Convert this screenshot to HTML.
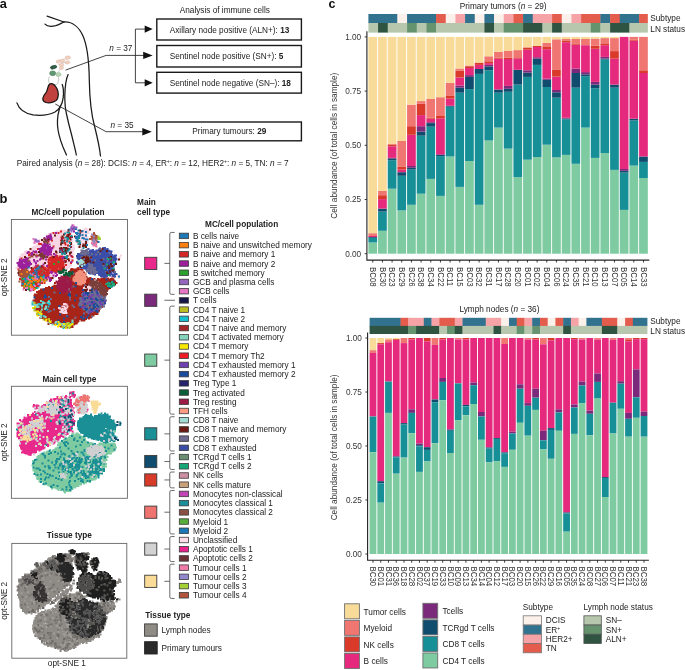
<!DOCTYPE html>
<html><head><meta charset="utf-8"><title>Figure</title>
<style>
html,body{margin:0;padding:0;background:#fff;width:685px;height:670px;overflow:hidden}
svg{display:block}
text{font-family:"Liberation Sans",Arial,Helvetica,sans-serif}
</style></head><body>
<svg width="685" height="670" viewBox="0 0 685 670" fill="#222" style="font-family:'Liberation Sans',Arial,sans-serif">
<text transform="translate(-0.30 7.70) scale(0.9524 1)" font-size="13.44" font-weight="bold" fill="#111">a</text>
<text transform="translate(-0.60 203.00) scale(0.9524 1)" font-size="13.65" font-weight="bold" fill="#111">b</text>
<text transform="translate(328.60 7.60) scale(0.9524 1)" font-size="13.12" font-weight="bold" fill="#111">c</text>
<path d="M47.1,16.1 L64,22" fill="none" stroke="#1a1a1a" stroke-width="1.25" stroke-linecap="round"/>
<path d="M45,24.1 C47,26.5 51,26.7 55.7,25.7 C59,24.8 61.5,23 64,22" fill="none" stroke="#1a1a1a" stroke-width="1.25" stroke-linecap="round"/>
<path d="M64,22 C72,21.5 79,27 83,36 C87,45 89,60 89.3,80 C89.6,98 91.5,115 94.5,126 C97,136 99.5,146 100.5,156" fill="none" stroke="#1a1a1a" stroke-width="1.25" stroke-linecap="round"/>
<path d="M16.9,102.9 C19,109 25,113.5 33,114.9 C41,116 49,115 55,112 C60,109 62.5,103 63.2,97.6 C63.8,92 63.4,87.5 62.2,84.5" fill="none" stroke="#1a1a1a" stroke-width="1.25" stroke-linecap="round"/>
<path d="M60.5,106 C58,112 57.2,118 57.5,125 C58,134 61,142 63,147 C64.5,150.5 65.5,152.5 66.5,155" fill="none" stroke="#1a1a1a" stroke-width="1.25" stroke-linecap="round"/>
<path d="M68.1,74.6 C66,79 65,88 64.8,96 C64.8,104 65.5,110 66.5,114 C68,121 69.5,127 70.6,131 C72.5,138 74,145 75.5,151 L76.3,155" fill="none" stroke="#1a1a1a" stroke-width="1.25" stroke-linecap="round"/>
<path d="M52,70 L55,66 M58.5,72 L61,68 M61,66 L64,60 M62,63 L67,62 M58,64 L61.4,64.9" stroke="#bbb" stroke-width="0.6" fill="none"/>
<path d="M49.5,76.5 C48.3,78.5 48.2,81.5 49.5,83.5 C51,85 54.5,85.2 56.7,84.4 C58.5,83 59,80 58.5,77.5 C58,76 57.5,75.5 57,75.2" fill="#fff" stroke="#999" stroke-width="0.55"/>
<ellipse cx="67.7" cy="57.7" rx="2.8" ry="1.7" transform="rotate(-10 67.7 57.7)" fill="#f3d3c2" stroke="#d8b3a3" stroke-width="0.5"/>
<ellipse cx="58.6" cy="61.4" rx="2.6" ry="1.5" transform="rotate(-15 58.6 61.4)" fill="#f3d3c2" stroke="#d8b3a3" stroke-width="0.5"/>
<ellipse cx="62.4" cy="60.6" rx="2.5" ry="1.5" transform="rotate(-15 62.4 60.6)" fill="#f3d3c2" stroke="#d8b3a3" stroke-width="0.5"/>
<ellipse cx="67.4" cy="62.5" rx="2.5" ry="1.5" transform="rotate(-10 67.4 62.5)" fill="#f3d3c2" stroke="#d8b3a3" stroke-width="0.5"/>
<ellipse cx="61.4" cy="64.9" rx="2.3" ry="1.6" transform="rotate(-10 61.4 64.9)" fill="#f3d3c2" stroke="#d8b3a3" stroke-width="0.5"/>
<ellipse cx="61.4" cy="67.8" rx="2.1" ry="1.6" transform="rotate(-10 61.4 67.8)" fill="#f3d3c2" stroke="#d8b3a3" stroke-width="0.5"/>
<ellipse cx="53.6" cy="67.2" rx="3.3" ry="1.7" transform="rotate(-15 53.6 67.2)" fill="#2d5e45" stroke="#1d3d2d" stroke-width="0.5"/>
<ellipse cx="52.7" cy="73.3" rx="3.0" ry="2.4" fill="#5f9a72" stroke="#3d6e50" stroke-width="0.5"/>
<ellipse cx="58.4" cy="74.4" rx="2.6" ry="2.0" fill="#b8d6b6" stroke="#8fb08f" stroke-width="0.5"/>
<path d="M51.7,83.7 C53.5,84 55.5,86 57,88.7 C58.3,91.5 58.4,96 57.5,98.8 C56.7,100.6 55.5,101.3 53.5,101.9 C51.5,102.6 48.5,103.2 45.9,102.5 C43.5,101.8 42.6,100.3 42.9,98.2 C43.2,96.3 44.5,94.2 46.2,92.3 C47.2,91 47.5,88.5 48.2,86.5 C48.8,84.8 50.2,83.5 51.7,83.7 Z" fill="#c0413d" stroke="#151515" stroke-width="1.25"/>
<path d="M65.6,70.1 L106.1,55.4 L144,55.4" stroke="#222" stroke-width="0.85" fill="none"/>
<path d="M55.3,104 L106.1,131.7 L143,131.7" stroke="#222" stroke-width="0.85" fill="none"/>
<path d="M145.5,29.1 L135.4,29.1 L135.4,82.8 L145.5,82.8" stroke="#222" stroke-width="0.85" fill="none"/>
<path d="M152.7,29.1 L144.7,25.5 L144.7,32.7 Z" fill="#111"/>
<path d="M152.7,55.4 L143.2,51.8 L143.2,59.0 Z" fill="#111"/>
<path d="M152.7,82.8 L144.7,79.2 L144.7,86.39999999999999 Z" fill="#111"/>
<path d="M151.8,131.7 L142.3,127.89999999999999 L142.3,135.5 Z" fill="#111"/>
<text transform="translate(109.30 50.60) scale(0.9524 1)" font-size="8.66"><tspan font-style="italic">n</tspan> = 37</text>
<text transform="translate(110.50 127.70) scale(0.9524 1)" font-size="8.66"><tspan font-style="italic">n</tspan> = 35</text>
<text transform="translate(224.80 13.40) scale(0.9524 1)" font-size="8.66" text-anchor="middle">Analysis of immune cells</text>
<rect x="156.8" y="19.0" width="144.6" height="21.0" fill="#fff" stroke="#1a1a1a" stroke-width="1.4"/>
<text transform="translate(169.70 32.50) scale(0.9524 1)" font-size="8.66">Axillary node positive (ALN+): <tspan font-weight="bold">13</tspan></text>
<rect x="156.8" y="45.5" width="144.6" height="21.5" fill="#fff" stroke="#1a1a1a" stroke-width="1.4"/>
<text transform="translate(169.70 59.25) scale(0.9524 1)" font-size="8.66">Sentinel node positive (SN+): <tspan font-weight="bold">5</tspan></text>
<rect x="156.8" y="72.3" width="144.6" height="20.8" fill="#fff" stroke="#1a1a1a" stroke-width="1.4"/>
<text transform="translate(169.70 85.70) scale(0.9524 1)" font-size="8.66">Sentinel node negative (SN–): <tspan font-weight="bold">18</tspan></text>
<rect x="156.8" y="122.0" width="144.6" height="18.8" fill="#fff" stroke="#1a1a1a" stroke-width="1.4"/>
<text transform="translate(229.30 134.40) scale(0.9524 1)" font-size="8.66" text-anchor="middle">Primary tumours: <tspan font-weight="bold">29</tspan></text>
<text transform="translate(16.80 165.70) scale(0.9524 1)" font-size="8.66">Paired analysis (<tspan font-style="italic">n</tspan> = 28): DCIS: <tspan font-style="italic">n</tspan> = 4, ER<tspan font-size="5.25" dy="-3">+</tspan><tspan dy="3">: </tspan><tspan font-style="italic">n</tspan> = 12, HER2<tspan font-size="5.25" dy="-3">+</tspan><tspan dy="3">: </tspan><tspan font-style="italic">n</tspan> = 5, TN: <tspan font-style="italic">n</tspan> = 7</text>
<text transform="translate(137.10 205.10) scale(0.9524 1)" font-size="8.66" font-weight="bold">Main</text>
<text transform="translate(137.10 215.30) scale(0.9524 1)" font-size="8.66" font-weight="bold">cell type</text>
<text transform="translate(241.60 226.80) scale(0.9524 1)" font-size="8.66" font-weight="bold" text-anchor="middle">MC/cell population</text>
<rect x="179.3" y="233.15" width="9.2" height="5.50" fill="#1f77b4" stroke="#3a3a3a" stroke-width="0.8"/>
<text transform="translate(192.90 238.85) scale(0.9524 1)" font-size="8.66">B cells naive</text>
<rect x="179.3" y="242.37" width="9.2" height="5.50" fill="#ff7f0e" stroke="#3a3a3a" stroke-width="0.8"/>
<text transform="translate(192.90 248.06) scale(0.9524 1)" font-size="8.66">B naive and unswitched memory</text>
<rect x="179.3" y="251.58" width="9.2" height="5.50" fill="#d62728" stroke="#3a3a3a" stroke-width="0.8"/>
<text transform="translate(192.90 257.28) scale(0.9524 1)" font-size="8.66">B naive and memory 1</text>
<rect x="179.3" y="260.79" width="9.2" height="5.50" fill="#9c1f9c" stroke="#3a3a3a" stroke-width="0.8"/>
<text transform="translate(192.90 266.50) scale(0.9524 1)" font-size="8.66">B naive and memory 2</text>
<rect x="179.3" y="270.01" width="9.2" height="5.50" fill="#2ca02c" stroke="#3a3a3a" stroke-width="0.8"/>
<text transform="translate(192.90 275.71) scale(0.9524 1)" font-size="8.66">B switched memory</text>
<rect x="179.3" y="279.22" width="9.2" height="5.50" fill="#9467bd" stroke="#3a3a3a" stroke-width="0.8"/>
<text transform="translate(192.90 284.93) scale(0.9524 1)" font-size="8.66">GCB and plasma cells</text>
<rect x="179.3" y="288.44" width="9.2" height="5.50" fill="#e377c2" stroke="#3a3a3a" stroke-width="0.8"/>
<text transform="translate(192.90 294.14) scale(0.9524 1)" font-size="8.66">GCB cells</text>
<rect x="179.3" y="297.65" width="9.2" height="5.50" fill="#161646" stroke="#3a3a3a" stroke-width="0.8"/>
<text transform="translate(192.90 303.36) scale(0.9524 1)" font-size="8.66">T cells</text>
<rect x="179.3" y="306.87" width="9.2" height="5.50" fill="#bcbd22" stroke="#3a3a3a" stroke-width="0.8"/>
<text transform="translate(192.90 312.57) scale(0.9524 1)" font-size="8.66">CD4 T naive 1</text>
<rect x="179.3" y="316.08" width="9.2" height="5.50" fill="#17becf" stroke="#3a3a3a" stroke-width="0.8"/>
<text transform="translate(192.90 321.79) scale(0.9524 1)" font-size="8.66">CD4 T naive 2</text>
<rect x="179.3" y="325.30" width="9.2" height="5.50" fill="#a3262a" stroke="#3a3a3a" stroke-width="0.8"/>
<text transform="translate(192.90 331.00) scale(0.9524 1)" font-size="8.66">CD4 T naive and memory</text>
<rect x="179.3" y="334.51" width="9.2" height="5.50" fill="#86d3bd" stroke="#3a3a3a" stroke-width="0.8"/>
<text transform="translate(192.90 340.22) scale(0.9524 1)" font-size="8.66">CD4 T activated memory</text>
<rect x="179.3" y="343.73" width="9.2" height="5.50" fill="#f8e800" stroke="#3a3a3a" stroke-width="0.8"/>
<text transform="translate(192.90 349.43) scale(0.9524 1)" font-size="8.66">CD4 T memory</text>
<rect x="179.3" y="352.94" width="9.2" height="5.50" fill="#ee1d23" stroke="#3a3a3a" stroke-width="0.8"/>
<text transform="translate(192.90 358.65) scale(0.9524 1)" font-size="8.66">CD4 T memory Th2</text>
<rect x="179.3" y="362.16" width="9.2" height="5.50" fill="#6d3fb0" stroke="#3a3a3a" stroke-width="0.8"/>
<text transform="translate(192.90 367.86) scale(0.9524 1)" font-size="8.66">CD4 T exhausted memory 1</text>
<rect x="179.3" y="371.38" width="9.2" height="5.50" fill="#1b4c9c" stroke="#3a3a3a" stroke-width="0.8"/>
<text transform="translate(192.90 377.08) scale(0.9524 1)" font-size="8.66">CD4 T exhausted memory 2</text>
<rect x="179.3" y="380.59" width="9.2" height="5.50" fill="#25236b" stroke="#3a3a3a" stroke-width="0.8"/>
<text transform="translate(192.90 386.29) scale(0.9524 1)" font-size="8.66">Treg Type 1</text>
<rect x="179.3" y="389.80" width="9.2" height="5.50" fill="#0b5e3a" stroke="#3a3a3a" stroke-width="0.8"/>
<text transform="translate(192.90 395.50) scale(0.9524 1)" font-size="8.66">Treg activated</text>
<rect x="179.3" y="399.02" width="9.2" height="5.50" fill="#9c1a48" stroke="#3a3a3a" stroke-width="0.8"/>
<text transform="translate(192.90 404.72) scale(0.9524 1)" font-size="8.66">Treg resting</text>
<rect x="179.3" y="408.24" width="9.2" height="5.50" fill="#fb9a82" stroke="#3a3a3a" stroke-width="0.8"/>
<text transform="translate(192.90 413.94) scale(0.9524 1)" font-size="8.66">TFH cells</text>
<rect x="179.3" y="417.45" width="9.2" height="5.50" fill="#a2dcd2" stroke="#3a3a3a" stroke-width="0.8"/>
<text transform="translate(192.90 423.15) scale(0.9524 1)" font-size="8.66">CD8 T naive</text>
<rect x="179.3" y="426.66" width="9.2" height="5.50" fill="#6b1a12" stroke="#3a3a3a" stroke-width="0.8"/>
<text transform="translate(192.90 432.37) scale(0.9524 1)" font-size="8.66">CD8 T naive and memory</text>
<rect x="179.3" y="435.88" width="9.2" height="5.50" fill="#6d6b8f" stroke="#3a3a3a" stroke-width="0.8"/>
<text transform="translate(192.90 441.58) scale(0.9524 1)" font-size="8.66">CD8 T memory</text>
<rect x="179.3" y="445.09" width="9.2" height="5.50" fill="#3a4ea8" stroke="#3a3a3a" stroke-width="0.8"/>
<text transform="translate(192.90 450.80) scale(0.9524 1)" font-size="8.66">CD8 T exhausted</text>
<rect x="179.3" y="454.31" width="9.2" height="5.50" fill="#6b8e70" stroke="#3a3a3a" stroke-width="0.8"/>
<text transform="translate(192.90 460.01) scale(0.9524 1)" font-size="8.66">TCRgd T cells 1</text>
<rect x="179.3" y="463.52" width="9.2" height="5.50" fill="#16a779" stroke="#3a3a3a" stroke-width="0.8"/>
<text transform="translate(192.90 469.23) scale(0.9524 1)" font-size="8.66">TCRgd T cells 2</text>
<rect x="179.3" y="472.74" width="9.2" height="5.50" fill="#cc8ea2" stroke="#3a3a3a" stroke-width="0.8"/>
<text transform="translate(192.90 478.44) scale(0.9524 1)" font-size="8.66">NK cells</text>
<rect x="179.3" y="481.95" width="9.2" height="5.50" fill="#c9a07a" stroke="#3a3a3a" stroke-width="0.8"/>
<text transform="translate(192.90 487.66) scale(0.9524 1)" font-size="8.66">NK cells mature</text>
<rect x="179.3" y="491.17" width="9.2" height="5.50" fill="#c145b4" stroke="#3a3a3a" stroke-width="0.8"/>
<text transform="translate(192.90 496.87) scale(0.9524 1)" font-size="8.66">Monocytes non-classical</text>
<rect x="179.3" y="500.38" width="9.2" height="5.50" fill="#1a8f9a" stroke="#3a3a3a" stroke-width="0.8"/>
<text transform="translate(192.90 506.09) scale(0.9524 1)" font-size="8.66">Monocytes classical 1</text>
<rect x="179.3" y="509.60" width="9.2" height="5.50" fill="#8b5045" stroke="#3a3a3a" stroke-width="0.8"/>
<text transform="translate(192.90 515.30) scale(0.9524 1)" font-size="8.66">Monocytes classical 2</text>
<rect x="179.3" y="518.81" width="9.2" height="5.50" fill="#58ac3c" stroke="#3a3a3a" stroke-width="0.8"/>
<text transform="translate(192.90 524.51) scale(0.9524 1)" font-size="8.66">Myeloid 1</text>
<rect x="179.3" y="528.03" width="9.2" height="5.50" fill="#1a78b6" stroke="#3a3a3a" stroke-width="0.8"/>
<text transform="translate(192.90 533.73) scale(0.9524 1)" font-size="8.66">Myeloid 2</text>
<rect x="179.3" y="537.25" width="9.2" height="5.50" fill="#fcdde8" stroke="#3a3a3a" stroke-width="0.8"/>
<text transform="translate(192.90 542.95) scale(0.9524 1)" font-size="8.66">Unclassified</text>
<rect x="179.3" y="546.46" width="9.2" height="5.50" fill="#e8228a" stroke="#3a3a3a" stroke-width="0.8"/>
<text transform="translate(192.90 552.16) scale(0.9524 1)" font-size="8.66">Apoptotic cells 1</text>
<rect x="179.3" y="555.67" width="9.2" height="5.50" fill="#6b3233" stroke="#3a3a3a" stroke-width="0.8"/>
<text transform="translate(192.90 561.38) scale(0.9524 1)" font-size="8.66">Apoptotic cells 2</text>
<rect x="179.3" y="564.89" width="9.2" height="5.50" fill="#f17ba8" stroke="#3a3a3a" stroke-width="0.8"/>
<text transform="translate(192.90 570.59) scale(0.9524 1)" font-size="8.66">Tumour cells 1</text>
<rect x="179.3" y="574.10" width="9.2" height="5.50" fill="#9189cc" stroke="#3a3a3a" stroke-width="0.8"/>
<text transform="translate(192.90 579.80) scale(0.9524 1)" font-size="8.66">Tumour cells 2</text>
<rect x="179.3" y="583.32" width="9.2" height="5.50" fill="#a3d035" stroke="#3a3a3a" stroke-width="0.8"/>
<text transform="translate(192.90 589.02) scale(0.9524 1)" font-size="8.66">Tumour cells 3</text>
<rect x="179.3" y="592.53" width="9.2" height="5.50" fill="#b0553c" stroke="#3a3a3a" stroke-width="0.8"/>
<text transform="translate(192.90 598.24) scale(0.9524 1)" font-size="8.66">Tumour cells 4</text>
<rect x="144.7" y="257.29" width="12.1" height="12.2" fill="#e8288a" stroke="#3a3a3a" stroke-width="0.9"/>
<path d="M174.6,232.45 H171.3 Q169.8,232.45 169.8,233.95 V292.84 Q169.8,294.34 171.3,294.34 H174.6 M164.4,263.39 H169.8" stroke="#444" stroke-width="0.8" fill="none"/>
<rect x="144.7" y="294.15" width="12.1" height="12.2" fill="#7b2a7b" stroke="#3a3a3a" stroke-width="0.9"/>
<path d="M164.4,300.25 H175" stroke="#444" stroke-width="0.8" fill="none"/>
<rect x="144.7" y="354.05" width="12.1" height="12.2" fill="#7ecba1" stroke="#3a3a3a" stroke-width="0.9"/>
<path d="M174.6,306.17 H171.3 Q169.8,306.17 169.8,307.67 V412.64 Q169.8,414.14 171.3,414.14 H174.6 M164.4,360.15 H169.8" stroke="#444" stroke-width="0.8" fill="none"/>
<rect x="144.7" y="427.77" width="12.1" height="12.2" fill="#1a8f96" stroke="#3a3a3a" stroke-width="0.9"/>
<path d="M174.6,416.75 H171.3 Q169.8,416.75 169.8,418.25 V449.50 Q169.8,451.00 171.3,451.00 H174.6 M164.4,433.87 H169.8" stroke="#444" stroke-width="0.8" fill="none"/>
<rect x="144.7" y="455.42" width="12.1" height="12.2" fill="#0f4c6e" stroke="#3a3a3a" stroke-width="0.9"/>
<path d="M174.6,453.61 H171.3 Q169.8,453.61 169.8,455.11 V467.93 Q169.8,469.43 171.3,469.43 H174.6 M164.4,461.52 H169.8" stroke="#444" stroke-width="0.8" fill="none"/>
<rect x="144.7" y="473.85" width="12.1" height="12.2" fill="#d93b2a" stroke="#3a3a3a" stroke-width="0.9"/>
<path d="M174.6,472.04 H171.3 Q169.8,472.04 169.8,473.54 V486.36 Q169.8,487.86 171.3,487.86 H174.6 M164.4,479.95 H169.8" stroke="#444" stroke-width="0.8" fill="none"/>
<rect x="144.7" y="506.10" width="12.1" height="12.2" fill="#ef7470" stroke="#3a3a3a" stroke-width="0.9"/>
<path d="M174.6,490.47 H171.3 Q169.8,490.47 169.8,491.97 V532.43 Q169.8,533.93 171.3,533.93 H174.6 M164.4,512.20 H169.8" stroke="#444" stroke-width="0.8" fill="none"/>
<rect x="144.7" y="542.96" width="12.1" height="12.2" fill="#d2d2d2" stroke="#3a3a3a" stroke-width="0.9"/>
<path d="M174.6,536.55 H171.3 Q169.8,536.55 169.8,538.05 V560.07 Q169.8,561.57 171.3,561.57 H174.6 M164.4,549.06 H169.8" stroke="#444" stroke-width="0.8" fill="none"/>
<rect x="144.7" y="575.21" width="12.1" height="12.2" fill="#fadc98" stroke="#3a3a3a" stroke-width="0.9"/>
<path d="M174.6,564.19 H171.3 Q169.8,564.19 169.8,565.69 V596.93 Q169.8,598.43 171.3,598.43 H174.6 M164.4,581.31 H169.8" stroke="#444" stroke-width="0.8" fill="none"/>
<text transform="translate(145.20 617.80) scale(0.9524 1)" font-size="8.66" font-weight="bold">Tissue type</text>
<rect x="144.6" y="623.9" width="12.6" height="12.3" fill="#8f8b85" stroke="#3a3a3a" stroke-width="0.9"/>
<rect x="144.6" y="641.7" width="12.6" height="12.3" fill="#2a2a2a" stroke="#222" stroke-width="0.9"/>
<text transform="translate(161.60 632.80) scale(0.9524 1)" font-size="8.66">Lymph nodes</text>
<text transform="translate(161.60 650.80) scale(0.9524 1)" font-size="8.66">Primary tumours</text>
<g transform="scale(0.5)"><path fill="#a82418" d="M153 535h4v4h-4zM155 534h4v4h-4zM140 537h4v4h-4zM142 536h4v4h-4zM144 537h4v4h-4zM148 537h4v4h-4zM150 537h4v4h-4zM153 536h4v4h-4zM156 537h4v4h-4zM157 537h4v4h-4zM160 537h4v4h-4zM163 537h4v4h-4zM141 540h4v4h-4zM143 540h4v4h-4zM145 538h4v4h-4zM147 540h4v4h-4zM151 538h4v4h-4zM153 539h4v4h-4zM155 539h4v4h-4zM161 539h4v4h-4zM163 540h4v4h-4zM138 541h4v4h-4zM141 542h4v4h-4zM146 542h4v4h-4zM148 541h4v4h-4zM150 541h4v4h-4zM152 541h4v4h-4zM144 545h4v4h-4zM148 544h4v4h-4zM166 543h4v4h-4zM146 547h4v4h-4zM147 546h4v4h-4zM169 547h4v4h-4zM130 550h4v4h-4zM139 550h4v4h-4zM143 550h4v4h-4zM144 549h4v4h-4zM148 550h4v4h-4zM122 552h4v4h-4zM125 552h4v4h-4zM128 552h4v4h-4zM133 552h4v4h-4zM140 551h4v4h-4zM143 552h4v4h-4zM145 552h4v4h-4zM171 552h4v4h-4zM226 551h4v4h-4zM135 554h4v4h-4zM138 555h4v4h-4zM141 554h4v4h-4zM142 554h4v4h-4zM148 555h4v4h-4zM168 555h4v4h-4zM175 555h4v4h-4zM179 554h4v4h-4zM201 555h4v4h-4zM206 554h4v4h-4zM207 554h4v4h-4zM210 555h4v4h-4zM212 555h4v4h-4zM214 555h4v4h-4zM222 555h4v4h-4zM133 557h4v4h-4zM138 556h4v4h-4zM140 556h4v4h-4zM143 557h4v4h-4zM145 557h4v4h-4zM171 556h4v4h-4zM172 556h4v4h-4zM176 557h4v4h-4zM177 556h4v4h-4zM180 556h4v4h-4zM185 557h4v4h-4zM187 556h4v4h-4zM194 556h4v4h-4zM198 557h4v4h-4zM203 557h4v4h-4zM205 556h4v4h-4zM208 557h4v4h-4zM215 556h4v4h-4zM220 556h4v4h-4zM223 556h4v4h-4zM225 557h4v4h-4zM133 560h4v4h-4zM138 560h4v4h-4zM140 559h4v4h-4zM143 559h4v4h-4zM147 558h4v4h-4zM171 559h4v4h-4zM172 558h4v4h-4zM175 559h4v4h-4zM178 558h4v4h-4zM183 559h4v4h-4zM196 560h4v4h-4zM197 559h4v4h-4zM201 559h4v4h-4zM203 559h4v4h-4zM205 558h4v4h-4zM208 559h4v4h-4zM210 559h4v4h-4zM212 558h4v4h-4zM216 558h4v4h-4zM217 559h4v4h-4zM220 559h4v4h-4zM224 559h4v4h-4zM226 560h4v4h-4zM120 561h4v4h-4zM143 562h4v4h-4zM146 561h4v4h-4zM171 561h4v4h-4zM173 562h4v4h-4zM176 562h4v4h-4zM177 561h4v4h-4zM195 562h4v4h-4zM197 561h4v4h-4zM201 562h4v4h-4zM203 562h4v4h-4zM205 561h4v4h-4zM207 562h4v4h-4zM211 562h4v4h-4zM213 561h4v4h-4zM228 561h4v4h-4zM108 564h4v4h-4zM113 564h4v4h-4zM118 563h4v4h-4zM142 565h4v4h-4zM146 565h4v4h-4zM149 563h4v4h-4zM167 564h4v4h-4zM170 565h4v4h-4zM172 564h4v4h-4zM175 564h4v4h-4zM201 564h4v4h-4zM202 565h4v4h-4zM206 564h4v4h-4zM208 564h4v4h-4zM210 564h4v4h-4zM228 564h4v4h-4zM231 564h4v4h-4zM140 567h4v4h-4zM144 567h4v4h-4zM146 566h4v4h-4zM148 567h4v4h-4zM151 567h4v4h-4zM155 567h4v4h-4zM163 567h4v4h-4zM166 567h4v4h-4zM168 567h4v4h-4zM171 567h4v4h-4zM173 567h4v4h-4zM176 567h4v4h-4zM203 566h4v4h-4zM205 567h4v4h-4zM207 566h4v4h-4zM212 566h4v4h-4zM107 569h4v4h-4zM111 570h4v4h-4zM123 568h4v4h-4zM130 568h4v4h-4zM143 568h4v4h-4zM145 570h4v4h-4zM147 570h4v4h-4zM149 569h4v4h-4zM153 568h4v4h-4zM156 569h4v4h-4zM158 570h4v4h-4zM161 569h4v4h-4zM162 569h4v4h-4zM166 568h4v4h-4zM169 569h4v4h-4zM177 568h4v4h-4zM203 569h4v4h-4zM205 569h4v4h-4zM208 569h4v4h-4zM211 570h4v4h-4zM96 572h4v4h-4zM103 572h4v4h-4zM105 571h4v4h-4zM108 571h4v4h-4zM111 572h4v4h-4zM132 572h4v4h-4zM135 571h4v4h-4zM144 572h4v4h-4zM150 571h4v4h-4zM153 571h4v4h-4zM156 571h4v4h-4zM158 572h4v4h-4zM160 572h4v4h-4zM163 572h4v4h-4zM165 572h4v4h-4zM208 571h4v4h-4zM210 571h4v4h-4zM213 572h4v4h-4zM217 572h4v4h-4zM90 574h4v4h-4zM93 574h4v4h-4zM96 574h4v4h-4zM98 574h4v4h-4zM101 575h4v4h-4zM106 574h4v4h-4zM107 573h4v4h-4zM110 575h4v4h-4zM128 573h4v4h-4zM140 575h4v4h-4zM143 574h4v4h-4zM145 573h4v4h-4zM147 574h4v4h-4zM150 575h4v4h-4zM153 574h4v4h-4zM156 573h4v4h-4zM158 573h4v4h-4zM160 574h4v4h-4zM163 575h4v4h-4zM167 574h4v4h-4zM210 574h4v4h-4zM214 574h4v4h-4zM215 575h4v4h-4zM80 577h4v4h-4zM84 577h4v4h-4zM88 576h4v4h-4zM91 577h4v4h-4zM92 576h4v4h-4zM96 576h4v4h-4zM98 576h4v4h-4zM100 577h4v4h-4zM102 576h4v4h-4zM105 577h4v4h-4zM107 577h4v4h-4zM110 576h4v4h-4zM112 576h4v4h-4zM119 577h4v4h-4zM122 576h4v4h-4zM140 577h4v4h-4zM145 576h4v4h-4zM147 577h4v4h-4zM150 577h4v4h-4zM153 577h4v4h-4zM155 576h4v4h-4zM158 577h4v4h-4zM161 577h4v4h-4zM163 577h4v4h-4zM167 576h4v4h-4zM179 576h4v4h-4zM211 577h4v4h-4zM213 577h4v4h-4zM77 580h4v4h-4zM80 579h4v4h-4zM84 579h4v4h-4zM85 580h4v4h-4zM88 580h4v4h-4zM91 579h4v4h-4zM92 580h4v4h-4zM95 578h4v4h-4zM98 580h4v4h-4zM101 580h4v4h-4zM103 579h4v4h-4zM106 580h4v4h-4zM108 579h4v4h-4zM111 580h4v4h-4zM113 579h4v4h-4zM118 579h4v4h-4zM130 579h4v4h-4zM132 580h4v4h-4zM138 579h4v4h-4zM141 578h4v4h-4zM143 579h4v4h-4zM146 580h4v4h-4zM148 579h4v4h-4zM151 579h4v4h-4zM152 579h4v4h-4zM155 580h4v4h-4zM158 580h4v4h-4zM161 578h4v4h-4zM166 579h4v4h-4zM72 582h4v4h-4zM76 581h4v4h-4zM78 581h4v4h-4zM80 582h4v4h-4zM84 582h4v4h-4zM86 582h4v4h-4zM88 582h4v4h-4zM90 582h4v4h-4zM93 581h4v4h-4zM96 582h4v4h-4zM98 582h4v4h-4zM99 582h4v4h-4zM103 581h4v4h-4zM105 582h4v4h-4zM108 581h4v4h-4zM111 581h4v4h-4zM113 582h4v4h-4zM115 581h4v4h-4zM118 582h4v4h-4zM121 581h4v4h-4zM141 581h4v4h-4zM142 581h4v4h-4zM145 582h4v4h-4zM149 581h4v4h-4zM150 582h4v4h-4zM153 581h4v4h-4zM156 581h4v4h-4zM157 581h4v4h-4zM161 581h4v4h-4zM163 581h4v4h-4zM166 581h4v4h-4zM176 582h4v4h-4zM75 584h4v4h-4zM78 584h4v4h-4zM80 583h4v4h-4zM83 584h4v4h-4zM85 584h4v4h-4zM87 585h4v4h-4zM89 585h4v4h-4zM93 584h4v4h-4zM95 584h4v4h-4zM98 584h4v4h-4zM101 584h4v4h-4zM103 583h4v4h-4zM105 583h4v4h-4zM110 584h4v4h-4zM113 584h4v4h-4zM115 583h4v4h-4zM120 584h4v4h-4zM123 584h4v4h-4zM128 584h4v4h-4zM131 584h4v4h-4zM133 585h4v4h-4zM136 585h4v4h-4zM141 585h4v4h-4zM143 584h4v4h-4zM146 585h4v4h-4zM148 585h4v4h-4zM150 585h4v4h-4zM153 584h4v4h-4zM155 584h4v4h-4zM158 585h4v4h-4zM161 583h4v4h-4zM163 583h4v4h-4zM68 587h4v4h-4zM71 587h4v4h-4zM73 587h4v4h-4zM75 587h4v4h-4zM78 586h4v4h-4zM81 586h4v4h-4zM84 586h4v4h-4zM86 586h4v4h-4zM87 586h4v4h-4zM90 587h4v4h-4zM93 587h4v4h-4zM95 586h4v4h-4zM98 587h4v4h-4zM101 586h4v4h-4zM103 587h4v4h-4zM105 587h4v4h-4zM108 586h4v4h-4zM110 586h4v4h-4zM113 586h4v4h-4zM116 587h4v4h-4zM119 586h4v4h-4zM121 586h4v4h-4zM123 586h4v4h-4zM126 586h4v4h-4zM127 586h4v4h-4zM131 586h4v4h-4zM133 586h4v4h-4zM135 586h4v4h-4zM138 586h4v4h-4zM141 586h4v4h-4zM142 586h4v4h-4zM145 587h4v4h-4zM148 586h4v4h-4zM151 586h4v4h-4zM153 587h4v4h-4zM155 587h4v4h-4zM158 587h4v4h-4zM160 586h4v4h-4zM176 587h4v4h-4zM67 589h4v4h-4zM71 589h4v4h-4zM73 588h4v4h-4zM74 590h4v4h-4zM78 588h4v4h-4zM81 590h4v4h-4zM83 589h4v4h-4zM85 589h4v4h-4zM91 589h4v4h-4zM93 590h4v4h-4zM95 588h4v4h-4zM98 588h4v4h-4zM100 589h4v4h-4zM102 589h4v4h-4zM105 589h4v4h-4zM108 589h4v4h-4zM110 589h4v4h-4zM112 588h4v4h-4zM115 588h4v4h-4zM118 589h4v4h-4zM120 588h4v4h-4zM123 588h4v4h-4zM126 590h4v4h-4zM127 588h4v4h-4zM130 588h4v4h-4zM133 590h4v4h-4zM139 590h4v4h-4zM143 590h4v4h-4zM145 589h4v4h-4zM147 588h4v4h-4zM152 588h4v4h-4zM155 588h4v4h-4zM157 589h4v4h-4zM160 588h4v4h-4zM167 589h4v4h-4zM177 589h4v4h-4zM187 590h4v4h-4zM209 589h4v4h-4zM68 592h4v4h-4zM71 592h4v4h-4zM72 592h4v4h-4zM75 592h4v4h-4zM78 592h4v4h-4zM80 592h4v4h-4zM82 591h4v4h-4zM85 592h4v4h-4zM88 591h4v4h-4zM93 592h4v4h-4zM98 591h4v4h-4zM99 591h4v4h-4zM102 591h4v4h-4zM105 591h4v4h-4zM108 591h4v4h-4zM110 592h4v4h-4zM114 591h4v4h-4zM115 591h4v4h-4zM118 592h4v4h-4zM120 592h4v4h-4zM123 592h4v4h-4zM126 591h4v4h-4zM128 592h4v4h-4zM130 591h4v4h-4zM133 592h4v4h-4zM135 591h4v4h-4zM141 591h4v4h-4zM143 592h4v4h-4zM145 591h4v4h-4zM148 591h4v4h-4zM150 591h4v4h-4zM153 591h4v4h-4zM155 592h4v4h-4zM157 592h4v4h-4zM159 591h4v4h-4zM162 592h4v4h-4zM175 592h4v4h-4zM183 592h4v4h-4zM188 592h4v4h-4zM70 593h4v4h-4zM73 594h4v4h-4zM76 594h4v4h-4zM77 595h4v4h-4zM80 594h4v4h-4zM83 593h4v4h-4zM85 594h4v4h-4zM91 595h4v4h-4zM93 595h4v4h-4zM95 594h4v4h-4zM97 593h4v4h-4zM100 594h4v4h-4zM102 593h4v4h-4zM106 594h4v4h-4zM108 594h4v4h-4zM111 594h4v4h-4zM114 593h4v4h-4zM115 594h4v4h-4zM117 595h4v4h-4zM119 593h4v4h-4zM123 594h4v4h-4zM126 594h4v4h-4zM128 594h4v4h-4zM130 594h4v4h-4zM133 594h4v4h-4zM136 594h4v4h-4zM138 594h4v4h-4zM140 594h4v4h-4zM142 593h4v4h-4zM145 595h4v4h-4zM147 593h4v4h-4zM150 594h4v4h-4zM152 595h4v4h-4zM155 594h4v4h-4zM178 594h4v4h-4zM205 593h4v4h-4zM69 596h4v4h-4zM70 597h4v4h-4zM73 596h4v4h-4zM76 596h4v4h-4zM78 597h4v4h-4zM80 596h4v4h-4zM83 596h4v4h-4zM85 597h4v4h-4zM87 597h4v4h-4zM90 596h4v4h-4zM92 597h4v4h-4zM96 596h4v4h-4zM98 596h4v4h-4zM102 597h4v4h-4zM105 596h4v4h-4zM107 596h4v4h-4zM110 596h4v4h-4zM112 597h4v4h-4zM116 596h4v4h-4zM118 597h4v4h-4zM120 596h4v4h-4zM123 597h4v4h-4zM126 597h4v4h-4zM129 596h4v4h-4zM130 596h4v4h-4zM133 597h4v4h-4zM135 597h4v4h-4zM140 597h4v4h-4zM143 596h4v4h-4zM146 596h4v4h-4zM149 596h4v4h-4zM150 596h4v4h-4zM154 596h4v4h-4zM155 597h4v4h-4zM157 597h4v4h-4zM166 596h4v4h-4zM205 596h4v4h-4zM65 599h4v4h-4zM68 600h4v4h-4zM71 599h4v4h-4zM72 599h4v4h-4zM76 599h4v4h-4zM78 599h4v4h-4zM83 599h4v4h-4zM86 599h4v4h-4zM87 598h4v4h-4zM89 600h4v4h-4zM93 600h4v4h-4zM97 598h4v4h-4zM100 600h4v4h-4zM102 600h4v4h-4zM106 599h4v4h-4zM107 598h4v4h-4zM109 599h4v4h-4zM112 599h4v4h-4zM114 598h4v4h-4zM118 599h4v4h-4zM120 599h4v4h-4zM122 598h4v4h-4zM126 599h4v4h-4zM127 599h4v4h-4zM130 599h4v4h-4zM133 598h4v4h-4zM136 600h4v4h-4zM137 600h4v4h-4zM141 599h4v4h-4zM142 598h4v4h-4zM146 599h4v4h-4zM151 598h4v4h-4zM153 599h4v4h-4zM155 598h4v4h-4zM185 599h4v4h-4zM190 599h4v4h-4zM202 599h4v4h-4zM65 601h4v4h-4zM67 601h4v4h-4zM70 601h4v4h-4zM73 601h4v4h-4zM76 601h4v4h-4zM78 601h4v4h-4zM80 602h4v4h-4zM86 602h4v4h-4zM88 602h4v4h-4zM90 601h4v4h-4zM92 601h4v4h-4zM98 601h4v4h-4zM101 601h4v4h-4zM104 601h4v4h-4zM106 601h4v4h-4zM108 601h4v4h-4zM111 602h4v4h-4zM112 601h4v4h-4zM115 601h4v4h-4zM118 602h4v4h-4zM120 602h4v4h-4zM122 601h4v4h-4zM125 601h4v4h-4zM128 602h4v4h-4zM130 601h4v4h-4zM133 601h4v4h-4zM136 602h4v4h-4zM139 601h4v4h-4zM141 601h4v4h-4zM143 602h4v4h-4zM145 602h4v4h-4zM147 601h4v4h-4zM149 602h4v4h-4zM154 601h4v4h-4zM154 601h4v4h-4zM157 602h4v4h-4zM167 601h4v4h-4zM175 601h4v4h-4zM181 601h4v4h-4zM188 602h4v4h-4zM196 601h4v4h-4zM200 601h4v4h-4zM71 603h4v4h-4zM73 603h4v4h-4zM75 604h4v4h-4zM77 604h4v4h-4zM80 604h4v4h-4zM91 603h4v4h-4zM101 603h4v4h-4zM103 604h4v4h-4zM105 603h4v4h-4zM108 604h4v4h-4zM110 605h4v4h-4zM112 604h4v4h-4zM115 605h4v4h-4zM118 604h4v4h-4zM120 605h4v4h-4zM123 605h4v4h-4zM125 604h4v4h-4zM128 604h4v4h-4zM131 605h4v4h-4zM133 605h4v4h-4zM136 604h4v4h-4zM137 603h4v4h-4zM141 603h4v4h-4zM142 604h4v4h-4zM145 605h4v4h-4zM147 603h4v4h-4zM150 603h4v4h-4zM153 604h4v4h-4zM156 605h4v4h-4zM164 604h4v4h-4zM183 605h4v4h-4zM186 604h4v4h-4zM206 604h4v4h-4zM67 606h4v4h-4zM71 607h4v4h-4zM86 606h4v4h-4zM88 606h4v4h-4zM91 606h4v4h-4zM93 607h4v4h-4zM96 607h4v4h-4zM101 606h4v4h-4zM102 607h4v4h-4zM105 607h4v4h-4zM107 606h4v4h-4zM109 607h4v4h-4zM113 606h4v4h-4zM116 606h4v4h-4zM119 607h4v4h-4zM121 606h4v4h-4zM122 606h4v4h-4zM133 607h4v4h-4zM135 607h4v4h-4zM138 606h4v4h-4zM141 607h4v4h-4zM142 606h4v4h-4zM146 607h4v4h-4zM147 607h4v4h-4zM150 606h4v4h-4zM153 606h4v4h-4zM165 606h4v4h-4zM182 607h4v4h-4zM75 609h4v4h-4zM77 609h4v4h-4zM80 609h4v4h-4zM85 608h4v4h-4zM87 609h4v4h-4zM91 608h4v4h-4zM92 609h4v4h-4zM96 609h4v4h-4zM98 609h4v4h-4zM100 609h4v4h-4zM103 609h4v4h-4zM106 610h4v4h-4zM108 610h4v4h-4zM110 610h4v4h-4zM114 610h4v4h-4zM116 610h4v4h-4zM121 609h4v4h-4zM123 608h4v4h-4zM125 610h4v4h-4zM127 608h4v4h-4zM130 609h4v4h-4zM133 609h4v4h-4zM136 608h4v4h-4zM137 610h4v4h-4zM141 609h4v4h-4zM146 609h4v4h-4zM147 609h4v4h-4zM150 608h4v4h-4zM153 609h4v4h-4zM156 609h4v4h-4zM162 608h4v4h-4zM165 610h4v4h-4zM170 609h4v4h-4zM173 610h4v4h-4zM190 609h4v4h-4zM72 612h4v4h-4zM78 611h4v4h-4zM81 612h4v4h-4zM85 612h4v4h-4zM88 612h4v4h-4zM93 612h4v4h-4zM98 612h4v4h-4zM100 611h4v4h-4zM103 611h4v4h-4zM105 611h4v4h-4zM108 612h4v4h-4zM111 612h4v4h-4zM114 611h4v4h-4zM114 611h4v4h-4zM117 611h4v4h-4zM120 611h4v4h-4zM126 611h4v4h-4zM130 612h4v4h-4zM136 611h4v4h-4zM138 612h4v4h-4zM141 612h4v4h-4zM143 611h4v4h-4zM148 612h4v4h-4zM151 611h4v4h-4zM153 612h4v4h-4zM155 611h4v4h-4zM161 611h4v4h-4zM178 611h4v4h-4zM180 611h4v4h-4zM202 612h4v4h-4zM70 615h4v4h-4zM74 614h4v4h-4zM75 615h4v4h-4zM78 614h4v4h-4zM80 614h4v4h-4zM83 614h4v4h-4zM85 615h4v4h-4zM93 614h4v4h-4zM95 613h4v4h-4zM97 613h4v4h-4zM100 615h4v4h-4zM104 614h4v4h-4zM105 614h4v4h-4zM107 613h4v4h-4zM110 613h4v4h-4zM112 613h4v4h-4zM121 614h4v4h-4zM122 614h4v4h-4zM126 614h4v4h-4zM133 615h4v4h-4zM134 615h4v4h-4zM138 615h4v4h-4zM140 614h4v4h-4zM143 614h4v4h-4zM146 614h4v4h-4zM147 614h4v4h-4zM151 614h4v4h-4zM152 614h4v4h-4zM156 614h4v4h-4zM158 613h4v4h-4zM160 614h4v4h-4zM174 615h4v4h-4zM178 614h4v4h-4zM183 614h4v4h-4zM188 613h4v4h-4zM191 614h4v4h-4zM71 617h4v4h-4zM72 617h4v4h-4zM76 617h4v4h-4zM78 617h4v4h-4zM80 617h4v4h-4zM85 617h4v4h-4zM90 617h4v4h-4zM94 616h4v4h-4zM97 616h4v4h-4zM100 616h4v4h-4zM103 617h4v4h-4zM108 617h4v4h-4zM110 616h4v4h-4zM112 616h4v4h-4zM116 617h4v4h-4zM118 616h4v4h-4zM130 617h4v4h-4zM133 617h4v4h-4zM135 617h4v4h-4zM137 616h4v4h-4zM140 617h4v4h-4zM142 616h4v4h-4zM145 616h4v4h-4zM147 617h4v4h-4zM151 616h4v4h-4zM153 616h4v4h-4zM155 617h4v4h-4zM158 617h4v4h-4zM161 616h4v4h-4zM163 616h4v4h-4zM171 616h4v4h-4zM181 617h4v4h-4zM186 617h4v4h-4zM191 616h4v4h-4zM197 616h4v4h-4zM70 618h4v4h-4zM73 619h4v4h-4zM75 618h4v4h-4zM78 619h4v4h-4zM82 620h4v4h-4zM86 619h4v4h-4zM87 619h4v4h-4zM94 619h4v4h-4zM96 618h4v4h-4zM100 619h4v4h-4zM103 618h4v4h-4zM105 619h4v4h-4zM107 618h4v4h-4zM110 620h4v4h-4zM112 620h4v4h-4zM115 618h4v4h-4zM118 618h4v4h-4zM123 619h4v4h-4zM127 618h4v4h-4zM133 619h4v4h-4zM134 619h4v4h-4zM137 618h4v4h-4zM141 619h4v4h-4zM143 619h4v4h-4zM145 620h4v4h-4zM147 619h4v4h-4zM150 619h4v4h-4zM153 619h4v4h-4zM156 620h4v4h-4zM157 620h4v4h-4zM160 619h4v4h-4zM163 619h4v4h-4zM166 619h4v4h-4zM169 619h4v4h-4zM196 619h4v4h-4zM76 621h4v4h-4zM83 622h4v4h-4zM85 622h4v4h-4zM88 622h4v4h-4zM91 621h4v4h-4zM92 622h4v4h-4zM98 621h4v4h-4zM100 622h4v4h-4zM103 621h4v4h-4zM105 621h4v4h-4zM109 621h4v4h-4zM110 621h4v4h-4zM113 622h4v4h-4zM115 622h4v4h-4zM120 622h4v4h-4zM122 622h4v4h-4zM126 622h4v4h-4zM133 621h4v4h-4zM135 622h4v4h-4zM138 621h4v4h-4zM140 621h4v4h-4zM143 622h4v4h-4zM145 622h4v4h-4zM148 622h4v4h-4zM151 622h4v4h-4zM153 621h4v4h-4zM155 621h4v4h-4zM159 621h4v4h-4zM160 621h4v4h-4zM164 621h4v4h-4zM165 622h4v4h-4zM168 622h4v4h-4zM172 621h4v4h-4zM175 621h4v4h-4zM177 622h4v4h-4zM186 622h4v4h-4zM188 621h4v4h-4zM191 621h4v4h-4zM195 621h4v4h-4zM73 625h4v4h-4zM74 625h4v4h-4zM81 624h4v4h-4zM83 625h4v4h-4zM85 624h4v4h-4zM87 624h4v4h-4zM90 624h4v4h-4zM92 624h4v4h-4zM96 624h4v4h-4zM97 623h4v4h-4zM101 624h4v4h-4zM104 625h4v4h-4zM105 625h4v4h-4zM108 623h4v4h-4zM110 623h4v4h-4zM113 624h4v4h-4zM116 624h4v4h-4zM118 624h4v4h-4zM121 624h4v4h-4zM132 625h4v4h-4zM135 624h4v4h-4zM137 624h4v4h-4zM140 624h4v4h-4zM143 624h4v4h-4zM146 624h4v4h-4zM148 623h4v4h-4zM151 624h4v4h-4zM153 625h4v4h-4zM155 624h4v4h-4zM158 624h4v4h-4zM160 623h4v4h-4zM163 623h4v4h-4zM168 623h4v4h-4zM171 624h4v4h-4zM172 624h4v4h-4zM180 624h4v4h-4zM183 625h4v4h-4zM185 624h4v4h-4zM187 624h4v4h-4zM190 623h4v4h-4zM82 626h4v4h-4zM86 626h4v4h-4zM89 627h4v4h-4zM90 627h4v4h-4zM93 627h4v4h-4zM96 627h4v4h-4zM98 627h4v4h-4zM101 626h4v4h-4zM104 627h4v4h-4zM105 627h4v4h-4zM108 626h4v4h-4zM111 626h4v4h-4zM114 626h4v4h-4zM115 626h4v4h-4zM120 626h4v4h-4zM123 627h4v4h-4zM125 627h4v4h-4zM128 627h4v4h-4zM130 626h4v4h-4zM133 626h4v4h-4zM135 626h4v4h-4zM137 626h4v4h-4zM140 627h4v4h-4zM143 626h4v4h-4zM146 627h4v4h-4zM149 627h4v4h-4zM150 626h4v4h-4zM153 627h4v4h-4zM154 626h4v4h-4zM157 627h4v4h-4zM161 627h4v4h-4zM163 626h4v4h-4zM165 626h4v4h-4zM168 626h4v4h-4zM170 626h4v4h-4zM174 627h4v4h-4zM176 627h4v4h-4zM179 627h4v4h-4zM181 626h4v4h-4zM182 627h4v4h-4zM185 627h4v4h-4zM188 626h4v4h-4zM190 626h4v4h-4zM193 626h4v4h-4zM75 628h4v4h-4zM83 628h4v4h-4zM88 630h4v4h-4zM90 629h4v4h-4zM92 629h4v4h-4zM95 628h4v4h-4zM98 629h4v4h-4zM101 630h4v4h-4zM103 628h4v4h-4zM105 630h4v4h-4zM107 628h4v4h-4zM111 629h4v4h-4zM114 629h4v4h-4zM115 629h4v4h-4zM117 629h4v4h-4zM119 630h4v4h-4zM122 629h4v4h-4zM125 630h4v4h-4zM127 629h4v4h-4zM131 629h4v4h-4zM136 629h4v4h-4zM138 629h4v4h-4zM140 629h4v4h-4zM142 629h4v4h-4zM145 630h4v4h-4zM148 630h4v4h-4zM151 628h4v4h-4zM153 629h4v4h-4zM155 628h4v4h-4zM157 629h4v4h-4zM161 629h4v4h-4zM164 628h4v4h-4zM167 629h4v4h-4zM170 629h4v4h-4zM174 628h4v4h-4zM178 630h4v4h-4zM180 628h4v4h-4zM183 629h4v4h-4zM185 629h4v4h-4zM81 632h4v4h-4zM82 632h4v4h-4zM86 631h4v4h-4zM93 632h4v4h-4zM96 631h4v4h-4zM98 631h4v4h-4zM100 631h4v4h-4zM102 631h4v4h-4zM104 632h4v4h-4zM108 631h4v4h-4zM109 631h4v4h-4zM113 631h4v4h-4zM115 631h4v4h-4zM117 632h4v4h-4zM119 632h4v4h-4zM123 631h4v4h-4zM125 631h4v4h-4zM129 631h4v4h-4zM131 632h4v4h-4zM135 632h4v4h-4zM137 631h4v4h-4zM141 632h4v4h-4zM143 632h4v4h-4zM145 631h4v4h-4zM148 632h4v4h-4zM149 632h4v4h-4zM153 632h4v4h-4zM156 631h4v4h-4zM158 632h4v4h-4zM162 632h4v4h-4zM166 631h4v4h-4zM169 631h4v4h-4zM169 632h4v4h-4zM172 631h4v4h-4zM175 632h4v4h-4zM178 632h4v4h-4zM79 634h4v4h-4zM83 634h4v4h-4zM86 634h4v4h-4zM88 635h4v4h-4zM91 635h4v4h-4zM92 634h4v4h-4zM96 634h4v4h-4zM99 634h4v4h-4zM101 633h4v4h-4zM103 635h4v4h-4zM105 633h4v4h-4zM108 634h4v4h-4zM110 634h4v4h-4zM113 635h4v4h-4zM116 633h4v4h-4zM118 635h4v4h-4zM120 634h4v4h-4zM124 634h4v4h-4zM127 635h4v4h-4zM131 634h4v4h-4zM132 634h4v4h-4zM136 633h4v4h-4zM138 635h4v4h-4zM139 633h4v4h-4zM143 634h4v4h-4zM145 633h4v4h-4zM151 634h4v4h-4zM153 633h4v4h-4zM155 634h4v4h-4zM157 635h4v4h-4zM160 634h4v4h-4zM167 634h4v4h-4zM171 634h4v4h-4zM176 635h4v4h-4zM180 633h4v4h-4zM88 637h4v4h-4zM92 636h4v4h-4zM97 637h4v4h-4zM101 636h4v4h-4zM102 636h4v4h-4zM105 636h4v4h-4zM108 636h4v4h-4zM111 637h4v4h-4zM112 636h4v4h-4zM115 637h4v4h-4zM118 637h4v4h-4zM120 637h4v4h-4zM123 636h4v4h-4zM126 637h4v4h-4zM128 637h4v4h-4zM131 636h4v4h-4zM134 637h4v4h-4zM135 637h4v4h-4zM138 636h4v4h-4zM140 637h4v4h-4zM142 636h4v4h-4zM145 637h4v4h-4zM147 637h4v4h-4zM149 637h4v4h-4zM153 636h4v4h-4zM155 636h4v4h-4zM158 636h4v4h-4zM162 636h4v4h-4zM165 637h4v4h-4zM168 637h4v4h-4zM170 636h4v4h-4zM93 639h4v4h-4zM96 639h4v4h-4zM99 638h4v4h-4zM104 638h4v4h-4zM106 639h4v4h-4zM108 639h4v4h-4zM111 638h4v4h-4zM114 638h4v4h-4zM117 639h4v4h-4zM120 638h4v4h-4zM122 638h4v4h-4zM126 639h4v4h-4zM127 639h4v4h-4zM130 640h4v4h-4zM132 638h4v4h-4zM136 638h4v4h-4zM137 638h4v4h-4zM140 639h4v4h-4zM145 638h4v4h-4zM148 640h4v4h-4zM151 639h4v4h-4zM153 639h4v4h-4zM155 640h4v4h-4zM161 639h4v4h-4zM162 639h4v4h-4zM166 639h4v4h-4zM95 641h4v4h-4zM102 642h4v4h-4zM106 642h4v4h-4zM107 642h4v4h-4zM118 641h4v4h-4zM121 641h4v4h-4zM122 642h4v4h-4zM128 642h4v4h-4zM130 642h4v4h-4zM133 641h4v4h-4zM136 641h4v4h-4zM139 641h4v4h-4zM140 641h4v4h-4zM145 641h4v4h-4zM147 642h4v4h-4zM150 641h4v4h-4zM153 642h4v4h-4zM100 644h4v4h-4zM103 644h4v4h-4zM105 645h4v4h-4zM108 644h4v4h-4zM112 643h4v4h-4zM116 644h4v4h-4zM120 643h4v4h-4zM124 643h4v4h-4zM125 644h4v4h-4zM128 644h4v4h-4zM130 644h4v4h-4zM139 644h4v4h-4zM140 644h4v4h-4zM146 644h4v4h-4zM148 645h4v4h-4zM151 645h4v4h-4zM152 643h4v4h-4zM95 646h4v4h-4zM108 646h4v4h-4zM110 646h4v4h-4zM121 647h4v4h-4zM146 647h4v4h-4zM147 646h4v4h-4zM116 649h4v4h-4zM121 649h4v4h-4zM125 648h4v4h-4zM142 649h4v4h-4zM120 651h4v4h-4zM128 652h4v4h-4zM140 652h4v4h-4zM143 652h4v4h-4zM132 653h4v4h-4z"/><path fill="#f6d6e4" d="M145 451h4v4h-4zM170 455h4v4h-4zM167 456h4v4h-4zM171 456h4v4h-4zM121 459h4v4h-4zM123 459h4v4h-4zM125 460h4v4h-4zM128 459h4v4h-4zM160 459h4v4h-4zM165 460h4v4h-4zM167 458h4v4h-4zM170 459h4v4h-4zM172 459h4v4h-4zM175 459h4v4h-4zM112 461h4v4h-4zM115 461h4v4h-4zM119 461h4v4h-4zM123 461h4v4h-4zM124 462h4v4h-4zM127 461h4v4h-4zM130 461h4v4h-4zM132 461h4v4h-4zM155 461h4v4h-4zM159 461h4v4h-4zM163 461h4v4h-4zM165 461h4v4h-4zM167 461h4v4h-4zM173 462h4v4h-4zM175 462h4v4h-4zM101 464h4v4h-4zM103 464h4v4h-4zM108 463h4v4h-4zM114 463h4v4h-4zM117 464h4v4h-4zM120 464h4v4h-4zM123 465h4v4h-4zM126 464h4v4h-4zM131 463h4v4h-4zM138 464h4v4h-4zM140 465h4v4h-4zM155 465h4v4h-4zM160 463h4v4h-4zM163 463h4v4h-4zM165 463h4v4h-4zM167 465h4v4h-4zM171 464h4v4h-4zM173 463h4v4h-4zM175 464h4v4h-4zM96 466h4v4h-4zM98 466h4v4h-4zM102 466h4v4h-4zM105 466h4v4h-4zM108 467h4v4h-4zM110 467h4v4h-4zM112 467h4v4h-4zM115 467h4v4h-4zM119 467h4v4h-4zM121 466h4v4h-4zM124 467h4v4h-4zM127 467h4v4h-4zM131 467h4v4h-4zM132 466h4v4h-4zM141 467h4v4h-4zM155 467h4v4h-4zM160 466h4v4h-4zM163 466h4v4h-4zM166 467h4v4h-4zM168 467h4v4h-4zM171 467h4v4h-4zM92 469h4v4h-4zM97 469h4v4h-4zM101 470h4v4h-4zM103 470h4v4h-4zM105 468h4v4h-4zM110 469h4v4h-4zM113 469h4v4h-4zM115 469h4v4h-4zM119 469h4v4h-4zM121 469h4v4h-4zM122 468h4v4h-4zM126 469h4v4h-4zM127 469h4v4h-4zM131 469h4v4h-4zM138 469h4v4h-4zM153 469h4v4h-4zM161 469h4v4h-4zM166 469h4v4h-4zM168 469h4v4h-4zM91 472h4v4h-4zM99 472h4v4h-4zM102 472h4v4h-4zM106 471h4v4h-4zM108 472h4v4h-4zM111 471h4v4h-4zM112 471h4v4h-4zM116 472h4v4h-4zM118 471h4v4h-4zM121 471h4v4h-4zM126 472h4v4h-4zM128 472h4v4h-4zM130 472h4v4h-4zM137 471h4v4h-4zM158 471h4v4h-4zM161 471h4v4h-4zM163 472h4v4h-4zM166 472h4v4h-4zM168 471h4v4h-4zM170 471h4v4h-4zM173 472h4v4h-4zM192 472h4v4h-4zM91 475h4v4h-4zM104 475h4v4h-4zM105 473h4v4h-4zM107 473h4v4h-4zM111 473h4v4h-4zM112 474h4v4h-4zM115 475h4v4h-4zM118 473h4v4h-4zM124 474h4v4h-4zM131 474h4v4h-4zM140 474h4v4h-4zM142 474h4v4h-4zM149 474h4v4h-4zM158 474h4v4h-4zM160 474h4v4h-4zM168 473h4v4h-4zM170 475h4v4h-4zM67 477h4v4h-4zM85 476h4v4h-4zM103 477h4v4h-4zM106 476h4v4h-4zM107 477h4v4h-4zM109 477h4v4h-4zM113 476h4v4h-4zM115 476h4v4h-4zM118 476h4v4h-4zM119 476h4v4h-4zM125 477h4v4h-4zM129 477h4v4h-4zM130 477h4v4h-4zM138 476h4v4h-4zM142 476h4v4h-4zM156 476h4v4h-4zM158 477h4v4h-4zM161 476h4v4h-4zM162 477h4v4h-4zM166 476h4v4h-4zM168 477h4v4h-4zM191 477h4v4h-4zM66 480h4v4h-4zM77 478h4v4h-4zM84 479h4v4h-4zM95 479h4v4h-4zM98 479h4v4h-4zM100 480h4v4h-4zM105 479h4v4h-4zM109 479h4v4h-4zM110 479h4v4h-4zM113 479h4v4h-4zM116 479h4v4h-4zM118 478h4v4h-4zM125 478h4v4h-4zM129 478h4v4h-4zM136 480h4v4h-4zM138 479h4v4h-4zM140 479h4v4h-4zM143 480h4v4h-4zM155 478h4v4h-4zM160 478h4v4h-4zM163 479h4v4h-4zM165 478h4v4h-4zM168 479h4v4h-4zM171 478h4v4h-4zM172 480h4v4h-4zM192 479h4v4h-4zM77 482h4v4h-4zM82 481h4v4h-4zM93 482h4v4h-4zM98 482h4v4h-4zM100 481h4v4h-4zM103 482h4v4h-4zM106 481h4v4h-4zM108 482h4v4h-4zM110 482h4v4h-4zM113 481h4v4h-4zM115 482h4v4h-4zM118 482h4v4h-4zM119 482h4v4h-4zM127 481h4v4h-4zM130 481h4v4h-4zM136 481h4v4h-4zM140 482h4v4h-4zM143 481h4v4h-4zM150 481h4v4h-4zM155 482h4v4h-4zM158 481h4v4h-4zM161 482h4v4h-4zM164 482h4v4h-4zM166 481h4v4h-4zM168 482h4v4h-4zM173 482h4v4h-4zM191 481h4v4h-4zM78 484h4v4h-4zM81 484h4v4h-4zM82 484h4v4h-4zM86 485h4v4h-4zM88 483h4v4h-4zM91 484h4v4h-4zM95 485h4v4h-4zM97 483h4v4h-4zM100 484h4v4h-4zM103 484h4v4h-4zM105 485h4v4h-4zM108 484h4v4h-4zM110 484h4v4h-4zM113 483h4v4h-4zM115 484h4v4h-4zM118 484h4v4h-4zM125 484h4v4h-4zM130 484h4v4h-4zM133 484h4v4h-4zM135 484h4v4h-4zM161 484h4v4h-4zM162 484h4v4h-4zM166 484h4v4h-4zM167 484h4v4h-4zM173 484h4v4h-4zM73 487h4v4h-4zM75 486h4v4h-4zM83 487h4v4h-4zM91 486h4v4h-4zM96 486h4v4h-4zM100 486h4v4h-4zM102 487h4v4h-4zM105 487h4v4h-4zM108 486h4v4h-4zM111 486h4v4h-4zM114 487h4v4h-4zM116 487h4v4h-4zM118 487h4v4h-4zM123 487h4v4h-4zM125 486h4v4h-4zM131 486h4v4h-4zM132 486h4v4h-4zM134 486h4v4h-4zM138 486h4v4h-4zM142 486h4v4h-4zM160 487h4v4h-4zM162 486h4v4h-4zM168 487h4v4h-4zM170 487h4v4h-4zM172 486h4v4h-4zM71 489h4v4h-4zM73 489h4v4h-4zM76 489h4v4h-4zM78 490h4v4h-4zM81 488h4v4h-4zM99 489h4v4h-4zM101 489h4v4h-4zM102 488h4v4h-4zM106 490h4v4h-4zM108 489h4v4h-4zM111 489h4v4h-4zM112 490h4v4h-4zM115 488h4v4h-4zM119 490h4v4h-4zM120 489h4v4h-4zM123 489h4v4h-4zM125 488h4v4h-4zM128 489h4v4h-4zM130 489h4v4h-4zM135 489h4v4h-4zM141 488h4v4h-4zM142 490h4v4h-4zM145 489h4v4h-4zM156 488h4v4h-4zM158 488h4v4h-4zM161 489h4v4h-4zM165 488h4v4h-4zM65 492h4v4h-4zM68 491h4v4h-4zM71 492h4v4h-4zM73 491h4v4h-4zM75 491h4v4h-4zM78 491h4v4h-4zM80 492h4v4h-4zM95 491h4v4h-4zM99 491h4v4h-4zM103 491h4v4h-4zM108 492h4v4h-4zM110 491h4v4h-4zM114 491h4v4h-4zM114 491h4v4h-4zM117 492h4v4h-4zM120 491h4v4h-4zM123 491h4v4h-4zM125 492h4v4h-4zM129 492h4v4h-4zM131 491h4v4h-4zM134 492h4v4h-4zM135 492h4v4h-4zM138 492h4v4h-4zM142 492h4v4h-4zM155 492h4v4h-4zM160 492h4v4h-4zM163 491h4v4h-4zM166 491h4v4h-4zM63 494h4v4h-4zM65 493h4v4h-4zM67 495h4v4h-4zM70 493h4v4h-4zM74 494h4v4h-4zM76 493h4v4h-4zM78 494h4v4h-4zM91 494h4v4h-4zM105 495h4v4h-4zM108 495h4v4h-4zM110 494h4v4h-4zM112 495h4v4h-4zM115 494h4v4h-4zM123 494h4v4h-4zM127 494h4v4h-4zM135 494h4v4h-4zM139 494h4v4h-4zM140 495h4v4h-4zM143 493h4v4h-4zM146 494h4v4h-4zM161 494h4v4h-4zM162 494h4v4h-4zM61 497h4v4h-4zM64 497h4v4h-4zM65 497h4v4h-4zM68 497h4v4h-4zM71 497h4v4h-4zM76 497h4v4h-4zM80 496h4v4h-4zM102 496h4v4h-4zM106 497h4v4h-4zM109 496h4v4h-4zM111 496h4v4h-4zM113 497h4v4h-4zM116 496h4v4h-4zM118 496h4v4h-4zM120 497h4v4h-4zM130 497h4v4h-4zM133 496h4v4h-4zM141 496h4v4h-4zM143 496h4v4h-4zM145 497h4v4h-4zM50 500h4v4h-4zM58 499h4v4h-4zM61 498h4v4h-4zM63 500h4v4h-4zM65 500h4v4h-4zM67 499h4v4h-4zM71 500h4v4h-4zM74 499h4v4h-4zM76 500h4v4h-4zM102 499h4v4h-4zM105 500h4v4h-4zM107 499h4v4h-4zM111 499h4v4h-4zM114 500h4v4h-4zM116 499h4v4h-4zM126 498h4v4h-4zM128 499h4v4h-4zM130 499h4v4h-4zM138 499h4v4h-4zM141 500h4v4h-4zM145 499h4v4h-4zM48 502h4v4h-4zM50 502h4v4h-4zM53 501h4v4h-4zM58 502h4v4h-4zM60 501h4v4h-4zM62 501h4v4h-4zM72 502h4v4h-4zM102 501h4v4h-4zM105 501h4v4h-4zM109 501h4v4h-4zM114 501h4v4h-4zM114 502h4v4h-4zM135 501h4v4h-4zM138 502h4v4h-4zM140 502h4v4h-4zM143 501h4v4h-4zM50 505h4v4h-4zM59 505h4v4h-4zM65 504h4v4h-4zM69 505h4v4h-4zM72 504h4v4h-4zM75 505h4v4h-4zM78 503h4v4h-4zM101 505h4v4h-4zM103 504h4v4h-4zM106 505h4v4h-4zM107 504h4v4h-4zM113 504h4v4h-4zM115 504h4v4h-4zM118 504h4v4h-4zM120 505h4v4h-4zM132 504h4v4h-4zM135 503h4v4h-4zM143 504h4v4h-4zM41 507h4v4h-4zM43 507h4v4h-4zM45 506h4v4h-4zM47 507h4v4h-4zM51 507h4v4h-4zM53 507h4v4h-4zM55 507h4v4h-4zM58 506h4v4h-4zM59 506h4v4h-4zM69 507h4v4h-4zM70 507h4v4h-4zM73 507h4v4h-4zM74 507h4v4h-4zM103 507h4v4h-4zM108 506h4v4h-4zM111 506h4v4h-4zM113 506h4v4h-4zM115 507h4v4h-4zM117 506h4v4h-4zM120 506h4v4h-4zM126 506h4v4h-4zM130 507h4v4h-4zM133 506h4v4h-4zM136 506h4v4h-4zM140 506h4v4h-4zM145 507h4v4h-4zM41 509h4v4h-4zM43 509h4v4h-4zM45 509h4v4h-4zM47 509h4v4h-4zM51 509h4v4h-4zM52 509h4v4h-4zM59 509h4v4h-4zM65 509h4v4h-4zM68 510h4v4h-4zM90 510h4v4h-4zM98 510h4v4h-4zM100 509h4v4h-4zM103 508h4v4h-4zM105 509h4v4h-4zM115 509h4v4h-4zM118 508h4v4h-4zM120 509h4v4h-4zM122 509h4v4h-4zM125 509h4v4h-4zM128 509h4v4h-4zM131 509h4v4h-4zM135 509h4v4h-4zM138 508h4v4h-4zM142 509h4v4h-4zM240 509h4v4h-4zM37 512h4v4h-4zM41 511h4v4h-4zM43 512h4v4h-4zM45 512h4v4h-4zM51 512h4v4h-4zM52 511h4v4h-4zM55 512h4v4h-4zM59 511h4v4h-4zM66 511h4v4h-4zM67 512h4v4h-4zM73 512h4v4h-4zM76 511h4v4h-4zM78 512h4v4h-4zM90 512h4v4h-4zM96 511h4v4h-4zM98 511h4v4h-4zM100 511h4v4h-4zM115 511h4v4h-4zM121 511h4v4h-4zM130 511h4v4h-4zM135 512h4v4h-4zM138 511h4v4h-4zM140 511h4v4h-4zM38 514h4v4h-4zM42 514h4v4h-4zM46 515h4v4h-4zM49 514h4v4h-4zM54 513h4v4h-4zM60 513h4v4h-4zM62 514h4v4h-4zM66 514h4v4h-4zM68 513h4v4h-4zM70 515h4v4h-4zM72 514h4v4h-4zM74 513h4v4h-4zM77 515h4v4h-4zM88 514h4v4h-4zM90 514h4v4h-4zM93 514h4v4h-4zM95 513h4v4h-4zM131 514h4v4h-4zM136 514h4v4h-4zM137 514h4v4h-4zM141 514h4v4h-4zM143 514h4v4h-4zM237 513h4v4h-4zM35 517h4v4h-4zM41 517h4v4h-4zM42 517h4v4h-4zM55 517h4v4h-4zM59 517h4v4h-4zM60 516h4v4h-4zM63 516h4v4h-4zM65 516h4v4h-4zM68 516h4v4h-4zM71 517h4v4h-4zM73 516h4v4h-4zM75 516h4v4h-4zM80 517h4v4h-4zM83 517h4v4h-4zM86 517h4v4h-4zM87 517h4v4h-4zM94 517h4v4h-4zM126 516h4v4h-4zM128 517h4v4h-4zM130 516h4v4h-4zM137 517h4v4h-4zM140 517h4v4h-4zM143 517h4v4h-4zM237 516h4v4h-4zM58 519h4v4h-4zM60 519h4v4h-4zM63 519h4v4h-4zM68 519h4v4h-4zM70 520h4v4h-4zM75 519h4v4h-4zM78 518h4v4h-4zM81 519h4v4h-4zM83 520h4v4h-4zM85 519h4v4h-4zM88 519h4v4h-4zM90 520h4v4h-4zM94 519h4v4h-4zM97 519h4v4h-4zM125 519h4v4h-4zM134 518h4v4h-4zM137 518h4v4h-4zM141 518h4v4h-4zM144 519h4v4h-4zM230 520h4v4h-4zM35 521h4v4h-4zM61 521h4v4h-4zM63 522h4v4h-4zM66 522h4v4h-4zM70 522h4v4h-4zM73 522h4v4h-4zM75 522h4v4h-4zM79 522h4v4h-4zM81 522h4v4h-4zM83 521h4v4h-4zM85 522h4v4h-4zM89 522h4v4h-4zM90 521h4v4h-4zM92 522h4v4h-4zM97 521h4v4h-4zM130 522h4v4h-4zM133 522h4v4h-4zM136 521h4v4h-4zM138 522h4v4h-4zM142 521h4v4h-4zM45 525h4v4h-4zM47 524h4v4h-4zM60 524h4v4h-4zM63 523h4v4h-4zM66 524h4v4h-4zM68 524h4v4h-4zM72 524h4v4h-4zM75 524h4v4h-4zM78 525h4v4h-4zM80 524h4v4h-4zM84 524h4v4h-4zM85 524h4v4h-4zM91 524h4v4h-4zM93 524h4v4h-4zM128 524h4v4h-4zM130 525h4v4h-4zM133 524h4v4h-4zM135 523h4v4h-4zM137 524h4v4h-4zM62 527h4v4h-4zM66 526h4v4h-4zM67 526h4v4h-4zM70 527h4v4h-4zM72 527h4v4h-4zM75 527h4v4h-4zM78 527h4v4h-4zM80 527h4v4h-4zM82 527h4v4h-4zM87 527h4v4h-4zM91 527h4v4h-4zM92 526h4v4h-4zM128 526h4v4h-4zM130 527h4v4h-4zM133 526h4v4h-4zM136 527h4v4h-4zM137 526h4v4h-4zM140 527h4v4h-4zM218 526h4v4h-4zM223 527h4v4h-4zM40 529h4v4h-4zM52 530h4v4h-4zM58 530h4v4h-4zM61 529h4v4h-4zM62 529h4v4h-4zM66 529h4v4h-4zM68 528h4v4h-4zM75 528h4v4h-4zM77 529h4v4h-4zM81 528h4v4h-4zM86 528h4v4h-4zM87 529h4v4h-4zM89 529h4v4h-4zM128 529h4v4h-4zM134 530h4v4h-4zM135 529h4v4h-4zM139 529h4v4h-4zM140 528h4v4h-4zM35 531h4v4h-4zM58 532h4v4h-4zM60 532h4v4h-4zM63 531h4v4h-4zM66 531h4v4h-4zM68 531h4v4h-4zM73 531h4v4h-4zM87 531h4v4h-4zM90 531h4v4h-4zM92 532h4v4h-4zM128 531h4v4h-4zM130 531h4v4h-4zM132 532h4v4h-4zM135 531h4v4h-4zM210 531h4v4h-4zM31 534h4v4h-4zM35 534h4v4h-4zM57 534h4v4h-4zM63 534h4v4h-4zM66 534h4v4h-4zM91 535h4v4h-4zM116 534h4v4h-4zM128 534h4v4h-4zM130 533h4v4h-4zM132 534h4v4h-4zM136 533h4v4h-4zM38 537h4v4h-4zM40 536h4v4h-4zM43 536h4v4h-4zM53 536h4v4h-4zM55 536h4v4h-4zM58 537h4v4h-4zM61 537h4v4h-4zM68 537h4v4h-4zM92 537h4v4h-4zM95 536h4v4h-4zM97 537h4v4h-4zM125 537h4v4h-4zM132 536h4v4h-4zM213 537h4v4h-4zM39 539h4v4h-4zM55 538h4v4h-4zM58 539h4v4h-4zM61 539h4v4h-4zM63 539h4v4h-4zM72 539h4v4h-4zM98 539h4v4h-4zM127 539h4v4h-4zM35 542h4v4h-4zM58 542h4v4h-4zM88 542h4v4h-4zM96 541h4v4h-4zM101 542h4v4h-4zM221 542h4v4h-4zM85 544h4v4h-4zM97 543h4v4h-4zM102 544h4v4h-4zM105 544h4v4h-4zM112 544h4v4h-4zM115 544h4v4h-4zM222 543h4v4h-4zM224 544h4v4h-4zM37 547h4v4h-4zM58 546h4v4h-4zM61 547h4v4h-4zM74 546h4v4h-4zM97 547h4v4h-4zM100 546h4v4h-4zM102 547h4v4h-4zM104 546h4v4h-4zM108 547h4v4h-4zM110 546h4v4h-4zM112 547h4v4h-4zM117 546h4v4h-4zM68 550h4v4h-4zM76 549h4v4h-4zM97 549h4v4h-4zM101 549h4v4h-4zM104 549h4v4h-4zM108 550h4v4h-4zM233 549h4v4h-4zM235 550h4v4h-4zM37 552h4v4h-4zM88 552h4v4h-4zM90 552h4v4h-4zM97 551h4v4h-4zM100 552h4v4h-4zM103 551h4v4h-4zM106 552h4v4h-4zM107 552h4v4h-4zM41 553h4v4h-4zM87 554h4v4h-4zM92 555h4v4h-4zM96 555h4v4h-4zM107 553h4v4h-4zM236 554h4v4h-4zM88 556h4v4h-4zM90 557h4v4h-4zM96 556h4v4h-4zM100 557h4v4h-4zM103 557h4v4h-4zM93 560h4v4h-4zM96 559h4v4h-4zM188 559h4v4h-4zM193 562h4v4h-4zM180 564h4v4h-4zM193 564h4v4h-4zM180 566h4v4h-4zM193 566h4v4h-4zM174 569h4v4h-4zM169 571h4v4h-4zM172 572h4v4h-4zM175 571h4v4h-4zM178 571h4v4h-4zM181 571h4v4h-4zM188 571h4v4h-4zM195 571h4v4h-4zM48 574h4v4h-4zM166 574h4v4h-4zM171 574h4v4h-4zM172 574h4v4h-4zM175 573h4v4h-4zM179 574h4v4h-4zM181 573h4v4h-4zM196 574h4v4h-4zM166 577h4v4h-4zM169 577h4v4h-4zM176 577h4v4h-4zM177 577h4v4h-4zM170 579h4v4h-4zM173 579h4v4h-4zM176 579h4v4h-4zM173 582h4v4h-4zM177 581h4v4h-4zM196 581h4v4h-4zM173 584h4v4h-4zM208 585h4v4h-4zM126 606h4v4h-4zM128 606h4v4h-4zM131 607h4v4h-4zM123 611h4v4h-4zM127 611h4v4h-4zM133 611h4v4h-4zM116 614h4v4h-4zM118 615h4v4h-4zM128 614h4v4h-4zM131 615h4v4h-4zM121 617h4v4h-4zM123 616h4v4h-4zM125 617h4v4h-4zM128 616h4v4h-4zM121 619h4v4h-4zM125 619h4v4h-4zM130 620h4v4h-4zM119 622h4v4h-4zM128 622h4v4h-4zM130 622h4v4h-4zM123 623h4v4h-4zM125 624h4v4h-4zM129 624h4v4h-4zM131 624h4v4h-4z"/><path fill="#3a4ea8" d="M198 495h4v4h-4zM204 495h4v4h-4zM205 494h4v4h-4zM208 494h4v4h-4zM175 496h4v4h-4zM196 497h4v4h-4zM206 496h4v4h-4zM207 497h4v4h-4zM211 497h4v4h-4zM213 496h4v4h-4zM170 499h4v4h-4zM178 500h4v4h-4zM180 499h4v4h-4zM184 498h4v4h-4zM191 499h4v4h-4zM193 499h4v4h-4zM200 499h4v4h-4zM202 499h4v4h-4zM205 500h4v4h-4zM208 500h4v4h-4zM210 500h4v4h-4zM215 499h4v4h-4zM217 500h4v4h-4zM175 502h4v4h-4zM178 501h4v4h-4zM181 501h4v4h-4zM183 501h4v4h-4zM186 501h4v4h-4zM187 501h4v4h-4zM191 502h4v4h-4zM195 501h4v4h-4zM197 501h4v4h-4zM201 502h4v4h-4zM202 502h4v4h-4zM204 502h4v4h-4zM207 502h4v4h-4zM210 502h4v4h-4zM213 502h4v4h-4zM216 501h4v4h-4zM218 501h4v4h-4zM221 501h4v4h-4zM164 504h4v4h-4zM166 504h4v4h-4zM167 505h4v4h-4zM172 504h4v4h-4zM178 504h4v4h-4zM180 503h4v4h-4zM182 504h4v4h-4zM186 504h4v4h-4zM187 503h4v4h-4zM191 504h4v4h-4zM192 504h4v4h-4zM194 504h4v4h-4zM197 505h4v4h-4zM199 504h4v4h-4zM204 505h4v4h-4zM205 504h4v4h-4zM207 504h4v4h-4zM210 504h4v4h-4zM214 503h4v4h-4zM216 504h4v4h-4zM220 504h4v4h-4zM154 506h4v4h-4zM158 506h4v4h-4zM166 507h4v4h-4zM173 506h4v4h-4zM176 507h4v4h-4zM179 507h4v4h-4zM180 506h4v4h-4zM185 506h4v4h-4zM188 507h4v4h-4zM192 506h4v4h-4zM196 507h4v4h-4zM200 506h4v4h-4zM203 506h4v4h-4zM205 506h4v4h-4zM207 506h4v4h-4zM211 506h4v4h-4zM213 507h4v4h-4zM215 507h4v4h-4zM218 506h4v4h-4zM220 507h4v4h-4zM152 510h4v4h-4zM155 509h4v4h-4zM158 509h4v4h-4zM160 509h4v4h-4zM163 508h4v4h-4zM165 510h4v4h-4zM176 509h4v4h-4zM178 508h4v4h-4zM181 509h4v4h-4zM183 508h4v4h-4zM186 509h4v4h-4zM188 509h4v4h-4zM191 509h4v4h-4zM193 509h4v4h-4zM195 510h4v4h-4zM199 508h4v4h-4zM201 508h4v4h-4zM202 509h4v4h-4zM204 509h4v4h-4zM208 510h4v4h-4zM210 509h4v4h-4zM213 509h4v4h-4zM215 509h4v4h-4zM218 510h4v4h-4zM220 509h4v4h-4zM222 508h4v4h-4zM227 509h4v4h-4zM230 509h4v4h-4zM156 512h4v4h-4zM158 512h4v4h-4zM163 511h4v4h-4zM167 511h4v4h-4zM181 511h4v4h-4zM183 512h4v4h-4zM185 512h4v4h-4zM187 511h4v4h-4zM190 512h4v4h-4zM193 511h4v4h-4zM196 512h4v4h-4zM198 511h4v4h-4zM200 512h4v4h-4zM202 512h4v4h-4zM205 512h4v4h-4zM207 512h4v4h-4zM209 511h4v4h-4zM213 511h4v4h-4zM216 512h4v4h-4zM217 512h4v4h-4zM223 511h4v4h-4zM225 512h4v4h-4zM228 512h4v4h-4zM153 514h4v4h-4zM156 514h4v4h-4zM159 514h4v4h-4zM160 514h4v4h-4zM165 515h4v4h-4zM177 515h4v4h-4zM184 513h4v4h-4zM186 514h4v4h-4zM187 513h4v4h-4zM190 515h4v4h-4zM192 513h4v4h-4zM195 514h4v4h-4zM198 514h4v4h-4zM200 514h4v4h-4zM203 513h4v4h-4zM206 514h4v4h-4zM207 514h4v4h-4zM211 514h4v4h-4zM219 513h4v4h-4zM222 514h4v4h-4zM226 513h4v4h-4zM227 515h4v4h-4zM230 515h4v4h-4zM155 517h4v4h-4zM158 517h4v4h-4zM160 517h4v4h-4zM179 517h4v4h-4zM181 517h4v4h-4zM182 517h4v4h-4zM186 517h4v4h-4zM187 517h4v4h-4zM190 516h4v4h-4zM192 516h4v4h-4zM196 517h4v4h-4zM198 516h4v4h-4zM200 517h4v4h-4zM204 517h4v4h-4zM207 517h4v4h-4zM209 516h4v4h-4zM212 517h4v4h-4zM218 517h4v4h-4zM226 517h4v4h-4zM228 516h4v4h-4zM231 517h4v4h-4zM168 518h4v4h-4zM177 518h4v4h-4zM181 518h4v4h-4zM182 520h4v4h-4zM186 519h4v4h-4zM190 518h4v4h-4zM194 519h4v4h-4zM196 519h4v4h-4zM197 519h4v4h-4zM203 519h4v4h-4zM206 519h4v4h-4zM207 519h4v4h-4zM210 520h4v4h-4zM215 519h4v4h-4zM217 519h4v4h-4zM220 518h4v4h-4zM223 520h4v4h-4zM225 520h4v4h-4zM227 519h4v4h-4zM152 522h4v4h-4zM155 521h4v4h-4zM157 521h4v4h-4zM180 522h4v4h-4zM183 521h4v4h-4zM185 521h4v4h-4zM188 522h4v4h-4zM190 522h4v4h-4zM193 522h4v4h-4zM196 521h4v4h-4zM198 522h4v4h-4zM199 521h4v4h-4zM203 522h4v4h-4zM206 521h4v4h-4zM208 522h4v4h-4zM210 521h4v4h-4zM213 521h4v4h-4zM215 521h4v4h-4zM218 521h4v4h-4zM221 521h4v4h-4zM223 521h4v4h-4zM228 521h4v4h-4zM153 524h4v4h-4zM173 524h4v4h-4zM176 524h4v4h-4zM177 524h4v4h-4zM181 524h4v4h-4zM183 525h4v4h-4zM189 523h4v4h-4zM190 525h4v4h-4zM193 524h4v4h-4zM195 523h4v4h-4zM198 525h4v4h-4zM201 524h4v4h-4zM203 524h4v4h-4zM205 524h4v4h-4zM208 523h4v4h-4zM211 525h4v4h-4zM213 525h4v4h-4zM216 523h4v4h-4zM219 524h4v4h-4zM220 524h4v4h-4zM223 524h4v4h-4zM229 524h4v4h-4zM163 526h4v4h-4zM170 527h4v4h-4zM173 526h4v4h-4zM178 527h4v4h-4zM180 526h4v4h-4zM183 526h4v4h-4zM186 526h4v4h-4zM188 527h4v4h-4zM190 527h4v4h-4zM192 526h4v4h-4zM195 526h4v4h-4zM198 527h4v4h-4zM201 526h4v4h-4zM203 526h4v4h-4zM208 527h4v4h-4zM210 526h4v4h-4zM215 527h4v4h-4zM225 527h4v4h-4zM158 530h4v4h-4zM160 529h4v4h-4zM166 530h4v4h-4zM169 529h4v4h-4zM171 529h4v4h-4zM173 529h4v4h-4zM175 529h4v4h-4zM181 528h4v4h-4zM186 529h4v4h-4zM189 530h4v4h-4zM191 529h4v4h-4zM192 528h4v4h-4zM196 529h4v4h-4zM197 528h4v4h-4zM201 528h4v4h-4zM202 530h4v4h-4zM208 528h4v4h-4zM210 529h4v4h-4zM215 530h4v4h-4zM217 528h4v4h-4zM220 528h4v4h-4zM226 528h4v4h-4zM158 531h4v4h-4zM163 532h4v4h-4zM165 532h4v4h-4zM169 532h4v4h-4zM171 531h4v4h-4zM172 532h4v4h-4zM185 531h4v4h-4zM188 531h4v4h-4zM190 531h4v4h-4zM193 531h4v4h-4zM195 531h4v4h-4zM197 532h4v4h-4zM200 531h4v4h-4zM203 532h4v4h-4zM205 531h4v4h-4zM208 532h4v4h-4zM213 531h4v4h-4zM215 531h4v4h-4zM220 532h4v4h-4zM222 532h4v4h-4zM225 531h4v4h-4zM161 534h4v4h-4zM166 534h4v4h-4zM168 535h4v4h-4zM170 534h4v4h-4zM172 535h4v4h-4zM177 534h4v4h-4zM181 535h4v4h-4zM190 534h4v4h-4zM193 535h4v4h-4zM196 534h4v4h-4zM198 535h4v4h-4zM200 535h4v4h-4zM203 534h4v4h-4zM206 535h4v4h-4zM211 534h4v4h-4zM212 534h4v4h-4zM219 534h4v4h-4zM220 534h4v4h-4zM223 534h4v4h-4zM171 536h4v4h-4zM190 537h4v4h-4zM193 536h4v4h-4zM195 536h4v4h-4zM197 536h4v4h-4zM200 536h4v4h-4zM203 537h4v4h-4zM206 536h4v4h-4zM207 537h4v4h-4zM210 537h4v4h-4zM215 537h4v4h-4zM217 536h4v4h-4zM221 536h4v4h-4zM223 537h4v4h-4zM226 537h4v4h-4zM171 538h4v4h-4zM178 539h4v4h-4zM186 539h4v4h-4zM191 539h4v4h-4zM192 538h4v4h-4zM196 539h4v4h-4zM199 540h4v4h-4zM200 540h4v4h-4zM202 539h4v4h-4zM205 540h4v4h-4zM208 539h4v4h-4zM210 539h4v4h-4zM213 540h4v4h-4zM216 539h4v4h-4zM217 540h4v4h-4zM220 538h4v4h-4zM175 541h4v4h-4zM183 541h4v4h-4zM189 542h4v4h-4zM195 542h4v4h-4zM198 541h4v4h-4zM200 542h4v4h-4zM203 542h4v4h-4zM205 542h4v4h-4zM207 541h4v4h-4zM213 541h4v4h-4zM214 542h4v4h-4zM223 541h4v4h-4zM226 542h4v4h-4zM176 544h4v4h-4zM178 545h4v4h-4zM182 545h4v4h-4zM191 544h4v4h-4zM192 544h4v4h-4zM196 543h4v4h-4zM199 545h4v4h-4zM201 545h4v4h-4zM204 544h4v4h-4zM205 543h4v4h-4zM208 544h4v4h-4zM210 545h4v4h-4zM215 544h4v4h-4zM219 543h4v4h-4zM220 544h4v4h-4zM228 544h4v4h-4zM188 547h4v4h-4zM196 547h4v4h-4zM197 547h4v4h-4zM200 546h4v4h-4zM203 546h4v4h-4zM205 547h4v4h-4zM207 547h4v4h-4zM210 547h4v4h-4zM212 546h4v4h-4zM217 547h4v4h-4zM220 546h4v4h-4zM223 547h4v4h-4zM224 547h4v4h-4zM228 546h4v4h-4zM231 546h4v4h-4zM197 548h4v4h-4zM200 550h4v4h-4zM203 548h4v4h-4zM205 548h4v4h-4zM208 549h4v4h-4zM211 549h4v4h-4zM212 550h4v4h-4zM218 549h4v4h-4zM223 550h4v4h-4zM226 549h4v4h-4zM227 549h4v4h-4zM203 551h4v4h-4zM206 552h4v4h-4zM210 551h4v4h-4zM228 551h4v4h-4zM216 562h4v4h-4zM225 561h4v4h-4zM216 564h4v4h-4zM221 565h4v4h-4zM216 567h4v4h-4zM220 569h4v4h-4zM222 571h4v4h-4zM165 584h4v4h-4zM169 587h4v4h-4zM179 586h4v4h-4zM171 592h4v4h-4zM196 591h4v4h-4zM170 596h4v4h-4zM197 597h4v4h-4zM203 597h4v4h-4zM158 599h4v4h-4zM193 601h4v4h-4zM202 602h4v4h-4zM178 605h4v4h-4zM191 604h4v4h-4zM196 604h4v4h-4zM206 607h4v4h-4zM169 612h4v4h-4zM186 612h4v4h-4zM175 619h4v4h-4zM186 619h4v4h-4zM193 619h4v4h-4zM180 621h4v4h-4z"/><path fill="#d62728" d="M120 461h4v4h-4zM135 462h4v4h-4zM105 464h4v4h-4zM115 464h4v4h-4zM138 466h4v4h-4zM133 468h4v4h-4zM134 469h4v4h-4zM121 473h4v4h-4zM125 474h4v4h-4zM138 474h4v4h-4zM102 479h4v4h-4zM120 479h4v4h-4zM95 481h4v4h-4zM125 481h4v4h-4zM137 482h4v4h-4zM76 485h4v4h-4zM128 484h4v4h-4zM77 486h4v4h-4zM80 486h4v4h-4zM129 487h4v4h-4zM134 489h4v4h-4zM105 491h4v4h-4zM74 496h4v4h-4zM68 502h4v4h-4zM123 502h4v4h-4zM55 503h4v4h-4zM59 505h4v4h-4zM97 506h4v4h-4zM138 507h4v4h-4zM56 508h4v4h-4zM72 509h4v4h-4zM110 509h4v4h-4zM112 510h4v4h-4zM103 511h4v4h-4zM107 512h4v4h-4zM111 511h4v4h-4zM113 511h4v4h-4zM118 511h4v4h-4zM122 511h4v4h-4zM143 512h4v4h-4zM41 515h4v4h-4zM83 515h4v4h-4zM97 514h4v4h-4zM100 513h4v4h-4zM103 514h4v4h-4zM105 514h4v4h-4zM108 515h4v4h-4zM110 514h4v4h-4zM113 513h4v4h-4zM115 514h4v4h-4zM118 514h4v4h-4zM120 514h4v4h-4zM95 517h4v4h-4zM98 517h4v4h-4zM100 517h4v4h-4zM103 517h4v4h-4zM105 516h4v4h-4zM107 517h4v4h-4zM110 516h4v4h-4zM113 517h4v4h-4zM115 516h4v4h-4zM118 516h4v4h-4zM120 516h4v4h-4zM123 517h4v4h-4zM135 516h4v4h-4zM96 519h4v4h-4zM100 519h4v4h-4zM103 518h4v4h-4zM105 518h4v4h-4zM108 520h4v4h-4zM110 518h4v4h-4zM112 520h4v4h-4zM115 519h4v4h-4zM119 518h4v4h-4zM120 520h4v4h-4zM122 518h4v4h-4zM130 520h4v4h-4zM143 519h4v4h-4zM95 522h4v4h-4zM101 522h4v4h-4zM103 522h4v4h-4zM105 522h4v4h-4zM109 521h4v4h-4zM111 521h4v4h-4zM112 522h4v4h-4zM117 522h4v4h-4zM121 521h4v4h-4zM123 522h4v4h-4zM125 522h4v4h-4zM96 525h4v4h-4zM98 524h4v4h-4zM100 524h4v4h-4zM102 523h4v4h-4zM106 523h4v4h-4zM107 524h4v4h-4zM111 525h4v4h-4zM113 524h4v4h-4zM115 524h4v4h-4zM118 523h4v4h-4zM120 524h4v4h-4zM123 523h4v4h-4zM125 525h4v4h-4zM140 524h4v4h-4zM96 526h4v4h-4zM97 526h4v4h-4zM100 527h4v4h-4zM103 526h4v4h-4zM107 527h4v4h-4zM110 527h4v4h-4zM113 527h4v4h-4zM116 527h4v4h-4zM118 526h4v4h-4zM121 527h4v4h-4zM123 527h4v4h-4zM124 527h4v4h-4zM74 529h4v4h-4zM82 530h4v4h-4zM95 528h4v4h-4zM98 528h4v4h-4zM100 528h4v4h-4zM103 530h4v4h-4zM105 528h4v4h-4zM107 529h4v4h-4zM109 528h4v4h-4zM114 528h4v4h-4zM115 529h4v4h-4zM118 529h4v4h-4zM120 529h4v4h-4zM122 529h4v4h-4zM125 529h4v4h-4zM130 528h4v4h-4zM71 531h4v4h-4zM83 531h4v4h-4zM85 532h4v4h-4zM96 531h4v4h-4zM97 532h4v4h-4zM101 531h4v4h-4zM103 532h4v4h-4zM105 531h4v4h-4zM108 531h4v4h-4zM111 531h4v4h-4zM112 532h4v4h-4zM115 532h4v4h-4zM117 531h4v4h-4zM120 532h4v4h-4zM123 532h4v4h-4zM126 532h4v4h-4zM67 533h4v4h-4zM70 534h4v4h-4zM77 533h4v4h-4zM80 534h4v4h-4zM82 535h4v4h-4zM85 534h4v4h-4zM89 534h4v4h-4zM94 533h4v4h-4zM95 535h4v4h-4zM97 534h4v4h-4zM100 535h4v4h-4zM102 534h4v4h-4zM105 534h4v4h-4zM107 533h4v4h-4zM111 535h4v4h-4zM112 535h4v4h-4zM118 534h4v4h-4zM121 535h4v4h-4zM123 534h4v4h-4zM35 537h4v4h-4zM62 537h4v4h-4zM65 536h4v4h-4zM73 537h4v4h-4zM75 536h4v4h-4zM80 536h4v4h-4zM85 536h4v4h-4zM88 536h4v4h-4zM90 537h4v4h-4zM101 536h4v4h-4zM103 536h4v4h-4zM106 537h4v4h-4zM108 537h4v4h-4zM110 537h4v4h-4zM113 537h4v4h-4zM115 537h4v4h-4zM118 536h4v4h-4zM120 536h4v4h-4zM123 536h4v4h-4zM42 538h4v4h-4zM64 539h4v4h-4zM71 539h4v4h-4zM78 540h4v4h-4zM81 539h4v4h-4zM83 539h4v4h-4zM88 539h4v4h-4zM91 538h4v4h-4zM93 539h4v4h-4zM96 539h4v4h-4zM100 540h4v4h-4zM103 540h4v4h-4zM106 539h4v4h-4zM107 539h4v4h-4zM110 539h4v4h-4zM112 540h4v4h-4zM116 540h4v4h-4zM118 539h4v4h-4zM120 539h4v4h-4zM40 541h4v4h-4zM60 541h4v4h-4zM63 541h4v4h-4zM66 542h4v4h-4zM67 542h4v4h-4zM73 541h4v4h-4zM74 542h4v4h-4zM78 541h4v4h-4zM79 541h4v4h-4zM83 541h4v4h-4zM86 542h4v4h-4zM91 542h4v4h-4zM94 542h4v4h-4zM105 541h4v4h-4zM108 541h4v4h-4zM110 541h4v4h-4zM113 541h4v4h-4zM61 545h4v4h-4zM63 544h4v4h-4zM68 544h4v4h-4zM72 544h4v4h-4zM76 545h4v4h-4zM78 544h4v4h-4zM80 544h4v4h-4zM87 544h4v4h-4zM90 545h4v4h-4zM92 544h4v4h-4zM96 544h4v4h-4zM110 543h4v4h-4zM65 547h4v4h-4zM67 546h4v4h-4zM71 546h4v4h-4zM73 546h4v4h-4zM77 546h4v4h-4zM81 547h4v4h-4zM83 546h4v4h-4zM85 547h4v4h-4zM87 546h4v4h-4zM90 547h4v4h-4zM93 546h4v4h-4zM95 547h4v4h-4zM42 548h4v4h-4zM50 549h4v4h-4zM65 548h4v4h-4zM73 548h4v4h-4zM80 548h4v4h-4zM83 549h4v4h-4zM89 550h4v4h-4zM91 549h4v4h-4zM94 550h4v4h-4zM95 548h4v4h-4zM78 552h4v4h-4zM93 551h4v4h-4zM50 554h4v4h-4zM61 554h4v4h-4zM70 554h4v4h-4zM78 554h4v4h-4zM100 554h4v4h-4zM38 556h4v4h-4zM41 557h4v4h-4zM48 557h4v4h-4zM50 556h4v4h-4zM70 556h4v4h-4zM75 557h4v4h-4zM78 556h4v4h-4zM85 557h4v4h-4zM92 557h4v4h-4zM46 560h4v4h-4zM47 559h4v4h-4zM55 559h4v4h-4zM61 560h4v4h-4zM63 560h4v4h-4zM72 559h4v4h-4zM81 559h4v4h-4zM45 562h4v4h-4zM58 562h4v4h-4zM69 561h4v4h-4zM73 561h4v4h-4zM77 561h4v4h-4zM87 562h4v4h-4zM43 564h4v4h-4zM45 565h4v4h-4zM53 563h4v4h-4zM60 564h4v4h-4zM67 564h4v4h-4zM70 564h4v4h-4zM72 564h4v4h-4zM75 564h4v4h-4zM80 563h4v4h-4zM82 564h4v4h-4zM87 564h4v4h-4zM58 567h4v4h-4zM62 567h4v4h-4zM68 567h4v4h-4zM71 566h4v4h-4zM72 566h4v4h-4zM77 567h4v4h-4zM42 569h4v4h-4zM71 569h4v4h-4zM74 569h4v4h-4zM75 570h4v4h-4zM47 571h4v4h-4zM61 572h4v4h-4zM65 571h4v4h-4zM69 572h4v4h-4zM70 572h4v4h-4zM73 571h4v4h-4zM75 571h4v4h-4zM66 574h4v4h-4zM68 575h4v4h-4zM65 578h4v4h-4z"/><path fill="#6d6b8f" d="M173 497h4v4h-4zM199 497h4v4h-4zM161 499h4v4h-4zM163 499h4v4h-4zM167 500h4v4h-4zM172 498h4v4h-4zM162 502h4v4h-4zM166 501h4v4h-4zM167 502h4v4h-4zM171 502h4v4h-4zM174 502h4v4h-4zM194 502h4v4h-4zM160 504h4v4h-4zM170 505h4v4h-4zM175 504h4v4h-4zM217 504h4v4h-4zM161 506h4v4h-4zM164 506h4v4h-4zM167 506h4v4h-4zM170 506h4v4h-4zM182 506h4v4h-4zM190 507h4v4h-4zM198 506h4v4h-4zM168 508h4v4h-4zM171 510h4v4h-4zM173 509h4v4h-4zM161 512h4v4h-4zM172 511h4v4h-4zM176 511h4v4h-4zM179 511h4v4h-4zM167 514h4v4h-4zM213 515h4v4h-4zM164 517h4v4h-4zM167 516h4v4h-4zM205 516h4v4h-4zM222 517h4v4h-4zM188 519h4v4h-4zM213 520h4v4h-4zM171 521h4v4h-4zM176 526h4v4h-4zM179 528h4v4h-4zM182 528h4v4h-4zM205 529h4v4h-4zM176 531h4v4h-4zM177 531h4v4h-4zM180 532h4v4h-4zM182 531h4v4h-4zM175 534h4v4h-4zM183 534h4v4h-4zM186 534h4v4h-4zM188 534h4v4h-4zM173 537h4v4h-4zM175 536h4v4h-4zM178 536h4v4h-4zM181 537h4v4h-4zM182 537h4v4h-4zM186 537h4v4h-4zM187 536h4v4h-4zM175 540h4v4h-4zM180 539h4v4h-4zM182 538h4v4h-4zM187 540h4v4h-4zM172 541h4v4h-4zM178 541h4v4h-4zM180 542h4v4h-4zM185 541h4v4h-4zM189 541h4v4h-4zM192 542h4v4h-4zM211 542h4v4h-4zM228 542h4v4h-4zM145 545h4v4h-4zM180 544h4v4h-4zM185 544h4v4h-4zM188 544h4v4h-4zM185 546h4v4h-4zM137 552h4v4h-4zM121 555h4v4h-4zM133 561h4v4h-4zM138 570h4v4h-4zM168 569h4v4h-4zM145 571h4v4h-4zM135 577h4v4h-4zM185 577h4v4h-4zM135 579h4v4h-4zM183 580h4v4h-4zM185 578h4v4h-4zM187 578h4v4h-4zM137 582h4v4h-4zM168 581h4v4h-4zM181 582h4v4h-4zM186 582h4v4h-4zM188 581h4v4h-4zM189 581h4v4h-4zM107 583h4v4h-4zM178 585h4v4h-4zM180 584h4v4h-4zM183 584h4v4h-4zM186 584h4v4h-4zM188 584h4v4h-4zM191 584h4v4h-4zM195 584h4v4h-4zM198 583h4v4h-4zM162 587h4v4h-4zM171 586h4v4h-4zM173 586h4v4h-4zM180 586h4v4h-4zM182 587h4v4h-4zM186 586h4v4h-4zM187 586h4v4h-4zM191 586h4v4h-4zM192 587h4v4h-4zM196 586h4v4h-4zM197 587h4v4h-4zM164 588h4v4h-4zM175 588h4v4h-4zM181 590h4v4h-4zM186 588h4v4h-4zM189 589h4v4h-4zM196 589h4v4h-4zM197 589h4v4h-4zM201 588h4v4h-4zM203 589h4v4h-4zM208 590h4v4h-4zM96 592h4v4h-4zM138 592h4v4h-4zM165 591h4v4h-4zM167 592h4v4h-4zM172 592h4v4h-4zM181 591h4v4h-4zM186 591h4v4h-4zM190 592h4v4h-4zM193 591h4v4h-4zM201 592h4v4h-4zM203 591h4v4h-4zM206 591h4v4h-4zM207 592h4v4h-4zM158 595h4v4h-4zM160 594h4v4h-4zM166 594h4v4h-4zM171 593h4v4h-4zM182 593h4v4h-4zM186 593h4v4h-4zM188 595h4v4h-4zM193 593h4v4h-4zM195 594h4v4h-4zM197 594h4v4h-4zM201 594h4v4h-4zM203 593h4v4h-4zM208 594h4v4h-4zM100 596h4v4h-4zM138 597h4v4h-4zM160 597h4v4h-4zM163 596h4v4h-4zM172 597h4v4h-4zM175 596h4v4h-4zM178 597h4v4h-4zM184 597h4v4h-4zM188 597h4v4h-4zM195 597h4v4h-4zM207 597h4v4h-4zM161 599h4v4h-4zM162 599h4v4h-4zM167 599h4v4h-4zM170 599h4v4h-4zM172 598h4v4h-4zM176 600h4v4h-4zM177 600h4v4h-4zM180 599h4v4h-4zM183 599h4v4h-4zM187 599h4v4h-4zM195 600h4v4h-4zM197 599h4v4h-4zM201 598h4v4h-4zM210 599h4v4h-4zM160 602h4v4h-4zM163 602h4v4h-4zM166 601h4v4h-4zM170 602h4v4h-4zM173 602h4v4h-4zM190 602h4v4h-4zM206 601h4v4h-4zM157 604h4v4h-4zM161 604h4v4h-4zM168 604h4v4h-4zM170 605h4v4h-4zM176 605h4v4h-4zM193 605h4v4h-4zM197 604h4v4h-4zM200 604h4v4h-4zM203 604h4v4h-4zM156 607h4v4h-4zM158 606h4v4h-4zM161 607h4v4h-4zM163 606h4v4h-4zM170 607h4v4h-4zM173 606h4v4h-4zM175 606h4v4h-4zM179 607h4v4h-4zM187 606h4v4h-4zM190 606h4v4h-4zM193 607h4v4h-4zM195 607h4v4h-4zM200 607h4v4h-4zM207 606h4v4h-4zM143 609h4v4h-4zM157 609h4v4h-4zM160 609h4v4h-4zM168 609h4v4h-4zM175 608h4v4h-4zM181 610h4v4h-4zM183 608h4v4h-4zM188 609h4v4h-4zM196 609h4v4h-4zM198 609h4v4h-4zM201 608h4v4h-4zM202 608h4v4h-4zM146 612h4v4h-4zM162 612h4v4h-4zM173 612h4v4h-4zM175 611h4v4h-4zM182 611h4v4h-4zM191 612h4v4h-4zM194 611h4v4h-4zM198 611h4v4h-4zM201 611h4v4h-4zM206 611h4v4h-4zM165 613h4v4h-4zM173 614h4v4h-4zM180 614h4v4h-4zM194 614h4v4h-4zM196 613h4v4h-4zM197 613h4v4h-4zM200 613h4v4h-4zM106 617h4v4h-4zM165 617h4v4h-4zM167 616h4v4h-4zM175 617h4v4h-4zM187 617h4v4h-4zM196 616h4v4h-4zM80 620h4v4h-4zM99 620h4v4h-4zM172 619h4v4h-4zM183 618h4v4h-4zM187 618h4v4h-4zM95 622h4v4h-4zM171 622h4v4h-4zM166 625h4v4h-4zM175 623h4v4h-4zM132 630h4v4h-4zM182 631h4v4h-4zM149 633h4v4h-4zM113 641h4v4h-4z"/><path fill="#9c1f9c" d="M143 449h4v4h-4zM141 455h4v4h-4zM143 455h4v4h-4zM147 455h4v4h-4zM142 457h4v4h-4zM146 461h4v4h-4zM110 464h4v4h-4zM99 467h4v4h-4zM96 470h4v4h-4zM92 471h4v4h-4zM95 472h4v4h-4zM100 471h4v4h-4zM87 474h4v4h-4zM93 474h4v4h-4zM95 473h4v4h-4zM97 473h4v4h-4zM101 474h4v4h-4zM90 477h4v4h-4zM93 476h4v4h-4zM98 477h4v4h-4zM100 476h4v4h-4zM89 479h4v4h-4zM93 479h4v4h-4zM85 487h4v4h-4zM88 486h4v4h-4zM92 487h4v4h-4zM97 487h4v4h-4zM83 489h4v4h-4zM85 489h4v4h-4zM87 489h4v4h-4zM89 490h4v4h-4zM92 488h4v4h-4zM94 489h4v4h-4zM84 491h4v4h-4zM85 492h4v4h-4zM87 491h4v4h-4zM90 491h4v4h-4zM93 491h4v4h-4zM98 492h4v4h-4zM80 495h4v4h-4zM82 494h4v4h-4zM85 493h4v4h-4zM88 494h4v4h-4zM93 495h4v4h-4zM95 493h4v4h-4zM98 494h4v4h-4zM100 494h4v4h-4zM103 494h4v4h-4zM77 496h4v4h-4zM82 496h4v4h-4zM86 496h4v4h-4zM87 497h4v4h-4zM90 497h4v4h-4zM93 497h4v4h-4zM96 496h4v4h-4zM97 497h4v4h-4zM101 497h4v4h-4zM78 499h4v4h-4zM81 499h4v4h-4zM83 500h4v4h-4zM84 499h4v4h-4zM88 499h4v4h-4zM90 498h4v4h-4zM93 499h4v4h-4zM96 498h4v4h-4zM97 499h4v4h-4zM100 499h4v4h-4zM118 499h4v4h-4zM121 498h4v4h-4zM55 502h4v4h-4zM65 501h4v4h-4zM70 501h4v4h-4zM78 502h4v4h-4zM80 501h4v4h-4zM83 501h4v4h-4zM86 501h4v4h-4zM87 502h4v4h-4zM90 502h4v4h-4zM93 501h4v4h-4zM94 502h4v4h-4zM97 502h4v4h-4zM100 502h4v4h-4zM53 504h4v4h-4zM62 504h4v4h-4zM71 503h4v4h-4zM80 504h4v4h-4zM86 504h4v4h-4zM88 505h4v4h-4zM90 504h4v4h-4zM92 504h4v4h-4zM96 505h4v4h-4zM97 504h4v4h-4zM62 507h4v4h-4zM83 506h4v4h-4zM85 507h4v4h-4zM87 507h4v4h-4zM90 507h4v4h-4zM93 506h4v4h-4zM95 507h4v4h-4zM100 507h4v4h-4zM106 506h4v4h-4zM60 509h4v4h-4zM63 508h4v4h-4zM93 509h4v4h-4zM95 509h4v4h-4zM109 509h4v4h-4zM71 511h4v4h-4zM89 512h4v4h-4zM126 512h4v4h-4zM50 514h4v4h-4zM54 515h4v4h-4zM80 515h4v4h-4zM123 514h4v4h-4zM125 514h4v4h-4zM38 517h4v4h-4zM46 517h4v4h-4zM48 517h4v4h-4zM51 517h4v4h-4zM52 516h4v4h-4zM78 517h4v4h-4zM90 517h4v4h-4zM38 519h4v4h-4zM40 519h4v4h-4zM42 519h4v4h-4zM45 518h4v4h-4zM48 518h4v4h-4zM51 519h4v4h-4zM52 519h4v4h-4zM66 518h4v4h-4zM73 520h4v4h-4zM37 522h4v4h-4zM40 522h4v4h-4zM42 522h4v4h-4zM46 521h4v4h-4zM48 522h4v4h-4zM50 521h4v4h-4zM52 522h4v4h-4zM55 521h4v4h-4zM57 521h4v4h-4zM67 521h4v4h-4zM141 522h4v4h-4zM33 524h4v4h-4zM35 524h4v4h-4zM38 523h4v4h-4zM41 524h4v4h-4zM42 525h4v4h-4zM50 524h4v4h-4zM53 524h4v4h-4zM55 524h4v4h-4zM58 524h4v4h-4zM70 524h4v4h-4zM35 526h4v4h-4zM37 526h4v4h-4zM40 527h4v4h-4zM43 526h4v4h-4zM45 527h4v4h-4zM48 527h4v4h-4zM50 527h4v4h-4zM53 527h4v4h-4zM55 526h4v4h-4zM58 527h4v4h-4zM60 526h4v4h-4zM85 527h4v4h-4zM35 529h4v4h-4zM38 529h4v4h-4zM43 530h4v4h-4zM46 529h4v4h-4zM47 529h4v4h-4zM50 530h4v4h-4zM54 528h4v4h-4zM70 529h4v4h-4zM92 530h4v4h-4zM37 531h4v4h-4zM41 531h4v4h-4zM42 531h4v4h-4zM45 532h4v4h-4zM48 532h4v4h-4zM51 532h4v4h-4zM53 531h4v4h-4zM56 531h4v4h-4zM38 533h4v4h-4zM41 534h4v4h-4zM44 534h4v4h-4zM46 534h4v4h-4zM49 534h4v4h-4zM50 534h4v4h-4zM52 534h4v4h-4zM46 537h4v4h-4zM47 536h4v4h-4zM99 542h4v4h-4zM102 542h4v4h-4zM101 544h4v4h-4zM109 544h4v4h-4zM105 549h4v4h-4zM110 550h4v4h-4zM112 548h4v4h-4zM95 552h4v4h-4zM90 554h4v4h-4zM97 555h4v4h-4zM98 557h4v4h-4zM98 560h4v4h-4zM100 558h4v4h-4zM58 579h4v4h-4z"/><path fill="#6b1a12" d="M178 457h4v4h-4zM135 458h4v4h-4zM158 459h4v4h-4zM161 461h4v4h-4zM158 465h4v4h-4zM126 467h4v4h-4zM136 467h4v4h-4zM108 469h4v4h-4zM191 470h4v4h-4zM123 471h4v4h-4zM132 471h4v4h-4zM135 471h4v4h-4zM140 472h4v4h-4zM148 471h4v4h-4zM155 472h4v4h-4zM135 473h4v4h-4zM95 477h4v4h-4zM139 477h4v4h-4zM82 478h4v4h-4zM122 480h4v4h-4zM127 479h4v4h-4zM153 481h4v4h-4zM170 482h4v4h-4zM193 482h4v4h-4zM121 484h4v4h-4zM123 484h4v4h-4zM140 484h4v4h-4zM170 485h4v4h-4zM120 487h4v4h-4zM140 486h4v4h-4zM158 487h4v4h-4zM165 487h4v4h-4zM164 490h4v4h-4zM167 489h4v4h-4zM170 489h4v4h-4zM157 492h4v4h-4zM169 491h4v4h-4zM170 492h4v4h-4zM118 495h4v4h-4zM121 494h4v4h-4zM126 494h4v4h-4zM130 494h4v4h-4zM133 495h4v4h-4zM59 496h4v4h-4zM128 497h4v4h-4zM135 496h4v4h-4zM203 496h4v4h-4zM132 499h4v4h-4zM199 500h4v4h-4zM212 500h4v4h-4zM76 502h4v4h-4zM110 501h4v4h-4zM118 502h4v4h-4zM125 502h4v4h-4zM127 501h4v4h-4zM130 501h4v4h-4zM111 503h4v4h-4zM130 504h4v4h-4zM138 504h4v4h-4zM140 503h4v4h-4zM66 507h4v4h-4zM78 507h4v4h-4zM133 510h4v4h-4zM48 512h4v4h-4zM105 512h4v4h-4zM166 512h4v4h-4zM171 511h4v4h-4zM220 512h4v4h-4zM128 514h4v4h-4zM163 514h4v4h-4zM170 514h4v4h-4zM174 513h4v4h-4zM175 515h4v4h-4zM180 513h4v4h-4zM216 514h4v4h-4zM133 516h4v4h-4zM163 517h4v4h-4zM171 517h4v4h-4zM172 517h4v4h-4zM175 516h4v4h-4zM220 517h4v4h-4zM236 517h4v4h-4zM136 519h4v4h-4zM165 520h4v4h-4zM170 519h4v4h-4zM174 519h4v4h-4zM175 519h4v4h-4zM201 518h4v4h-4zM129 522h4v4h-4zM169 521h4v4h-4zM172 522h4v4h-4zM176 521h4v4h-4zM178 521h4v4h-4zM88 524h4v4h-4zM165 524h4v4h-4zM168 524h4v4h-4zM170 524h4v4h-4zM185 523h4v4h-4zM155 526h4v4h-4zM160 527h4v4h-4zM166 526h4v4h-4zM205 526h4v4h-4zM220 526h4v4h-4zM230 526h4v4h-4zM213 529h4v4h-4zM222 530h4v4h-4zM81 531h4v4h-4zM160 532h4v4h-4zM217 531h4v4h-4zM61 534h4v4h-4zM125 535h4v4h-4zM216 534h4v4h-4zM223 539h4v4h-4zM225 538h4v4h-4zM136 542h4v4h-4zM218 541h4v4h-4zM35 544h4v4h-4zM141 544h4v4h-4zM212 543h4v4h-4zM215 546h4v4h-4zM128 550h4v4h-4zM133 549h4v4h-4zM161 548h4v4h-4zM103 554h4v4h-4zM218 562h4v4h-4zM219 562h4v4h-4zM225 563h4v4h-4zM220 567h4v4h-4zM228 567h4v4h-4zM173 568h4v4h-4zM214 568h4v4h-4zM170 572h4v4h-4zM218 574h4v4h-4zM172 577h4v4h-4zM50 578h4v4h-4zM168 578h4v4h-4zM178 579h4v4h-4zM181 579h4v4h-4zM170 581h4v4h-4z"/><path fill="#9c1a48" d="M142 472h4v4h-4zM122 476h4v4h-4zM133 478h4v4h-4zM140 492h4v4h-4zM124 496h4v4h-4zM122 499h4v4h-4zM125 504h4v4h-4zM141 510h4v4h-4zM127 519h4v4h-4zM121 551h4v4h-4zM130 552h4v4h-4zM135 552h4v4h-4zM116 554h4v4h-4zM118 554h4v4h-4zM123 555h4v4h-4zM126 554h4v4h-4zM127 555h4v4h-4zM130 554h4v4h-4zM133 554h4v4h-4zM118 557h4v4h-4zM120 557h4v4h-4zM123 557h4v4h-4zM125 556h4v4h-4zM128 557h4v4h-4zM131 557h4v4h-4zM135 556h4v4h-4zM116 559h4v4h-4zM118 559h4v4h-4zM120 560h4v4h-4zM123 559h4v4h-4zM126 558h4v4h-4zM128 558h4v4h-4zM130 558h4v4h-4zM136 559h4v4h-4zM111 561h4v4h-4zM113 562h4v4h-4zM116 562h4v4h-4zM118 562h4v4h-4zM123 562h4v4h-4zM125 561h4v4h-4zM129 562h4v4h-4zM131 561h4v4h-4zM136 561h4v4h-4zM138 562h4v4h-4zM141 561h4v4h-4zM115 564h4v4h-4zM121 564h4v4h-4zM122 564h4v4h-4zM125 564h4v4h-4zM128 565h4v4h-4zM130 563h4v4h-4zM132 564h4v4h-4zM136 563h4v4h-4zM138 563h4v4h-4zM140 565h4v4h-4zM113 567h4v4h-4zM116 566h4v4h-4zM117 566h4v4h-4zM120 566h4v4h-4zM122 566h4v4h-4zM125 566h4v4h-4zM128 566h4v4h-4zM130 567h4v4h-4zM133 566h4v4h-4zM135 567h4v4h-4zM138 567h4v4h-4zM112 570h4v4h-4zM115 569h4v4h-4zM118 568h4v4h-4zM120 569h4v4h-4zM125 568h4v4h-4zM128 568h4v4h-4zM132 569h4v4h-4zM136 570h4v4h-4zM140 570h4v4h-4zM112 572h4v4h-4zM116 571h4v4h-4zM119 571h4v4h-4zM120 571h4v4h-4zM122 572h4v4h-4zM125 571h4v4h-4zM128 572h4v4h-4zM131 572h4v4h-4zM138 571h4v4h-4zM140 571h4v4h-4zM113 574h4v4h-4zM115 573h4v4h-4zM118 573h4v4h-4zM121 573h4v4h-4zM123 574h4v4h-4zM126 574h4v4h-4zM130 574h4v4h-4zM133 574h4v4h-4zM136 573h4v4h-4zM139 575h4v4h-4zM116 577h4v4h-4zM120 576h4v4h-4zM124 577h4v4h-4zM128 577h4v4h-4zM131 577h4v4h-4zM133 577h4v4h-4zM139 577h4v4h-4zM142 577h4v4h-4zM114 579h4v4h-4zM120 579h4v4h-4zM122 579h4v4h-4zM126 578h4v4h-4zM127 579h4v4h-4zM123 581h4v4h-4zM125 581h4v4h-4zM128 581h4v4h-4zM130 581h4v4h-4zM132 581h4v4h-4zM136 582h4v4h-4zM125 584h4v4h-4z"/><path fill="#7a3f3a" d="M181 559h4v4h-4zM185 560h4v4h-4zM191 559h4v4h-4zM192 560h4v4h-4zM180 561h4v4h-4zM183 562h4v4h-4zM185 562h4v4h-4zM188 562h4v4h-4zM191 561h4v4h-4zM179 563h4v4h-4zM183 564h4v4h-4zM185 563h4v4h-4zM188 564h4v4h-4zM191 564h4v4h-4zM195 564h4v4h-4zM199 564h4v4h-4zM178 567h4v4h-4zM182 566h4v4h-4zM185 566h4v4h-4zM188 567h4v4h-4zM191 567h4v4h-4zM196 566h4v4h-4zM198 567h4v4h-4zM200 566h4v4h-4zM180 569h4v4h-4zM183 570h4v4h-4zM185 569h4v4h-4zM189 570h4v4h-4zM190 569h4v4h-4zM194 570h4v4h-4zM195 569h4v4h-4zM197 569h4v4h-4zM200 570h4v4h-4zM183 571h4v4h-4zM184 571h4v4h-4zM190 572h4v4h-4zM192 571h4v4h-4zM197 571h4v4h-4zM200 571h4v4h-4zM202 571h4v4h-4zM205 571h4v4h-4zM183 574h4v4h-4zM185 574h4v4h-4zM187 575h4v4h-4zM191 574h4v4h-4zM193 575h4v4h-4zM197 575h4v4h-4zM200 573h4v4h-4zM204 573h4v4h-4zM205 574h4v4h-4zM207 574h4v4h-4zM188 577h4v4h-4zM191 576h4v4h-4zM192 576h4v4h-4zM196 576h4v4h-4zM198 577h4v4h-4zM200 577h4v4h-4zM203 577h4v4h-4zM205 577h4v4h-4zM208 577h4v4h-4zM192 580h4v4h-4zM196 579h4v4h-4zM198 580h4v4h-4zM201 579h4v4h-4zM203 580h4v4h-4zM205 579h4v4h-4zM207 578h4v4h-4zM210 578h4v4h-4zM212 580h4v4h-4zM199 581h4v4h-4zM200 581h4v4h-4zM202 582h4v4h-4zM205 581h4v4h-4zM208 581h4v4h-4zM210 581h4v4h-4zM200 584h4v4h-4zM202 584h4v4h-4zM206 584h4v4h-4zM210 585h4v4h-4zM201 587h4v4h-4zM203 587h4v4h-4zM206 587h4v4h-4zM209 586h4v4h-4zM210 587h4v4h-4zM212 586h4v4h-4zM206 589h4v4h-4z"/><path fill="#f4917c" d="M158 540h4v4h-4zM155 541h4v4h-4zM158 542h4v4h-4zM161 541h4v4h-4zM163 541h4v4h-4zM151 545h4v4h-4zM153 544h4v4h-4zM155 544h4v4h-4zM158 543h4v4h-4zM161 545h4v4h-4zM162 543h4v4h-4zM169 545h4v4h-4zM150 547h4v4h-4zM154 547h4v4h-4zM155 547h4v4h-4zM158 546h4v4h-4zM160 547h4v4h-4zM162 546h4v4h-4zM166 547h4v4h-4zM151 549h4v4h-4zM153 549h4v4h-4zM156 550h4v4h-4zM158 548h4v4h-4zM163 549h4v4h-4zM166 548h4v4h-4zM167 549h4v4h-4zM147 552h4v4h-4zM149 551h4v4h-4zM153 552h4v4h-4zM156 551h4v4h-4zM158 552h4v4h-4zM161 552h4v4h-4zM162 552h4v4h-4zM165 552h4v4h-4zM168 551h4v4h-4zM145 555h4v4h-4zM150 554h4v4h-4zM153 554h4v4h-4zM156 554h4v4h-4zM158 555h4v4h-4zM160 554h4v4h-4zM163 554h4v4h-4zM165 554h4v4h-4zM170 555h4v4h-4zM147 557h4v4h-4zM151 556h4v4h-4zM154 556h4v4h-4zM156 556h4v4h-4zM157 556h4v4h-4zM161 556h4v4h-4zM163 556h4v4h-4zM166 556h4v4h-4zM167 556h4v4h-4zM145 559h4v4h-4zM151 559h4v4h-4zM153 558h4v4h-4zM156 559h4v4h-4zM158 559h4v4h-4zM160 559h4v4h-4zM162 560h4v4h-4zM166 558h4v4h-4zM168 558h4v4h-4zM148 561h4v4h-4zM150 561h4v4h-4zM152 561h4v4h-4zM156 561h4v4h-4zM157 562h4v4h-4zM160 562h4v4h-4zM162 561h4v4h-4zM165 562h4v4h-4zM168 562h4v4h-4zM153 564h4v4h-4zM155 564h4v4h-4zM158 563h4v4h-4zM160 563h4v4h-4zM162 565h4v4h-4zM166 564h4v4h-4zM154 566h4v4h-4zM157 567h4v4h-4zM160 567h4v4h-4z"/><path fill="#a0523a" d="M70 509h4v4h-4zM61 511h4v4h-4zM63 511h4v4h-4zM57 513h4v4h-4zM55 519h4v4h-4zM74 532h4v4h-4zM50 536h4v4h-4zM77 537h4v4h-4zM82 536h4v4h-4zM36 540h4v4h-4zM39 540h4v4h-4zM46 539h4v4h-4zM47 538h4v4h-4zM51 539h4v4h-4zM53 539h4v4h-4zM75 538h4v4h-4zM85 540h4v4h-4zM38 541h4v4h-4zM44 541h4v4h-4zM46 542h4v4h-4zM47 542h4v4h-4zM50 542h4v4h-4zM55 542h4v4h-4zM38 544h4v4h-4zM40 545h4v4h-4zM42 544h4v4h-4zM44 544h4v4h-4zM48 543h4v4h-4zM50 545h4v4h-4zM53 543h4v4h-4zM55 544h4v4h-4zM57 543h4v4h-4zM82 544h4v4h-4zM43 546h4v4h-4zM46 546h4v4h-4zM47 547h4v4h-4zM50 547h4v4h-4zM53 546h4v4h-4zM55 546h4v4h-4zM36 548h4v4h-4zM38 549h4v4h-4zM40 549h4v4h-4zM45 549h4v4h-4zM48 549h4v4h-4zM53 549h4v4h-4zM56 548h4v4h-4zM63 550h4v4h-4zM78 549h4v4h-4zM40 551h4v4h-4zM43 552h4v4h-4zM46 551h4v4h-4zM48 552h4v4h-4zM51 551h4v4h-4zM53 552h4v4h-4zM63 551h4v4h-4zM43 554h4v4h-4zM46 554h4v4h-4zM69 554h4v4h-4zM75 555h4v4h-4zM85 554h4v4h-4zM53 557h4v4h-4zM42 559h4v4h-4zM37 561h4v4h-4zM43 562h4v4h-4zM80 562h4v4h-4zM82 561h4v4h-4zM48 564h4v4h-4zM78 564h4v4h-4zM54 567h4v4h-4zM61 566h4v4h-4zM62 569h4v4h-4zM51 571h4v4h-4zM46 574h4v4h-4zM58 574h4v4h-4z"/><path fill="#1b4c9c" d="M182 556h4v4h-4zM211 557h4v4h-4zM150 564h4v4h-4zM149 571h4v4h-4zM216 572h4v4h-4zM102 574h4v4h-4zM85 577h4v4h-4zM182 577h4v4h-4zM164 578h4v4h-4zM182 582h4v4h-4zM192 581h4v4h-4zM118 584h4v4h-4zM137 585h4v4h-4zM169 584h4v4h-4zM171 584h4v4h-4zM175 584h4v4h-4zM193 585h4v4h-4zM88 589h4v4h-4zM135 588h4v4h-4zM138 589h4v4h-4zM151 589h4v4h-4zM165 589h4v4h-4zM173 588h4v4h-4zM90 592h4v4h-4zM67 593h4v4h-4zM87 593h4v4h-4zM168 595h4v4h-4zM173 594h4v4h-4zM190 595h4v4h-4zM167 597h4v4h-4zM181 596h4v4h-4zM190 596h4v4h-4zM192 597h4v4h-4zM200 597h4v4h-4zM148 599h4v4h-4zM193 598h4v4h-4zM205 599h4v4h-4zM183 602h4v4h-4zM181 603h4v4h-4zM189 605h4v4h-4zM208 604h4v4h-4zM168 606h4v4h-4zM186 607h4v4h-4zM117 610h4v4h-4zM178 609h4v4h-4zM185 609h4v4h-4zM192 609h4v4h-4zM159 612h4v4h-4zM188 612h4v4h-4zM195 611h4v4h-4zM168 614h4v4h-4zM171 615h4v4h-4zM186 615h4v4h-4zM172 616h4v4h-4zM179 617h4v4h-4zM182 617h4v4h-4zM90 618h4v4h-4zM170 618h4v4h-4zM180 619h4v4h-4zM190 619h4v4h-4zM193 622h4v4h-4zM118 627h4v4h-4zM165 629h4v4h-4zM175 629h4v4h-4zM133 631h4v4h-4zM160 632h4v4h-4zM126 635h4v4h-4zM163 635h4v4h-4zM166 635h4v4h-4zM172 633h4v4h-4zM115 639h4v4h-4zM126 642h4v4h-4z"/><path fill="#1f77b4" d="M145 453h4v4h-4zM137 457h4v4h-4zM150 456h4v4h-4zM155 459h4v4h-4zM163 460h4v4h-4zM170 462h4v4h-4zM150 464h4v4h-4zM153 464h4v4h-4zM152 466h4v4h-4zM157 466h4v4h-4zM156 470h4v4h-4zM158 469h4v4h-4zM163 468h4v4h-4zM170 469h4v4h-4zM150 472h4v4h-4zM153 471h4v4h-4zM150 474h4v4h-4zM153 475h4v4h-4zM163 474h4v4h-4zM166 475h4v4h-4zM153 477h4v4h-4zM170 477h4v4h-4zM173 477h4v4h-4zM151 479h4v4h-4zM195 482h4v4h-4zM172 488h4v4h-4zM77 531h4v4h-4zM55 533h4v4h-4zM73 535h4v4h-4zM75 535h4v4h-4zM71 536h4v4h-4zM68 539h4v4h-4zM71 541h4v4h-4zM65 544h4v4h-4zM71 545h4v4h-4zM57 549h4v4h-4zM61 549h4v4h-4zM71 549h4v4h-4zM86 549h4v4h-4zM60 551h4v4h-4zM72 551h4v4h-4zM75 552h4v4h-4zM83 552h4v4h-4zM85 552h4v4h-4zM236 551h4v4h-4zM48 555h4v4h-4zM55 554h4v4h-4zM65 554h4v4h-4zM73 554h4v4h-4zM61 556h4v4h-4zM50 558h4v4h-4zM68 559h4v4h-4zM65 561h4v4h-4zM43 566h4v4h-4zM46 566h4v4h-4zM50 566h4v4h-4zM66 567h4v4h-4zM77 568h4v4h-4zM53 571h4v4h-4zM53 576h4v4h-4z"/><path fill="#17becf" d="M56 552h4v4h-4zM84 553h4v4h-4zM45 556h4v4h-4zM57 556h4v4h-4zM64 556h4v4h-4zM52 560h4v4h-4zM90 559h4v4h-4zM49 561h4v4h-4zM50 561h4v4h-4zM58 563h4v4h-4zM55 566h4v4h-4zM59 568h4v4h-4zM66 568h4v4h-4zM55 574h4v4h-4zM73 574h4v4h-4zM96 600h4v4h-4zM84 602h4v4h-4zM63 603h4v4h-4zM86 604h4v4h-4zM93 604h4v4h-4zM96 605h4v4h-4zM97 605h4v4h-4zM63 607h4v4h-4zM76 606h4v4h-4zM78 607h4v4h-4zM80 607h4v4h-4zM83 606h4v4h-4zM97 606h4v4h-4zM73 610h4v4h-4zM82 611h4v4h-4zM95 611h4v4h-4zM93 617h4v4h-4zM76 626h4v4h-4zM85 630h4v4h-4zM97 643h4v4h-4zM143 643h4v4h-4zM114 646h4v4h-4zM128 646h4v4h-4zM138 646h4v4h-4zM124 652h4v4h-4zM137 651h4v4h-4zM125 654h4v4h-4z"/><path fill="#86d3bd" d="M80 600h4v4h-4zM95 602h4v4h-4zM65 603h4v4h-4zM84 604h4v4h-4zM87 604h4v4h-4zM66 607h4v4h-4zM73 607h4v4h-4zM68 608h4v4h-4zM70 608h4v4h-4zM82 609h4v4h-4zM71 612h4v4h-4zM75 612h4v4h-4zM90 611h4v4h-4zM89 614h4v4h-4zM90 613h4v4h-4zM67 616h4v4h-4zM82 617h4v4h-4zM88 616h4v4h-4zM79 622h4v4h-4zM78 627h4v4h-4zM80 630h4v4h-4zM87 631h4v4h-4zM89 632h4v4h-4zM80 633h4v4h-4zM143 639h4v4h-4zM110 642h4v4h-4zM143 641h4v4h-4zM109 644h4v4h-4zM118 645h4v4h-4zM133 644h4v4h-4zM103 647h4v4h-4zM122 646h4v4h-4zM123 648h4v4h-4zM127 650h4v4h-4zM137 648h4v4h-4zM136 652h4v4h-4z"/><path fill="#1a8f9a" d="M128 465h4v4h-4zM133 463h4v4h-4zM136 463h4v4h-4zM141 470h4v4h-4zM129 473h4v4h-4zM133 474h4v4h-4zM156 474h4v4h-4zM133 476h4v4h-4zM134 476h4v4h-4zM153 479h4v4h-4zM157 480h4v4h-4zM123 481h4v4h-4zM132 481h4v4h-4zM138 484h4v4h-4zM156 485h4v4h-4zM158 484h4v4h-4zM155 486h4v4h-4zM138 490h4v4h-4zM165 494h4v4h-4zM126 497h4v4h-4zM137 496h4v4h-4zM135 499h4v4h-4zM119 501h4v4h-4zM133 501h4v4h-4zM122 505h4v4h-4zM127 503h4v4h-4zM123 506h4v4h-4zM128 506h4v4h-4zM129 512h4v4h-4zM132 511h4v4h-4zM132 514h4v4h-4z"/><path fill="#e377c2" d="M145 449h4v4h-4zM142 452h4v4h-4zM65 476h4v4h-4zM69 479h4v4h-4zM72 479h4v4h-4zM68 481h4v4h-4zM71 481h4v4h-4zM76 482h4v4h-4zM67 484h4v4h-4zM63 547h4v4h-4zM68 552h4v4h-4zM69 551h4v4h-4zM53 555h4v4h-4zM56 557h4v4h-4zM65 556h4v4h-4zM68 556h4v4h-4zM72 556h4v4h-4zM82 560h4v4h-4zM75 566h4v4h-4zM47 569h4v4h-4zM68 570h4v4h-4zM51 574h4v4h-4zM53 574h4v4h-4zM60 574h4v4h-4zM63 574h4v4h-4zM45 577h4v4h-4zM63 577h4v4h-4zM61 579h4v4h-4z"/><path fill="#6d3fb0" d="M190 579h4v4h-4zM166 587h4v4h-4zM169 588h4v4h-4zM183 588h4v4h-4zM193 588h4v4h-4zM179 591h4v4h-4zM197 591h4v4h-4zM163 594h4v4h-4zM176 593h4v4h-4zM180 593h4v4h-4zM185 596h4v4h-4zM165 598h4v4h-4zM177 602h4v4h-4zM186 602h4v4h-4zM198 602h4v4h-4zM208 601h4v4h-4zM165 604h4v4h-4zM173 605h4v4h-4zM181 606h4v4h-4zM199 606h4v4h-4zM202 607h4v4h-4zM166 611h4v4h-4zM167 612h4v4h-4zM162 613h4v4h-4zM193 616h4v4h-4zM178 620h4v4h-4zM183 621h4v4h-4zM177 624h4v4h-4z"/><path fill="#0b5e3a" d="M124 539h4v4h-4zM126 538h4v4h-4zM130 539h4v4h-4zM115 541h4v4h-4zM118 542h4v4h-4zM120 541h4v4h-4zM123 541h4v4h-4zM125 542h4v4h-4zM143 542h4v4h-4zM117 544h4v4h-4zM121 544h4v4h-4zM130 544h4v4h-4zM133 545h4v4h-4zM136 544h4v4h-4zM138 543h4v4h-4zM126 547h4v4h-4zM127 547h4v4h-4zM131 547h4v4h-4zM132 547h4v4h-4zM136 546h4v4h-4zM139 547h4v4h-4zM141 546h4v4h-4zM142 546h4v4h-4zM126 548h4v4h-4zM135 549h4v4h-4zM137 549h4v4h-4z"/><path fill="#f8e800" d="M68 612h4v4h-4zM64 614h4v4h-4zM71 621h4v4h-4zM74 621h4v4h-4zM77 624h4v4h-4zM81 626h4v4h-4zM73 629h4v4h-4zM91 637h4v4h-4zM90 639h4v4h-4zM97 640h4v4h-4zM97 641h4v4h-4zM99 642h4v4h-4zM115 642h4v4h-4zM116 647h4v4h-4zM117 647h4v4h-4zM126 646h4v4h-4zM131 646h4v4h-4zM141 647h4v4h-4zM143 646h4v4h-4zM109 648h4v4h-4zM118 648h4v4h-4zM132 649h4v4h-4zM136 649h4v4h-4zM139 649h4v4h-4zM114 651h4v4h-4zM130 654h4v4h-4z"/><path fill="#b0553c" d="M186 464h4v4h-4zM186 467h4v4h-4zM187 467h4v4h-4zM185 469h4v4h-4zM188 469h4v4h-4zM181 471h4v4h-4zM184 472h4v4h-4zM188 471h4v4h-4zM190 471h4v4h-4zM182 474h4v4h-4zM185 474h4v4h-4zM188 474h4v4h-4zM191 475h4v4h-4zM192 474h4v4h-4zM178 476h4v4h-4zM179 476h4v4h-4zM183 476h4v4h-4zM188 477h4v4h-4zM183 479h4v4h-4zM190 479h4v4h-4zM185 485h4v4h-4zM188 485h4v4h-4z"/><path fill="#2ca02c" d="M115 522h4v4h-4zM106 526h4v4h-4zM58 552h4v4h-4zM65 552h4v4h-4zM81 552h4v4h-4zM58 554h4v4h-4zM43 556h4v4h-4zM81 557h4v4h-4zM78 559h4v4h-4zM86 559h4v4h-4zM53 561h4v4h-4zM55 562h4v4h-4zM70 561h4v4h-4zM50 563h4v4h-4zM64 564h4v4h-4zM65 564h4v4h-4zM45 569h4v4h-4zM50 570h4v4h-4zM56 569h4v4h-4zM56 571h4v4h-4zM70 574h4v4h-4zM56 577h4v4h-4z"/><path fill="#ff7f0e" d="M52 542h4v4h-4zM41 546h4v4h-4zM63 554h4v4h-4zM80 554h4v4h-4zM82 557h4v4h-4zM58 560h4v4h-4zM66 558h4v4h-4zM70 559h4v4h-4zM76 559h4v4h-4zM89 559h4v4h-4zM60 561h4v4h-4zM62 561h4v4h-4zM74 561h4v4h-4zM86 561h4v4h-4zM55 564h4v4h-4zM48 566h4v4h-4zM52 569h4v4h-4zM60 568h4v4h-4zM46 571h4v4h-4zM57 571h4v4h-4zM62 572h4v4h-4zM67 576h4v4h-4z"/><path fill="#16a779" d="M219 515h4v4h-4zM214 516h4v4h-4zM226 522h4v4h-4zM225 523h4v4h-4zM212 527h4v4h-4zM207 535h4v4h-4zM225 535h4v4h-4zM215 548h4v4h-4zM222 562h4v4h-4zM213 565h4v4h-4zM217 564h4v4h-4zM223 564h4v4h-4zM211 566h4v4h-4zM217 567h4v4h-4zM224 567h4v4h-4zM226 566h4v4h-4zM214 570h4v4h-4zM218 570h4v4h-4zM222 569h4v4h-4zM226 569h4v4h-4zM220 572h4v4h-4z"/><path fill="#7a3b30" d="M87 476h4v4h-4zM90 479h4v4h-4zM86 481h4v4h-4zM87 482h4v4h-4zM91 481h4v4h-4zM93 484h4v4h-4zM82 505h4v4h-4zM80 507h4v4h-4zM76 509h4v4h-4zM79 509h4v4h-4zM80 509h4v4h-4zM82 509h4v4h-4zM85 509h4v4h-4zM87 509h4v4h-4zM80 511h4v4h-4zM83 512h4v4h-4zM86 512h4v4h-4zM92 512h4v4h-4zM85 515h4v4h-4z"/><path fill="#bcbd22" d="M67 604h4v4h-4zM67 614h4v4h-4zM67 619h4v4h-4zM80 621h4v4h-4zM72 626h4v4h-4zM85 637h4v4h-4zM96 636h4v4h-4zM135 644h4v4h-4zM132 647h4v4h-4zM135 646h4v4h-4zM131 649h4v4h-4zM123 652h4v4h-4zM131 652h4v4h-4zM137 654h4v4h-4z"/><path fill="#a2dcd2" d="M155 520h4v4h-4zM157 520h4v4h-4zM160 518h4v4h-4zM163 519h4v4h-4zM160 522h4v4h-4zM162 522h4v4h-4zM165 522h4v4h-4zM158 524h4v4h-4zM161 525h4v4h-4zM162 524h4v4h-4zM157 527h4v4h-4zM167 527h4v4h-4zM162 530h4v4h-4z"/><path fill="#9189cc" d="M182 467h4v4h-4zM186 471h4v4h-4zM185 477h4v4h-4zM193 477h4v4h-4zM185 480h4v4h-4zM187 479h4v4h-4zM186 482h4v4h-4zM187 482h4v4h-4zM183 486h4v4h-4zM185 487h4v4h-4zM190 487h4v4h-4zM190 490h4v4h-4z"/><path fill="#9467bd" d="M141 452h4v4h-4zM147 452h4v4h-4zM151 453h4v4h-4zM140 457h4v4h-4zM146 457h4v4h-4zM145 458h4v4h-4zM141 461h4v4h-4zM69 477h4v4h-4zM70 479h4v4h-4zM75 480h4v4h-4zM72 481h4v4h-4z"/><path fill="#f17ba8" d="M182 484h4v4h-4zM191 484h4v4h-4zM187 487h4v4h-4zM185 489h4v4h-4zM188 489h4v4h-4zM191 491h4v4h-4z"/><path fill="#a3d035" d="M195 471h4v4h-4zM196 474h4v4h-4zM198 475h4v4h-4zM195 476h4v4h-4zM198 476h4v4h-4z"/></g>
<rect x="11.4" y="219.5" width="116.1" height="115.7" fill="none" stroke="#666" stroke-width="0.9"/>
<text transform="translate(68.05 215.40) scale(0.9524 1)" font-size="8.66" font-weight="bold" text-anchor="middle">MC/cell population</text>
<text transform="translate(7.0 277.35) rotate(-90) scale(0.9524 1)" font-size="8.66" text-anchor="middle">opt-SNE 2</text>
<g transform="scale(0.5)"><path fill="#7ecba1" d="M216 857h4v4h-4zM215 860h4v4h-4zM223 860h4v4h-4zM228 861h4v4h-4zM145 865h4v4h-4zM151 865h4v4h-4zM153 865h4v4h-4zM200 865h4v4h-4zM211 865h4v4h-4zM142 867h4v4h-4zM145 868h4v4h-4zM150 868h4v4h-4zM153 867h4v4h-4zM155 867h4v4h-4zM157 868h4v4h-4zM199 867h4v4h-4zM218 867h4v4h-4zM138 870h4v4h-4zM146 870h4v4h-4zM148 870h4v4h-4zM150 870h4v4h-4zM153 870h4v4h-4zM155 870h4v4h-4zM158 871h4v4h-4zM160 871h4v4h-4zM225 870h4v4h-4zM136 873h4v4h-4zM138 873h4v4h-4zM140 873h4v4h-4zM143 873h4v4h-4zM146 873h4v4h-4zM147 872h4v4h-4zM150 872h4v4h-4zM153 872h4v4h-4zM155 873h4v4h-4zM160 873h4v4h-4zM162 872h4v4h-4zM164 873h4v4h-4zM210 872h4v4h-4zM215 873h4v4h-4zM131 875h4v4h-4zM133 875h4v4h-4zM136 874h4v4h-4zM137 875h4v4h-4zM140 875h4v4h-4zM143 875h4v4h-4zM145 875h4v4h-4zM150 875h4v4h-4zM152 874h4v4h-4zM155 876h4v4h-4zM158 875h4v4h-4zM160 875h4v4h-4zM162 875h4v4h-4zM166 875h4v4h-4zM168 875h4v4h-4zM203 875h4v4h-4zM215 876h4v4h-4zM126 878h4v4h-4zM128 877h4v4h-4zM129 878h4v4h-4zM132 878h4v4h-4zM135 878h4v4h-4zM138 877h4v4h-4zM140 878h4v4h-4zM142 878h4v4h-4zM148 878h4v4h-4zM151 878h4v4h-4zM153 877h4v4h-4zM155 877h4v4h-4zM157 878h4v4h-4zM161 878h4v4h-4zM163 877h4v4h-4zM168 878h4v4h-4zM214 878h4v4h-4zM125 879h4v4h-4zM127 880h4v4h-4zM130 881h4v4h-4zM133 881h4v4h-4zM135 880h4v4h-4zM139 880h4v4h-4zM141 879h4v4h-4zM143 879h4v4h-4zM145 880h4v4h-4zM148 880h4v4h-4zM150 881h4v4h-4zM155 880h4v4h-4zM157 880h4v4h-4zM160 880h4v4h-4zM162 879h4v4h-4zM166 880h4v4h-4zM168 880h4v4h-4zM170 881h4v4h-4zM115 883h4v4h-4zM121 882h4v4h-4zM123 883h4v4h-4zM125 883h4v4h-4zM133 883h4v4h-4zM135 883h4v4h-4zM138 882h4v4h-4zM141 883h4v4h-4zM143 883h4v4h-4zM146 883h4v4h-4zM147 882h4v4h-4zM150 882h4v4h-4zM153 883h4v4h-4zM156 883h4v4h-4zM159 882h4v4h-4zM160 883h4v4h-4zM165 882h4v4h-4zM169 882h4v4h-4zM171 883h4v4h-4zM117 885h4v4h-4zM120 884h4v4h-4zM124 885h4v4h-4zM128 886h4v4h-4zM131 886h4v4h-4zM136 885h4v4h-4zM138 885h4v4h-4zM141 885h4v4h-4zM143 885h4v4h-4zM145 885h4v4h-4zM148 885h4v4h-4zM150 884h4v4h-4zM153 885h4v4h-4zM155 886h4v4h-4zM157 885h4v4h-4zM161 885h4v4h-4zM163 886h4v4h-4zM165 885h4v4h-4zM167 885h4v4h-4zM170 885h4v4h-4zM173 885h4v4h-4zM176 885h4v4h-4zM179 885h4v4h-4zM179 884h4v4h-4zM183 885h4v4h-4zM197 885h4v4h-4zM200 885h4v4h-4zM203 885h4v4h-4zM205 886h4v4h-4zM208 884h4v4h-4zM210 885h4v4h-4zM213 885h4v4h-4zM215 885h4v4h-4zM218 886h4v4h-4zM221 885h4v4h-4zM222 885h4v4h-4zM226 885h4v4h-4zM114 888h4v4h-4zM117 887h4v4h-4zM120 888h4v4h-4zM123 887h4v4h-4zM125 888h4v4h-4zM130 888h4v4h-4zM134 888h4v4h-4zM135 887h4v4h-4zM138 888h4v4h-4zM141 887h4v4h-4zM143 888h4v4h-4zM145 887h4v4h-4zM147 887h4v4h-4zM150 887h4v4h-4zM152 888h4v4h-4zM155 887h4v4h-4zM161 887h4v4h-4zM162 887h4v4h-4zM166 887h4v4h-4zM168 887h4v4h-4zM171 887h4v4h-4zM173 888h4v4h-4zM175 887h4v4h-4zM178 887h4v4h-4zM181 888h4v4h-4zM183 887h4v4h-4zM193 888h4v4h-4zM194 888h4v4h-4zM197 888h4v4h-4zM200 887h4v4h-4zM203 887h4v4h-4zM205 887h4v4h-4zM208 888h4v4h-4zM211 888h4v4h-4zM214 887h4v4h-4zM216 888h4v4h-4zM219 887h4v4h-4zM221 888h4v4h-4zM223 888h4v4h-4zM225 887h4v4h-4zM228 887h4v4h-4zM118 890h4v4h-4zM120 890h4v4h-4zM123 890h4v4h-4zM125 891h4v4h-4zM128 889h4v4h-4zM134 889h4v4h-4zM135 891h4v4h-4zM138 890h4v4h-4zM140 890h4v4h-4zM143 891h4v4h-4zM146 890h4v4h-4zM147 890h4v4h-4zM153 890h4v4h-4zM154 891h4v4h-4zM158 889h4v4h-4zM161 891h4v4h-4zM163 890h4v4h-4zM165 891h4v4h-4zM167 889h4v4h-4zM171 891h4v4h-4zM173 890h4v4h-4zM176 891h4v4h-4zM183 890h4v4h-4zM195 891h4v4h-4zM203 889h4v4h-4zM205 890h4v4h-4zM207 890h4v4h-4zM210 890h4v4h-4zM213 890h4v4h-4zM215 890h4v4h-4zM218 889h4v4h-4zM223 891h4v4h-4zM226 891h4v4h-4zM228 891h4v4h-4zM113 893h4v4h-4zM115 893h4v4h-4zM121 893h4v4h-4zM123 893h4v4h-4zM126 892h4v4h-4zM128 892h4v4h-4zM131 892h4v4h-4zM133 893h4v4h-4zM136 892h4v4h-4zM137 893h4v4h-4zM140 893h4v4h-4zM143 893h4v4h-4zM145 893h4v4h-4zM148 893h4v4h-4zM151 893h4v4h-4zM152 892h4v4h-4zM156 893h4v4h-4zM157 893h4v4h-4zM161 893h4v4h-4zM164 892h4v4h-4zM165 892h4v4h-4zM168 893h4v4h-4zM170 892h4v4h-4zM173 892h4v4h-4zM175 892h4v4h-4zM206 893h4v4h-4zM211 892h4v4h-4zM213 892h4v4h-4zM215 892h4v4h-4zM217 892h4v4h-4zM221 893h4v4h-4zM222 893h4v4h-4zM225 892h4v4h-4zM230 893h4v4h-4zM109 895h4v4h-4zM111 895h4v4h-4zM112 896h4v4h-4zM116 894h4v4h-4zM117 896h4v4h-4zM120 896h4v4h-4zM122 894h4v4h-4zM125 895h4v4h-4zM127 895h4v4h-4zM130 894h4v4h-4zM134 895h4v4h-4zM137 896h4v4h-4zM140 894h4v4h-4zM143 896h4v4h-4zM145 895h4v4h-4zM148 896h4v4h-4zM150 894h4v4h-4zM152 896h4v4h-4zM156 895h4v4h-4zM158 895h4v4h-4zM161 895h4v4h-4zM163 896h4v4h-4zM166 896h4v4h-4zM168 896h4v4h-4zM170 896h4v4h-4zM174 894h4v4h-4zM183 896h4v4h-4zM200 896h4v4h-4zM207 895h4v4h-4zM210 896h4v4h-4zM212 895h4v4h-4zM218 895h4v4h-4zM220 895h4v4h-4zM223 896h4v4h-4zM225 896h4v4h-4zM227 895h4v4h-4zM98 898h4v4h-4zM106 898h4v4h-4zM110 898h4v4h-4zM112 898h4v4h-4zM115 898h4v4h-4zM118 898h4v4h-4zM120 898h4v4h-4zM122 898h4v4h-4zM125 898h4v4h-4zM128 898h4v4h-4zM130 897h4v4h-4zM133 897h4v4h-4zM135 897h4v4h-4zM139 898h4v4h-4zM140 898h4v4h-4zM142 897h4v4h-4zM145 898h4v4h-4zM147 898h4v4h-4zM151 898h4v4h-4zM153 898h4v4h-4zM155 898h4v4h-4zM158 897h4v4h-4zM160 898h4v4h-4zM164 898h4v4h-4zM164 897h4v4h-4zM170 897h4v4h-4zM172 897h4v4h-4zM188 897h4v4h-4zM205 898h4v4h-4zM207 897h4v4h-4zM210 898h4v4h-4zM213 898h4v4h-4zM215 898h4v4h-4zM219 898h4v4h-4zM220 898h4v4h-4zM223 897h4v4h-4zM93 901h4v4h-4zM103 899h4v4h-4zM105 900h4v4h-4zM108 900h4v4h-4zM111 901h4v4h-4zM113 900h4v4h-4zM115 901h4v4h-4zM118 901h4v4h-4zM123 900h4v4h-4zM125 901h4v4h-4zM127 900h4v4h-4zM129 900h4v4h-4zM132 900h4v4h-4zM135 901h4v4h-4zM138 899h4v4h-4zM142 900h4v4h-4zM146 900h4v4h-4zM147 900h4v4h-4zM150 900h4v4h-4zM153 900h4v4h-4zM154 901h4v4h-4zM158 900h4v4h-4zM161 900h4v4h-4zM162 900h4v4h-4zM166 900h4v4h-4zM173 901h4v4h-4zM208 899h4v4h-4zM213 900h4v4h-4zM216 901h4v4h-4zM219 900h4v4h-4zM220 900h4v4h-4zM223 901h4v4h-4zM227 899h4v4h-4zM87 903h4v4h-4zM92 903h4v4h-4zM95 903h4v4h-4zM98 903h4v4h-4zM101 902h4v4h-4zM103 903h4v4h-4zM106 903h4v4h-4zM110 902h4v4h-4zM113 902h4v4h-4zM115 903h4v4h-4zM117 903h4v4h-4zM121 903h4v4h-4zM123 903h4v4h-4zM125 902h4v4h-4zM127 902h4v4h-4zM131 903h4v4h-4zM133 903h4v4h-4zM134 902h4v4h-4zM138 903h4v4h-4zM140 903h4v4h-4zM144 903h4v4h-4zM146 902h4v4h-4zM148 902h4v4h-4zM150 902h4v4h-4zM156 902h4v4h-4zM159 903h4v4h-4zM165 902h4v4h-4zM168 903h4v4h-4zM171 903h4v4h-4zM200 903h4v4h-4zM208 903h4v4h-4zM210 903h4v4h-4zM212 902h4v4h-4zM215 902h4v4h-4zM217 903h4v4h-4zM81 906h4v4h-4zM91 905h4v4h-4zM93 905h4v4h-4zM98 905h4v4h-4zM103 905h4v4h-4zM106 906h4v4h-4zM108 905h4v4h-4zM111 904h4v4h-4zM115 905h4v4h-4zM118 905h4v4h-4zM121 905h4v4h-4zM123 906h4v4h-4zM128 906h4v4h-4zM131 905h4v4h-4zM132 905h4v4h-4zM135 905h4v4h-4zM138 905h4v4h-4zM140 905h4v4h-4zM148 905h4v4h-4zM154 905h4v4h-4zM158 905h4v4h-4zM160 906h4v4h-4zM163 906h4v4h-4zM166 905h4v4h-4zM168 904h4v4h-4zM171 905h4v4h-4zM191 905h4v4h-4zM194 905h4v4h-4zM206 906h4v4h-4zM211 905h4v4h-4zM212 906h4v4h-4zM216 905h4v4h-4zM220 905h4v4h-4zM79 907h4v4h-4zM83 908h4v4h-4zM88 908h4v4h-4zM91 907h4v4h-4zM93 907h4v4h-4zM96 908h4v4h-4zM99 908h4v4h-4zM100 907h4v4h-4zM103 907h4v4h-4zM105 908h4v4h-4zM108 907h4v4h-4zM110 908h4v4h-4zM114 907h4v4h-4zM116 907h4v4h-4zM118 908h4v4h-4zM122 908h4v4h-4zM125 908h4v4h-4zM130 907h4v4h-4zM132 907h4v4h-4zM135 908h4v4h-4zM138 908h4v4h-4zM140 907h4v4h-4zM143 908h4v4h-4zM153 908h4v4h-4zM155 908h4v4h-4zM157 907h4v4h-4zM161 908h4v4h-4zM163 907h4v4h-4zM168 908h4v4h-4zM170 908h4v4h-4zM173 907h4v4h-4zM175 907h4v4h-4zM180 907h4v4h-4zM203 908h4v4h-4zM208 907h4v4h-4zM210 908h4v4h-4zM75 910h4v4h-4zM78 910h4v4h-4zM80 911h4v4h-4zM83 911h4v4h-4zM86 910h4v4h-4zM91 909h4v4h-4zM92 909h4v4h-4zM96 911h4v4h-4zM98 910h4v4h-4zM99 910h4v4h-4zM103 911h4v4h-4zM106 910h4v4h-4zM108 910h4v4h-4zM110 910h4v4h-4zM113 910h4v4h-4zM115 910h4v4h-4zM117 910h4v4h-4zM119 910h4v4h-4zM123 911h4v4h-4zM126 909h4v4h-4zM128 910h4v4h-4zM130 910h4v4h-4zM133 910h4v4h-4zM135 910h4v4h-4zM141 911h4v4h-4zM145 909h4v4h-4zM148 911h4v4h-4zM150 909h4v4h-4zM155 909h4v4h-4zM158 911h4v4h-4zM161 909h4v4h-4zM163 911h4v4h-4zM166 910h4v4h-4zM171 911h4v4h-4zM173 910h4v4h-4zM176 910h4v4h-4zM178 910h4v4h-4zM181 910h4v4h-4zM191 910h4v4h-4zM198 910h4v4h-4zM203 911h4v4h-4zM206 910h4v4h-4zM211 911h4v4h-4zM73 912h4v4h-4zM75 912h4v4h-4zM77 912h4v4h-4zM81 913h4v4h-4zM83 913h4v4h-4zM86 912h4v4h-4zM90 913h4v4h-4zM93 913h4v4h-4zM95 912h4v4h-4zM98 912h4v4h-4zM100 913h4v4h-4zM104 912h4v4h-4zM105 913h4v4h-4zM107 913h4v4h-4zM111 912h4v4h-4zM113 913h4v4h-4zM115 912h4v4h-4zM118 912h4v4h-4zM122 912h4v4h-4zM125 913h4v4h-4zM127 912h4v4h-4zM131 912h4v4h-4zM133 913h4v4h-4zM140 913h4v4h-4zM142 913h4v4h-4zM151 913h4v4h-4zM153 913h4v4h-4zM156 913h4v4h-4zM158 912h4v4h-4zM161 913h4v4h-4zM164 912h4v4h-4zM168 913h4v4h-4zM171 913h4v4h-4zM184 912h4v4h-4zM184 913h4v4h-4zM188 913h4v4h-4zM200 913h4v4h-4zM203 913h4v4h-4zM205 912h4v4h-4zM210 913h4v4h-4zM213 912h4v4h-4zM75 914h4v4h-4zM78 915h4v4h-4zM81 916h4v4h-4zM82 915h4v4h-4zM86 916h4v4h-4zM88 915h4v4h-4zM91 915h4v4h-4zM94 915h4v4h-4zM96 915h4v4h-4zM98 916h4v4h-4zM101 915h4v4h-4zM102 916h4v4h-4zM105 916h4v4h-4zM107 915h4v4h-4zM111 915h4v4h-4zM118 916h4v4h-4zM120 915h4v4h-4zM123 916h4v4h-4zM128 915h4v4h-4zM130 915h4v4h-4zM140 915h4v4h-4zM145 915h4v4h-4zM147 914h4v4h-4zM150 916h4v4h-4zM155 915h4v4h-4zM160 914h4v4h-4zM165 915h4v4h-4zM170 915h4v4h-4zM173 916h4v4h-4zM181 915h4v4h-4zM182 916h4v4h-4zM185 915h4v4h-4zM187 914h4v4h-4zM192 915h4v4h-4zM194 914h4v4h-4zM198 916h4v4h-4zM203 915h4v4h-4zM205 915h4v4h-4zM209 915h4v4h-4zM209 916h4v4h-4zM73 917h4v4h-4zM75 918h4v4h-4zM77 917h4v4h-4zM81 917h4v4h-4zM82 918h4v4h-4zM86 917h4v4h-4zM87 917h4v4h-4zM89 918h4v4h-4zM92 917h4v4h-4zM95 918h4v4h-4zM97 918h4v4h-4zM101 918h4v4h-4zM103 917h4v4h-4zM106 917h4v4h-4zM108 918h4v4h-4zM111 917h4v4h-4zM112 917h4v4h-4zM116 918h4v4h-4zM119 917h4v4h-4zM120 918h4v4h-4zM123 918h4v4h-4zM127 917h4v4h-4zM131 918h4v4h-4zM132 918h4v4h-4zM136 918h4v4h-4zM141 918h4v4h-4zM146 918h4v4h-4zM148 918h4v4h-4zM153 917h4v4h-4zM161 918h4v4h-4zM163 918h4v4h-4zM165 917h4v4h-4zM168 918h4v4h-4zM174 917h4v4h-4zM180 917h4v4h-4zM183 917h4v4h-4zM188 918h4v4h-4zM193 917h4v4h-4zM196 917h4v4h-4zM200 917h4v4h-4zM203 917h4v4h-4zM206 917h4v4h-4zM208 918h4v4h-4zM211 918h4v4h-4zM64 920h4v4h-4zM68 920h4v4h-4zM69 921h4v4h-4zM73 920h4v4h-4zM76 920h4v4h-4zM77 920h4v4h-4zM80 920h4v4h-4zM83 921h4v4h-4zM86 921h4v4h-4zM88 919h4v4h-4zM91 920h4v4h-4zM92 920h4v4h-4zM97 921h4v4h-4zM101 921h4v4h-4zM102 920h4v4h-4zM105 919h4v4h-4zM108 919h4v4h-4zM115 920h4v4h-4zM119 920h4v4h-4zM120 920h4v4h-4zM122 921h4v4h-4zM125 921h4v4h-4zM130 920h4v4h-4zM134 921h4v4h-4zM141 920h4v4h-4zM145 921h4v4h-4zM152 920h4v4h-4zM155 921h4v4h-4zM157 920h4v4h-4zM163 920h4v4h-4zM165 920h4v4h-4zM167 920h4v4h-4zM173 921h4v4h-4zM179 920h4v4h-4zM180 921h4v4h-4zM183 920h4v4h-4zM186 921h4v4h-4zM200 920h4v4h-4zM206 920h4v4h-4zM207 920h4v4h-4zM67 922h4v4h-4zM70 922h4v4h-4zM73 922h4v4h-4zM75 922h4v4h-4zM77 922h4v4h-4zM80 923h4v4h-4zM83 923h4v4h-4zM85 922h4v4h-4zM88 923h4v4h-4zM90 923h4v4h-4zM92 922h4v4h-4zM96 922h4v4h-4zM99 922h4v4h-4zM101 922h4v4h-4zM105 922h4v4h-4zM108 922h4v4h-4zM111 922h4v4h-4zM112 922h4v4h-4zM115 922h4v4h-4zM118 922h4v4h-4zM119 922h4v4h-4zM126 922h4v4h-4zM130 923h4v4h-4zM139 922h4v4h-4zM145 923h4v4h-4zM148 923h4v4h-4zM150 923h4v4h-4zM157 923h4v4h-4zM163 922h4v4h-4zM165 922h4v4h-4zM172 923h4v4h-4zM181 923h4v4h-4zM183 923h4v4h-4zM190 922h4v4h-4zM192 922h4v4h-4zM195 923h4v4h-4zM200 922h4v4h-4zM202 922h4v4h-4zM207 923h4v4h-4zM68 924h4v4h-4zM70 925h4v4h-4zM73 925h4v4h-4zM76 926h4v4h-4zM77 926h4v4h-4zM80 925h4v4h-4zM85 924h4v4h-4zM88 925h4v4h-4zM91 926h4v4h-4zM93 925h4v4h-4zM95 925h4v4h-4zM97 924h4v4h-4zM99 926h4v4h-4zM102 925h4v4h-4zM105 925h4v4h-4zM108 926h4v4h-4zM113 926h4v4h-4zM116 926h4v4h-4zM118 925h4v4h-4zM123 924h4v4h-4zM132 925h4v4h-4zM136 926h4v4h-4zM138 925h4v4h-4zM145 925h4v4h-4zM148 925h4v4h-4zM151 925h4v4h-4zM156 925h4v4h-4zM161 924h4v4h-4zM162 925h4v4h-4zM165 925h4v4h-4zM174 924h4v4h-4zM175 924h4v4h-4zM178 925h4v4h-4zM181 926h4v4h-4zM184 926h4v4h-4zM202 926h4v4h-4zM208 925h4v4h-4zM210 926h4v4h-4zM65 927h4v4h-4zM68 928h4v4h-4zM71 927h4v4h-4zM73 928h4v4h-4zM76 927h4v4h-4zM78 927h4v4h-4zM81 927h4v4h-4zM83 927h4v4h-4zM86 928h4v4h-4zM89 928h4v4h-4zM91 927h4v4h-4zM94 928h4v4h-4zM95 928h4v4h-4zM97 928h4v4h-4zM101 928h4v4h-4zM102 927h4v4h-4zM105 928h4v4h-4zM110 927h4v4h-4zM112 928h4v4h-4zM115 928h4v4h-4zM121 928h4v4h-4zM122 927h4v4h-4zM127 927h4v4h-4zM133 927h4v4h-4zM148 928h4v4h-4zM156 928h4v4h-4zM161 928h4v4h-4zM163 928h4v4h-4zM165 928h4v4h-4zM168 927h4v4h-4zM170 927h4v4h-4zM177 927h4v4h-4zM180 927h4v4h-4zM185 928h4v4h-4zM188 928h4v4h-4zM192 927h4v4h-4zM196 927h4v4h-4zM200 927h4v4h-4zM203 928h4v4h-4zM206 928h4v4h-4zM207 928h4v4h-4zM63 929h4v4h-4zM66 930h4v4h-4zM68 930h4v4h-4zM70 929h4v4h-4zM73 930h4v4h-4zM76 930h4v4h-4zM77 931h4v4h-4zM81 931h4v4h-4zM82 930h4v4h-4zM86 929h4v4h-4zM90 930h4v4h-4zM93 930h4v4h-4zM99 930h4v4h-4zM101 930h4v4h-4zM103 929h4v4h-4zM105 931h4v4h-4zM107 929h4v4h-4zM110 930h4v4h-4zM113 930h4v4h-4zM114 930h4v4h-4zM121 931h4v4h-4zM131 930h4v4h-4zM134 931h4v4h-4zM135 930h4v4h-4zM137 930h4v4h-4zM139 931h4v4h-4zM145 930h4v4h-4zM147 930h4v4h-4zM158 931h4v4h-4zM159 930h4v4h-4zM164 930h4v4h-4zM166 929h4v4h-4zM167 929h4v4h-4zM181 930h4v4h-4zM185 931h4v4h-4zM189 929h4v4h-4zM196 930h4v4h-4zM200 931h4v4h-4zM204 930h4v4h-4zM206 930h4v4h-4zM210 931h4v4h-4zM68 933h4v4h-4zM70 932h4v4h-4zM73 933h4v4h-4zM75 933h4v4h-4zM78 933h4v4h-4zM80 933h4v4h-4zM82 933h4v4h-4zM86 933h4v4h-4zM87 932h4v4h-4zM90 933h4v4h-4zM92 932h4v4h-4zM100 932h4v4h-4zM103 933h4v4h-4zM106 933h4v4h-4zM110 932h4v4h-4zM113 933h4v4h-4zM118 932h4v4h-4zM121 932h4v4h-4zM126 933h4v4h-4zM127 933h4v4h-4zM130 932h4v4h-4zM133 933h4v4h-4zM143 933h4v4h-4zM146 932h4v4h-4zM161 932h4v4h-4zM166 933h4v4h-4zM168 933h4v4h-4zM170 933h4v4h-4zM188 933h4v4h-4zM190 932h4v4h-4zM192 933h4v4h-4zM198 932h4v4h-4zM203 932h4v4h-4zM206 932h4v4h-4zM65 935h4v4h-4zM67 935h4v4h-4zM73 936h4v4h-4zM78 934h4v4h-4zM80 936h4v4h-4zM83 936h4v4h-4zM86 935h4v4h-4zM88 934h4v4h-4zM90 935h4v4h-4zM93 934h4v4h-4zM95 934h4v4h-4zM100 935h4v4h-4zM102 936h4v4h-4zM106 935h4v4h-4zM107 936h4v4h-4zM110 936h4v4h-4zM114 934h4v4h-4zM117 934h4v4h-4zM120 935h4v4h-4zM124 934h4v4h-4zM127 935h4v4h-4zM136 936h4v4h-4zM137 935h4v4h-4zM141 935h4v4h-4zM145 935h4v4h-4zM150 936h4v4h-4zM152 934h4v4h-4zM159 936h4v4h-4zM163 936h4v4h-4zM166 935h4v4h-4zM168 935h4v4h-4zM170 935h4v4h-4zM174 936h4v4h-4zM175 935h4v4h-4zM195 935h4v4h-4zM200 935h4v4h-4zM203 936h4v4h-4zM65 938h4v4h-4zM68 938h4v4h-4zM71 937h4v4h-4zM72 937h4v4h-4zM75 938h4v4h-4zM80 938h4v4h-4zM83 938h4v4h-4zM85 938h4v4h-4zM88 938h4v4h-4zM91 938h4v4h-4zM92 938h4v4h-4zM95 937h4v4h-4zM98 938h4v4h-4zM100 938h4v4h-4zM103 937h4v4h-4zM105 938h4v4h-4zM108 937h4v4h-4zM111 937h4v4h-4zM112 937h4v4h-4zM116 938h4v4h-4zM118 938h4v4h-4zM121 938h4v4h-4zM125 938h4v4h-4zM130 937h4v4h-4zM135 938h4v4h-4zM138 937h4v4h-4zM140 938h4v4h-4zM148 937h4v4h-4zM150 938h4v4h-4zM158 937h4v4h-4zM161 937h4v4h-4zM163 938h4v4h-4zM165 938h4v4h-4zM168 937h4v4h-4zM170 937h4v4h-4zM178 937h4v4h-4zM182 938h4v4h-4zM185 938h4v4h-4zM189 938h4v4h-4zM192 938h4v4h-4zM195 937h4v4h-4zM197 938h4v4h-4zM65 939h4v4h-4zM68 941h4v4h-4zM70 940h4v4h-4zM72 941h4v4h-4zM75 940h4v4h-4zM78 939h4v4h-4zM80 941h4v4h-4zM83 941h4v4h-4zM87 939h4v4h-4zM91 941h4v4h-4zM92 941h4v4h-4zM96 940h4v4h-4zM97 940h4v4h-4zM100 940h4v4h-4zM103 940h4v4h-4zM108 940h4v4h-4zM110 941h4v4h-4zM112 940h4v4h-4zM116 941h4v4h-4zM117 941h4v4h-4zM120 939h4v4h-4zM123 941h4v4h-4zM125 941h4v4h-4zM127 939h4v4h-4zM130 939h4v4h-4zM135 940h4v4h-4zM137 939h4v4h-4zM140 940h4v4h-4zM143 940h4v4h-4zM146 939h4v4h-4zM152 940h4v4h-4zM155 940h4v4h-4zM162 939h4v4h-4zM167 940h4v4h-4zM170 941h4v4h-4zM173 939h4v4h-4zM178 940h4v4h-4zM185 940h4v4h-4zM192 941h4v4h-4zM201 941h4v4h-4zM202 940h4v4h-4zM68 943h4v4h-4zM70 942h4v4h-4zM72 943h4v4h-4zM75 942h4v4h-4zM78 943h4v4h-4zM80 943h4v4h-4zM83 942h4v4h-4zM85 943h4v4h-4zM91 942h4v4h-4zM92 942h4v4h-4zM95 942h4v4h-4zM97 942h4v4h-4zM100 942h4v4h-4zM102 943h4v4h-4zM106 942h4v4h-4zM108 942h4v4h-4zM111 942h4v4h-4zM112 943h4v4h-4zM117 943h4v4h-4zM121 942h4v4h-4zM123 942h4v4h-4zM127 943h4v4h-4zM130 942h4v4h-4zM132 942h4v4h-4zM139 943h4v4h-4zM143 943h4v4h-4zM153 942h4v4h-4zM156 942h4v4h-4zM159 943h4v4h-4zM163 942h4v4h-4zM168 942h4v4h-4zM170 942h4v4h-4zM173 943h4v4h-4zM175 942h4v4h-4zM191 943h4v4h-4zM70 944h4v4h-4zM72 945h4v4h-4zM74 945h4v4h-4zM79 945h4v4h-4zM80 945h4v4h-4zM82 946h4v4h-4zM85 945h4v4h-4zM88 944h4v4h-4zM91 946h4v4h-4zM96 944h4v4h-4zM97 945h4v4h-4zM100 945h4v4h-4zM102 945h4v4h-4zM105 945h4v4h-4zM108 946h4v4h-4zM110 946h4v4h-4zM112 945h4v4h-4zM116 946h4v4h-4zM118 945h4v4h-4zM123 945h4v4h-4zM127 944h4v4h-4zM130 945h4v4h-4zM135 945h4v4h-4zM138 946h4v4h-4zM142 945h4v4h-4zM145 945h4v4h-4zM148 945h4v4h-4zM150 946h4v4h-4zM153 946h4v4h-4zM159 946h4v4h-4zM160 945h4v4h-4zM167 944h4v4h-4zM175 946h4v4h-4zM178 944h4v4h-4zM180 945h4v4h-4zM184 945h4v4h-4zM185 945h4v4h-4zM195 946h4v4h-4zM70 948h4v4h-4zM76 948h4v4h-4zM79 947h4v4h-4zM83 947h4v4h-4zM86 948h4v4h-4zM88 947h4v4h-4zM91 948h4v4h-4zM92 948h4v4h-4zM95 948h4v4h-4zM100 948h4v4h-4zM103 947h4v4h-4zM106 948h4v4h-4zM108 947h4v4h-4zM110 948h4v4h-4zM113 948h4v4h-4zM115 948h4v4h-4zM117 947h4v4h-4zM120 947h4v4h-4zM128 947h4v4h-4zM133 947h4v4h-4zM136 948h4v4h-4zM137 948h4v4h-4zM146 947h4v4h-4zM149 948h4v4h-4zM150 948h4v4h-4zM155 947h4v4h-4zM157 948h4v4h-4zM161 948h4v4h-4zM163 948h4v4h-4zM167 947h4v4h-4zM175 947h4v4h-4zM183 948h4v4h-4zM188 947h4v4h-4zM190 947h4v4h-4zM194 947h4v4h-4zM197 947h4v4h-4zM70 949h4v4h-4zM73 950h4v4h-4zM76 950h4v4h-4zM79 951h4v4h-4zM80 950h4v4h-4zM82 951h4v4h-4zM85 951h4v4h-4zM88 949h4v4h-4zM90 951h4v4h-4zM93 949h4v4h-4zM96 950h4v4h-4zM100 950h4v4h-4zM105 950h4v4h-4zM108 949h4v4h-4zM110 950h4v4h-4zM113 951h4v4h-4zM115 949h4v4h-4zM130 950h4v4h-4zM134 950h4v4h-4zM136 949h4v4h-4zM138 950h4v4h-4zM143 949h4v4h-4zM144 950h4v4h-4zM148 950h4v4h-4zM152 950h4v4h-4zM155 950h4v4h-4zM157 949h4v4h-4zM161 950h4v4h-4zM166 951h4v4h-4zM173 951h4v4h-4zM178 951h4v4h-4zM180 950h4v4h-4zM183 950h4v4h-4zM191 950h4v4h-4zM193 950h4v4h-4zM73 953h4v4h-4zM75 953h4v4h-4zM77 952h4v4h-4zM81 953h4v4h-4zM83 953h4v4h-4zM86 953h4v4h-4zM88 953h4v4h-4zM94 953h4v4h-4zM98 952h4v4h-4zM101 952h4v4h-4zM103 952h4v4h-4zM105 953h4v4h-4zM108 953h4v4h-4zM111 952h4v4h-4zM113 953h4v4h-4zM115 952h4v4h-4zM118 952h4v4h-4zM130 952h4v4h-4zM132 952h4v4h-4zM136 952h4v4h-4zM140 952h4v4h-4zM143 953h4v4h-4zM145 953h4v4h-4zM147 952h4v4h-4zM150 953h4v4h-4zM154 953h4v4h-4zM155 952h4v4h-4zM158 952h4v4h-4zM160 952h4v4h-4zM164 953h4v4h-4zM168 953h4v4h-4zM178 953h4v4h-4zM181 953h4v4h-4zM185 953h4v4h-4zM188 953h4v4h-4zM190 952h4v4h-4zM72 955h4v4h-4zM74 956h4v4h-4zM77 954h4v4h-4zM83 955h4v4h-4zM86 955h4v4h-4zM87 955h4v4h-4zM90 956h4v4h-4zM93 955h4v4h-4zM96 955h4v4h-4zM98 955h4v4h-4zM101 956h4v4h-4zM103 956h4v4h-4zM106 954h4v4h-4zM108 954h4v4h-4zM113 956h4v4h-4zM118 955h4v4h-4zM120 954h4v4h-4zM126 956h4v4h-4zM130 955h4v4h-4zM133 955h4v4h-4zM135 955h4v4h-4zM137 955h4v4h-4zM140 955h4v4h-4zM143 955h4v4h-4zM146 956h4v4h-4zM148 956h4v4h-4zM151 955h4v4h-4zM153 954h4v4h-4zM157 955h4v4h-4zM162 954h4v4h-4zM165 956h4v4h-4zM168 956h4v4h-4zM172 956h4v4h-4zM176 956h4v4h-4zM177 955h4v4h-4zM181 954h4v4h-4zM183 956h4v4h-4zM186 956h4v4h-4zM190 955h4v4h-4zM78 957h4v4h-4zM81 958h4v4h-4zM84 958h4v4h-4zM86 958h4v4h-4zM90 957h4v4h-4zM93 957h4v4h-4zM96 957h4v4h-4zM98 958h4v4h-4zM101 958h4v4h-4zM104 958h4v4h-4zM106 957h4v4h-4zM107 957h4v4h-4zM110 957h4v4h-4zM112 958h4v4h-4zM115 958h4v4h-4zM118 958h4v4h-4zM124 957h4v4h-4zM126 957h4v4h-4zM127 958h4v4h-4zM130 958h4v4h-4zM132 958h4v4h-4zM135 958h4v4h-4zM138 957h4v4h-4zM140 958h4v4h-4zM142 957h4v4h-4zM146 957h4v4h-4zM148 958h4v4h-4zM151 957h4v4h-4zM152 958h4v4h-4zM155 958h4v4h-4zM158 958h4v4h-4zM160 957h4v4h-4zM165 958h4v4h-4zM167 958h4v4h-4zM170 958h4v4h-4zM174 957h4v4h-4zM175 957h4v4h-4zM177 958h4v4h-4zM181 958h4v4h-4zM183 957h4v4h-4zM187 957h4v4h-4zM77 961h4v4h-4zM81 960h4v4h-4zM83 960h4v4h-4zM86 960h4v4h-4zM88 960h4v4h-4zM90 960h4v4h-4zM93 960h4v4h-4zM95 961h4v4h-4zM98 960h4v4h-4zM101 959h4v4h-4zM104 960h4v4h-4zM106 960h4v4h-4zM107 960h4v4h-4zM111 960h4v4h-4zM112 960h4v4h-4zM115 960h4v4h-4zM119 960h4v4h-4zM120 961h4v4h-4zM123 961h4v4h-4zM126 960h4v4h-4zM129 960h4v4h-4zM130 960h4v4h-4zM133 960h4v4h-4zM136 960h4v4h-4zM140 961h4v4h-4zM143 960h4v4h-4zM146 961h4v4h-4zM151 960h4v4h-4zM153 960h4v4h-4zM155 961h4v4h-4zM158 960h4v4h-4zM163 960h4v4h-4zM165 959h4v4h-4zM168 961h4v4h-4zM170 961h4v4h-4zM175 961h4v4h-4zM86 963h4v4h-4zM88 962h4v4h-4zM90 963h4v4h-4zM93 963h4v4h-4zM96 962h4v4h-4zM97 963h4v4h-4zM100 962h4v4h-4zM103 962h4v4h-4zM105 962h4v4h-4zM109 963h4v4h-4zM110 963h4v4h-4zM113 962h4v4h-4zM116 963h4v4h-4zM118 963h4v4h-4zM121 962h4v4h-4zM123 962h4v4h-4zM125 962h4v4h-4zM128 962h4v4h-4zM130 963h4v4h-4zM133 963h4v4h-4zM138 962h4v4h-4zM141 963h4v4h-4zM143 962h4v4h-4zM145 962h4v4h-4zM149 962h4v4h-4zM150 963h4v4h-4zM153 963h4v4h-4zM155 962h4v4h-4zM158 963h4v4h-4zM160 963h4v4h-4zM164 963h4v4h-4zM169 962h4v4h-4zM170 963h4v4h-4zM178 962h4v4h-4zM88 965h4v4h-4zM93 965h4v4h-4zM96 965h4v4h-4zM98 964h4v4h-4zM101 964h4v4h-4zM103 965h4v4h-4zM105 964h4v4h-4zM109 966h4v4h-4zM111 965h4v4h-4zM112 966h4v4h-4zM115 964h4v4h-4zM119 965h4v4h-4zM121 965h4v4h-4zM122 965h4v4h-4zM126 964h4v4h-4zM129 965h4v4h-4zM130 965h4v4h-4zM132 966h4v4h-4zM136 966h4v4h-4zM137 966h4v4h-4zM140 965h4v4h-4zM143 966h4v4h-4zM145 965h4v4h-4zM148 965h4v4h-4zM151 965h4v4h-4zM153 964h4v4h-4zM155 966h4v4h-4zM158 966h4v4h-4zM160 966h4v4h-4zM166 965h4v4h-4zM87 967h4v4h-4zM93 967h4v4h-4zM95 968h4v4h-4zM97 967h4v4h-4zM100 968h4v4h-4zM102 968h4v4h-4zM108 968h4v4h-4zM110 968h4v4h-4zM114 968h4v4h-4zM115 967h4v4h-4zM119 967h4v4h-4zM120 967h4v4h-4zM123 968h4v4h-4zM126 967h4v4h-4zM127 968h4v4h-4zM130 968h4v4h-4zM133 967h4v4h-4zM136 968h4v4h-4zM141 968h4v4h-4zM142 967h4v4h-4zM146 967h4v4h-4zM147 967h4v4h-4zM150 967h4v4h-4zM153 968h4v4h-4zM155 967h4v4h-4zM160 967h4v4h-4zM95 969h4v4h-4zM99 970h4v4h-4zM102 970h4v4h-4zM106 969h4v4h-4zM108 970h4v4h-4zM110 970h4v4h-4zM116 970h4v4h-4zM118 970h4v4h-4zM119 969h4v4h-4zM122 970h4v4h-4zM126 970h4v4h-4zM127 971h4v4h-4zM131 970h4v4h-4zM133 970h4v4h-4zM134 971h4v4h-4zM138 971h4v4h-4zM141 971h4v4h-4zM142 970h4v4h-4zM145 970h4v4h-4zM149 971h4v4h-4zM151 970h4v4h-4zM153 970h4v4h-4zM155 970h4v4h-4zM103 972h4v4h-4zM105 973h4v4h-4zM108 973h4v4h-4zM110 973h4v4h-4zM114 972h4v4h-4zM116 973h4v4h-4zM118 973h4v4h-4zM120 972h4v4h-4zM123 973h4v4h-4zM125 973h4v4h-4zM128 972h4v4h-4zM133 973h4v4h-4zM135 972h4v4h-4zM142 973h4v4h-4zM146 972h4v4h-4zM148 973h4v4h-4zM102 975h4v4h-4zM111 975h4v4h-4zM115 975h4v4h-4zM118 975h4v4h-4zM121 975h4v4h-4zM123 976h4v4h-4zM125 975h4v4h-4zM128 975h4v4h-4zM130 975h4v4h-4zM133 975h4v4h-4zM136 975h4v4h-4zM138 975h4v4h-4zM143 976h4v4h-4zM115 978h4v4h-4zM120 978h4v4h-4zM125 977h4v4h-4zM129 977h4v4h-4zM132 978h4v4h-4zM136 978h4v4h-4zM140 977h4v4h-4zM126 980h4v4h-4zM127 981h4v4h-4zM131 980h4v4h-4zM134 980h4v4h-4zM135 979h4v4h-4zM139 980h4v4h-4zM128 983h4v4h-4z"/><path fill="#e8288a" d="M139 783h4v4h-4zM143 783h4v4h-4zM145 782h4v4h-4zM138 785h4v4h-4zM140 786h4v4h-4zM145 786h4v4h-4zM143 787h4v4h-4zM145 787h4v4h-4zM148 788h4v4h-4zM130 790h4v4h-4zM139 790h4v4h-4zM140 790h4v4h-4zM143 790h4v4h-4zM145 790h4v4h-4zM148 789h4v4h-4zM113 792h4v4h-4zM120 792h4v4h-4zM128 793h4v4h-4zM133 793h4v4h-4zM138 793h4v4h-4zM146 792h4v4h-4zM160 792h4v4h-4zM167 792h4v4h-4zM107 796h4v4h-4zM110 796h4v4h-4zM112 796h4v4h-4zM116 794h4v4h-4zM117 796h4v4h-4zM120 795h4v4h-4zM122 796h4v4h-4zM127 796h4v4h-4zM131 795h4v4h-4zM165 794h4v4h-4zM100 797h4v4h-4zM105 797h4v4h-4zM111 798h4v4h-4zM113 798h4v4h-4zM115 798h4v4h-4zM117 798h4v4h-4zM123 797h4v4h-4zM126 797h4v4h-4zM131 798h4v4h-4zM140 798h4v4h-4zM165 798h4v4h-4zM98 800h4v4h-4zM101 801h4v4h-4zM105 801h4v4h-4zM108 800h4v4h-4zM116 800h4v4h-4zM121 801h4v4h-4zM123 799h4v4h-4zM127 800h4v4h-4zM130 801h4v4h-4zM133 801h4v4h-4zM139 799h4v4h-4zM175 800h4v4h-4zM92 803h4v4h-4zM101 803h4v4h-4zM103 803h4v4h-4zM113 802h4v4h-4zM115 803h4v4h-4zM118 803h4v4h-4zM120 802h4v4h-4zM129 803h4v4h-4zM139 802h4v4h-4zM140 803h4v4h-4zM153 802h4v4h-4zM92 805h4v4h-4zM105 805h4v4h-4zM113 805h4v4h-4zM116 805h4v4h-4zM117 805h4v4h-4zM131 805h4v4h-4zM136 806h4v4h-4zM137 806h4v4h-4zM140 804h4v4h-4zM149 805h4v4h-4zM160 804h4v4h-4zM66 808h4v4h-4zM86 808h4v4h-4zM88 808h4v4h-4zM91 808h4v4h-4zM97 807h4v4h-4zM113 807h4v4h-4zM117 808h4v4h-4zM120 807h4v4h-4zM127 808h4v4h-4zM134 808h4v4h-4zM135 807h4v4h-4zM138 808h4v4h-4zM140 807h4v4h-4zM151 808h4v4h-4zM65 811h4v4h-4zM68 811h4v4h-4zM71 809h4v4h-4zM73 809h4v4h-4zM75 810h4v4h-4zM83 810h4v4h-4zM88 810h4v4h-4zM89 811h4v4h-4zM96 810h4v4h-4zM105 811h4v4h-4zM116 810h4v4h-4zM125 811h4v4h-4zM128 810h4v4h-4zM129 811h4v4h-4zM132 810h4v4h-4zM138 810h4v4h-4zM141 811h4v4h-4zM142 810h4v4h-4zM150 810h4v4h-4zM70 813h4v4h-4zM72 813h4v4h-4zM81 813h4v4h-4zM82 813h4v4h-4zM86 813h4v4h-4zM125 813h4v4h-4zM128 812h4v4h-4zM135 812h4v4h-4zM138 813h4v4h-4zM141 813h4v4h-4zM142 813h4v4h-4zM69 815h4v4h-4zM73 814h4v4h-4zM111 815h4v4h-4zM117 816h4v4h-4zM120 815h4v4h-4zM123 816h4v4h-4zM128 815h4v4h-4zM134 816h4v4h-4zM140 815h4v4h-4zM145 814h4v4h-4zM88 817h4v4h-4zM95 817h4v4h-4zM100 818h4v4h-4zM112 818h4v4h-4zM118 818h4v4h-4zM121 818h4v4h-4zM123 818h4v4h-4zM125 817h4v4h-4zM131 817h4v4h-4zM135 817h4v4h-4zM143 818h4v4h-4zM173 817h4v4h-4zM87 821h4v4h-4zM91 821h4v4h-4zM97 820h4v4h-4zM113 821h4v4h-4zM118 820h4v4h-4zM120 820h4v4h-4zM123 819h4v4h-4zM128 820h4v4h-4zM143 819h4v4h-4zM171 821h4v4h-4zM68 822h4v4h-4zM73 823h4v4h-4zM76 822h4v4h-4zM83 823h4v4h-4zM86 822h4v4h-4zM88 822h4v4h-4zM91 822h4v4h-4zM121 823h4v4h-4zM122 823h4v4h-4zM125 823h4v4h-4zM129 823h4v4h-4zM135 822h4v4h-4zM140 823h4v4h-4zM146 823h4v4h-4zM155 823h4v4h-4zM64 825h4v4h-4zM71 824h4v4h-4zM72 825h4v4h-4zM75 825h4v4h-4zM78 825h4v4h-4zM80 825h4v4h-4zM83 826h4v4h-4zM86 824h4v4h-4zM89 826h4v4h-4zM91 825h4v4h-4zM94 824h4v4h-4zM95 826h4v4h-4zM98 825h4v4h-4zM115 824h4v4h-4zM120 825h4v4h-4zM123 826h4v4h-4zM129 826h4v4h-4zM131 825h4v4h-4zM136 825h4v4h-4zM141 824h4v4h-4zM143 826h4v4h-4zM54 828h4v4h-4zM62 828h4v4h-4zM66 828h4v4h-4zM67 828h4v4h-4zM76 827h4v4h-4zM78 827h4v4h-4zM81 827h4v4h-4zM84 828h4v4h-4zM86 828h4v4h-4zM89 828h4v4h-4zM91 827h4v4h-4zM92 827h4v4h-4zM95 828h4v4h-4zM98 828h4v4h-4zM107 827h4v4h-4zM111 828h4v4h-4zM113 827h4v4h-4zM116 827h4v4h-4zM118 827h4v4h-4zM125 828h4v4h-4zM128 828h4v4h-4zM131 827h4v4h-4zM132 827h4v4h-4zM135 827h4v4h-4zM138 827h4v4h-4zM140 828h4v4h-4zM55 830h4v4h-4zM61 831h4v4h-4zM62 829h4v4h-4zM65 830h4v4h-4zM68 830h4v4h-4zM70 830h4v4h-4zM73 831h4v4h-4zM75 830h4v4h-4zM77 830h4v4h-4zM81 831h4v4h-4zM85 830h4v4h-4zM87 829h4v4h-4zM90 831h4v4h-4zM92 830h4v4h-4zM95 830h4v4h-4zM98 829h4v4h-4zM101 831h4v4h-4zM103 830h4v4h-4zM106 831h4v4h-4zM108 829h4v4h-4zM111 831h4v4h-4zM113 829h4v4h-4zM115 831h4v4h-4zM117 831h4v4h-4zM123 830h4v4h-4zM126 831h4v4h-4zM128 830h4v4h-4zM131 829h4v4h-4zM133 830h4v4h-4zM144 830h4v4h-4zM47 833h4v4h-4zM53 833h4v4h-4zM56 833h4v4h-4zM58 832h4v4h-4zM60 832h4v4h-4zM63 833h4v4h-4zM65 832h4v4h-4zM68 833h4v4h-4zM70 832h4v4h-4zM72 833h4v4h-4zM76 832h4v4h-4zM81 832h4v4h-4zM83 832h4v4h-4zM86 832h4v4h-4zM89 833h4v4h-4zM91 832h4v4h-4zM96 833h4v4h-4zM100 833h4v4h-4zM103 833h4v4h-4zM109 833h4v4h-4zM111 833h4v4h-4zM113 833h4v4h-4zM116 833h4v4h-4zM121 832h4v4h-4zM124 833h4v4h-4zM137 832h4v4h-4zM47 835h4v4h-4zM49 835h4v4h-4zM52 835h4v4h-4zM56 835h4v4h-4zM58 835h4v4h-4zM60 835h4v4h-4zM65 834h4v4h-4zM68 836h4v4h-4zM70 836h4v4h-4zM73 834h4v4h-4zM75 834h4v4h-4zM78 836h4v4h-4zM85 835h4v4h-4zM87 836h4v4h-4zM93 836h4v4h-4zM94 835h4v4h-4zM98 835h4v4h-4zM103 835h4v4h-4zM105 836h4v4h-4zM108 836h4v4h-4zM110 836h4v4h-4zM113 836h4v4h-4zM116 834h4v4h-4zM118 836h4v4h-4zM124 836h4v4h-4zM130 834h4v4h-4zM38 838h4v4h-4zM45 838h4v4h-4zM49 838h4v4h-4zM49 837h4v4h-4zM52 838h4v4h-4zM56 838h4v4h-4zM57 838h4v4h-4zM60 838h4v4h-4zM62 838h4v4h-4zM65 838h4v4h-4zM69 838h4v4h-4zM85 838h4v4h-4zM89 838h4v4h-4zM89 838h4v4h-4zM93 838h4v4h-4zM96 837h4v4h-4zM97 837h4v4h-4zM100 837h4v4h-4zM103 838h4v4h-4zM105 838h4v4h-4zM107 837h4v4h-4zM110 838h4v4h-4zM113 838h4v4h-4zM118 837h4v4h-4zM122 837h4v4h-4zM128 838h4v4h-4zM130 837h4v4h-4zM133 837h4v4h-4zM141 837h4v4h-4zM144 837h4v4h-4zM40 841h4v4h-4zM42 841h4v4h-4zM45 840h4v4h-4zM47 840h4v4h-4zM50 840h4v4h-4zM52 841h4v4h-4zM56 840h4v4h-4zM58 840h4v4h-4zM61 841h4v4h-4zM77 841h4v4h-4zM85 839h4v4h-4zM89 841h4v4h-4zM90 840h4v4h-4zM92 839h4v4h-4zM96 840h4v4h-4zM98 839h4v4h-4zM103 840h4v4h-4zM105 840h4v4h-4zM109 841h4v4h-4zM110 839h4v4h-4zM112 840h4v4h-4zM116 840h4v4h-4zM120 840h4v4h-4zM124 840h4v4h-4zM126 841h4v4h-4zM133 840h4v4h-4zM135 840h4v4h-4zM137 840h4v4h-4zM139 841h4v4h-4zM142 841h4v4h-4zM147 840h4v4h-4zM40 843h4v4h-4zM42 842h4v4h-4zM46 843h4v4h-4zM48 843h4v4h-4zM51 842h4v4h-4zM53 842h4v4h-4zM56 842h4v4h-4zM79 843h4v4h-4zM86 842h4v4h-4zM89 843h4v4h-4zM90 842h4v4h-4zM93 842h4v4h-4zM96 842h4v4h-4zM98 842h4v4h-4zM100 843h4v4h-4zM103 843h4v4h-4zM106 842h4v4h-4zM108 843h4v4h-4zM115 843h4v4h-4zM121 842h4v4h-4zM125 843h4v4h-4zM132 842h4v4h-4zM140 843h4v4h-4zM146 842h4v4h-4zM33 845h4v4h-4zM35 845h4v4h-4zM37 846h4v4h-4zM45 845h4v4h-4zM48 846h4v4h-4zM50 845h4v4h-4zM52 845h4v4h-4zM56 845h4v4h-4zM58 845h4v4h-4zM62 846h4v4h-4zM77 845h4v4h-4zM82 846h4v4h-4zM90 846h4v4h-4zM92 845h4v4h-4zM96 845h4v4h-4zM97 845h4v4h-4zM100 846h4v4h-4zM104 845h4v4h-4zM106 845h4v4h-4zM107 845h4v4h-4zM110 845h4v4h-4zM115 845h4v4h-4zM119 845h4v4h-4zM123 846h4v4h-4zM126 844h4v4h-4zM129 845h4v4h-4zM135 844h4v4h-4zM142 845h4v4h-4zM43 847h4v4h-4zM45 847h4v4h-4zM48 847h4v4h-4zM50 848h4v4h-4zM52 848h4v4h-4zM61 847h4v4h-4zM67 848h4v4h-4zM85 847h4v4h-4zM90 847h4v4h-4zM92 848h4v4h-4zM95 847h4v4h-4zM97 848h4v4h-4zM100 848h4v4h-4zM103 848h4v4h-4zM106 847h4v4h-4zM107 848h4v4h-4zM110 848h4v4h-4zM113 848h4v4h-4zM114 848h4v4h-4zM117 848h4v4h-4zM121 847h4v4h-4zM123 847h4v4h-4zM126 847h4v4h-4zM133 847h4v4h-4zM136 848h4v4h-4zM141 848h4v4h-4zM146 848h4v4h-4zM39 850h4v4h-4zM40 851h4v4h-4zM46 850h4v4h-4zM48 851h4v4h-4zM56 850h4v4h-4zM63 850h4v4h-4zM68 850h4v4h-4zM82 849h4v4h-4zM85 850h4v4h-4zM88 851h4v4h-4zM91 849h4v4h-4zM92 850h4v4h-4zM96 850h4v4h-4zM97 850h4v4h-4zM100 850h4v4h-4zM102 851h4v4h-4zM105 850h4v4h-4zM107 850h4v4h-4zM111 850h4v4h-4zM113 850h4v4h-4zM114 849h4v4h-4zM118 851h4v4h-4zM120 850h4v4h-4zM122 850h4v4h-4zM125 851h4v4h-4zM127 850h4v4h-4zM130 850h4v4h-4zM133 850h4v4h-4zM138 851h4v4h-4zM140 849h4v4h-4zM142 850h4v4h-4zM35 853h4v4h-4zM38 852h4v4h-4zM40 853h4v4h-4zM67 853h4v4h-4zM70 852h4v4h-4zM75 852h4v4h-4zM79 853h4v4h-4zM83 852h4v4h-4zM91 852h4v4h-4zM92 853h4v4h-4zM95 853h4v4h-4zM97 852h4v4h-4zM100 852h4v4h-4zM102 853h4v4h-4zM105 853h4v4h-4zM107 852h4v4h-4zM110 852h4v4h-4zM113 852h4v4h-4zM116 852h4v4h-4zM118 852h4v4h-4zM121 853h4v4h-4zM128 852h4v4h-4zM134 853h4v4h-4zM138 852h4v4h-4zM141 853h4v4h-4zM36 855h4v4h-4zM39 854h4v4h-4zM41 855h4v4h-4zM48 854h4v4h-4zM50 854h4v4h-4zM58 855h4v4h-4zM62 856h4v4h-4zM67 855h4v4h-4zM70 855h4v4h-4zM74 855h4v4h-4zM80 855h4v4h-4zM85 854h4v4h-4zM88 855h4v4h-4zM91 856h4v4h-4zM93 855h4v4h-4zM95 856h4v4h-4zM98 855h4v4h-4zM101 856h4v4h-4zM102 855h4v4h-4zM105 855h4v4h-4zM108 856h4v4h-4zM112 854h4v4h-4zM116 855h4v4h-4zM117 856h4v4h-4zM120 856h4v4h-4zM123 854h4v4h-4zM125 854h4v4h-4zM131 855h4v4h-4zM135 855h4v4h-4zM137 856h4v4h-4zM140 855h4v4h-4zM34 858h4v4h-4zM53 857h4v4h-4zM57 858h4v4h-4zM63 857h4v4h-4zM76 858h4v4h-4zM78 858h4v4h-4zM82 858h4v4h-4zM86 857h4v4h-4zM89 857h4v4h-4zM90 857h4v4h-4zM93 857h4v4h-4zM96 857h4v4h-4zM97 857h4v4h-4zM101 857h4v4h-4zM104 858h4v4h-4zM106 858h4v4h-4zM107 857h4v4h-4zM110 858h4v4h-4zM112 858h4v4h-4zM116 857h4v4h-4zM117 858h4v4h-4zM120 858h4v4h-4zM127 858h4v4h-4zM131 857h4v4h-4zM132 858h4v4h-4zM138 857h4v4h-4zM140 858h4v4h-4zM35 860h4v4h-4zM40 861h4v4h-4zM46 860h4v4h-4zM49 859h4v4h-4zM52 860h4v4h-4zM60 859h4v4h-4zM64 861h4v4h-4zM65 860h4v4h-4zM70 861h4v4h-4zM76 860h4v4h-4zM78 860h4v4h-4zM85 861h4v4h-4zM87 860h4v4h-4zM91 860h4v4h-4zM93 859h4v4h-4zM97 860h4v4h-4zM99 860h4v4h-4zM102 860h4v4h-4zM105 860h4v4h-4zM108 861h4v4h-4zM111 860h4v4h-4zM113 860h4v4h-4zM114 860h4v4h-4zM118 860h4v4h-4zM120 860h4v4h-4zM125 861h4v4h-4zM128 860h4v4h-4zM137 860h4v4h-4zM143 861h4v4h-4zM33 863h4v4h-4zM36 863h4v4h-4zM38 862h4v4h-4zM51 863h4v4h-4zM58 862h4v4h-4zM60 862h4v4h-4zM63 863h4v4h-4zM66 862h4v4h-4zM68 863h4v4h-4zM71 863h4v4h-4zM73 863h4v4h-4zM74 862h4v4h-4zM78 862h4v4h-4zM81 862h4v4h-4zM82 862h4v4h-4zM85 863h4v4h-4zM87 862h4v4h-4zM91 862h4v4h-4zM93 863h4v4h-4zM95 862h4v4h-4zM98 863h4v4h-4zM101 863h4v4h-4zM102 862h4v4h-4zM105 863h4v4h-4zM108 862h4v4h-4zM110 863h4v4h-4zM113 862h4v4h-4zM115 862h4v4h-4zM119 863h4v4h-4zM121 863h4v4h-4zM123 862h4v4h-4zM125 862h4v4h-4zM127 863h4v4h-4zM130 862h4v4h-4zM132 863h4v4h-4zM33 864h4v4h-4zM35 865h4v4h-4zM40 865h4v4h-4zM45 865h4v4h-4zM51 866h4v4h-4zM55 865h4v4h-4zM60 865h4v4h-4zM63 865h4v4h-4zM65 865h4v4h-4zM71 865h4v4h-4zM72 865h4v4h-4zM76 866h4v4h-4zM79 865h4v4h-4zM81 864h4v4h-4zM84 865h4v4h-4zM86 866h4v4h-4zM87 865h4v4h-4zM90 865h4v4h-4zM94 866h4v4h-4zM95 865h4v4h-4zM98 864h4v4h-4zM100 865h4v4h-4zM103 865h4v4h-4zM105 864h4v4h-4zM108 865h4v4h-4zM110 866h4v4h-4zM113 864h4v4h-4zM121 866h4v4h-4zM125 865h4v4h-4zM132 866h4v4h-4zM134 865h4v4h-4zM33 867h4v4h-4zM38 867h4v4h-4zM40 868h4v4h-4zM42 867h4v4h-4zM45 868h4v4h-4zM58 867h4v4h-4zM61 868h4v4h-4zM65 867h4v4h-4zM68 868h4v4h-4zM72 868h4v4h-4zM75 867h4v4h-4zM77 868h4v4h-4zM80 868h4v4h-4zM83 867h4v4h-4zM85 868h4v4h-4zM87 867h4v4h-4zM90 867h4v4h-4zM93 868h4v4h-4zM96 868h4v4h-4zM97 867h4v4h-4zM101 867h4v4h-4zM102 868h4v4h-4zM105 868h4v4h-4zM108 868h4v4h-4zM110 868h4v4h-4zM113 868h4v4h-4zM117 868h4v4h-4zM120 867h4v4h-4zM123 867h4v4h-4zM127 867h4v4h-4zM130 867h4v4h-4zM33 871h4v4h-4zM38 870h4v4h-4zM41 870h4v4h-4zM43 870h4v4h-4zM51 870h4v4h-4zM55 870h4v4h-4zM61 871h4v4h-4zM63 870h4v4h-4zM66 870h4v4h-4zM70 870h4v4h-4zM76 870h4v4h-4zM79 870h4v4h-4zM82 870h4v4h-4zM85 870h4v4h-4zM88 870h4v4h-4zM90 869h4v4h-4zM93 871h4v4h-4zM95 870h4v4h-4zM98 869h4v4h-4zM101 870h4v4h-4zM103 870h4v4h-4zM106 870h4v4h-4zM109 871h4v4h-4zM110 870h4v4h-4zM114 871h4v4h-4zM116 870h4v4h-4zM117 871h4v4h-4zM121 869h4v4h-4zM122 870h4v4h-4zM36 872h4v4h-4zM37 873h4v4h-4zM42 873h4v4h-4zM53 873h4v4h-4zM60 872h4v4h-4zM63 873h4v4h-4zM64 872h4v4h-4zM69 872h4v4h-4zM72 873h4v4h-4zM75 873h4v4h-4zM78 873h4v4h-4zM81 872h4v4h-4zM82 872h4v4h-4zM88 873h4v4h-4zM91 872h4v4h-4zM95 873h4v4h-4zM97 872h4v4h-4zM100 872h4v4h-4zM104 873h4v4h-4zM105 872h4v4h-4zM111 872h4v4h-4zM113 873h4v4h-4zM116 872h4v4h-4zM118 873h4v4h-4zM125 872h4v4h-4zM36 875h4v4h-4zM38 875h4v4h-4zM40 874h4v4h-4zM63 876h4v4h-4zM68 875h4v4h-4zM72 875h4v4h-4zM75 874h4v4h-4zM80 875h4v4h-4zM83 875h4v4h-4zM85 875h4v4h-4zM88 875h4v4h-4zM90 876h4v4h-4zM95 874h4v4h-4zM97 876h4v4h-4zM100 875h4v4h-4zM103 875h4v4h-4zM108 875h4v4h-4zM110 876h4v4h-4zM113 875h4v4h-4zM115 876h4v4h-4zM56 877h4v4h-4zM62 877h4v4h-4zM66 877h4v4h-4zM68 878h4v4h-4zM73 878h4v4h-4zM76 878h4v4h-4zM78 877h4v4h-4zM80 877h4v4h-4zM83 877h4v4h-4zM86 878h4v4h-4zM87 878h4v4h-4zM90 878h4v4h-4zM95 878h4v4h-4zM98 878h4v4h-4zM100 877h4v4h-4zM103 877h4v4h-4zM106 877h4v4h-4zM111 878h4v4h-4zM113 878h4v4h-4zM115 877h4v4h-4zM40 880h4v4h-4zM42 880h4v4h-4zM45 880h4v4h-4zM48 880h4v4h-4zM50 879h4v4h-4zM56 881h4v4h-4zM59 880h4v4h-4zM60 880h4v4h-4zM62 880h4v4h-4zM66 880h4v4h-4zM69 879h4v4h-4zM71 879h4v4h-4zM76 881h4v4h-4zM78 881h4v4h-4zM80 881h4v4h-4zM82 880h4v4h-4zM85 880h4v4h-4zM88 880h4v4h-4zM90 880h4v4h-4zM94 881h4v4h-4zM97 879h4v4h-4zM100 881h4v4h-4zM103 881h4v4h-4zM108 880h4v4h-4zM112 880h4v4h-4zM41 883h4v4h-4zM43 883h4v4h-4zM46 883h4v4h-4zM48 883h4v4h-4zM50 882h4v4h-4zM53 883h4v4h-4zM56 882h4v4h-4zM58 882h4v4h-4zM60 882h4v4h-4zM63 883h4v4h-4zM66 883h4v4h-4zM68 883h4v4h-4zM70 882h4v4h-4zM74 883h4v4h-4zM75 883h4v4h-4zM78 882h4v4h-4zM80 883h4v4h-4zM83 883h4v4h-4zM85 883h4v4h-4zM88 882h4v4h-4zM91 882h4v4h-4zM102 883h4v4h-4zM105 882h4v4h-4zM107 883h4v4h-4zM40 884h4v4h-4zM43 886h4v4h-4zM46 885h4v4h-4zM48 886h4v4h-4zM53 885h4v4h-4zM56 885h4v4h-4zM57 885h4v4h-4zM60 884h4v4h-4zM63 885h4v4h-4zM65 885h4v4h-4zM69 885h4v4h-4zM69 885h4v4h-4zM72 885h4v4h-4zM80 884h4v4h-4zM82 885h4v4h-4zM86 885h4v4h-4zM88 885h4v4h-4zM91 885h4v4h-4zM93 885h4v4h-4zM95 885h4v4h-4zM105 885h4v4h-4zM40 887h4v4h-4zM42 888h4v4h-4zM46 887h4v4h-4zM48 887h4v4h-4zM50 887h4v4h-4zM53 888h4v4h-4zM55 888h4v4h-4zM58 888h4v4h-4zM60 887h4v4h-4zM64 888h4v4h-4zM65 887h4v4h-4zM67 887h4v4h-4zM70 888h4v4h-4zM72 887h4v4h-4zM75 887h4v4h-4zM79 888h4v4h-4zM83 888h4v4h-4zM85 888h4v4h-4zM88 888h4v4h-4zM93 887h4v4h-4zM98 887h4v4h-4zM38 889h4v4h-4zM40 889h4v4h-4zM42 891h4v4h-4zM46 890h4v4h-4zM47 889h4v4h-4zM50 890h4v4h-4zM52 890h4v4h-4zM55 890h4v4h-4zM58 890h4v4h-4zM61 890h4v4h-4zM62 890h4v4h-4zM65 889h4v4h-4zM68 891h4v4h-4zM73 891h4v4h-4zM75 891h4v4h-4zM78 890h4v4h-4zM80 890h4v4h-4zM82 890h4v4h-4zM86 890h4v4h-4zM94 889h4v4h-4zM94 890h4v4h-4zM40 893h4v4h-4zM43 892h4v4h-4zM45 893h4v4h-4zM48 892h4v4h-4zM50 892h4v4h-4zM52 893h4v4h-4zM55 893h4v4h-4zM58 893h4v4h-4zM60 892h4v4h-4zM64 893h4v4h-4zM66 893h4v4h-4zM68 893h4v4h-4zM70 893h4v4h-4zM73 893h4v4h-4zM75 893h4v4h-4zM77 892h4v4h-4zM81 893h4v4h-4zM82 893h4v4h-4zM85 893h4v4h-4zM87 893h4v4h-4zM41 896h4v4h-4zM44 896h4v4h-4zM45 895h4v4h-4zM47 896h4v4h-4zM51 895h4v4h-4zM52 894h4v4h-4zM56 895h4v4h-4zM58 895h4v4h-4zM61 895h4v4h-4zM62 896h4v4h-4zM65 896h4v4h-4zM67 895h4v4h-4zM70 895h4v4h-4zM73 896h4v4h-4zM76 895h4v4h-4zM77 895h4v4h-4zM81 896h4v4h-4zM82 895h4v4h-4zM85 895h4v4h-4zM43 897h4v4h-4zM46 898h4v4h-4zM47 897h4v4h-4zM50 897h4v4h-4zM53 898h4v4h-4zM55 897h4v4h-4zM58 897h4v4h-4zM61 898h4v4h-4zM62 898h4v4h-4zM65 898h4v4h-4zM68 897h4v4h-4zM70 898h4v4h-4zM72 897h4v4h-4zM75 897h4v4h-4zM78 897h4v4h-4zM80 897h4v4h-4zM45 899h4v4h-4zM47 901h4v4h-4zM51 900h4v4h-4zM52 900h4v4h-4zM55 901h4v4h-4zM58 900h4v4h-4zM61 900h4v4h-4zM64 901h4v4h-4zM65 900h4v4h-4zM67 900h4v4h-4zM70 899h4v4h-4zM77 899h4v4h-4zM42 903h4v4h-4zM44 902h4v4h-4zM48 902h4v4h-4zM50 903h4v4h-4zM53 903h4v4h-4zM55 902h4v4h-4zM57 903h4v4h-4zM60 903h4v4h-4zM62 903h4v4h-4zM66 903h4v4h-4zM68 903h4v4h-4zM70 902h4v4h-4zM47 904h4v4h-4zM50 905h4v4h-4zM52 905h4v4h-4zM58 906h4v4h-4zM60 905h4v4h-4zM55 907h4v4h-4zM59 908h4v4h-4z"/><path fill="#1a8f96" d="M144 785h4v4h-4zM138 787h4v4h-4zM133 796h4v4h-4zM121 798h4v4h-4zM125 799h4v4h-4zM99 803h4v4h-4zM125 802h4v4h-4zM121 805h4v4h-4zM124 805h4v4h-4zM125 805h4v4h-4zM132 805h4v4h-4zM96 808h4v4h-4zM102 808h4v4h-4zM106 808h4v4h-4zM123 807h4v4h-4zM126 808h4v4h-4zM122 811h4v4h-4zM135 810h4v4h-4zM101 812h4v4h-4zM111 813h4v4h-4zM120 813h4v4h-4zM123 812h4v4h-4zM93 815h4v4h-4zM95 815h4v4h-4zM134 815h4v4h-4zM111 817h4v4h-4zM140 818h4v4h-4zM78 822h4v4h-4zM118 822h4v4h-4zM133 822h4v4h-4zM138 822h4v4h-4zM201 825h4v4h-4zM208 825h4v4h-4zM70 827h4v4h-4zM120 827h4v4h-4zM170 828h4v4h-4zM180 827h4v4h-4zM196 827h4v4h-4zM199 828h4v4h-4zM205 828h4v4h-4zM210 828h4v4h-4zM213 827h4v4h-4zM120 830h4v4h-4zM136 830h4v4h-4zM168 830h4v4h-4zM170 830h4v4h-4zM173 829h4v4h-4zM176 830h4v4h-4zM178 831h4v4h-4zM181 831h4v4h-4zM188 830h4v4h-4zM192 830h4v4h-4zM195 830h4v4h-4zM198 831h4v4h-4zM200 830h4v4h-4zM203 830h4v4h-4zM206 829h4v4h-4zM208 831h4v4h-4zM210 829h4v4h-4zM213 830h4v4h-4zM216 831h4v4h-4zM218 831h4v4h-4zM118 833h4v4h-4zM125 832h4v4h-4zM130 833h4v4h-4zM165 832h4v4h-4zM168 833h4v4h-4zM171 833h4v4h-4zM172 832h4v4h-4zM176 832h4v4h-4zM177 833h4v4h-4zM180 833h4v4h-4zM182 832h4v4h-4zM185 833h4v4h-4zM188 832h4v4h-4zM191 833h4v4h-4zM192 833h4v4h-4zM194 833h4v4h-4zM198 833h4v4h-4zM200 833h4v4h-4zM203 833h4v4h-4zM206 833h4v4h-4zM207 833h4v4h-4zM211 832h4v4h-4zM213 833h4v4h-4zM216 833h4v4h-4zM128 834h4v4h-4zM132 835h4v4h-4zM135 836h4v4h-4zM141 835h4v4h-4zM158 835h4v4h-4zM159 836h4v4h-4zM162 835h4v4h-4zM165 836h4v4h-4zM167 835h4v4h-4zM171 836h4v4h-4zM173 836h4v4h-4zM175 836h4v4h-4zM178 834h4v4h-4zM181 835h4v4h-4zM183 835h4v4h-4zM185 834h4v4h-4zM187 835h4v4h-4zM191 835h4v4h-4zM194 835h4v4h-4zM195 835h4v4h-4zM197 835h4v4h-4zM200 836h4v4h-4zM202 835h4v4h-4zM206 836h4v4h-4zM208 835h4v4h-4zM211 835h4v4h-4zM213 834h4v4h-4zM215 835h4v4h-4zM217 835h4v4h-4zM138 837h4v4h-4zM158 837h4v4h-4zM160 837h4v4h-4zM162 838h4v4h-4zM165 838h4v4h-4zM168 838h4v4h-4zM170 838h4v4h-4zM173 838h4v4h-4zM175 838h4v4h-4zM178 837h4v4h-4zM180 837h4v4h-4zM182 837h4v4h-4zM184 838h4v4h-4zM188 838h4v4h-4zM191 838h4v4h-4zM193 837h4v4h-4zM196 838h4v4h-4zM198 838h4v4h-4zM201 838h4v4h-4zM202 838h4v4h-4zM206 838h4v4h-4zM208 838h4v4h-4zM210 838h4v4h-4zM212 838h4v4h-4zM216 837h4v4h-4zM218 838h4v4h-4zM220 838h4v4h-4zM100 840h4v4h-4zM117 840h4v4h-4zM128 840h4v4h-4zM130 840h4v4h-4zM155 840h4v4h-4zM158 839h4v4h-4zM160 841h4v4h-4zM162 840h4v4h-4zM164 840h4v4h-4zM167 840h4v4h-4zM170 841h4v4h-4zM172 840h4v4h-4zM176 840h4v4h-4zM178 840h4v4h-4zM181 841h4v4h-4zM183 839h4v4h-4zM185 841h4v4h-4zM187 840h4v4h-4zM191 840h4v4h-4zM192 839h4v4h-4zM195 841h4v4h-4zM197 841h4v4h-4zM201 841h4v4h-4zM203 839h4v4h-4zM206 839h4v4h-4zM208 839h4v4h-4zM210 840h4v4h-4zM212 840h4v4h-4zM216 840h4v4h-4zM218 839h4v4h-4zM220 841h4v4h-4zM222 840h4v4h-4zM225 839h4v4h-4zM117 843h4v4h-4zM128 843h4v4h-4zM136 843h4v4h-4zM154 843h4v4h-4zM155 842h4v4h-4zM158 842h4v4h-4zM160 843h4v4h-4zM163 842h4v4h-4zM165 842h4v4h-4zM167 843h4v4h-4zM170 843h4v4h-4zM172 842h4v4h-4zM175 842h4v4h-4zM178 842h4v4h-4zM180 842h4v4h-4zM182 843h4v4h-4zM185 843h4v4h-4zM188 842h4v4h-4zM191 843h4v4h-4zM192 843h4v4h-4zM195 843h4v4h-4zM197 842h4v4h-4zM200 843h4v4h-4zM203 842h4v4h-4zM205 843h4v4h-4zM209 842h4v4h-4zM211 843h4v4h-4zM213 843h4v4h-4zM216 843h4v4h-4zM218 843h4v4h-4zM220 842h4v4h-4zM223 843h4v4h-4zM225 842h4v4h-4zM238 843h4v4h-4zM130 845h4v4h-4zM154 846h4v4h-4zM155 844h4v4h-4zM158 845h4v4h-4zM160 845h4v4h-4zM163 844h4v4h-4zM165 846h4v4h-4zM169 845h4v4h-4zM171 844h4v4h-4zM172 845h4v4h-4zM176 846h4v4h-4zM178 845h4v4h-4zM181 845h4v4h-4zM182 845h4v4h-4zM185 845h4v4h-4zM187 845h4v4h-4zM190 845h4v4h-4zM192 845h4v4h-4zM196 846h4v4h-4zM198 845h4v4h-4zM201 844h4v4h-4zM204 846h4v4h-4zM205 844h4v4h-4zM209 845h4v4h-4zM210 845h4v4h-4zM213 846h4v4h-4zM216 844h4v4h-4zM217 845h4v4h-4zM221 845h4v4h-4zM222 846h4v4h-4zM226 846h4v4h-4zM227 845h4v4h-4zM40 847h4v4h-4zM131 847h4v4h-4zM142 848h4v4h-4zM154 847h4v4h-4zM155 848h4v4h-4zM158 847h4v4h-4zM161 848h4v4h-4zM162 848h4v4h-4zM166 847h4v4h-4zM168 847h4v4h-4zM171 848h4v4h-4zM173 847h4v4h-4zM176 848h4v4h-4zM179 848h4v4h-4zM180 848h4v4h-4zM183 848h4v4h-4zM185 847h4v4h-4zM189 848h4v4h-4zM190 848h4v4h-4zM192 848h4v4h-4zM195 847h4v4h-4zM197 848h4v4h-4zM200 847h4v4h-4zM203 848h4v4h-4zM205 848h4v4h-4zM207 847h4v4h-4zM210 848h4v4h-4zM213 847h4v4h-4zM215 847h4v4h-4zM218 848h4v4h-4zM220 847h4v4h-4zM223 847h4v4h-4zM225 848h4v4h-4zM227 847h4v4h-4zM230 848h4v4h-4zM238 848h4v4h-4zM136 851h4v4h-4zM154 850h4v4h-4zM157 850h4v4h-4zM160 850h4v4h-4zM163 851h4v4h-4zM165 849h4v4h-4zM168 851h4v4h-4zM170 850h4v4h-4zM174 850h4v4h-4zM175 850h4v4h-4zM177 851h4v4h-4zM181 850h4v4h-4zM183 850h4v4h-4zM186 849h4v4h-4zM188 850h4v4h-4zM190 849h4v4h-4zM192 850h4v4h-4zM195 850h4v4h-4zM198 851h4v4h-4zM200 850h4v4h-4zM202 850h4v4h-4zM206 850h4v4h-4zM208 851h4v4h-4zM210 849h4v4h-4zM213 849h4v4h-4zM216 849h4v4h-4zM218 850h4v4h-4zM221 850h4v4h-4zM223 850h4v4h-4zM224 850h4v4h-4zM227 851h4v4h-4zM229 851h4v4h-4zM125 853h4v4h-4zM135 852h4v4h-4zM155 852h4v4h-4zM158 853h4v4h-4zM160 852h4v4h-4zM164 853h4v4h-4zM165 853h4v4h-4zM169 853h4v4h-4zM170 852h4v4h-4zM173 853h4v4h-4zM175 852h4v4h-4zM178 853h4v4h-4zM181 853h4v4h-4zM183 852h4v4h-4zM186 853h4v4h-4zM188 852h4v4h-4zM190 853h4v4h-4zM193 852h4v4h-4zM195 852h4v4h-4zM198 852h4v4h-4zM200 853h4v4h-4zM203 852h4v4h-4zM205 852h4v4h-4zM207 853h4v4h-4zM210 852h4v4h-4zM213 852h4v4h-4zM215 852h4v4h-4zM218 853h4v4h-4zM220 852h4v4h-4zM222 853h4v4h-4zM225 852h4v4h-4zM228 853h4v4h-4zM142 855h4v4h-4zM155 856h4v4h-4zM157 855h4v4h-4zM161 854h4v4h-4zM163 855h4v4h-4zM165 856h4v4h-4zM168 854h4v4h-4zM170 854h4v4h-4zM172 855h4v4h-4zM175 855h4v4h-4zM178 854h4v4h-4zM180 855h4v4h-4zM183 855h4v4h-4zM186 855h4v4h-4zM188 855h4v4h-4zM190 856h4v4h-4zM192 855h4v4h-4zM195 854h4v4h-4zM197 856h4v4h-4zM201 855h4v4h-4zM203 854h4v4h-4zM206 856h4v4h-4zM213 855h4v4h-4zM216 855h4v4h-4zM218 856h4v4h-4zM220 854h4v4h-4zM222 854h4v4h-4zM225 855h4v4h-4zM228 855h4v4h-4zM32 857h4v4h-4zM156 857h4v4h-4zM158 857h4v4h-4zM161 858h4v4h-4zM162 857h4v4h-4zM166 857h4v4h-4zM168 857h4v4h-4zM170 858h4v4h-4zM173 858h4v4h-4zM175 857h4v4h-4zM178 858h4v4h-4zM180 858h4v4h-4zM184 858h4v4h-4zM185 858h4v4h-4zM188 858h4v4h-4zM190 858h4v4h-4zM192 858h4v4h-4zM194 858h4v4h-4zM198 858h4v4h-4zM201 857h4v4h-4zM202 857h4v4h-4zM206 858h4v4h-4zM207 858h4v4h-4zM211 858h4v4h-4zM213 857h4v4h-4zM218 857h4v4h-4zM222 858h4v4h-4zM226 857h4v4h-4zM228 857h4v4h-4zM133 861h4v4h-4zM136 860h4v4h-4zM158 860h4v4h-4zM161 860h4v4h-4zM162 861h4v4h-4zM165 860h4v4h-4zM168 860h4v4h-4zM171 861h4v4h-4zM173 860h4v4h-4zM175 859h4v4h-4zM178 860h4v4h-4zM181 861h4v4h-4zM183 860h4v4h-4zM186 860h4v4h-4zM188 861h4v4h-4zM191 860h4v4h-4zM194 861h4v4h-4zM195 859h4v4h-4zM198 860h4v4h-4zM200 860h4v4h-4zM203 860h4v4h-4zM204 860h4v4h-4zM207 860h4v4h-4zM210 860h4v4h-4zM213 860h4v4h-4zM218 860h4v4h-4zM160 863h4v4h-4zM163 862h4v4h-4zM166 862h4v4h-4zM168 863h4v4h-4zM171 863h4v4h-4zM173 862h4v4h-4zM175 862h4v4h-4zM178 863h4v4h-4zM181 863h4v4h-4zM182 863h4v4h-4zM185 863h4v4h-4zM188 863h4v4h-4zM191 863h4v4h-4zM192 863h4v4h-4zM195 862h4v4h-4zM198 863h4v4h-4zM200 863h4v4h-4zM202 862h4v4h-4zM205 863h4v4h-4zM209 863h4v4h-4zM210 862h4v4h-4zM213 862h4v4h-4zM215 863h4v4h-4zM218 863h4v4h-4zM223 863h4v4h-4zM123 866h4v4h-4zM163 864h4v4h-4zM165 864h4v4h-4zM168 864h4v4h-4zM170 866h4v4h-4zM172 865h4v4h-4zM175 865h4v4h-4zM177 865h4v4h-4zM181 866h4v4h-4zM184 865h4v4h-4zM185 865h4v4h-4zM188 866h4v4h-4zM189 865h4v4h-4zM193 865h4v4h-4zM195 865h4v4h-4zM197 866h4v4h-4zM204 865h4v4h-4zM213 865h4v4h-4zM216 864h4v4h-4zM218 866h4v4h-4zM220 866h4v4h-4zM222 865h4v4h-4zM225 865h4v4h-4zM167 867h4v4h-4zM171 868h4v4h-4zM173 867h4v4h-4zM175 868h4v4h-4zM178 868h4v4h-4zM181 868h4v4h-4zM183 867h4v4h-4zM185 868h4v4h-4zM187 867h4v4h-4zM191 867h4v4h-4zM193 867h4v4h-4zM195 867h4v4h-4zM203 867h4v4h-4zM208 868h4v4h-4zM213 867h4v4h-4zM216 867h4v4h-4zM223 868h4v4h-4zM225 868h4v4h-4zM142 870h4v4h-4zM166 871h4v4h-4zM168 870h4v4h-4zM170 870h4v4h-4zM172 870h4v4h-4zM176 869h4v4h-4zM178 870h4v4h-4zM180 871h4v4h-4zM184 869h4v4h-4zM186 870h4v4h-4zM188 870h4v4h-4zM190 870h4v4h-4zM193 870h4v4h-4zM195 870h4v4h-4zM198 870h4v4h-4zM205 871h4v4h-4zM207 870h4v4h-4zM210 870h4v4h-4zM214 871h4v4h-4zM218 871h4v4h-4zM228 871h4v4h-4zM58 872h4v4h-4zM70 873h4v4h-4zM158 873h4v4h-4zM175 873h4v4h-4zM177 872h4v4h-4zM180 873h4v4h-4zM183 872h4v4h-4zM185 873h4v4h-4zM187 873h4v4h-4zM191 872h4v4h-4zM192 872h4v4h-4zM196 873h4v4h-4zM197 873h4v4h-4zM200 872h4v4h-4zM203 873h4v4h-4zM205 873h4v4h-4zM208 873h4v4h-4zM213 872h4v4h-4zM217 872h4v4h-4zM221 873h4v4h-4zM225 873h4v4h-4zM228 873h4v4h-4zM231 873h4v4h-4zM129 875h4v4h-4zM147 875h4v4h-4zM182 875h4v4h-4zM186 876h4v4h-4zM187 875h4v4h-4zM190 875h4v4h-4zM194 875h4v4h-4zM195 875h4v4h-4zM198 876h4v4h-4zM201 875h4v4h-4zM206 875h4v4h-4zM207 876h4v4h-4zM210 875h4v4h-4zM212 874h4v4h-4zM218 875h4v4h-4zM220 876h4v4h-4zM226 875h4v4h-4zM146 878h4v4h-4zM166 878h4v4h-4zM191 877h4v4h-4zM193 877h4v4h-4zM195 878h4v4h-4zM201 878h4v4h-4zM204 878h4v4h-4zM208 878h4v4h-4zM211 878h4v4h-4zM212 878h4v4h-4zM221 878h4v4h-4zM224 877h4v4h-4zM122 880h4v4h-4zM153 880h4v4h-4zM200 879h4v4h-4zM203 880h4v4h-4zM207 880h4v4h-4zM210 880h4v4h-4zM218 880h4v4h-4zM225 880h4v4h-4zM227 880h4v4h-4zM97 882h4v4h-4zM128 883h4v4h-4zM131 882h4v4h-4zM162 882h4v4h-4zM174 883h4v4h-4zM206 882h4v4h-4zM208 882h4v4h-4zM210 883h4v4h-4zM213 882h4v4h-4zM126 884h4v4h-4zM134 885h4v4h-4zM188 886h4v4h-4zM90 888h4v4h-4zM128 888h4v4h-4zM159 888h4v4h-4zM185 887h4v4h-4zM130 890h4v4h-4zM150 891h4v4h-4zM178 891h4v4h-4zM221 889h4v4h-4zM118 893h4v4h-4zM180 893h4v4h-4zM208 893h4v4h-4zM135 895h4v4h-4zM215 895h4v4h-4zM167 898h4v4h-4zM227 897h4v4h-4zM97 900h4v4h-4zM120 901h4v4h-4zM141 900h4v4h-4zM168 900h4v4h-4zM187 901h4v4h-4zM210 900h4v4h-4zM108 902h4v4h-4zM153 902h4v4h-4zM161 903h4v4h-4zM163 903h4v4h-4zM195 903h4v4h-4zM198 903h4v4h-4zM83 905h4v4h-4zM85 906h4v4h-4zM96 906h4v4h-4zM100 904h4v4h-4zM114 905h4v4h-4zM125 905h4v4h-4zM143 905h4v4h-4zM145 905h4v4h-4zM85 907h4v4h-4zM121 907h4v4h-4zM128 907h4v4h-4zM146 908h4v4h-4zM148 907h4v4h-4zM151 908h4v4h-4zM165 907h4v4h-4zM190 908h4v4h-4zM88 910h4v4h-4zM137 910h4v4h-4zM167 911h4v4h-4zM185 911h4v4h-4zM188 911h4v4h-4zM201 910h4v4h-4zM207 911h4v4h-4zM88 913h4v4h-4zM119 912h4v4h-4zM136 912h4v4h-4zM137 912h4v4h-4zM145 913h4v4h-4zM147 913h4v4h-4zM172 912h4v4h-4zM175 913h4v4h-4zM177 912h4v4h-4zM192 912h4v4h-4zM195 913h4v4h-4zM199 913h4v4h-4zM208 913h4v4h-4zM112 916h4v4h-4zM116 916h4v4h-4zM126 915h4v4h-4zM143 915h4v4h-4zM152 914h4v4h-4zM157 914h4v4h-4zM162 916h4v4h-4zM168 914h4v4h-4zM174 915h4v4h-4zM190 916h4v4h-4zM200 915h4v4h-4zM68 918h4v4h-4zM71 917h4v4h-4zM126 917h4v4h-4zM137 918h4v4h-4zM142 917h4v4h-4zM150 917h4v4h-4zM156 918h4v4h-4zM158 918h4v4h-4zM170 917h4v4h-4zM176 917h4v4h-4zM178 917h4v4h-4zM185 918h4v4h-4zM191 918h4v4h-4zM198 917h4v4h-4zM95 919h4v4h-4zM110 920h4v4h-4zM112 921h4v4h-4zM128 920h4v4h-4zM132 920h4v4h-4zM138 919h4v4h-4zM147 920h4v4h-4zM151 920h4v4h-4zM161 920h4v4h-4zM170 920h4v4h-4zM187 919h4v4h-4zM190 919h4v4h-4zM192 921h4v4h-4zM195 921h4v4h-4zM199 920h4v4h-4zM66 923h4v4h-4zM102 923h4v4h-4zM128 923h4v4h-4zM133 923h4v4h-4zM136 922h4v4h-4zM143 923h4v4h-4zM153 922h4v4h-4zM156 922h4v4h-4zM160 922h4v4h-4zM168 923h4v4h-4zM170 922h4v4h-4zM175 922h4v4h-4zM178 922h4v4h-4zM184 922h4v4h-4zM188 923h4v4h-4zM198 922h4v4h-4zM64 925h4v4h-4zM83 925h4v4h-4zM110 925h4v4h-4zM121 925h4v4h-4zM127 925h4v4h-4zM130 926h4v4h-4zM140 924h4v4h-4zM142 926h4v4h-4zM153 925h4v4h-4zM158 924h4v4h-4zM168 924h4v4h-4zM170 925h4v4h-4zM185 924h4v4h-4zM189 925h4v4h-4zM191 926h4v4h-4zM193 925h4v4h-4zM199 925h4v4h-4zM200 925h4v4h-4zM206 925h4v4h-4zM107 928h4v4h-4zM118 927h4v4h-4zM125 927h4v4h-4zM135 927h4v4h-4zM138 928h4v4h-4zM141 928h4v4h-4zM143 928h4v4h-4zM150 928h4v4h-4zM153 928h4v4h-4zM157 928h4v4h-4zM173 928h4v4h-4zM182 927h4v4h-4zM190 928h4v4h-4zM198 928h4v4h-4zM88 931h4v4h-4zM95 930h4v4h-4zM118 929h4v4h-4zM123 929h4v4h-4zM126 931h4v4h-4zM127 931h4v4h-4zM143 930h4v4h-4zM150 930h4v4h-4zM153 930h4v4h-4zM155 931h4v4h-4zM173 930h4v4h-4zM176 930h4v4h-4zM179 930h4v4h-4zM184 931h4v4h-4zM190 929h4v4h-4zM193 930h4v4h-4zM198 931h4v4h-4zM65 933h4v4h-4zM96 933h4v4h-4zM98 933h4v4h-4zM109 933h4v4h-4zM115 933h4v4h-4zM123 932h4v4h-4zM135 933h4v4h-4zM137 932h4v4h-4zM140 932h4v4h-4zM148 933h4v4h-4zM151 933h4v4h-4zM154 933h4v4h-4zM156 932h4v4h-4zM157 932h4v4h-4zM163 932h4v4h-4zM172 933h4v4h-4zM178 933h4v4h-4zM180 932h4v4h-4zM183 933h4v4h-4zM195 932h4v4h-4zM71 935h4v4h-4zM75 935h4v4h-4zM97 935h4v4h-4zM115 935h4v4h-4zM124 935h4v4h-4zM130 936h4v4h-4zM133 936h4v4h-4zM143 935h4v4h-4zM149 935h4v4h-4zM156 934h4v4h-4zM178 934h4v4h-4zM180 935h4v4h-4zM182 936h4v4h-4zM186 934h4v4h-4zM188 934h4v4h-4zM191 935h4v4h-4zM193 936h4v4h-4zM198 935h4v4h-4zM206 936h4v4h-4zM78 938h4v4h-4zM123 937h4v4h-4zM129 938h4v4h-4zM143 937h4v4h-4zM144 937h4v4h-4zM152 938h4v4h-4zM155 938h4v4h-4zM175 938h4v4h-4zM190 938h4v4h-4zM200 938h4v4h-4zM202 937h4v4h-4zM85 940h4v4h-4zM105 939h4v4h-4zM134 940h4v4h-4zM147 940h4v4h-4zM150 941h4v4h-4zM160 940h4v4h-4zM165 940h4v4h-4zM175 941h4v4h-4zM181 939h4v4h-4zM182 940h4v4h-4zM189 941h4v4h-4zM191 941h4v4h-4zM195 941h4v4h-4zM198 940h4v4h-4zM206 940h4v4h-4zM88 943h4v4h-4zM116 943h4v4h-4zM125 942h4v4h-4zM136 942h4v4h-4zM140 942h4v4h-4zM146 943h4v4h-4zM147 943h4v4h-4zM160 943h4v4h-4zM166 943h4v4h-4zM178 943h4v4h-4zM180 942h4v4h-4zM183 943h4v4h-4zM185 942h4v4h-4zM188 943h4v4h-4zM193 942h4v4h-4zM195 943h4v4h-4zM67 946h4v4h-4zM93 946h4v4h-4zM132 946h4v4h-4zM140 945h4v4h-4zM155 945h4v4h-4zM163 946h4v4h-4zM165 945h4v4h-4zM170 946h4v4h-4zM187 945h4v4h-4zM190 944h4v4h-4zM193 946h4v4h-4zM198 944h4v4h-4zM202 945h4v4h-4zM73 948h4v4h-4zM80 947h4v4h-4zM98 948h4v4h-4zM141 947h4v4h-4zM142 947h4v4h-4zM152 948h4v4h-4zM166 947h4v4h-4zM170 947h4v4h-4zM172 947h4v4h-4zM177 947h4v4h-4zM180 947h4v4h-4zM195 947h4v4h-4zM98 949h4v4h-4zM103 950h4v4h-4zM118 950h4v4h-4zM141 950h4v4h-4zM151 951h4v4h-4zM163 950h4v4h-4zM168 950h4v4h-4zM170 950h4v4h-4zM175 951h4v4h-4zM185 951h4v4h-4zM187 950h4v4h-4zM195 949h4v4h-4zM90 953h4v4h-4zM95 953h4v4h-4zM138 953h4v4h-4zM170 952h4v4h-4zM172 953h4v4h-4zM175 953h4v4h-4zM195 953h4v4h-4zM80 956h4v4h-4zM110 954h4v4h-4zM115 956h4v4h-4zM124 954h4v4h-4zM155 956h4v4h-4zM160 955h4v4h-4zM170 954h4v4h-4zM88 957h4v4h-4zM121 958h4v4h-4zM163 958h4v4h-4zM138 960h4v4h-4zM148 960h4v4h-4zM160 960h4v4h-4zM173 960h4v4h-4zM178 960h4v4h-4zM80 962h4v4h-4zM136 963h4v4h-4zM164 962h4v4h-4zM85 966h4v4h-4zM90 965h4v4h-4zM105 968h4v4h-4zM137 968h4v4h-4zM100 971h4v4h-4zM113 970h4v4h-4zM101 972h4v4h-4zM131 972h4v4h-4zM139 972h4v4h-4zM140 972h4v4h-4zM141 975h4v4h-4zM123 977h4v4h-4zM131 977h4v4h-4zM138 978h4v4h-4z"/><path fill="#d0d0d2" d="M139 788h4v4h-4zM168 788h4v4h-4zM123 791h4v4h-4zM143 793h4v4h-4zM155 793h4v4h-4zM157 792h4v4h-4zM126 796h4v4h-4zM134 794h4v4h-4zM152 795h4v4h-4zM155 795h4v4h-4zM159 795h4v4h-4zM128 797h4v4h-4zM133 798h4v4h-4zM155 797h4v4h-4zM158 798h4v4h-4zM104 800h4v4h-4zM112 799h4v4h-4zM119 801h4v4h-4zM135 800h4v4h-4zM159 801h4v4h-4zM162 800h4v4h-4zM173 800h4v4h-4zM94 802h4v4h-4zM106 803h4v4h-4zM108 803h4v4h-4zM122 803h4v4h-4zM127 803h4v4h-4zM132 803h4v4h-4zM150 802h4v4h-4zM158 802h4v4h-4zM161 803h4v4h-4zM163 803h4v4h-4zM165 802h4v4h-4zM169 803h4v4h-4zM170 803h4v4h-4zM95 805h4v4h-4zM98 804h4v4h-4zM100 806h4v4h-4zM103 805h4v4h-4zM107 804h4v4h-4zM111 804h4v4h-4zM127 805h4v4h-4zM153 806h4v4h-4zM156 805h4v4h-4zM158 805h4v4h-4zM163 804h4v4h-4zM166 806h4v4h-4zM167 806h4v4h-4zM170 805h4v4h-4zM92 808h4v4h-4zM100 808h4v4h-4zM108 808h4v4h-4zM115 807h4v4h-4zM130 807h4v4h-4zM158 807h4v4h-4zM160 808h4v4h-4zM163 808h4v4h-4zM168 808h4v4h-4zM170 808h4v4h-4zM172 808h4v4h-4zM85 811h4v4h-4zM93 811h4v4h-4zM98 810h4v4h-4zM100 809h4v4h-4zM103 810h4v4h-4zM108 810h4v4h-4zM111 810h4v4h-4zM113 810h4v4h-4zM119 810h4v4h-4zM121 810h4v4h-4zM155 809h4v4h-4zM157 809h4v4h-4zM160 811h4v4h-4zM163 810h4v4h-4zM165 810h4v4h-4zM168 809h4v4h-4zM170 811h4v4h-4zM68 813h4v4h-4zM75 813h4v4h-4zM78 813h4v4h-4zM89 812h4v4h-4zM90 813h4v4h-4zM94 812h4v4h-4zM97 812h4v4h-4zM102 813h4v4h-4zM105 813h4v4h-4zM109 813h4v4h-4zM113 812h4v4h-4zM116 812h4v4h-4zM130 813h4v4h-4zM133 812h4v4h-4zM150 812h4v4h-4zM153 813h4v4h-4zM155 813h4v4h-4zM158 812h4v4h-4zM160 813h4v4h-4zM162 812h4v4h-4zM165 813h4v4h-4zM167 813h4v4h-4zM170 813h4v4h-4zM172 813h4v4h-4zM78 816h4v4h-4zM80 815h4v4h-4zM84 816h4v4h-4zM85 815h4v4h-4zM88 816h4v4h-4zM89 815h4v4h-4zM98 815h4v4h-4zM101 816h4v4h-4zM102 815h4v4h-4zM105 814h4v4h-4zM108 814h4v4h-4zM113 815h4v4h-4zM115 814h4v4h-4zM126 814h4v4h-4zM138 815h4v4h-4zM143 815h4v4h-4zM153 815h4v4h-4zM155 816h4v4h-4zM160 815h4v4h-4zM163 814h4v4h-4zM165 814h4v4h-4zM168 815h4v4h-4zM170 816h4v4h-4zM186 816h4v4h-4zM75 818h4v4h-4zM77 818h4v4h-4zM81 818h4v4h-4zM84 817h4v4h-4zM85 817h4v4h-4zM90 818h4v4h-4zM93 817h4v4h-4zM99 817h4v4h-4zM103 817h4v4h-4zM106 818h4v4h-4zM108 818h4v4h-4zM115 818h4v4h-4zM128 818h4v4h-4zM133 818h4v4h-4zM137 817h4v4h-4zM158 818h4v4h-4zM160 817h4v4h-4zM163 818h4v4h-4zM165 817h4v4h-4zM169 818h4v4h-4zM170 818h4v4h-4zM76 820h4v4h-4zM78 821h4v4h-4zM81 820h4v4h-4zM82 819h4v4h-4zM85 820h4v4h-4zM93 820h4v4h-4zM96 821h4v4h-4zM100 819h4v4h-4zM102 820h4v4h-4zM105 820h4v4h-4zM108 820h4v4h-4zM111 821h4v4h-4zM115 820h4v4h-4zM131 821h4v4h-4zM133 821h4v4h-4zM135 820h4v4h-4zM137 821h4v4h-4zM152 821h4v4h-4zM155 819h4v4h-4zM157 820h4v4h-4zM161 821h4v4h-4zM163 821h4v4h-4zM165 819h4v4h-4zM168 821h4v4h-4zM71 822h4v4h-4zM80 823h4v4h-4zM92 823h4v4h-4zM95 823h4v4h-4zM99 823h4v4h-4zM100 823h4v4h-4zM102 823h4v4h-4zM105 822h4v4h-4zM107 823h4v4h-4zM110 822h4v4h-4zM113 823h4v4h-4zM128 823h4v4h-4zM142 823h4v4h-4zM160 822h4v4h-4zM164 823h4v4h-4zM165 823h4v4h-4zM168 823h4v4h-4zM170 823h4v4h-4zM101 825h4v4h-4zM102 826h4v4h-4zM106 825h4v4h-4zM107 825h4v4h-4zM111 825h4v4h-4zM112 825h4v4h-4zM119 825h4v4h-4zM125 826h4v4h-4zM132 825h4v4h-4zM138 824h4v4h-4zM144 824h4v4h-4zM161 825h4v4h-4zM166 825h4v4h-4zM168 824h4v4h-4zM73 828h4v4h-4zM100 827h4v4h-4zM102 828h4v4h-4zM122 827h4v4h-4zM146 828h4v4h-4zM82 830h4v4h-4zM140 829h4v4h-4zM77 832h4v4h-4zM92 832h4v4h-4zM97 833h4v4h-4zM105 833h4v4h-4zM133 833h4v4h-4zM142 833h4v4h-4zM62 835h4v4h-4zM80 834h4v4h-4zM90 835h4v4h-4zM120 835h4v4h-4zM123 835h4v4h-4zM139 834h4v4h-4zM70 838h4v4h-4zM73 838h4v4h-4zM76 838h4v4h-4zM80 837h4v4h-4zM83 838h4v4h-4zM115 837h4v4h-4zM121 837h4v4h-4zM126 837h4v4h-4zM135 838h4v4h-4zM62 841h4v4h-4zM68 840h4v4h-4zM71 840h4v4h-4zM76 840h4v4h-4zM80 840h4v4h-4zM83 841h4v4h-4zM39 843h4v4h-4zM58 842h4v4h-4zM61 843h4v4h-4zM63 842h4v4h-4zM65 843h4v4h-4zM67 842h4v4h-4zM70 842h4v4h-4zM73 842h4v4h-4zM76 842h4v4h-4zM80 842h4v4h-4zM82 842h4v4h-4zM111 843h4v4h-4zM112 842h4v4h-4zM123 842h4v4h-4zM131 843h4v4h-4zM43 845h4v4h-4zM60 844h4v4h-4zM66 845h4v4h-4zM67 846h4v4h-4zM71 845h4v4h-4zM74 845h4v4h-4zM75 844h4v4h-4zM81 844h4v4h-4zM86 845h4v4h-4zM88 845h4v4h-4zM113 846h4v4h-4zM138 846h4v4h-4zM140 846h4v4h-4zM236 845h4v4h-4zM37 848h4v4h-4zM56 848h4v4h-4zM64 847h4v4h-4zM66 848h4v4h-4zM70 848h4v4h-4zM73 847h4v4h-4zM75 848h4v4h-4zM78 848h4v4h-4zM83 848h4v4h-4zM88 847h4v4h-4zM127 847h4v4h-4zM139 848h4v4h-4zM33 850h4v4h-4zM36 849h4v4h-4zM44 850h4v4h-4zM51 850h4v4h-4zM54 850h4v4h-4zM57 850h4v4h-4zM61 849h4v4h-4zM66 850h4v4h-4zM70 850h4v4h-4zM73 851h4v4h-4zM76 850h4v4h-4zM77 850h4v4h-4zM81 849h4v4h-4zM44 853h4v4h-4zM45 852h4v4h-4zM50 853h4v4h-4zM52 852h4v4h-4zM55 853h4v4h-4zM58 853h4v4h-4zM61 853h4v4h-4zM62 852h4v4h-4zM66 852h4v4h-4zM73 852h4v4h-4zM79 852h4v4h-4zM88 853h4v4h-4zM124 852h4v4h-4zM131 852h4v4h-4zM44 855h4v4h-4zM53 855h4v4h-4zM55 856h4v4h-4zM60 856h4v4h-4zM78 854h4v4h-4zM83 854h4v4h-4zM110 856h4v4h-4zM128 856h4v4h-4zM133 855h4v4h-4zM40 857h4v4h-4zM43 858h4v4h-4zM46 858h4v4h-4zM48 857h4v4h-4zM50 858h4v4h-4zM55 858h4v4h-4zM60 858h4v4h-4zM65 858h4v4h-4zM71 858h4v4h-4zM73 858h4v4h-4zM80 857h4v4h-4zM123 857h4v4h-4zM126 857h4v4h-4zM44 860h4v4h-4zM50 861h4v4h-4zM55 859h4v4h-4zM57 860h4v4h-4zM73 861h4v4h-4zM81 859h4v4h-4zM83 861h4v4h-4zM94 860h4v4h-4zM123 860h4v4h-4zM130 860h4v4h-4zM220 859h4v4h-4zM40 863h4v4h-4zM45 863h4v4h-4zM52 863h4v4h-4zM55 863h4v4h-4zM136 863h4v4h-4zM38 866h4v4h-4zM43 866h4v4h-4zM48 865h4v4h-4zM54 864h4v4h-4zM57 865h4v4h-4zM116 866h4v4h-4zM118 865h4v4h-4zM129 865h4v4h-4zM207 864h4v4h-4zM47 867h4v4h-4zM51 868h4v4h-4zM53 868h4v4h-4zM56 867h4v4h-4zM70 867h4v4h-4zM125 868h4v4h-4zM200 868h4v4h-4zM219 867h4v4h-4zM57 870h4v4h-4zM78 869h4v4h-4zM128 870h4v4h-4zM200 869h4v4h-4zM203 870h4v4h-4zM85 872h4v4h-4zM108 872h4v4h-4zM223 873h4v4h-4zM58 875h4v4h-4zM60 875h4v4h-4zM71 875h4v4h-4zM78 876h4v4h-4zM93 875h4v4h-4zM106 874h4v4h-4zM224 875h4v4h-4zM38 878h4v4h-4zM40 878h4v4h-4zM61 877h4v4h-4zM70 877h4v4h-4zM93 878h4v4h-4zM107 877h4v4h-4zM217 877h4v4h-4zM226 877h4v4h-4zM73 880h4v4h-4zM92 879h4v4h-4zM105 880h4v4h-4zM111 880h4v4h-4zM206 880h4v4h-4zM216 879h4v4h-4zM93 883h4v4h-4zM99 882h4v4h-4zM38 885h4v4h-4zM50 885h4v4h-4zM76 886h4v4h-4zM100 885h4v4h-4zM103 884h4v4h-4zM80 888h4v4h-4zM70 890h4v4h-4zM88 890h4v4h-4zM180 890h4v4h-4zM185 891h4v4h-4zM188 889h4v4h-4zM191 889h4v4h-4zM193 889h4v4h-4zM199 891h4v4h-4zM200 891h4v4h-4zM178 893h4v4h-4zM184 893h4v4h-4zM186 893h4v4h-4zM188 893h4v4h-4zM190 892h4v4h-4zM192 893h4v4h-4zM195 893h4v4h-4zM198 893h4v4h-4zM201 892h4v4h-4zM202 893h4v4h-4zM173 895h4v4h-4zM177 894h4v4h-4zM180 895h4v4h-4zM186 894h4v4h-4zM188 896h4v4h-4zM190 894h4v4h-4zM194 896h4v4h-4zM196 895h4v4h-4zM199 895h4v4h-4zM203 895h4v4h-4zM205 896h4v4h-4zM176 897h4v4h-4zM177 897h4v4h-4zM181 897h4v4h-4zM182 898h4v4h-4zM186 898h4v4h-4zM191 898h4v4h-4zM193 897h4v4h-4zM196 897h4v4h-4zM198 898h4v4h-4zM200 898h4v4h-4zM203 897h4v4h-4zM171 899h4v4h-4zM176 901h4v4h-4zM178 900h4v4h-4zM181 900h4v4h-4zM182 900h4v4h-4zM185 900h4v4h-4zM191 900h4v4h-4zM192 901h4v4h-4zM195 900h4v4h-4zM198 900h4v4h-4zM200 900h4v4h-4zM202 899h4v4h-4zM205 900h4v4h-4zM173 902h4v4h-4zM175 903h4v4h-4zM179 903h4v4h-4zM181 902h4v4h-4zM182 903h4v4h-4zM186 902h4v4h-4zM188 902h4v4h-4zM189 903h4v4h-4zM194 902h4v4h-4zM202 902h4v4h-4zM205 902h4v4h-4zM150 905h4v4h-4zM152 906h4v4h-4zM174 904h4v4h-4zM176 905h4v4h-4zM178 905h4v4h-4zM181 905h4v4h-4zM183 905h4v4h-4zM186 905h4v4h-4zM188 904h4v4h-4zM192 905h4v4h-4zM199 906h4v4h-4zM201 905h4v4h-4zM203 904h4v4h-4zM208 904h4v4h-4zM66 907h4v4h-4zM179 908h4v4h-4zM182 908h4v4h-4zM186 907h4v4h-4zM187 908h4v4h-4zM194 907h4v4h-4zM195 907h4v4h-4zM198 908h4v4h-4zM200 908h4v4h-4zM205 907h4v4h-4zM143 910h4v4h-4zM153 909h4v4h-4zM183 911h4v4h-4zM193 910h4v4h-4zM196 911h4v4h-4zM165 913h4v4h-4zM181 913h4v4h-4zM191 913h4v4h-4zM132 915h4v4h-4zM135 915h4v4h-4zM138 916h4v4h-4zM178 915h4v4h-4zM143 920h4v4h-4zM175 920h4v4h-4zM202 919h4v4h-4zM124 922h4v4h-4zM140 922h4v4h-4zM206 923h4v4h-4zM125 926h4v4h-4zM195 926h4v4h-4zM130 927h4v4h-4zM146 928h4v4h-4zM175 928h4v4h-4zM171 931h4v4h-4zM176 932h4v4h-4zM186 933h4v4h-4zM200 932h4v4h-4zM160 936h4v4h-4zM132 937h4v4h-4zM174 937h4v4h-4zM180 937h4v4h-4zM157 940h4v4h-4zM150 943h4v4h-4zM199 942h4v4h-4zM200 942h4v4h-4zM119 946h4v4h-4zM125 945h4v4h-4zM173 946h4v4h-4zM123 948h4v4h-4zM125 947h4v4h-4zM131 947h4v4h-4zM186 948h4v4h-4zM120 950h4v4h-4zM123 950h4v4h-4zM124 951h4v4h-4zM127 951h4v4h-4zM121 952h4v4h-4zM122 952h4v4h-4zM125 953h4v4h-4zM128 952h4v4h-4zM162 952h4v4h-4zM183 952h4v4h-4zM129 954h4v4h-4z"/><path fill="#f9dc97" d="M116 793h4v4h-4zM118 793h4v4h-4zM110 800h4v4h-4zM182 801h4v4h-4zM186 801h4v4h-4zM190 801h4v4h-4zM193 801h4v4h-4zM110 802h4v4h-4zM181 802h4v4h-4zM186 802h4v4h-4zM187 803h4v4h-4zM191 803h4v4h-4zM192 803h4v4h-4zM91 804h4v4h-4zM181 804h4v4h-4zM182 805h4v4h-4zM185 806h4v4h-4zM188 806h4v4h-4zM190 806h4v4h-4zM194 806h4v4h-4zM195 806h4v4h-4zM198 805h4v4h-4zM110 808h4v4h-4zM182 807h4v4h-4zM186 807h4v4h-4zM189 807h4v4h-4zM191 807h4v4h-4zM192 808h4v4h-4zM195 808h4v4h-4zM197 807h4v4h-4zM183 810h4v4h-4zM185 811h4v4h-4zM188 811h4v4h-4zM189 810h4v4h-4zM192 810h4v4h-4zM93 812h4v4h-4zM183 812h4v4h-4zM186 812h4v4h-4zM188 813h4v4h-4zM190 813h4v4h-4zM193 813h4v4h-4zM189 815h4v4h-4zM191 814h4v4h-4zM183 817h4v4h-4zM186 817h4v4h-4zM187 818h4v4h-4zM191 818h4v4h-4zM188 821h4v4h-4zM190 820h4v4h-4zM186 823h4v4h-4zM189 823h4v4h-4zM189 824h4v4h-4zM58 828h4v4h-4zM105 828h4v4h-4zM83 835h4v4h-4zM101 835h4v4h-4zM78 837h4v4h-4zM66 840h4v4h-4zM73 840h4v4h-4zM40 845h4v4h-4zM58 848h4v4h-4zM81 847h4v4h-4zM49 853h4v4h-4zM85 853h4v4h-4zM45 856h4v4h-4zM65 856h4v4h-4zM75 854h4v4h-4zM37 857h4v4h-4zM68 858h4v4h-4zM38 860h4v4h-4zM68 860h4v4h-4zM44 863h4v4h-4zM48 862h4v4h-4zM68 865h4v4h-4zM36 868h4v4h-4zM64 867h4v4h-4zM115 868h4v4h-4zM45 871h4v4h-4zM48 870h4v4h-4zM54 870h4v4h-4zM67 871h4v4h-4zM72 870h4v4h-4zM40 873h4v4h-4zM45 873h4v4h-4zM47 873h4v4h-4zM50 872h4v4h-4zM55 873h4v4h-4zM92 872h4v4h-4zM43 876h4v4h-4zM46 876h4v4h-4zM48 876h4v4h-4zM51 876h4v4h-4zM52 876h4v4h-4zM56 875h4v4h-4zM65 875h4v4h-4zM43 877h4v4h-4zM46 877h4v4h-4zM47 877h4v4h-4zM50 877h4v4h-4zM53 878h4v4h-4zM58 878h4v4h-4zM53 881h4v4h-4zM96 883h4v4h-4zM78 885h4v4h-4zM98 886h4v4h-4z"/><path fill="#ef7470" d="M165 789h4v4h-4zM168 790h4v4h-4zM173 790h4v4h-4zM162 793h4v4h-4zM165 793h4v4h-4zM170 793h4v4h-4zM173 793h4v4h-4zM176 793h4v4h-4zM158 794h4v4h-4zM163 795h4v4h-4zM167 794h4v4h-4zM170 796h4v4h-4zM173 794h4v4h-4zM151 797h4v4h-4zM152 797h4v4h-4zM160 798h4v4h-4zM163 798h4v4h-4zM167 797h4v4h-4zM170 798h4v4h-4zM174 798h4v4h-4zM150 801h4v4h-4zM153 801h4v4h-4zM155 800h4v4h-4zM157 801h4v4h-4zM166 801h4v4h-4zM168 801h4v4h-4zM169 800h4v4h-4zM155 803h4v4h-4zM146 806h4v4h-4zM147 805h4v4h-4zM149 807h4v4h-4zM153 808h4v4h-4zM155 808h4v4h-4zM166 807h4v4h-4zM152 809h4v4h-4zM158 815h4v4h-4zM155 818h4v4h-4zM157 823h4v4h-4z"/><path fill="#0f4c6e" d="M135 798h4v4h-4zM135 802h4v4h-4zM118 812h4v4h-4zM130 816h4v4h-4zM125 819h4v4h-4zM140 819h4v4h-4zM116 823h4v4h-4zM142 827h4v4h-4zM138 829h4v4h-4zM128 833h4v4h-4zM135 832h4v4h-4zM140 833h4v4h-4zM139 842h4v4h-4zM142 843h4v4h-4zM233 842h4v4h-4zM118 845h4v4h-4zM132 845h4v4h-4zM146 845h4v4h-4zM239 845h4v4h-4zM233 848h4v4h-4zM136 858h4v4h-4zM228 874h4v4h-4zM230 876h4v4h-4zM234 878h4v4h-4z"/></g>
<rect x="11.4" y="386.3" width="116.0" height="112.0" fill="none" stroke="#666" stroke-width="0.9"/>
<text transform="translate(69.40 381.80) scale(0.9524 1)" font-size="8.66" font-weight="bold" text-anchor="middle">Main cell type</text>
<text transform="translate(7.0 442.30) rotate(-90) scale(0.9524 1)" font-size="8.66" text-anchor="middle">opt-SNE 2</text>
<g transform="scale(0.5)"><path fill="#8e8a86" d="M136 1100h4v4h-4zM137 1105h4v4h-4zM168 1105h4v4h-4zM171 1105h4v4h-4zM174 1104h4v4h-4zM126 1107h4v4h-4zM134 1107h4v4h-4zM140 1107h4v4h-4zM144 1107h4v4h-4zM145 1107h4v4h-4zM161 1106h4v4h-4zM174 1107h4v4h-4zM176 1106h4v4h-4zM104 1110h4v4h-4zM108 1110h4v4h-4zM128 1108h4v4h-4zM131 1109h4v4h-4zM134 1109h4v4h-4zM138 1109h4v4h-4zM107 1111h4v4h-4zM111 1112h4v4h-4zM131 1111h4v4h-4zM133 1111h4v4h-4zM137 1111h4v4h-4zM148 1112h4v4h-4zM174 1112h4v4h-4zM96 1115h4v4h-4zM99 1114h4v4h-4zM104 1114h4v4h-4zM106 1115h4v4h-4zM134 1115h4v4h-4zM141 1115h4v4h-4zM145 1114h4v4h-4zM148 1115h4v4h-4zM174 1115h4v4h-4zM94 1117h4v4h-4zM97 1118h4v4h-4zM98 1117h4v4h-4zM101 1117h4v4h-4zM106 1117h4v4h-4zM111 1117h4v4h-4zM128 1117h4v4h-4zM131 1118h4v4h-4zM133 1116h4v4h-4zM136 1117h4v4h-4zM139 1117h4v4h-4zM142 1117h4v4h-4zM146 1116h4v4h-4zM149 1117h4v4h-4zM150 1116h4v4h-4zM182 1116h4v4h-4zM192 1116h4v4h-4zM91 1120h4v4h-4zM94 1119h4v4h-4zM97 1118h4v4h-4zM99 1119h4v4h-4zM108 1120h4v4h-4zM111 1119h4v4h-4zM114 1119h4v4h-4zM127 1119h4v4h-4zM129 1120h4v4h-4zM132 1120h4v4h-4zM134 1119h4v4h-4zM136 1119h4v4h-4zM138 1120h4v4h-4zM147 1120h4v4h-4zM149 1120h4v4h-4zM161 1119h4v4h-4zM93 1122h4v4h-4zM96 1123h4v4h-4zM102 1121h4v4h-4zM110 1122h4v4h-4zM114 1121h4v4h-4zM129 1122h4v4h-4zM131 1122h4v4h-4zM133 1121h4v4h-4zM137 1121h4v4h-4zM139 1121h4v4h-4zM148 1122h4v4h-4zM163 1123h4v4h-4zM167 1122h4v4h-4zM169 1121h4v4h-4zM79 1125h4v4h-4zM88 1124h4v4h-4zM90 1124h4v4h-4zM97 1125h4v4h-4zM112 1124h4v4h-4zM114 1125h4v4h-4zM139 1123h4v4h-4zM151 1125h4v4h-4zM80 1127h4v4h-4zM84 1126h4v4h-4zM91 1127h4v4h-4zM141 1126h4v4h-4zM149 1126h4v4h-4zM152 1127h4v4h-4zM162 1127h4v4h-4zM174 1126h4v4h-4zM79 1130h4v4h-4zM83 1129h4v4h-4zM88 1129h4v4h-4zM96 1130h4v4h-4zM165 1129h4v4h-4zM76 1132h4v4h-4zM79 1132h4v4h-4zM80 1132h4v4h-4zM83 1131h4v4h-4zM85 1132h4v4h-4zM88 1132h4v4h-4zM104 1132h4v4h-4zM106 1132h4v4h-4zM173 1132h4v4h-4zM182 1133h4v4h-4zM73 1134h4v4h-4zM81 1134h4v4h-4zM83 1135h4v4h-4zM86 1134h4v4h-4zM88 1134h4v4h-4zM92 1135h4v4h-4zM114 1134h4v4h-4zM185 1135h4v4h-4zM69 1137h4v4h-4zM70 1138h4v4h-4zM74 1136h4v4h-4zM78 1137h4v4h-4zM84 1138h4v4h-4zM85 1136h4v4h-4zM92 1138h4v4h-4zM96 1137h4v4h-4zM99 1137h4v4h-4zM61 1140h4v4h-4zM63 1140h4v4h-4zM67 1138h4v4h-4zM69 1139h4v4h-4zM71 1140h4v4h-4zM76 1139h4v4h-4zM81 1140h4v4h-4zM86 1139h4v4h-4zM91 1139h4v4h-4zM94 1139h4v4h-4zM96 1139h4v4h-4zM98 1139h4v4h-4zM101 1139h4v4h-4zM103 1140h4v4h-4zM105 1139h4v4h-4zM108 1139h4v4h-4zM186 1139h4v4h-4zM71 1142h4v4h-4zM73 1142h4v4h-4zM76 1142h4v4h-4zM79 1143h4v4h-4zM84 1142h4v4h-4zM86 1142h4v4h-4zM89 1142h4v4h-4zM92 1141h4v4h-4zM94 1141h4v4h-4zM96 1142h4v4h-4zM98 1142h4v4h-4zM101 1142h4v4h-4zM103 1142h4v4h-4zM106 1141h4v4h-4zM108 1143h4v4h-4zM69 1143h4v4h-4zM73 1145h4v4h-4zM78 1145h4v4h-4zM81 1145h4v4h-4zM84 1145h4v4h-4zM86 1144h4v4h-4zM92 1144h4v4h-4zM94 1144h4v4h-4zM95 1145h4v4h-4zM98 1143h4v4h-4zM103 1143h4v4h-4zM106 1145h4v4h-4zM109 1145h4v4h-4zM111 1145h4v4h-4zM113 1144h4v4h-4zM48 1147h4v4h-4zM52 1147h4v4h-4zM54 1147h4v4h-4zM56 1147h4v4h-4zM58 1147h4v4h-4zM60 1146h4v4h-4zM74 1147h4v4h-4zM76 1147h4v4h-4zM78 1148h4v4h-4zM81 1148h4v4h-4zM83 1147h4v4h-4zM85 1146h4v4h-4zM89 1147h4v4h-4zM90 1147h4v4h-4zM97 1146h4v4h-4zM98 1147h4v4h-4zM101 1147h4v4h-4zM103 1147h4v4h-4zM106 1147h4v4h-4zM114 1147h4v4h-4zM121 1146h4v4h-4zM172 1147h4v4h-4zM52 1148h4v4h-4zM58 1149h4v4h-4zM74 1149h4v4h-4zM76 1150h4v4h-4zM79 1150h4v4h-4zM83 1150h4v4h-4zM86 1149h4v4h-4zM90 1150h4v4h-4zM98 1150h4v4h-4zM102 1149h4v4h-4zM104 1149h4v4h-4zM106 1149h4v4h-4zM108 1150h4v4h-4zM111 1149h4v4h-4zM113 1150h4v4h-4zM117 1150h4v4h-4zM118 1150h4v4h-4zM169 1150h4v4h-4zM43 1152h4v4h-4zM52 1152h4v4h-4zM58 1151h4v4h-4zM61 1151h4v4h-4zM74 1152h4v4h-4zM76 1153h4v4h-4zM83 1151h4v4h-4zM86 1151h4v4h-4zM89 1152h4v4h-4zM91 1152h4v4h-4zM94 1153h4v4h-4zM96 1151h4v4h-4zM98 1151h4v4h-4zM102 1152h4v4h-4zM103 1152h4v4h-4zM106 1151h4v4h-4zM108 1151h4v4h-4zM111 1153h4v4h-4zM113 1153h4v4h-4zM115 1152h4v4h-4zM119 1152h4v4h-4zM121 1151h4v4h-4zM123 1152h4v4h-4zM144 1152h4v4h-4zM43 1155h4v4h-4zM47 1155h4v4h-4zM49 1154h4v4h-4zM51 1154h4v4h-4zM53 1154h4v4h-4zM55 1154h4v4h-4zM59 1155h4v4h-4zM64 1154h4v4h-4zM67 1155h4v4h-4zM73 1155h4v4h-4zM75 1154h4v4h-4zM82 1155h4v4h-4zM86 1155h4v4h-4zM88 1155h4v4h-4zM90 1155h4v4h-4zM94 1154h4v4h-4zM95 1154h4v4h-4zM98 1154h4v4h-4zM102 1155h4v4h-4zM104 1155h4v4h-4zM106 1154h4v4h-4zM109 1155h4v4h-4zM111 1155h4v4h-4zM113 1155h4v4h-4zM116 1154h4v4h-4zM119 1154h4v4h-4zM121 1154h4v4h-4zM124 1154h4v4h-4zM125 1155h4v4h-4zM179 1155h4v4h-4zM36 1157h4v4h-4zM39 1157h4v4h-4zM40 1157h4v4h-4zM46 1157h4v4h-4zM51 1157h4v4h-4zM56 1157h4v4h-4zM62 1157h4v4h-4zM64 1156h4v4h-4zM68 1157h4v4h-4zM71 1157h4v4h-4zM74 1157h4v4h-4zM75 1156h4v4h-4zM78 1157h4v4h-4zM81 1158h4v4h-4zM83 1157h4v4h-4zM87 1157h4v4h-4zM88 1157h4v4h-4zM91 1157h4v4h-4zM94 1156h4v4h-4zM95 1157h4v4h-4zM98 1158h4v4h-4zM102 1157h4v4h-4zM104 1156h4v4h-4zM106 1156h4v4h-4zM108 1157h4v4h-4zM112 1156h4v4h-4zM114 1156h4v4h-4zM116 1157h4v4h-4zM118 1156h4v4h-4zM123 1156h4v4h-4zM139 1158h4v4h-4zM181 1158h4v4h-4zM236 1157h4v4h-4zM41 1159h4v4h-4zM43 1159h4v4h-4zM51 1159h4v4h-4zM54 1159h4v4h-4zM58 1160h4v4h-4zM61 1160h4v4h-4zM66 1159h4v4h-4zM68 1159h4v4h-4zM74 1159h4v4h-4zM79 1160h4v4h-4zM81 1160h4v4h-4zM83 1160h4v4h-4zM86 1159h4v4h-4zM88 1159h4v4h-4zM92 1159h4v4h-4zM93 1159h4v4h-4zM96 1160h4v4h-4zM98 1159h4v4h-4zM100 1158h4v4h-4zM103 1159h4v4h-4zM106 1159h4v4h-4zM108 1160h4v4h-4zM111 1160h4v4h-4zM113 1160h4v4h-4zM121 1160h4v4h-4zM127 1160h4v4h-4zM141 1159h4v4h-4zM159 1160h4v4h-4zM174 1159h4v4h-4zM236 1160h4v4h-4zM238 1158h4v4h-4zM36 1161h4v4h-4zM38 1162h4v4h-4zM42 1163h4v4h-4zM44 1162h4v4h-4zM47 1162h4v4h-4zM49 1162h4v4h-4zM53 1163h4v4h-4zM63 1162h4v4h-4zM67 1161h4v4h-4zM69 1161h4v4h-4zM71 1162h4v4h-4zM74 1162h4v4h-4zM77 1162h4v4h-4zM82 1162h4v4h-4zM85 1162h4v4h-4zM88 1162h4v4h-4zM90 1162h4v4h-4zM94 1163h4v4h-4zM97 1162h4v4h-4zM100 1161h4v4h-4zM103 1162h4v4h-4zM105 1162h4v4h-4zM109 1163h4v4h-4zM111 1162h4v4h-4zM114 1162h4v4h-4zM115 1162h4v4h-4zM118 1162h4v4h-4zM121 1162h4v4h-4zM129 1162h4v4h-4zM132 1162h4v4h-4zM133 1161h4v4h-4zM137 1162h4v4h-4zM234 1162h4v4h-4zM236 1162h4v4h-4zM239 1162h4v4h-4zM39 1164h4v4h-4zM41 1164h4v4h-4zM47 1164h4v4h-4zM51 1164h4v4h-4zM54 1165h4v4h-4zM61 1165h4v4h-4zM66 1164h4v4h-4zM68 1165h4v4h-4zM74 1165h4v4h-4zM81 1164h4v4h-4zM83 1164h4v4h-4zM85 1165h4v4h-4zM89 1163h4v4h-4zM91 1164h4v4h-4zM94 1164h4v4h-4zM96 1165h4v4h-4zM99 1164h4v4h-4zM101 1165h4v4h-4zM104 1164h4v4h-4zM106 1164h4v4h-4zM108 1165h4v4h-4zM111 1165h4v4h-4zM113 1163h4v4h-4zM116 1164h4v4h-4zM119 1165h4v4h-4zM121 1164h4v4h-4zM124 1164h4v4h-4zM126 1165h4v4h-4zM129 1164h4v4h-4zM131 1163h4v4h-4zM133 1164h4v4h-4zM136 1165h4v4h-4zM144 1165h4v4h-4zM146 1165h4v4h-4zM175 1164h4v4h-4zM179 1164h4v4h-4zM234 1164h4v4h-4zM37 1167h4v4h-4zM38 1167h4v4h-4zM44 1166h4v4h-4zM46 1166h4v4h-4zM49 1166h4v4h-4zM52 1167h4v4h-4zM57 1166h4v4h-4zM59 1168h4v4h-4zM62 1166h4v4h-4zM64 1167h4v4h-4zM68 1166h4v4h-4zM84 1167h4v4h-4zM87 1166h4v4h-4zM89 1166h4v4h-4zM92 1166h4v4h-4zM93 1167h4v4h-4zM96 1168h4v4h-4zM99 1167h4v4h-4zM102 1167h4v4h-4zM103 1168h4v4h-4zM108 1167h4v4h-4zM110 1167h4v4h-4zM114 1167h4v4h-4zM117 1167h4v4h-4zM119 1167h4v4h-4zM122 1166h4v4h-4zM123 1166h4v4h-4zM127 1167h4v4h-4zM128 1167h4v4h-4zM130 1167h4v4h-4zM134 1167h4v4h-4zM159 1168h4v4h-4zM166 1166h4v4h-4zM169 1166h4v4h-4zM36 1169h4v4h-4zM39 1169h4v4h-4zM43 1169h4v4h-4zM46 1168h4v4h-4zM48 1170h4v4h-4zM51 1169h4v4h-4zM54 1169h4v4h-4zM56 1169h4v4h-4zM59 1170h4v4h-4zM62 1170h4v4h-4zM63 1170h4v4h-4zM67 1170h4v4h-4zM68 1169h4v4h-4zM85 1170h4v4h-4zM89 1170h4v4h-4zM91 1170h4v4h-4zM94 1169h4v4h-4zM96 1168h4v4h-4zM98 1168h4v4h-4zM102 1170h4v4h-4zM107 1169h4v4h-4zM109 1169h4v4h-4zM111 1169h4v4h-4zM114 1169h4v4h-4zM115 1169h4v4h-4zM119 1169h4v4h-4zM121 1170h4v4h-4zM124 1170h4v4h-4zM128 1168h4v4h-4zM137 1168h4v4h-4zM139 1169h4v4h-4zM141 1170h4v4h-4zM172 1169h4v4h-4zM33 1171h4v4h-4zM39 1171h4v4h-4zM41 1171h4v4h-4zM43 1172h4v4h-4zM47 1172h4v4h-4zM48 1172h4v4h-4zM54 1171h4v4h-4zM57 1171h4v4h-4zM58 1171h4v4h-4zM62 1172h4v4h-4zM64 1171h4v4h-4zM66 1171h4v4h-4zM71 1172h4v4h-4zM81 1171h4v4h-4zM83 1171h4v4h-4zM88 1171h4v4h-4zM93 1173h4v4h-4zM97 1173h4v4h-4zM98 1172h4v4h-4zM100 1171h4v4h-4zM104 1171h4v4h-4zM107 1172h4v4h-4zM109 1171h4v4h-4zM110 1172h4v4h-4zM113 1172h4v4h-4zM116 1172h4v4h-4zM119 1172h4v4h-4zM122 1172h4v4h-4zM124 1171h4v4h-4zM128 1172h4v4h-4zM139 1172h4v4h-4zM181 1172h4v4h-4zM36 1175h4v4h-4zM39 1174h4v4h-4zM40 1174h4v4h-4zM44 1175h4v4h-4zM47 1175h4v4h-4zM51 1174h4v4h-4zM54 1174h4v4h-4zM56 1174h4v4h-4zM59 1174h4v4h-4zM61 1174h4v4h-4zM63 1175h4v4h-4zM67 1175h4v4h-4zM73 1174h4v4h-4zM79 1174h4v4h-4zM91 1174h4v4h-4zM93 1174h4v4h-4zM95 1175h4v4h-4zM99 1174h4v4h-4zM103 1173h4v4h-4zM107 1174h4v4h-4zM109 1175h4v4h-4zM110 1174h4v4h-4zM114 1174h4v4h-4zM115 1173h4v4h-4zM119 1174h4v4h-4zM121 1175h4v4h-4zM123 1175h4v4h-4zM127 1174h4v4h-4zM138 1174h4v4h-4zM142 1175h4v4h-4zM34 1177h4v4h-4zM38 1178h4v4h-4zM42 1177h4v4h-4zM43 1177h4v4h-4zM46 1176h4v4h-4zM48 1176h4v4h-4zM52 1176h4v4h-4zM54 1177h4v4h-4zM56 1177h4v4h-4zM58 1177h4v4h-4zM61 1176h4v4h-4zM64 1176h4v4h-4zM65 1177h4v4h-4zM69 1176h4v4h-4zM78 1176h4v4h-4zM89 1176h4v4h-4zM91 1177h4v4h-4zM93 1177h4v4h-4zM99 1176h4v4h-4zM101 1176h4v4h-4zM106 1177h4v4h-4zM111 1177h4v4h-4zM117 1177h4v4h-4zM118 1177h4v4h-4zM122 1177h4v4h-4zM131 1177h4v4h-4zM133 1177h4v4h-4zM137 1177h4v4h-4zM138 1177h4v4h-4zM171 1177h4v4h-4zM33 1179h4v4h-4zM36 1180h4v4h-4zM39 1179h4v4h-4zM42 1179h4v4h-4zM43 1180h4v4h-4zM46 1180h4v4h-4zM51 1179h4v4h-4zM53 1180h4v4h-4zM56 1180h4v4h-4zM58 1179h4v4h-4zM61 1179h4v4h-4zM64 1179h4v4h-4zM67 1180h4v4h-4zM69 1179h4v4h-4zM74 1180h4v4h-4zM76 1179h4v4h-4zM89 1179h4v4h-4zM91 1179h4v4h-4zM94 1179h4v4h-4zM97 1180h4v4h-4zM99 1179h4v4h-4zM101 1179h4v4h-4zM104 1180h4v4h-4zM107 1180h4v4h-4zM109 1179h4v4h-4zM112 1179h4v4h-4zM113 1180h4v4h-4zM116 1179h4v4h-4zM118 1179h4v4h-4zM122 1179h4v4h-4zM124 1180h4v4h-4zM129 1180h4v4h-4zM130 1179h4v4h-4zM134 1180h4v4h-4zM140 1179h4v4h-4zM161 1180h4v4h-4zM165 1179h4v4h-4zM172 1179h4v4h-4zM177 1178h4v4h-4zM36 1181h4v4h-4zM39 1181h4v4h-4zM42 1182h4v4h-4zM44 1181h4v4h-4zM47 1182h4v4h-4zM49 1181h4v4h-4zM51 1183h4v4h-4zM57 1181h4v4h-4zM58 1182h4v4h-4zM61 1183h4v4h-4zM64 1181h4v4h-4zM72 1181h4v4h-4zM76 1181h4v4h-4zM84 1182h4v4h-4zM89 1182h4v4h-4zM91 1181h4v4h-4zM93 1182h4v4h-4zM95 1182h4v4h-4zM98 1181h4v4h-4zM100 1182h4v4h-4zM103 1181h4v4h-4zM109 1182h4v4h-4zM111 1182h4v4h-4zM114 1183h4v4h-4zM123 1183h4v4h-4zM127 1182h4v4h-4zM128 1182h4v4h-4zM131 1182h4v4h-4zM133 1181h4v4h-4zM152 1183h4v4h-4zM156 1183h4v4h-4zM158 1182h4v4h-4zM36 1184h4v4h-4zM39 1185h4v4h-4zM44 1184h4v4h-4zM46 1184h4v4h-4zM49 1184h4v4h-4zM52 1184h4v4h-4zM54 1184h4v4h-4zM56 1184h4v4h-4zM58 1184h4v4h-4zM62 1184h4v4h-4zM63 1184h4v4h-4zM74 1185h4v4h-4zM76 1185h4v4h-4zM91 1184h4v4h-4zM94 1185h4v4h-4zM98 1184h4v4h-4zM101 1184h4v4h-4zM103 1185h4v4h-4zM106 1184h4v4h-4zM109 1185h4v4h-4zM112 1183h4v4h-4zM113 1185h4v4h-4zM123 1185h4v4h-4zM127 1185h4v4h-4zM132 1184h4v4h-4zM133 1184h4v4h-4zM151 1184h4v4h-4zM153 1184h4v4h-4zM158 1185h4v4h-4zM34 1188h4v4h-4zM36 1187h4v4h-4zM39 1186h4v4h-4zM41 1186h4v4h-4zM44 1186h4v4h-4zM47 1186h4v4h-4zM49 1186h4v4h-4zM51 1186h4v4h-4zM53 1187h4v4h-4zM56 1188h4v4h-4zM59 1188h4v4h-4zM63 1187h4v4h-4zM73 1187h4v4h-4zM75 1187h4v4h-4zM96 1187h4v4h-4zM99 1187h4v4h-4zM101 1187h4v4h-4zM104 1187h4v4h-4zM107 1186h4v4h-4zM108 1188h4v4h-4zM112 1186h4v4h-4zM114 1188h4v4h-4zM119 1186h4v4h-4zM121 1186h4v4h-4zM124 1187h4v4h-4zM127 1187h4v4h-4zM131 1187h4v4h-4zM138 1186h4v4h-4zM142 1187h4v4h-4zM143 1187h4v4h-4zM146 1187h4v4h-4zM153 1187h4v4h-4zM158 1188h4v4h-4zM160 1187h4v4h-4zM36 1189h4v4h-4zM38 1189h4v4h-4zM41 1189h4v4h-4zM43 1189h4v4h-4zM46 1190h4v4h-4zM48 1189h4v4h-4zM50 1189h4v4h-4zM54 1190h4v4h-4zM59 1189h4v4h-4zM60 1189h4v4h-4zM64 1189h4v4h-4zM79 1189h4v4h-4zM85 1190h4v4h-4zM93 1189h4v4h-4zM97 1190h4v4h-4zM98 1189h4v4h-4zM102 1189h4v4h-4zM103 1190h4v4h-4zM106 1190h4v4h-4zM120 1190h4v4h-4zM123 1189h4v4h-4zM129 1190h4v4h-4zM133 1190h4v4h-4zM138 1190h4v4h-4zM140 1189h4v4h-4zM143 1190h4v4h-4zM145 1190h4v4h-4zM148 1190h4v4h-4zM151 1190h4v4h-4zM158 1189h4v4h-4zM163 1190h4v4h-4zM36 1193h4v4h-4zM38 1193h4v4h-4zM42 1192h4v4h-4zM45 1192h4v4h-4zM49 1192h4v4h-4zM54 1192h4v4h-4zM56 1191h4v4h-4zM59 1191h4v4h-4zM61 1191h4v4h-4zM64 1191h4v4h-4zM71 1191h4v4h-4zM78 1192h4v4h-4zM82 1192h4v4h-4zM95 1191h4v4h-4zM99 1193h4v4h-4zM100 1192h4v4h-4zM104 1192h4v4h-4zM109 1192h4v4h-4zM114 1192h4v4h-4zM116 1191h4v4h-4zM119 1192h4v4h-4zM120 1192h4v4h-4zM127 1193h4v4h-4zM131 1192h4v4h-4zM133 1191h4v4h-4zM139 1192h4v4h-4zM143 1192h4v4h-4zM146 1192h4v4h-4zM149 1192h4v4h-4zM151 1193h4v4h-4zM154 1192h4v4h-4zM161 1191h4v4h-4zM165 1192h4v4h-4zM168 1191h4v4h-4zM39 1194h4v4h-4zM41 1195h4v4h-4zM44 1195h4v4h-4zM46 1194h4v4h-4zM49 1194h4v4h-4zM52 1194h4v4h-4zM54 1194h4v4h-4zM56 1194h4v4h-4zM59 1195h4v4h-4zM62 1195h4v4h-4zM64 1194h4v4h-4zM67 1195h4v4h-4zM68 1193h4v4h-4zM71 1194h4v4h-4zM84 1195h4v4h-4zM89 1195h4v4h-4zM94 1195h4v4h-4zM97 1195h4v4h-4zM99 1194h4v4h-4zM100 1195h4v4h-4zM112 1194h4v4h-4zM114 1195h4v4h-4zM118 1194h4v4h-4zM123 1195h4v4h-4zM137 1195h4v4h-4zM138 1194h4v4h-4zM141 1194h4v4h-4zM144 1195h4v4h-4zM146 1195h4v4h-4zM152 1194h4v4h-4zM154 1194h4v4h-4zM156 1194h4v4h-4zM161 1195h4v4h-4zM163 1195h4v4h-4zM166 1194h4v4h-4zM38 1197h4v4h-4zM40 1197h4v4h-4zM43 1196h4v4h-4zM47 1197h4v4h-4zM48 1198h4v4h-4zM51 1196h4v4h-4zM53 1197h4v4h-4zM56 1197h4v4h-4zM59 1196h4v4h-4zM60 1197h4v4h-4zM63 1197h4v4h-4zM67 1197h4v4h-4zM68 1197h4v4h-4zM90 1197h4v4h-4zM94 1197h4v4h-4zM99 1196h4v4h-4zM113 1197h4v4h-4zM119 1197h4v4h-4zM144 1198h4v4h-4zM146 1196h4v4h-4zM148 1196h4v4h-4zM151 1198h4v4h-4zM153 1198h4v4h-4zM156 1197h4v4h-4zM158 1196h4v4h-4zM161 1197h4v4h-4zM168 1197h4v4h-4zM221 1197h4v4h-4zM234 1196h4v4h-4zM237 1197h4v4h-4zM39 1199h4v4h-4zM41 1200h4v4h-4zM44 1200h4v4h-4zM49 1199h4v4h-4zM50 1200h4v4h-4zM53 1200h4v4h-4zM56 1200h4v4h-4zM59 1200h4v4h-4zM63 1199h4v4h-4zM67 1199h4v4h-4zM68 1200h4v4h-4zM72 1200h4v4h-4zM73 1200h4v4h-4zM86 1199h4v4h-4zM97 1200h4v4h-4zM105 1199h4v4h-4zM109 1200h4v4h-4zM142 1200h4v4h-4zM144 1199h4v4h-4zM147 1200h4v4h-4zM155 1199h4v4h-4zM224 1199h4v4h-4zM39 1201h4v4h-4zM42 1201h4v4h-4zM44 1201h4v4h-4zM46 1202h4v4h-4zM48 1201h4v4h-4zM52 1201h4v4h-4zM53 1202h4v4h-4zM57 1202h4v4h-4zM58 1202h4v4h-4zM61 1202h4v4h-4zM63 1201h4v4h-4zM69 1203h4v4h-4zM71 1202h4v4h-4zM74 1201h4v4h-4zM76 1201h4v4h-4zM79 1202h4v4h-4zM82 1202h4v4h-4zM87 1203h4v4h-4zM88 1201h4v4h-4zM92 1201h4v4h-4zM96 1202h4v4h-4zM116 1202h4v4h-4zM118 1201h4v4h-4zM147 1202h4v4h-4zM148 1201h4v4h-4zM153 1201h4v4h-4zM163 1202h4v4h-4zM183 1201h4v4h-4zM193 1203h4v4h-4zM201 1203h4v4h-4zM203 1201h4v4h-4zM206 1201h4v4h-4zM210 1202h4v4h-4zM218 1201h4v4h-4zM223 1202h4v4h-4zM231 1201h4v4h-4zM39 1204h4v4h-4zM42 1205h4v4h-4zM43 1204h4v4h-4zM45 1205h4v4h-4zM49 1204h4v4h-4zM51 1204h4v4h-4zM54 1203h4v4h-4zM56 1205h4v4h-4zM59 1205h4v4h-4zM62 1204h4v4h-4zM74 1205h4v4h-4zM76 1203h4v4h-4zM79 1204h4v4h-4zM81 1204h4v4h-4zM84 1204h4v4h-4zM86 1205h4v4h-4zM89 1205h4v4h-4zM91 1205h4v4h-4zM94 1204h4v4h-4zM106 1204h4v4h-4zM114 1205h4v4h-4zM116 1203h4v4h-4zM152 1204h4v4h-4zM157 1204h4v4h-4zM199 1205h4v4h-4zM201 1204h4v4h-4zM204 1205h4v4h-4zM206 1205h4v4h-4zM212 1204h4v4h-4zM214 1205h4v4h-4zM222 1205h4v4h-4zM224 1204h4v4h-4zM226 1205h4v4h-4zM39 1206h4v4h-4zM43 1207h4v4h-4zM47 1207h4v4h-4zM51 1207h4v4h-4zM53 1208h4v4h-4zM57 1206h4v4h-4zM58 1208h4v4h-4zM61 1207h4v4h-4zM64 1206h4v4h-4zM65 1207h4v4h-4zM68 1207h4v4h-4zM72 1207h4v4h-4zM74 1206h4v4h-4zM76 1207h4v4h-4zM79 1207h4v4h-4zM82 1207h4v4h-4zM83 1207h4v4h-4zM87 1207h4v4h-4zM88 1207h4v4h-4zM99 1206h4v4h-4zM117 1206h4v4h-4zM153 1208h4v4h-4zM156 1206h4v4h-4zM159 1208h4v4h-4zM176 1207h4v4h-4zM184 1207h4v4h-4zM189 1207h4v4h-4zM198 1207h4v4h-4zM201 1206h4v4h-4zM208 1207h4v4h-4zM211 1207h4v4h-4zM214 1206h4v4h-4zM216 1208h4v4h-4zM218 1207h4v4h-4zM221 1206h4v4h-4zM224 1206h4v4h-4zM39 1209h4v4h-4zM40 1209h4v4h-4zM43 1210h4v4h-4zM46 1209h4v4h-4zM49 1209h4v4h-4zM51 1209h4v4h-4zM53 1209h4v4h-4zM55 1209h4v4h-4zM59 1209h4v4h-4zM61 1209h4v4h-4zM64 1209h4v4h-4zM66 1209h4v4h-4zM68 1209h4v4h-4zM71 1209h4v4h-4zM74 1209h4v4h-4zM78 1209h4v4h-4zM81 1210h4v4h-4zM83 1210h4v4h-4zM87 1209h4v4h-4zM109 1210h4v4h-4zM111 1209h4v4h-4zM114 1208h4v4h-4zM115 1209h4v4h-4zM151 1209h4v4h-4zM175 1209h4v4h-4zM203 1210h4v4h-4zM209 1209h4v4h-4zM210 1209h4v4h-4zM217 1210h4v4h-4zM218 1209h4v4h-4zM221 1210h4v4h-4zM223 1209h4v4h-4zM39 1211h4v4h-4zM44 1211h4v4h-4zM45 1211h4v4h-4zM48 1211h4v4h-4zM50 1212h4v4h-4zM56 1211h4v4h-4zM59 1211h4v4h-4zM61 1211h4v4h-4zM64 1211h4v4h-4zM66 1212h4v4h-4zM69 1211h4v4h-4zM71 1213h4v4h-4zM74 1211h4v4h-4zM77 1212h4v4h-4zM79 1211h4v4h-4zM84 1212h4v4h-4zM112 1213h4v4h-4zM114 1212h4v4h-4zM115 1211h4v4h-4zM150 1212h4v4h-4zM155 1212h4v4h-4zM207 1211h4v4h-4zM208 1213h4v4h-4zM211 1211h4v4h-4zM213 1212h4v4h-4zM216 1212h4v4h-4zM219 1211h4v4h-4zM220 1212h4v4h-4zM224 1212h4v4h-4zM228 1211h4v4h-4zM44 1215h4v4h-4zM47 1214h4v4h-4zM48 1215h4v4h-4zM51 1214h4v4h-4zM54 1215h4v4h-4zM56 1215h4v4h-4zM58 1215h4v4h-4zM61 1215h4v4h-4zM63 1214h4v4h-4zM66 1214h4v4h-4zM68 1213h4v4h-4zM72 1214h4v4h-4zM76 1214h4v4h-4zM79 1215h4v4h-4zM85 1214h4v4h-4zM104 1215h4v4h-4zM111 1214h4v4h-4zM114 1214h4v4h-4zM160 1214h4v4h-4zM163 1214h4v4h-4zM180 1215h4v4h-4zM202 1215h4v4h-4zM206 1215h4v4h-4zM211 1214h4v4h-4zM213 1215h4v4h-4zM217 1215h4v4h-4zM221 1214h4v4h-4zM224 1214h4v4h-4zM44 1217h4v4h-4zM46 1217h4v4h-4zM49 1217h4v4h-4zM51 1216h4v4h-4zM54 1218h4v4h-4zM55 1216h4v4h-4zM61 1217h4v4h-4zM66 1216h4v4h-4zM69 1217h4v4h-4zM70 1217h4v4h-4zM74 1216h4v4h-4zM101 1217h4v4h-4zM106 1217h4v4h-4zM108 1216h4v4h-4zM110 1217h4v4h-4zM118 1217h4v4h-4zM159 1217h4v4h-4zM195 1216h4v4h-4zM203 1217h4v4h-4zM206 1216h4v4h-4zM208 1216h4v4h-4zM211 1216h4v4h-4zM214 1216h4v4h-4zM216 1217h4v4h-4zM219 1217h4v4h-4zM220 1217h4v4h-4zM223 1216h4v4h-4zM226 1216h4v4h-4zM44 1220h4v4h-4zM46 1219h4v4h-4zM49 1219h4v4h-4zM51 1219h4v4h-4zM54 1220h4v4h-4zM56 1220h4v4h-4zM58 1218h4v4h-4zM63 1220h4v4h-4zM67 1219h4v4h-4zM68 1220h4v4h-4zM74 1218h4v4h-4zM89 1219h4v4h-4zM94 1219h4v4h-4zM98 1220h4v4h-4zM104 1219h4v4h-4zM107 1219h4v4h-4zM108 1219h4v4h-4zM111 1220h4v4h-4zM116 1220h4v4h-4zM146 1219h4v4h-4zM186 1219h4v4h-4zM188 1219h4v4h-4zM194 1220h4v4h-4zM196 1219h4v4h-4zM204 1220h4v4h-4zM207 1219h4v4h-4zM211 1219h4v4h-4zM213 1219h4v4h-4zM217 1220h4v4h-4zM222 1219h4v4h-4zM48 1222h4v4h-4zM52 1221h4v4h-4zM54 1222h4v4h-4zM56 1222h4v4h-4zM58 1222h4v4h-4zM61 1221h4v4h-4zM64 1222h4v4h-4zM69 1223h4v4h-4zM74 1221h4v4h-4zM82 1222h4v4h-4zM84 1222h4v4h-4zM88 1222h4v4h-4zM94 1221h4v4h-4zM97 1223h4v4h-4zM99 1222h4v4h-4zM101 1222h4v4h-4zM104 1221h4v4h-4zM107 1222h4v4h-4zM108 1221h4v4h-4zM113 1222h4v4h-4zM144 1222h4v4h-4zM147 1222h4v4h-4zM149 1222h4v4h-4zM153 1222h4v4h-4zM198 1222h4v4h-4zM206 1222h4v4h-4zM208 1222h4v4h-4zM212 1221h4v4h-4zM215 1222h4v4h-4zM218 1221h4v4h-4zM49 1223h4v4h-4zM51 1225h4v4h-4zM61 1225h4v4h-4zM79 1224h4v4h-4zM87 1225h4v4h-4zM89 1224h4v4h-4zM91 1225h4v4h-4zM94 1224h4v4h-4zM97 1224h4v4h-4zM99 1224h4v4h-4zM106 1224h4v4h-4zM109 1224h4v4h-4zM112 1224h4v4h-4zM113 1225h4v4h-4zM117 1225h4v4h-4zM119 1224h4v4h-4zM143 1224h4v4h-4zM149 1225h4v4h-4zM188 1225h4v4h-4zM203 1224h4v4h-4zM212 1225h4v4h-4zM75 1226h4v4h-4zM78 1226h4v4h-4zM83 1227h4v4h-4zM89 1227h4v4h-4zM94 1226h4v4h-4zM96 1227h4v4h-4zM98 1226h4v4h-4zM102 1227h4v4h-4zM104 1227h4v4h-4zM107 1226h4v4h-4zM109 1228h4v4h-4zM112 1226h4v4h-4zM114 1227h4v4h-4zM116 1227h4v4h-4zM118 1226h4v4h-4zM121 1228h4v4h-4zM124 1227h4v4h-4zM143 1226h4v4h-4zM145 1226h4v4h-4zM149 1226h4v4h-4zM151 1228h4v4h-4zM169 1227h4v4h-4zM191 1227h4v4h-4zM209 1226h4v4h-4zM71 1230h4v4h-4zM74 1229h4v4h-4zM75 1229h4v4h-4zM78 1229h4v4h-4zM83 1230h4v4h-4zM86 1230h4v4h-4zM89 1230h4v4h-4zM91 1229h4v4h-4zM97 1230h4v4h-4zM99 1230h4v4h-4zM100 1230h4v4h-4zM104 1229h4v4h-4zM106 1230h4v4h-4zM108 1230h4v4h-4zM111 1230h4v4h-4zM113 1230h4v4h-4zM115 1230h4v4h-4zM121 1229h4v4h-4zM124 1230h4v4h-4zM127 1229h4v4h-4zM128 1230h4v4h-4zM134 1230h4v4h-4zM140 1229h4v4h-4zM166 1229h4v4h-4zM174 1229h4v4h-4zM179 1230h4v4h-4zM191 1229h4v4h-4zM193 1229h4v4h-4zM195 1230h4v4h-4zM73 1232h4v4h-4zM76 1232h4v4h-4zM80 1232h4v4h-4zM84 1231h4v4h-4zM85 1232h4v4h-4zM89 1232h4v4h-4zM91 1233h4v4h-4zM93 1231h4v4h-4zM96 1232h4v4h-4zM99 1233h4v4h-4zM100 1231h4v4h-4zM103 1231h4v4h-4zM106 1233h4v4h-4zM109 1233h4v4h-4zM114 1232h4v4h-4zM117 1232h4v4h-4zM121 1232h4v4h-4zM123 1231h4v4h-4zM126 1232h4v4h-4zM129 1233h4v4h-4zM131 1232h4v4h-4zM133 1233h4v4h-4zM135 1232h4v4h-4zM139 1232h4v4h-4zM141 1232h4v4h-4zM144 1231h4v4h-4zM149 1231h4v4h-4zM151 1231h4v4h-4zM168 1232h4v4h-4zM189 1233h4v4h-4zM196 1232h4v4h-4zM206 1232h4v4h-4zM69 1234h4v4h-4zM71 1234h4v4h-4zM73 1234h4v4h-4zM77 1235h4v4h-4zM79 1235h4v4h-4zM81 1234h4v4h-4zM84 1234h4v4h-4zM86 1234h4v4h-4zM91 1234h4v4h-4zM94 1234h4v4h-4zM96 1234h4v4h-4zM99 1234h4v4h-4zM101 1234h4v4h-4zM106 1235h4v4h-4zM109 1234h4v4h-4zM111 1234h4v4h-4zM114 1234h4v4h-4zM117 1235h4v4h-4zM119 1233h4v4h-4zM121 1235h4v4h-4zM123 1234h4v4h-4zM126 1235h4v4h-4zM129 1234h4v4h-4zM143 1233h4v4h-4zM146 1235h4v4h-4zM149 1235h4v4h-4zM151 1234h4v4h-4zM164 1234h4v4h-4zM180 1235h4v4h-4zM196 1235h4v4h-4zM211 1235h4v4h-4zM71 1236h4v4h-4zM73 1236h4v4h-4zM76 1236h4v4h-4zM78 1238h4v4h-4zM82 1237h4v4h-4zM84 1236h4v4h-4zM85 1236h4v4h-4zM91 1237h4v4h-4zM94 1238h4v4h-4zM96 1237h4v4h-4zM102 1236h4v4h-4zM104 1237h4v4h-4zM106 1237h4v4h-4zM108 1237h4v4h-4zM110 1237h4v4h-4zM113 1237h4v4h-4zM116 1236h4v4h-4zM121 1237h4v4h-4zM123 1237h4v4h-4zM127 1237h4v4h-4zM128 1237h4v4h-4zM130 1236h4v4h-4zM168 1236h4v4h-4zM177 1237h4v4h-4zM181 1237h4v4h-4zM189 1236h4v4h-4zM192 1237h4v4h-4zM196 1237h4v4h-4zM67 1239h4v4h-4zM69 1238h4v4h-4zM72 1240h4v4h-4zM73 1239h4v4h-4zM76 1240h4v4h-4zM81 1240h4v4h-4zM84 1240h4v4h-4zM86 1240h4v4h-4zM89 1240h4v4h-4zM91 1239h4v4h-4zM93 1240h4v4h-4zM97 1240h4v4h-4zM99 1239h4v4h-4zM102 1240h4v4h-4zM103 1239h4v4h-4zM105 1239h4v4h-4zM111 1240h4v4h-4zM115 1239h4v4h-4zM123 1240h4v4h-4zM127 1239h4v4h-4zM132 1240h4v4h-4zM134 1239h4v4h-4zM153 1239h4v4h-4zM167 1240h4v4h-4zM173 1240h4v4h-4zM176 1240h4v4h-4zM184 1239h4v4h-4zM197 1238h4v4h-4zM67 1243h4v4h-4zM68 1241h4v4h-4zM71 1242h4v4h-4zM76 1242h4v4h-4zM78 1241h4v4h-4zM81 1241h4v4h-4zM84 1242h4v4h-4zM86 1242h4v4h-4zM89 1242h4v4h-4zM92 1241h4v4h-4zM96 1242h4v4h-4zM99 1242h4v4h-4zM101 1242h4v4h-4zM104 1242h4v4h-4zM106 1241h4v4h-4zM109 1243h4v4h-4zM112 1241h4v4h-4zM113 1242h4v4h-4zM118 1241h4v4h-4zM121 1242h4v4h-4zM123 1241h4v4h-4zM127 1241h4v4h-4zM129 1242h4v4h-4zM131 1242h4v4h-4zM134 1242h4v4h-4zM137 1241h4v4h-4zM176 1241h4v4h-4zM178 1241h4v4h-4zM188 1242h4v4h-4zM206 1242h4v4h-4zM209 1242h4v4h-4zM66 1243h4v4h-4zM68 1245h4v4h-4zM72 1244h4v4h-4zM74 1245h4v4h-4zM75 1244h4v4h-4zM79 1245h4v4h-4zM80 1244h4v4h-4zM83 1245h4v4h-4zM88 1243h4v4h-4zM92 1245h4v4h-4zM96 1245h4v4h-4zM98 1244h4v4h-4zM101 1244h4v4h-4zM103 1244h4v4h-4zM105 1245h4v4h-4zM109 1245h4v4h-4zM114 1244h4v4h-4zM116 1244h4v4h-4zM118 1244h4v4h-4zM120 1244h4v4h-4zM123 1244h4v4h-4zM125 1245h4v4h-4zM129 1244h4v4h-4zM131 1245h4v4h-4zM139 1245h4v4h-4zM151 1244h4v4h-4zM159 1244h4v4h-4zM178 1245h4v4h-4zM182 1244h4v4h-4zM183 1245h4v4h-4zM189 1245h4v4h-4zM198 1245h4v4h-4zM66 1247h4v4h-4zM69 1246h4v4h-4zM70 1246h4v4h-4zM77 1247h4v4h-4zM78 1247h4v4h-4zM81 1246h4v4h-4zM83 1247h4v4h-4zM86 1247h4v4h-4zM88 1248h4v4h-4zM92 1248h4v4h-4zM94 1247h4v4h-4zM99 1248h4v4h-4zM103 1247h4v4h-4zM106 1246h4v4h-4zM109 1247h4v4h-4zM111 1248h4v4h-4zM113 1246h4v4h-4zM115 1247h4v4h-4zM118 1246h4v4h-4zM123 1248h4v4h-4zM126 1246h4v4h-4zM129 1247h4v4h-4zM137 1247h4v4h-4zM139 1247h4v4h-4zM158 1246h4v4h-4zM174 1247h4v4h-4zM176 1247h4v4h-4zM190 1247h4v4h-4zM196 1247h4v4h-4zM208 1246h4v4h-4zM67 1250h4v4h-4zM69 1249h4v4h-4zM74 1249h4v4h-4zM76 1250h4v4h-4zM81 1249h4v4h-4zM83 1249h4v4h-4zM86 1249h4v4h-4zM88 1249h4v4h-4zM92 1249h4v4h-4zM95 1248h4v4h-4zM98 1250h4v4h-4zM101 1249h4v4h-4zM104 1250h4v4h-4zM106 1250h4v4h-4zM109 1250h4v4h-4zM113 1249h4v4h-4zM116 1249h4v4h-4zM121 1249h4v4h-4zM124 1249h4v4h-4zM127 1249h4v4h-4zM129 1249h4v4h-4zM136 1250h4v4h-4zM138 1249h4v4h-4zM149 1250h4v4h-4zM172 1249h4v4h-4zM174 1250h4v4h-4zM177 1249h4v4h-4zM178 1249h4v4h-4zM184 1249h4v4h-4zM193 1250h4v4h-4zM199 1250h4v4h-4zM207 1249h4v4h-4zM65 1251h4v4h-4zM69 1252h4v4h-4zM71 1251h4v4h-4zM74 1253h4v4h-4zM75 1251h4v4h-4zM78 1252h4v4h-4zM85 1251h4v4h-4zM88 1252h4v4h-4zM94 1253h4v4h-4zM96 1252h4v4h-4zM99 1252h4v4h-4zM105 1251h4v4h-4zM109 1252h4v4h-4zM111 1251h4v4h-4zM114 1251h4v4h-4zM116 1253h4v4h-4zM118 1251h4v4h-4zM121 1252h4v4h-4zM124 1251h4v4h-4zM125 1252h4v4h-4zM128 1252h4v4h-4zM131 1252h4v4h-4zM135 1251h4v4h-4zM167 1252h4v4h-4zM170 1252h4v4h-4zM174 1252h4v4h-4zM175 1251h4v4h-4zM185 1251h4v4h-4zM194 1252h4v4h-4zM64 1255h4v4h-4zM72 1254h4v4h-4zM74 1255h4v4h-4zM76 1254h4v4h-4zM79 1254h4v4h-4zM86 1255h4v4h-4zM88 1255h4v4h-4zM91 1254h4v4h-4zM94 1255h4v4h-4zM96 1254h4v4h-4zM98 1255h4v4h-4zM101 1254h4v4h-4zM103 1254h4v4h-4zM107 1254h4v4h-4zM109 1254h4v4h-4zM110 1254h4v4h-4zM114 1255h4v4h-4zM126 1254h4v4h-4zM129 1255h4v4h-4zM131 1253h4v4h-4zM135 1255h4v4h-4zM144 1254h4v4h-4zM163 1255h4v4h-4zM171 1254h4v4h-4zM173 1254h4v4h-4zM193 1254h4v4h-4zM199 1255h4v4h-4zM205 1254h4v4h-4zM67 1256h4v4h-4zM74 1258h4v4h-4zM76 1258h4v4h-4zM79 1257h4v4h-4zM82 1256h4v4h-4zM85 1257h4v4h-4zM89 1257h4v4h-4zM92 1256h4v4h-4zM93 1257h4v4h-4zM96 1257h4v4h-4zM98 1257h4v4h-4zM102 1256h4v4h-4zM104 1257h4v4h-4zM106 1257h4v4h-4zM109 1257h4v4h-4zM111 1258h4v4h-4zM116 1256h4v4h-4zM119 1257h4v4h-4zM121 1257h4v4h-4zM123 1256h4v4h-4zM126 1257h4v4h-4zM132 1257h4v4h-4zM138 1257h4v4h-4zM159 1256h4v4h-4zM176 1256h4v4h-4zM188 1257h4v4h-4zM198 1256h4v4h-4zM204 1257h4v4h-4zM65 1259h4v4h-4zM68 1259h4v4h-4zM70 1260h4v4h-4zM73 1259h4v4h-4zM79 1259h4v4h-4zM84 1260h4v4h-4zM86 1258h4v4h-4zM89 1260h4v4h-4zM92 1260h4v4h-4zM93 1259h4v4h-4zM96 1259h4v4h-4zM98 1259h4v4h-4zM101 1259h4v4h-4zM104 1259h4v4h-4zM106 1259h4v4h-4zM109 1259h4v4h-4zM112 1259h4v4h-4zM113 1260h4v4h-4zM116 1258h4v4h-4zM119 1258h4v4h-4zM121 1259h4v4h-4zM123 1258h4v4h-4zM126 1259h4v4h-4zM128 1260h4v4h-4zM131 1259h4v4h-4zM133 1259h4v4h-4zM136 1260h4v4h-4zM140 1260h4v4h-4zM143 1260h4v4h-4zM159 1260h4v4h-4zM161 1259h4v4h-4zM184 1260h4v4h-4zM197 1260h4v4h-4zM200 1260h4v4h-4zM203 1258h4v4h-4zM66 1263h4v4h-4zM69 1261h4v4h-4zM72 1261h4v4h-4zM78 1262h4v4h-4zM81 1261h4v4h-4zM86 1261h4v4h-4zM89 1261h4v4h-4zM92 1261h4v4h-4zM93 1262h4v4h-4zM96 1262h4v4h-4zM99 1261h4v4h-4zM100 1262h4v4h-4zM104 1262h4v4h-4zM106 1263h4v4h-4zM109 1261h4v4h-4zM110 1263h4v4h-4zM114 1262h4v4h-4zM118 1262h4v4h-4zM120 1262h4v4h-4zM124 1263h4v4h-4zM126 1261h4v4h-4zM129 1262h4v4h-4zM133 1262h4v4h-4zM136 1263h4v4h-4zM139 1261h4v4h-4zM143 1262h4v4h-4zM176 1262h4v4h-4zM188 1261h4v4h-4zM194 1261h4v4h-4zM199 1262h4v4h-4zM73 1264h4v4h-4zM76 1265h4v4h-4zM78 1264h4v4h-4zM81 1265h4v4h-4zM83 1264h4v4h-4zM86 1264h4v4h-4zM89 1265h4v4h-4zM91 1265h4v4h-4zM95 1265h4v4h-4zM100 1265h4v4h-4zM104 1264h4v4h-4zM108 1264h4v4h-4zM111 1264h4v4h-4zM114 1263h4v4h-4zM116 1264h4v4h-4zM119 1264h4v4h-4zM122 1265h4v4h-4zM123 1265h4v4h-4zM126 1265h4v4h-4zM129 1264h4v4h-4zM133 1265h4v4h-4zM136 1264h4v4h-4zM138 1264h4v4h-4zM142 1264h4v4h-4zM148 1264h4v4h-4zM169 1264h4v4h-4zM171 1265h4v4h-4zM178 1265h4v4h-4zM192 1265h4v4h-4zM196 1265h4v4h-4zM69 1268h4v4h-4zM73 1266h4v4h-4zM75 1267h4v4h-4zM78 1267h4v4h-4zM81 1267h4v4h-4zM84 1267h4v4h-4zM86 1267h4v4h-4zM88 1267h4v4h-4zM90 1266h4v4h-4zM94 1266h4v4h-4zM99 1267h4v4h-4zM102 1267h4v4h-4zM103 1267h4v4h-4zM106 1267h4v4h-4zM109 1267h4v4h-4zM117 1267h4v4h-4zM118 1267h4v4h-4zM121 1268h4v4h-4zM124 1267h4v4h-4zM129 1268h4v4h-4zM130 1268h4v4h-4zM134 1268h4v4h-4zM136 1267h4v4h-4zM141 1267h4v4h-4zM146 1267h4v4h-4zM152 1267h4v4h-4zM186 1267h4v4h-4zM191 1267h4v4h-4zM194 1266h4v4h-4zM199 1267h4v4h-4zM74 1269h4v4h-4zM77 1269h4v4h-4zM79 1270h4v4h-4zM83 1269h4v4h-4zM89 1269h4v4h-4zM91 1270h4v4h-4zM93 1270h4v4h-4zM96 1269h4v4h-4zM101 1270h4v4h-4zM104 1269h4v4h-4zM106 1270h4v4h-4zM109 1268h4v4h-4zM111 1270h4v4h-4zM114 1269h4v4h-4zM119 1269h4v4h-4zM122 1269h4v4h-4zM123 1269h4v4h-4zM131 1269h4v4h-4zM134 1270h4v4h-4zM138 1270h4v4h-4zM141 1270h4v4h-4zM144 1269h4v4h-4zM147 1270h4v4h-4zM151 1269h4v4h-4zM154 1269h4v4h-4zM156 1269h4v4h-4zM160 1269h4v4h-4zM183 1269h4v4h-4zM189 1270h4v4h-4zM191 1270h4v4h-4zM196 1270h4v4h-4zM73 1271h4v4h-4zM75 1272h4v4h-4zM78 1272h4v4h-4zM81 1272h4v4h-4zM83 1272h4v4h-4zM85 1273h4v4h-4zM88 1272h4v4h-4zM92 1272h4v4h-4zM94 1271h4v4h-4zM96 1272h4v4h-4zM99 1272h4v4h-4zM101 1272h4v4h-4zM103 1272h4v4h-4zM106 1272h4v4h-4zM109 1272h4v4h-4zM112 1272h4v4h-4zM119 1271h4v4h-4zM121 1271h4v4h-4zM123 1272h4v4h-4zM126 1272h4v4h-4zM129 1272h4v4h-4zM131 1272h4v4h-4zM133 1271h4v4h-4zM135 1273h4v4h-4zM139 1272h4v4h-4zM157 1272h4v4h-4zM158 1272h4v4h-4zM161 1272h4v4h-4zM173 1271h4v4h-4zM179 1272h4v4h-4zM185 1271h4v4h-4zM189 1271h4v4h-4zM191 1272h4v4h-4zM196 1272h4v4h-4zM75 1274h4v4h-4zM81 1273h4v4h-4zM89 1273h4v4h-4zM92 1274h4v4h-4zM94 1274h4v4h-4zM96 1274h4v4h-4zM102 1275h4v4h-4zM104 1274h4v4h-4zM105 1275h4v4h-4zM108 1275h4v4h-4zM113 1275h4v4h-4zM115 1275h4v4h-4zM119 1274h4v4h-4zM121 1274h4v4h-4zM124 1274h4v4h-4zM125 1275h4v4h-4zM131 1275h4v4h-4zM136 1275h4v4h-4zM142 1275h4v4h-4zM143 1274h4v4h-4zM146 1275h4v4h-4zM149 1274h4v4h-4zM151 1275h4v4h-4zM155 1274h4v4h-4zM161 1274h4v4h-4zM164 1273h4v4h-4zM166 1274h4v4h-4zM172 1275h4v4h-4zM173 1275h4v4h-4zM176 1274h4v4h-4zM179 1274h4v4h-4zM182 1275h4v4h-4zM186 1274h4v4h-4zM81 1277h4v4h-4zM83 1278h4v4h-4zM86 1277h4v4h-4zM88 1277h4v4h-4zM90 1276h4v4h-4zM93 1277h4v4h-4zM95 1277h4v4h-4zM99 1277h4v4h-4zM101 1276h4v4h-4zM104 1277h4v4h-4zM106 1276h4v4h-4zM108 1276h4v4h-4zM111 1277h4v4h-4zM113 1277h4v4h-4zM117 1278h4v4h-4zM119 1277h4v4h-4zM121 1277h4v4h-4zM124 1276h4v4h-4zM128 1276h4v4h-4zM131 1277h4v4h-4zM134 1277h4v4h-4zM135 1278h4v4h-4zM138 1277h4v4h-4zM142 1276h4v4h-4zM143 1277h4v4h-4zM149 1276h4v4h-4zM157 1277h4v4h-4zM159 1277h4v4h-4zM162 1276h4v4h-4zM164 1277h4v4h-4zM167 1277h4v4h-4zM168 1277h4v4h-4zM176 1277h4v4h-4zM178 1277h4v4h-4zM181 1277h4v4h-4zM184 1277h4v4h-4zM84 1279h4v4h-4zM86 1280h4v4h-4zM88 1280h4v4h-4zM91 1279h4v4h-4zM93 1280h4v4h-4zM96 1280h4v4h-4zM99 1279h4v4h-4zM101 1279h4v4h-4zM106 1279h4v4h-4zM109 1279h4v4h-4zM112 1280h4v4h-4zM113 1280h4v4h-4zM115 1280h4v4h-4zM118 1279h4v4h-4zM121 1279h4v4h-4zM124 1279h4v4h-4zM127 1280h4v4h-4zM129 1279h4v4h-4zM131 1280h4v4h-4zM134 1280h4v4h-4zM138 1280h4v4h-4zM141 1279h4v4h-4zM147 1280h4v4h-4zM149 1279h4v4h-4zM152 1279h4v4h-4zM155 1280h4v4h-4zM159 1279h4v4h-4zM160 1279h4v4h-4zM164 1279h4v4h-4zM165 1280h4v4h-4zM169 1280h4v4h-4zM171 1280h4v4h-4zM174 1280h4v4h-4zM176 1280h4v4h-4zM179 1280h4v4h-4zM82 1283h4v4h-4zM88 1281h4v4h-4zM91 1281h4v4h-4zM98 1281h4v4h-4zM101 1283h4v4h-4zM103 1282h4v4h-4zM105 1283h4v4h-4zM108 1282h4v4h-4zM112 1281h4v4h-4zM113 1282h4v4h-4zM116 1281h4v4h-4zM119 1283h4v4h-4zM122 1282h4v4h-4zM123 1282h4v4h-4zM131 1283h4v4h-4zM133 1281h4v4h-4zM138 1282h4v4h-4zM141 1282h4v4h-4zM144 1282h4v4h-4zM146 1282h4v4h-4zM148 1282h4v4h-4zM151 1282h4v4h-4zM153 1281h4v4h-4zM156 1282h4v4h-4zM158 1282h4v4h-4zM161 1282h4v4h-4zM166 1282h4v4h-4zM86 1285h4v4h-4zM94 1285h4v4h-4zM99 1285h4v4h-4zM103 1285h4v4h-4zM107 1284h4v4h-4zM111 1284h4v4h-4zM114 1284h4v4h-4zM117 1284h4v4h-4zM118 1284h4v4h-4zM120 1284h4v4h-4zM125 1284h4v4h-4zM129 1283h4v4h-4zM131 1285h4v4h-4zM133 1285h4v4h-4zM144 1285h4v4h-4zM146 1285h4v4h-4zM149 1285h4v4h-4zM152 1284h4v4h-4zM155 1284h4v4h-4zM164 1284h4v4h-4zM171 1284h4v4h-4zM88 1287h4v4h-4zM92 1287h4v4h-4zM93 1287h4v4h-4zM95 1287h4v4h-4zM98 1286h4v4h-4zM100 1288h4v4h-4zM104 1286h4v4h-4zM107 1287h4v4h-4zM112 1286h4v4h-4zM114 1287h4v4h-4zM115 1287h4v4h-4zM119 1287h4v4h-4zM124 1288h4v4h-4zM129 1286h4v4h-4zM137 1286h4v4h-4zM139 1286h4v4h-4zM140 1287h4v4h-4zM149 1287h4v4h-4zM153 1288h4v4h-4zM155 1286h4v4h-4zM94 1290h4v4h-4zM96 1289h4v4h-4zM98 1289h4v4h-4zM103 1289h4v4h-4zM107 1290h4v4h-4zM113 1289h4v4h-4zM115 1290h4v4h-4zM118 1289h4v4h-4zM122 1290h4v4h-4zM124 1289h4v4h-4zM129 1290h4v4h-4zM131 1289h4v4h-4zM136 1289h4v4h-4zM139 1289h4v4h-4zM141 1290h4v4h-4zM145 1289h4v4h-4zM149 1289h4v4h-4zM107 1291h4v4h-4zM109 1293h4v4h-4zM114 1293h4v4h-4zM122 1291h4v4h-4zM124 1292h4v4h-4zM131 1293h4v4h-4zM143 1292h4v4h-4zM146 1292h4v4h-4zM149 1292h4v4h-4zM114 1295h4v4h-4zM115 1295h4v4h-4zM119 1295h4v4h-4zM120 1295h4v4h-4zM124 1295h4v4h-4zM126 1294h4v4h-4zM132 1294h4v4h-4zM137 1294h4v4h-4zM139 1295h4v4h-4zM141 1294h4v4h-4zM146 1294h4v4h-4zM120 1297h4v4h-4zM127 1298h4v4h-4zM129 1298h4v4h-4zM131 1296h4v4h-4zM133 1297h4v4h-4zM138 1296h4v4h-4zM119 1300h4v4h-4zM127 1298h4v4h-4zM134 1298h4v4h-4z"/><path fill="#1e1e1e" d="M139 1100h4v4h-4zM140 1099h4v4h-4zM143 1098h4v4h-4zM146 1100h4v4h-4zM139 1101h4v4h-4zM140 1101h4v4h-4zM144 1101h4v4h-4zM146 1101h4v4h-4zM148 1101h4v4h-4zM140 1104h4v4h-4zM143 1104h4v4h-4zM146 1105h4v4h-4zM162 1105h4v4h-4zM165 1105h4v4h-4zM114 1107h4v4h-4zM118 1106h4v4h-4zM121 1106h4v4h-4zM129 1107h4v4h-4zM151 1106h4v4h-4zM154 1107h4v4h-4zM157 1106h4v4h-4zM158 1106h4v4h-4zM163 1107h4v4h-4zM168 1107h4v4h-4zM171 1107h4v4h-4zM114 1109h4v4h-4zM115 1109h4v4h-4zM119 1110h4v4h-4zM120 1109h4v4h-4zM124 1109h4v4h-4zM127 1110h4v4h-4zM151 1110h4v4h-4zM153 1109h4v4h-4zM156 1109h4v4h-4zM158 1110h4v4h-4zM161 1110h4v4h-4zM164 1109h4v4h-4zM166 1110h4v4h-4zM171 1110h4v4h-4zM114 1113h4v4h-4zM117 1112h4v4h-4zM119 1112h4v4h-4zM121 1112h4v4h-4zM123 1112h4v4h-4zM127 1111h4v4h-4zM129 1112h4v4h-4zM153 1112h4v4h-4zM157 1111h4v4h-4zM162 1111h4v4h-4zM163 1112h4v4h-4zM166 1111h4v4h-4zM169 1113h4v4h-4zM171 1111h4v4h-4zM175 1112h4v4h-4zM109 1115h4v4h-4zM111 1115h4v4h-4zM113 1115h4v4h-4zM116 1115h4v4h-4zM118 1115h4v4h-4zM122 1114h4v4h-4zM123 1114h4v4h-4zM126 1115h4v4h-4zM153 1115h4v4h-4zM157 1115h4v4h-4zM159 1115h4v4h-4zM161 1114h4v4h-4zM164 1115h4v4h-4zM165 1115h4v4h-4zM169 1114h4v4h-4zM171 1113h4v4h-4zM186 1115h4v4h-4zM188 1115h4v4h-4zM191 1114h4v4h-4zM114 1117h4v4h-4zM116 1117h4v4h-4zM119 1117h4v4h-4zM121 1118h4v4h-4zM123 1118h4v4h-4zM126 1117h4v4h-4zM154 1117h4v4h-4zM157 1116h4v4h-4zM159 1117h4v4h-4zM164 1117h4v4h-4zM167 1116h4v4h-4zM169 1118h4v4h-4zM171 1117h4v4h-4zM174 1116h4v4h-4zM193 1117h4v4h-4zM117 1119h4v4h-4zM119 1119h4v4h-4zM121 1120h4v4h-4zM123 1120h4v4h-4zM151 1119h4v4h-4zM156 1120h4v4h-4zM164 1119h4v4h-4zM167 1119h4v4h-4zM181 1120h4v4h-4zM184 1119h4v4h-4zM186 1119h4v4h-4zM189 1120h4v4h-4zM191 1118h4v4h-4zM194 1120h4v4h-4zM92 1122h4v4h-4zM103 1122h4v4h-4zM117 1122h4v4h-4zM118 1122h4v4h-4zM121 1122h4v4h-4zM123 1122h4v4h-4zM125 1121h4v4h-4zM151 1122h4v4h-4zM154 1122h4v4h-4zM156 1121h4v4h-4zM162 1122h4v4h-4zM181 1122h4v4h-4zM184 1122h4v4h-4zM186 1122h4v4h-4zM191 1122h4v4h-4zM194 1122h4v4h-4zM195 1123h4v4h-4zM94 1125h4v4h-4zM106 1124h4v4h-4zM154 1124h4v4h-4zM156 1124h4v4h-4zM158 1125h4v4h-4zM162 1125h4v4h-4zM168 1124h4v4h-4zM172 1125h4v4h-4zM183 1125h4v4h-4zM187 1125h4v4h-4zM189 1124h4v4h-4zM192 1125h4v4h-4zM193 1124h4v4h-4zM87 1127h4v4h-4zM94 1127h4v4h-4zM101 1127h4v4h-4zM153 1127h4v4h-4zM164 1126h4v4h-4zM171 1128h4v4h-4zM180 1127h4v4h-4zM183 1127h4v4h-4zM187 1127h4v4h-4zM189 1126h4v4h-4zM191 1128h4v4h-4zM193 1127h4v4h-4zM99 1129h4v4h-4zM102 1129h4v4h-4zM113 1129h4v4h-4zM151 1129h4v4h-4zM154 1129h4v4h-4zM156 1130h4v4h-4zM158 1129h4v4h-4zM163 1130h4v4h-4zM169 1130h4v4h-4zM171 1129h4v4h-4zM187 1129h4v4h-4zM189 1129h4v4h-4zM191 1129h4v4h-4zM193 1129h4v4h-4zM96 1132h4v4h-4zM102 1132h4v4h-4zM154 1131h4v4h-4zM157 1132h4v4h-4zM159 1132h4v4h-4zM161 1132h4v4h-4zM163 1132h4v4h-4zM166 1131h4v4h-4zM169 1132h4v4h-4zM171 1132h4v4h-4zM183 1132h4v4h-4zM187 1133h4v4h-4zM189 1132h4v4h-4zM191 1132h4v4h-4zM93 1134h4v4h-4zM99 1134h4v4h-4zM100 1135h4v4h-4zM103 1135h4v4h-4zM109 1134h4v4h-4zM153 1134h4v4h-4zM156 1133h4v4h-4zM158 1134h4v4h-4zM161 1135h4v4h-4zM167 1133h4v4h-4zM169 1134h4v4h-4zM188 1134h4v4h-4zM191 1133h4v4h-4zM102 1137h4v4h-4zM105 1137h4v4h-4zM156 1136h4v4h-4zM159 1136h4v4h-4zM162 1137h4v4h-4zM164 1137h4v4h-4zM167 1137h4v4h-4zM169 1136h4v4h-4zM171 1137h4v4h-4zM186 1137h4v4h-4zM188 1136h4v4h-4zM191 1138h4v4h-4zM162 1139h4v4h-4zM163 1138h4v4h-4zM166 1139h4v4h-4zM169 1138h4v4h-4zM171 1139h4v4h-4zM65 1142h4v4h-4zM164 1142h4v4h-4zM166 1142h4v4h-4zM169 1142h4v4h-4zM197 1142h4v4h-4zM199 1142h4v4h-4zM201 1142h4v4h-4zM207 1142h4v4h-4zM61 1144h4v4h-4zM64 1143h4v4h-4zM67 1143h4v4h-4zM71 1144h4v4h-4zM171 1145h4v4h-4zM176 1144h4v4h-4zM194 1145h4v4h-4zM198 1144h4v4h-4zM201 1144h4v4h-4zM203 1145h4v4h-4zM209 1144h4v4h-4zM211 1144h4v4h-4zM64 1146h4v4h-4zM66 1147h4v4h-4zM69 1146h4v4h-4zM71 1146h4v4h-4zM162 1147h4v4h-4zM164 1146h4v4h-4zM174 1146h4v4h-4zM177 1146h4v4h-4zM178 1147h4v4h-4zM181 1146h4v4h-4zM193 1147h4v4h-4zM196 1146h4v4h-4zM198 1147h4v4h-4zM201 1146h4v4h-4zM203 1146h4v4h-4zM207 1147h4v4h-4zM208 1147h4v4h-4zM214 1146h4v4h-4zM62 1150h4v4h-4zM64 1150h4v4h-4zM67 1149h4v4h-4zM69 1150h4v4h-4zM70 1148h4v4h-4zM159 1149h4v4h-4zM161 1149h4v4h-4zM171 1148h4v4h-4zM179 1149h4v4h-4zM180 1150h4v4h-4zM183 1149h4v4h-4zM186 1150h4v4h-4zM188 1150h4v4h-4zM190 1150h4v4h-4zM194 1150h4v4h-4zM197 1149h4v4h-4zM199 1149h4v4h-4zM202 1150h4v4h-4zM204 1149h4v4h-4zM206 1149h4v4h-4zM211 1150h4v4h-4zM213 1150h4v4h-4zM216 1149h4v4h-4zM218 1150h4v4h-4zM67 1152h4v4h-4zM69 1152h4v4h-4zM159 1152h4v4h-4zM162 1152h4v4h-4zM165 1152h4v4h-4zM168 1152h4v4h-4zM177 1152h4v4h-4zM181 1151h4v4h-4zM183 1151h4v4h-4zM186 1151h4v4h-4zM192 1152h4v4h-4zM194 1152h4v4h-4zM198 1152h4v4h-4zM200 1151h4v4h-4zM203 1151h4v4h-4zM207 1152h4v4h-4zM209 1152h4v4h-4zM210 1152h4v4h-4zM214 1152h4v4h-4zM217 1151h4v4h-4zM69 1154h4v4h-4zM72 1155h4v4h-4zM156 1155h4v4h-4zM182 1153h4v4h-4zM184 1155h4v4h-4zM187 1154h4v4h-4zM191 1155h4v4h-4zM193 1153h4v4h-4zM199 1155h4v4h-4zM204 1154h4v4h-4zM207 1154h4v4h-4zM211 1154h4v4h-4zM217 1154h4v4h-4zM219 1154h4v4h-4zM221 1154h4v4h-4zM158 1156h4v4h-4zM166 1157h4v4h-4zM186 1158h4v4h-4zM188 1156h4v4h-4zM191 1157h4v4h-4zM193 1157h4v4h-4zM196 1158h4v4h-4zM198 1157h4v4h-4zM204 1157h4v4h-4zM206 1156h4v4h-4zM209 1157h4v4h-4zM211 1157h4v4h-4zM213 1157h4v4h-4zM216 1156h4v4h-4zM218 1157h4v4h-4zM168 1159h4v4h-4zM185 1159h4v4h-4zM188 1159h4v4h-4zM191 1160h4v4h-4zM193 1160h4v4h-4zM196 1160h4v4h-4zM198 1159h4v4h-4zM201 1158h4v4h-4zM204 1160h4v4h-4zM207 1159h4v4h-4zM209 1160h4v4h-4zM211 1159h4v4h-4zM214 1160h4v4h-4zM216 1159h4v4h-4zM219 1159h4v4h-4zM222 1160h4v4h-4zM223 1159h4v4h-4zM225 1159h4v4h-4zM228 1160h4v4h-4zM159 1162h4v4h-4zM161 1162h4v4h-4zM168 1162h4v4h-4zM184 1162h4v4h-4zM189 1161h4v4h-4zM191 1162h4v4h-4zM193 1162h4v4h-4zM197 1161h4v4h-4zM199 1161h4v4h-4zM202 1161h4v4h-4zM203 1162h4v4h-4zM207 1163h4v4h-4zM209 1161h4v4h-4zM211 1161h4v4h-4zM214 1162h4v4h-4zM216 1162h4v4h-4zM219 1163h4v4h-4zM220 1162h4v4h-4zM223 1163h4v4h-4zM226 1162h4v4h-4zM229 1162h4v4h-4zM153 1164h4v4h-4zM169 1165h4v4h-4zM171 1165h4v4h-4zM186 1164h4v4h-4zM188 1164h4v4h-4zM190 1164h4v4h-4zM194 1164h4v4h-4zM197 1163h4v4h-4zM199 1164h4v4h-4zM202 1164h4v4h-4zM204 1164h4v4h-4zM207 1165h4v4h-4zM209 1164h4v4h-4zM211 1164h4v4h-4zM214 1163h4v4h-4zM221 1165h4v4h-4zM223 1165h4v4h-4zM226 1165h4v4h-4zM229 1164h4v4h-4zM153 1167h4v4h-4zM164 1167h4v4h-4zM184 1167h4v4h-4zM188 1168h4v4h-4zM190 1167h4v4h-4zM194 1167h4v4h-4zM196 1167h4v4h-4zM199 1168h4v4h-4zM202 1166h4v4h-4zM203 1168h4v4h-4zM212 1167h4v4h-4zM213 1167h4v4h-4zM216 1167h4v4h-4zM219 1167h4v4h-4zM221 1167h4v4h-4zM223 1167h4v4h-4zM225 1167h4v4h-4zM228 1167h4v4h-4zM174 1170h4v4h-4zM181 1169h4v4h-4zM189 1169h4v4h-4zM191 1169h4v4h-4zM194 1170h4v4h-4zM196 1169h4v4h-4zM198 1169h4v4h-4zM204 1170h4v4h-4zM205 1170h4v4h-4zM209 1169h4v4h-4zM211 1169h4v4h-4zM216 1169h4v4h-4zM218 1170h4v4h-4zM221 1169h4v4h-4zM223 1170h4v4h-4zM227 1170h4v4h-4zM229 1169h4v4h-4zM154 1172h4v4h-4zM173 1172h4v4h-4zM187 1171h4v4h-4zM189 1171h4v4h-4zM192 1172h4v4h-4zM194 1172h4v4h-4zM198 1171h4v4h-4zM201 1172h4v4h-4zM203 1172h4v4h-4zM206 1172h4v4h-4zM208 1171h4v4h-4zM210 1172h4v4h-4zM214 1171h4v4h-4zM216 1172h4v4h-4zM219 1171h4v4h-4zM221 1172h4v4h-4zM223 1172h4v4h-4zM226 1171h4v4h-4zM153 1174h4v4h-4zM187 1175h4v4h-4zM188 1175h4v4h-4zM190 1174h4v4h-4zM193 1174h4v4h-4zM196 1174h4v4h-4zM199 1174h4v4h-4zM201 1173h4v4h-4zM204 1174h4v4h-4zM207 1175h4v4h-4zM209 1174h4v4h-4zM211 1175h4v4h-4zM213 1174h4v4h-4zM217 1174h4v4h-4zM219 1174h4v4h-4zM220 1175h4v4h-4zM224 1174h4v4h-4zM158 1177h4v4h-4zM163 1177h4v4h-4zM176 1177h4v4h-4zM181 1177h4v4h-4zM183 1178h4v4h-4zM186 1177h4v4h-4zM189 1176h4v4h-4zM194 1177h4v4h-4zM196 1178h4v4h-4zM199 1176h4v4h-4zM202 1176h4v4h-4zM204 1177h4v4h-4zM206 1177h4v4h-4zM208 1177h4v4h-4zM211 1176h4v4h-4zM214 1177h4v4h-4zM216 1176h4v4h-4zM221 1176h4v4h-4zM223 1176h4v4h-4zM159 1179h4v4h-4zM179 1179h4v4h-4zM181 1179h4v4h-4zM184 1180h4v4h-4zM187 1180h4v4h-4zM188 1180h4v4h-4zM192 1179h4v4h-4zM196 1180h4v4h-4zM199 1180h4v4h-4zM200 1179h4v4h-4zM203 1179h4v4h-4zM209 1180h4v4h-4zM212 1180h4v4h-4zM214 1180h4v4h-4zM216 1179h4v4h-4zM219 1179h4v4h-4zM221 1179h4v4h-4zM226 1180h4v4h-4zM178 1182h4v4h-4zM181 1182h4v4h-4zM183 1182h4v4h-4zM186 1181h4v4h-4zM189 1181h4v4h-4zM192 1181h4v4h-4zM194 1182h4v4h-4zM196 1183h4v4h-4zM199 1182h4v4h-4zM201 1181h4v4h-4zM203 1181h4v4h-4zM206 1182h4v4h-4zM208 1182h4v4h-4zM211 1182h4v4h-4zM213 1181h4v4h-4zM216 1181h4v4h-4zM219 1182h4v4h-4zM222 1182h4v4h-4zM223 1181h4v4h-4zM166 1183h4v4h-4zM173 1184h4v4h-4zM182 1185h4v4h-4zM183 1185h4v4h-4zM185 1185h4v4h-4zM189 1185h4v4h-4zM192 1185h4v4h-4zM194 1184h4v4h-4zM196 1185h4v4h-4zM198 1184h4v4h-4zM200 1184h4v4h-4zM204 1185h4v4h-4zM206 1184h4v4h-4zM209 1183h4v4h-4zM212 1184h4v4h-4zM213 1185h4v4h-4zM216 1185h4v4h-4zM219 1184h4v4h-4zM222 1185h4v4h-4zM174 1186h4v4h-4zM176 1187h4v4h-4zM179 1187h4v4h-4zM181 1188h4v4h-4zM183 1186h4v4h-4zM186 1186h4v4h-4zM188 1186h4v4h-4zM190 1186h4v4h-4zM194 1186h4v4h-4zM197 1188h4v4h-4zM198 1187h4v4h-4zM201 1187h4v4h-4zM204 1187h4v4h-4zM205 1187h4v4h-4zM209 1187h4v4h-4zM211 1187h4v4h-4zM216 1186h4v4h-4zM218 1187h4v4h-4zM220 1187h4v4h-4zM226 1186h4v4h-4zM172 1189h4v4h-4zM173 1189h4v4h-4zM177 1190h4v4h-4zM178 1190h4v4h-4zM181 1189h4v4h-4zM184 1189h4v4h-4zM186 1189h4v4h-4zM188 1190h4v4h-4zM192 1189h4v4h-4zM193 1189h4v4h-4zM196 1190h4v4h-4zM199 1189h4v4h-4zM201 1190h4v4h-4zM203 1190h4v4h-4zM211 1189h4v4h-4zM214 1189h4v4h-4zM216 1188h4v4h-4zM219 1189h4v4h-4zM221 1189h4v4h-4zM223 1189h4v4h-4zM225 1189h4v4h-4zM181 1191h4v4h-4zM184 1191h4v4h-4zM187 1193h4v4h-4zM188 1193h4v4h-4zM191 1191h4v4h-4zM194 1192h4v4h-4zM197 1191h4v4h-4zM199 1193h4v4h-4zM201 1191h4v4h-4zM207 1191h4v4h-4zM209 1192h4v4h-4zM211 1193h4v4h-4zM214 1192h4v4h-4zM217 1192h4v4h-4zM219 1192h4v4h-4zM220 1192h4v4h-4zM224 1192h4v4h-4zM127 1195h4v4h-4zM131 1194h4v4h-4zM184 1193h4v4h-4zM194 1195h4v4h-4zM204 1195h4v4h-4zM209 1194h4v4h-4zM211 1194h4v4h-4zM214 1195h4v4h-4zM216 1194h4v4h-4zM221 1193h4v4h-4zM223 1194h4v4h-4zM226 1194h4v4h-4zM123 1197h4v4h-4zM126 1197h4v4h-4zM129 1198h4v4h-4zM131 1197h4v4h-4zM134 1196h4v4h-4zM136 1196h4v4h-4zM138 1196h4v4h-4zM200 1197h4v4h-4zM205 1196h4v4h-4zM210 1197h4v4h-4zM214 1197h4v4h-4zM219 1197h4v4h-4zM223 1196h4v4h-4zM226 1196h4v4h-4zM232 1197h4v4h-4zM121 1199h4v4h-4zM129 1199h4v4h-4zM130 1200h4v4h-4zM133 1199h4v4h-4zM136 1200h4v4h-4zM204 1199h4v4h-4zM206 1200h4v4h-4zM213 1199h4v4h-4zM124 1203h4v4h-4zM128 1202h4v4h-4zM132 1203h4v4h-4zM134 1201h4v4h-4zM135 1202h4v4h-4zM139 1202h4v4h-4zM142 1201h4v4h-4zM143 1203h4v4h-4zM119 1205h4v4h-4zM121 1204h4v4h-4zM124 1205h4v4h-4zM127 1204h4v4h-4zM128 1205h4v4h-4zM131 1204h4v4h-4zM137 1204h4v4h-4zM141 1205h4v4h-4zM118 1206h4v4h-4zM121 1207h4v4h-4zM123 1208h4v4h-4zM126 1208h4v4h-4zM129 1207h4v4h-4zM130 1207h4v4h-4zM133 1207h4v4h-4zM135 1207h4v4h-4zM139 1207h4v4h-4zM140 1206h4v4h-4zM144 1206h4v4h-4zM121 1209h4v4h-4zM123 1210h4v4h-4zM127 1209h4v4h-4zM129 1209h4v4h-4zM131 1209h4v4h-4zM133 1210h4v4h-4zM135 1210h4v4h-4zM118 1212h4v4h-4zM120 1213h4v4h-4zM126 1211h4v4h-4zM128 1211h4v4h-4zM132 1211h4v4h-4zM137 1212h4v4h-4zM139 1213h4v4h-4zM144 1212h4v4h-4zM119 1215h4v4h-4zM122 1215h4v4h-4zM123 1214h4v4h-4zM126 1214h4v4h-4zM129 1214h4v4h-4zM132 1214h4v4h-4zM134 1214h4v4h-4zM136 1215h4v4h-4zM140 1215h4v4h-4zM117 1218h4v4h-4zM123 1216h4v4h-4zM129 1217h4v4h-4zM131 1217h4v4h-4zM133 1218h4v4h-4zM136 1217h4v4h-4zM142 1216h4v4h-4zM144 1216h4v4h-4zM118 1220h4v4h-4zM121 1220h4v4h-4zM124 1219h4v4h-4zM125 1219h4v4h-4zM129 1219h4v4h-4zM130 1220h4v4h-4zM134 1219h4v4h-4zM136 1219h4v4h-4zM138 1219h4v4h-4zM119 1221h4v4h-4zM124 1223h4v4h-4zM127 1221h4v4h-4zM128 1221h4v4h-4zM134 1221h4v4h-4zM137 1221h4v4h-4zM140 1222h4v4h-4zM121 1225h4v4h-4zM123 1224h4v4h-4zM127 1224h4v4h-4zM128 1224h4v4h-4zM133 1224h4v4h-4zM135 1225h4v4h-4zM138 1225h4v4h-4zM125 1226h4v4h-4zM129 1226h4v4h-4zM131 1228h4v4h-4zM133 1228h4v4h-4zM131 1229h4v4h-4z"/><path fill="#2a2a2a" d="M164 1197h4v4h-4zM167 1196h4v4h-4zM171 1198h4v4h-4zM154 1199h4v4h-4zM159 1200h4v4h-4zM162 1199h4v4h-4zM167 1199h4v4h-4zM168 1199h4v4h-4zM172 1200h4v4h-4zM150 1203h4v4h-4zM156 1201h4v4h-4zM158 1201h4v4h-4zM165 1201h4v4h-4zM168 1202h4v4h-4zM172 1202h4v4h-4zM174 1203h4v4h-4zM177 1202h4v4h-4zM178 1201h4v4h-4zM146 1205h4v4h-4zM148 1204h4v4h-4zM159 1205h4v4h-4zM162 1204h4v4h-4zM163 1205h4v4h-4zM165 1204h4v4h-4zM168 1203h4v4h-4zM170 1204h4v4h-4zM174 1204h4v4h-4zM177 1204h4v4h-4zM178 1204h4v4h-4zM182 1204h4v4h-4zM184 1204h4v4h-4zM186 1205h4v4h-4zM188 1205h4v4h-4zM191 1205h4v4h-4zM194 1205h4v4h-4zM146 1207h4v4h-4zM149 1207h4v4h-4zM161 1207h4v4h-4zM166 1207h4v4h-4zM169 1206h4v4h-4zM170 1208h4v4h-4zM174 1207h4v4h-4zM181 1208h4v4h-4zM186 1207h4v4h-4zM191 1207h4v4h-4zM194 1208h4v4h-4zM147 1209h4v4h-4zM149 1210h4v4h-4zM154 1210h4v4h-4zM156 1210h4v4h-4zM159 1210h4v4h-4zM162 1209h4v4h-4zM167 1209h4v4h-4zM169 1208h4v4h-4zM172 1209h4v4h-4zM174 1210h4v4h-4zM179 1209h4v4h-4zM180 1210h4v4h-4zM184 1209h4v4h-4zM185 1209h4v4h-4zM194 1210h4v4h-4zM197 1209h4v4h-4zM199 1210h4v4h-4zM148 1212h4v4h-4zM161 1212h4v4h-4zM163 1212h4v4h-4zM166 1212h4v4h-4zM169 1212h4v4h-4zM171 1212h4v4h-4zM173 1212h4v4h-4zM177 1212h4v4h-4zM179 1212h4v4h-4zM181 1212h4v4h-4zM184 1212h4v4h-4zM191 1212h4v4h-4zM193 1212h4v4h-4zM199 1213h4v4h-4zM201 1211h4v4h-4zM144 1214h4v4h-4zM145 1215h4v4h-4zM149 1214h4v4h-4zM154 1214h4v4h-4zM156 1214h4v4h-4zM158 1214h4v4h-4zM166 1214h4v4h-4zM168 1215h4v4h-4zM172 1214h4v4h-4zM174 1215h4v4h-4zM176 1214h4v4h-4zM179 1215h4v4h-4zM183 1215h4v4h-4zM187 1215h4v4h-4zM189 1214h4v4h-4zM191 1214h4v4h-4zM196 1214h4v4h-4zM146 1217h4v4h-4zM151 1217h4v4h-4zM155 1216h4v4h-4zM162 1216h4v4h-4zM163 1217h4v4h-4zM167 1217h4v4h-4zM169 1217h4v4h-4zM173 1217h4v4h-4zM176 1217h4v4h-4zM178 1217h4v4h-4zM181 1218h4v4h-4zM184 1216h4v4h-4zM186 1216h4v4h-4zM189 1216h4v4h-4zM191 1217h4v4h-4zM193 1217h4v4h-4zM202 1218h4v4h-4zM144 1218h4v4h-4zM149 1219h4v4h-4zM151 1219h4v4h-4zM153 1219h4v4h-4zM157 1220h4v4h-4zM159 1220h4v4h-4zM160 1219h4v4h-4zM164 1219h4v4h-4zM166 1220h4v4h-4zM169 1220h4v4h-4zM176 1220h4v4h-4zM180 1219h4v4h-4zM183 1220h4v4h-4zM199 1219h4v4h-4zM201 1219h4v4h-4zM151 1222h4v4h-4zM155 1222h4v4h-4zM158 1221h4v4h-4zM161 1222h4v4h-4zM163 1222h4v4h-4zM172 1221h4v4h-4zM173 1222h4v4h-4zM181 1221h4v4h-4zM183 1222h4v4h-4zM188 1222h4v4h-4zM152 1224h4v4h-4zM156 1225h4v4h-4zM159 1224h4v4h-4zM161 1224h4v4h-4zM164 1225h4v4h-4zM171 1224h4v4h-4zM181 1224h4v4h-4zM186 1224h4v4h-4zM193 1224h4v4h-4zM197 1223h4v4h-4zM199 1223h4v4h-4zM140 1227h4v4h-4zM154 1227h4v4h-4zM156 1227h4v4h-4zM158 1227h4v4h-4zM160 1227h4v4h-4zM163 1226h4v4h-4zM167 1226h4v4h-4zM172 1226h4v4h-4zM174 1227h4v4h-4zM178 1227h4v4h-4zM181 1227h4v4h-4zM186 1227h4v4h-4zM189 1227h4v4h-4zM194 1226h4v4h-4zM198 1227h4v4h-4zM200 1227h4v4h-4zM203 1226h4v4h-4zM206 1228h4v4h-4zM136 1230h4v4h-4zM138 1229h4v4h-4zM156 1229h4v4h-4zM161 1229h4v4h-4zM164 1230h4v4h-4zM169 1230h4v4h-4zM171 1230h4v4h-4zM181 1229h4v4h-4zM183 1230h4v4h-4zM189 1229h4v4h-4zM201 1229h4v4h-4zM204 1229h4v4h-4zM207 1229h4v4h-4zM208 1229h4v4h-4zM158 1232h4v4h-4zM162 1232h4v4h-4zM163 1232h4v4h-4zM166 1231h4v4h-4zM171 1231h4v4h-4zM174 1231h4v4h-4zM178 1232h4v4h-4zM181 1232h4v4h-4zM184 1232h4v4h-4zM187 1232h4v4h-4zM198 1232h4v4h-4zM201 1232h4v4h-4zM131 1234h4v4h-4zM134 1235h4v4h-4zM136 1234h4v4h-4zM139 1234h4v4h-4zM154 1234h4v4h-4zM159 1234h4v4h-4zM169 1235h4v4h-4zM171 1235h4v4h-4zM173 1234h4v4h-4zM176 1234h4v4h-4zM179 1234h4v4h-4zM183 1234h4v4h-4zM189 1234h4v4h-4zM200 1235h4v4h-4zM203 1235h4v4h-4zM205 1234h4v4h-4zM209 1234h4v4h-4zM135 1236h4v4h-4zM138 1237h4v4h-4zM143 1237h4v4h-4zM145 1236h4v4h-4zM149 1238h4v4h-4zM151 1237h4v4h-4zM154 1236h4v4h-4zM156 1236h4v4h-4zM158 1237h4v4h-4zM161 1236h4v4h-4zM183 1237h4v4h-4zM186 1237h4v4h-4zM194 1236h4v4h-4zM199 1237h4v4h-4zM203 1236h4v4h-4zM206 1237h4v4h-4zM209 1237h4v4h-4zM142 1239h4v4h-4zM143 1239h4v4h-4zM146 1239h4v4h-4zM149 1240h4v4h-4zM151 1240h4v4h-4zM158 1240h4v4h-4zM161 1240h4v4h-4zM181 1239h4v4h-4zM189 1240h4v4h-4zM191 1239h4v4h-4zM201 1239h4v4h-4zM204 1240h4v4h-4zM207 1240h4v4h-4zM208 1240h4v4h-4zM142 1241h4v4h-4zM144 1241h4v4h-4zM146 1242h4v4h-4zM148 1242h4v4h-4zM151 1243h4v4h-4zM157 1241h4v4h-4zM161 1241h4v4h-4zM166 1243h4v4h-4zM169 1241h4v4h-4zM171 1242h4v4h-4zM184 1241h4v4h-4zM187 1241h4v4h-4zM193 1241h4v4h-4zM199 1241h4v4h-4zM202 1241h4v4h-4zM204 1243h4v4h-4zM137 1244h4v4h-4zM142 1245h4v4h-4zM144 1245h4v4h-4zM145 1244h4v4h-4zM149 1244h4v4h-4zM156 1245h4v4h-4zM161 1244h4v4h-4zM163 1245h4v4h-4zM166 1243h4v4h-4zM190 1245h4v4h-4zM193 1244h4v4h-4zM201 1243h4v4h-4zM204 1245h4v4h-4zM206 1243h4v4h-4zM142 1247h4v4h-4zM146 1246h4v4h-4zM148 1247h4v4h-4zM151 1246h4v4h-4zM154 1247h4v4h-4zM155 1247h4v4h-4zM160 1246h4v4h-4zM167 1247h4v4h-4zM183 1248h4v4h-4zM189 1247h4v4h-4zM193 1247h4v4h-4zM198 1247h4v4h-4zM201 1247h4v4h-4zM203 1247h4v4h-4zM205 1246h4v4h-4zM143 1250h4v4h-4zM146 1250h4v4h-4zM151 1249h4v4h-4zM160 1249h4v4h-4zM165 1250h4v4h-4zM169 1250h4v4h-4zM182 1249h4v4h-4zM186 1250h4v4h-4zM189 1249h4v4h-4zM191 1250h4v4h-4zM197 1249h4v4h-4zM202 1249h4v4h-4zM203 1249h4v4h-4zM138 1251h4v4h-4zM144 1251h4v4h-4zM146 1252h4v4h-4zM151 1252h4v4h-4zM156 1252h4v4h-4zM159 1251h4v4h-4zM163 1253h4v4h-4zM169 1253h4v4h-4zM178 1252h4v4h-4zM182 1252h4v4h-4zM184 1252h4v4h-4zM188 1253h4v4h-4zM191 1252h4v4h-4zM196 1251h4v4h-4zM201 1252h4v4h-4zM204 1252h4v4h-4zM139 1254h4v4h-4zM141 1254h4v4h-4zM150 1254h4v4h-4zM154 1254h4v4h-4zM156 1254h4v4h-4zM159 1255h4v4h-4zM168 1254h4v4h-4zM177 1255h4v4h-4zM180 1254h4v4h-4zM183 1254h4v4h-4zM185 1254h4v4h-4zM188 1254h4v4h-4zM190 1254h4v4h-4zM196 1254h4v4h-4zM201 1255h4v4h-4zM204 1254h4v4h-4zM144 1257h4v4h-4zM147 1256h4v4h-4zM149 1257h4v4h-4zM153 1256h4v4h-4zM156 1257h4v4h-4zM162 1257h4v4h-4zM163 1258h4v4h-4zM166 1256h4v4h-4zM174 1257h4v4h-4zM178 1256h4v4h-4zM182 1258h4v4h-4zM184 1257h4v4h-4zM185 1257h4v4h-4zM190 1256h4v4h-4zM196 1256h4v4h-4zM139 1259h4v4h-4zM146 1260h4v4h-4zM149 1259h4v4h-4zM150 1259h4v4h-4zM153 1259h4v4h-4zM164 1259h4v4h-4zM168 1259h4v4h-4zM172 1259h4v4h-4zM173 1260h4v4h-4zM177 1260h4v4h-4zM179 1259h4v4h-4zM182 1259h4v4h-4zM186 1259h4v4h-4zM189 1259h4v4h-4zM191 1260h4v4h-4zM193 1259h4v4h-4zM198 1260h4v4h-4zM148 1261h4v4h-4zM151 1261h4v4h-4zM156 1263h4v4h-4zM158 1261h4v4h-4zM163 1262h4v4h-4zM166 1262h4v4h-4zM172 1262h4v4h-4zM173 1262h4v4h-4zM179 1261h4v4h-4zM181 1262h4v4h-4zM184 1262h4v4h-4zM186 1263h4v4h-4zM190 1261h4v4h-4zM197 1262h4v4h-4zM143 1264h4v4h-4zM147 1264h4v4h-4zM151 1264h4v4h-4zM154 1265h4v4h-4zM156 1264h4v4h-4zM167 1264h4v4h-4zM173 1264h4v4h-4zM176 1264h4v4h-4zM181 1265h4v4h-4zM184 1265h4v4h-4zM187 1264h4v4h-4zM188 1264h4v4h-4zM194 1264h4v4h-4zM153 1266h4v4h-4zM157 1267h4v4h-4zM166 1267h4v4h-4zM168 1267h4v4h-4zM178 1267h4v4h-4zM182 1266h4v4h-4zM184 1267h4v4h-4zM189 1266h4v4h-4zM159 1269h4v4h-4zM163 1269h4v4h-4zM167 1269h4v4h-4zM169 1270h4v4h-4zM171 1269h4v4h-4zM174 1270h4v4h-4zM177 1269h4v4h-4zM178 1269h4v4h-4zM182 1270h4v4h-4zM163 1272h4v4h-4zM169 1272h4v4h-4zM176 1272h4v4h-4zM181 1272h4v4h-4zM184 1272h4v4h-4z"/><path fill="#555350" d="M166 1106h4v4h-4zM169 1109h4v4h-4zM150 1113h4v4h-4zM159 1113h4v4h-4zM151 1115h4v4h-4zM161 1116h4v4h-4zM154 1119h4v4h-4zM158 1119h4v4h-4zM168 1120h4v4h-4zM158 1122h4v4h-4zM179 1121h4v4h-4zM188 1122h4v4h-4zM124 1124h4v4h-4zM134 1125h4v4h-4zM164 1123h4v4h-4zM166 1125h4v4h-4zM179 1125h4v4h-4zM181 1124h4v4h-4zM127 1126h4v4h-4zM128 1127h4v4h-4zM155 1127h4v4h-4zM159 1126h4v4h-4zM166 1127h4v4h-4zM169 1127h4v4h-4zM141 1130h4v4h-4zM161 1129h4v4h-4zM116 1132h4v4h-4zM126 1132h4v4h-4zM128 1131h4v4h-4zM136 1131h4v4h-4zM129 1134h4v4h-4zM164 1135h4v4h-4zM184 1134h4v4h-4zM113 1137h4v4h-4zM116 1137h4v4h-4zM124 1136h4v4h-4zM143 1137h4v4h-4zM154 1137h4v4h-4zM114 1139h4v4h-4zM117 1140h4v4h-4zM112 1141h4v4h-4zM124 1141h4v4h-4zM130 1141h4v4h-4zM135 1141h4v4h-4zM142 1142h4v4h-4zM119 1145h4v4h-4zM121 1144h4v4h-4zM126 1145h4v4h-4zM129 1145h4v4h-4zM169 1144h4v4h-4zM197 1144h4v4h-4zM205 1145h4v4h-4zM124 1146h4v4h-4zM127 1147h4v4h-4zM129 1146h4v4h-4zM168 1146h4v4h-4zM211 1146h4v4h-4zM121 1150h4v4h-4zM134 1150h4v4h-4zM164 1150h4v4h-4zM173 1149h4v4h-4zM209 1150h4v4h-4zM163 1152h4v4h-4zM189 1151h4v4h-4zM196 1152h4v4h-4zM129 1154h4v4h-4zM131 1154h4v4h-4zM139 1154h4v4h-4zM168 1154h4v4h-4zM189 1154h4v4h-4zM196 1155h4v4h-4zM202 1154h4v4h-4zM209 1155h4v4h-4zM213 1154h4v4h-4zM156 1157h4v4h-4zM169 1157h4v4h-4zM171 1158h4v4h-4zM178 1157h4v4h-4zM201 1157h4v4h-4zM124 1159h4v4h-4zM135 1160h4v4h-4zM182 1159h4v4h-4zM126 1162h4v4h-4zM164 1162h4v4h-4zM174 1162h4v4h-4zM180 1161h4v4h-4zM78 1164h4v4h-4zM159 1165h4v4h-4zM163 1164h4v4h-4zM166 1164h4v4h-4zM174 1165h4v4h-4zM217 1164h4v4h-4zM219 1163h4v4h-4zM70 1167h4v4h-4zM155 1167h4v4h-4zM171 1166h4v4h-4zM173 1167h4v4h-4zM207 1166h4v4h-4zM208 1167h4v4h-4zM72 1170h4v4h-4zM76 1169h4v4h-4zM184 1168h4v4h-4zM201 1168h4v4h-4zM213 1169h4v4h-4zM76 1172h4v4h-4zM171 1172h4v4h-4zM179 1172h4v4h-4zM196 1172h4v4h-4zM81 1175h4v4h-4zM85 1175h4v4h-4zM88 1175h4v4h-4zM174 1173h4v4h-4zM175 1175h4v4h-4zM178 1174h4v4h-4zM183 1174h4v4h-4zM81 1177h4v4h-4zM86 1177h4v4h-4zM161 1177h4v4h-4zM165 1177h4v4h-4zM179 1176h4v4h-4zM191 1177h4v4h-4zM218 1177h4v4h-4zM193 1178h4v4h-4zM207 1179h4v4h-4zM223 1179h4v4h-4zM73 1181h4v4h-4zM86 1181h4v4h-4zM168 1182h4v4h-4zM171 1181h4v4h-4zM82 1184h4v4h-4zM83 1184h4v4h-4zM89 1185h4v4h-4zM179 1185h4v4h-4zM223 1185h4v4h-4zM78 1187h4v4h-4zM83 1187h4v4h-4zM88 1186h4v4h-4zM213 1187h4v4h-4zM71 1190h4v4h-4zM73 1189h4v4h-4zM76 1189h4v4h-4zM207 1188h4v4h-4zM208 1190h4v4h-4zM86 1191h4v4h-4zM203 1192h4v4h-4zM201 1195h4v4h-4zM205 1194h4v4h-4zM218 1195h4v4h-4zM228 1194h4v4h-4zM79 1197h4v4h-4zM89 1197h4v4h-4zM122 1196h4v4h-4zM208 1196h4v4h-4zM82 1199h4v4h-4zM124 1199h4v4h-4zM126 1198h4v4h-4zM138 1199h4v4h-4zM121 1202h4v4h-4zM126 1201h4v4h-4zM134 1204h4v4h-4zM138 1204h4v4h-4zM143 1205h4v4h-4zM119 1209h4v4h-4zM138 1209h4v4h-4zM141 1209h4v4h-4zM124 1212h4v4h-4zM133 1211h4v4h-4zM142 1212h4v4h-4zM139 1215h4v4h-4zM121 1217h4v4h-4zM125 1217h4v4h-4zM138 1218h4v4h-4zM141 1220h4v4h-4zM121 1221h4v4h-4zM131 1221h4v4h-4zM139 1222h4v4h-4zM131 1224h4v4h-4zM142 1225h4v4h-4zM146 1225h4v4h-4zM138 1226h4v4h-4zM144 1230h4v4h-4zM146 1230h4v4h-4zM149 1230h4v4h-4zM151 1229h4v4h-4zM146 1232h4v4h-4zM156 1231h4v4h-4zM173 1242h4v4h-4zM181 1242h4v4h-4zM171 1244h4v4h-4zM173 1244h4v4h-4zM177 1244h4v4h-4zM178 1247h4v4h-4zM181 1246h4v4h-4zM179 1254h4v4h-4z"/><path fill="#555" d="M164 1200h4v4h-4zM161 1203h4v4h-4zM153 1204h4v4h-4zM151 1206h4v4h-4zM163 1206h4v4h-4zM179 1206h4v4h-4zM144 1209h4v4h-4zM164 1209h4v4h-4zM189 1210h4v4h-4zM191 1210h4v4h-4zM146 1212h4v4h-4zM154 1211h4v4h-4zM158 1213h4v4h-4zM186 1213h4v4h-4zM189 1212h4v4h-4zM196 1211h4v4h-4zM203 1212h4v4h-4zM152 1215h4v4h-4zM194 1215h4v4h-4zM198 1214h4v4h-4zM149 1217h4v4h-4zM154 1217h4v4h-4zM172 1217h4v4h-4zM199 1217h4v4h-4zM171 1219h4v4h-4zM174 1219h4v4h-4zM178 1220h4v4h-4zM191 1219h4v4h-4zM166 1222h4v4h-4zM168 1221h4v4h-4zM177 1222h4v4h-4zM179 1221h4v4h-4zM186 1223h4v4h-4zM191 1222h4v4h-4zM194 1221h4v4h-4zM196 1221h4v4h-4zM201 1222h4v4h-4zM203 1222h4v4h-4zM153 1225h4v4h-4zM166 1225h4v4h-4zM169 1225h4v4h-4zM173 1224h4v4h-4zM175 1225h4v4h-4zM178 1225h4v4h-4zM183 1224h4v4h-4zM192 1225h4v4h-4zM201 1225h4v4h-4zM207 1223h4v4h-4zM208 1224h4v4h-4zM136 1227h4v4h-4zM176 1226h4v4h-4zM184 1226h4v4h-4zM195 1227h4v4h-4zM154 1229h4v4h-4zM158 1230h4v4h-4zM177 1229h4v4h-4zM187 1229h4v4h-4zM199 1230h4v4h-4zM154 1232h4v4h-4zM177 1231h4v4h-4zM191 1233h4v4h-4zM193 1231h4v4h-4zM203 1232h4v4h-4zM208 1231h4v4h-4zM141 1235h4v4h-4zM156 1234h4v4h-4zM161 1234h4v4h-4zM165 1235h4v4h-4zM187 1234h4v4h-4zM192 1234h4v4h-4zM194 1234h4v4h-4zM198 1234h4v4h-4zM133 1238h4v4h-4zM141 1237h4v4h-4zM164 1237h4v4h-4zM167 1236h4v4h-4zM171 1236h4v4h-4zM173 1237h4v4h-4zM178 1236h4v4h-4zM201 1236h4v4h-4zM137 1240h4v4h-4zM138 1239h4v4h-4zM156 1240h4v4h-4zM164 1239h4v4h-4zM169 1239h4v4h-4zM171 1240h4v4h-4zM179 1239h4v4h-4zM186 1239h4v4h-4zM193 1240h4v4h-4zM199 1239h4v4h-4zM139 1242h4v4h-4zM153 1243h4v4h-4zM158 1241h4v4h-4zM163 1242h4v4h-4zM192 1241h4v4h-4zM195 1242h4v4h-4zM133 1244h4v4h-4zM154 1245h4v4h-4zM169 1245h4v4h-4zM186 1245h4v4h-4zM196 1244h4v4h-4zM144 1247h4v4h-4zM163 1248h4v4h-4zM169 1247h4v4h-4zM171 1246h4v4h-4zM185 1246h4v4h-4zM141 1249h4v4h-4zM153 1249h4v4h-4zM157 1249h4v4h-4zM158 1249h4v4h-4zM164 1249h4v4h-4zM142 1252h4v4h-4zM149 1251h4v4h-4zM153 1251h4v4h-4zM161 1251h4v4h-4zM199 1251h4v4h-4zM146 1254h4v4h-4zM148 1254h4v4h-4zM160 1254h4v4h-4zM166 1254h4v4h-4zM137 1257h4v4h-4zM141 1256h4v4h-4zM151 1257h4v4h-4zM168 1257h4v4h-4zM172 1256h4v4h-4zM194 1257h4v4h-4zM156 1260h4v4h-4zM167 1259h4v4h-4zM145 1262h4v4h-4zM153 1262h4v4h-4zM161 1263h4v4h-4zM169 1263h4v4h-4zM158 1265h4v4h-4zM161 1264h4v4h-4zM163 1264h4v4h-4zM158 1267h4v4h-4zM162 1267h4v4h-4zM164 1267h4v4h-4zM170 1267h4v4h-4zM173 1267h4v4h-4zM175 1267h4v4h-4zM166 1271h4v4h-4zM171 1272h4v4h-4z"/><path fill="#262626" d="M119 1125h4v4h-4zM126 1125h4v4h-4zM128 1124h4v4h-4zM132 1124h4v4h-4zM135 1124h4v4h-4zM117 1126h4v4h-4zM119 1126h4v4h-4zM120 1127h4v4h-4zM124 1128h4v4h-4zM131 1127h4v4h-4zM133 1126h4v4h-4zM136 1127h4v4h-4zM138 1127h4v4h-4zM116 1129h4v4h-4zM119 1129h4v4h-4zM120 1129h4v4h-4zM123 1130h4v4h-4zM126 1129h4v4h-4zM129 1130h4v4h-4zM131 1129h4v4h-4zM134 1130h4v4h-4zM136 1129h4v4h-4zM138 1130h4v4h-4zM114 1131h4v4h-4zM119 1132h4v4h-4zM122 1131h4v4h-4zM123 1132h4v4h-4zM131 1132h4v4h-4zM134 1131h4v4h-4zM139 1131h4v4h-4zM141 1131h4v4h-4zM117 1134h4v4h-4zM118 1135h4v4h-4zM122 1134h4v4h-4zM123 1135h4v4h-4zM126 1134h4v4h-4zM130 1135h4v4h-4zM134 1135h4v4h-4zM137 1135h4v4h-4zM138 1134h4v4h-4zM140 1134h4v4h-4zM144 1134h4v4h-4zM111 1137h4v4h-4zM119 1137h4v4h-4zM121 1137h4v4h-4zM126 1136h4v4h-4zM128 1136h4v4h-4zM132 1138h4v4h-4zM133 1137h4v4h-4zM136 1137h4v4h-4zM138 1136h4v4h-4zM142 1136h4v4h-4zM112 1140h4v4h-4zM118 1140h4v4h-4zM122 1139h4v4h-4zM124 1140h4v4h-4zM126 1139h4v4h-4zM129 1139h4v4h-4zM130 1139h4v4h-4zM134 1139h4v4h-4zM136 1139h4v4h-4zM138 1140h4v4h-4zM141 1139h4v4h-4zM114 1142h4v4h-4zM116 1143h4v4h-4zM119 1142h4v4h-4zM121 1141h4v4h-4zM126 1142h4v4h-4zM129 1142h4v4h-4zM134 1142h4v4h-4zM139 1143h4v4h-4zM124 1145h4v4h-4zM131 1144h4v4h-4zM134 1144h4v4h-4zM137 1144h4v4h-4zM139 1144h4v4h-4zM141 1143h4v4h-4zM144 1144h4v4h-4zM118 1147h4v4h-4zM131 1147h4v4h-4zM134 1147h4v4h-4zM136 1147h4v4h-4zM139 1147h4v4h-4zM141 1147h4v4h-4zM143 1147h4v4h-4zM145 1146h4v4h-4zM123 1149h4v4h-4zM126 1150h4v4h-4zM128 1150h4v4h-4zM131 1149h4v4h-4zM135 1150h4v4h-4zM138 1150h4v4h-4zM141 1149h4v4h-4zM125 1152h4v4h-4zM129 1152h4v4h-4zM131 1151h4v4h-4zM133 1152h4v4h-4zM137 1153h4v4h-4zM138 1151h4v4h-4zM141 1152h4v4h-4zM133 1155h4v4h-4zM136 1153h4v4h-4zM140 1154h4v4h-4zM125 1157h4v4h-4zM128 1157h4v4h-4zM132 1157h4v4h-4zM133 1157h4v4h-4zM136 1157h4v4h-4zM140 1157h4v4h-4zM128 1159h4v4h-4zM131 1160h4v4h-4zM134 1160h4v4h-4zM138 1159h4v4h-4z"/><path fill="#7a7672" d="M154 1189h4v4h-4zM157 1189h4v4h-4zM162 1189h4v4h-4zM137 1191h4v4h-4zM163 1192h4v4h-4zM134 1195h4v4h-4zM159 1194h4v4h-4zM196 1205h4v4h-4zM215 1204h4v4h-4zM196 1207h4v4h-4zM204 1207h4v4h-4zM226 1209h4v4h-4zM203 1215h4v4h-4zM209 1215h4v4h-4zM113 1220h4v4h-4zM209 1219h4v4h-4zM214 1222h4v4h-4zM82 1227h4v4h-4zM80 1229h4v4h-4zM93 1229h4v4h-4zM111 1232h4v4h-4zM211 1232h4v4h-4zM98 1237h4v4h-4zM118 1239h4v4h-4zM120 1240h4v4h-4zM74 1241h4v4h-4zM110 1244h4v4h-4zM97 1247h4v4h-4zM121 1246h4v4h-4zM131 1249h4v4h-4zM103 1251h4v4h-4zM68 1254h4v4h-4zM123 1255h4v4h-4zM114 1257h4v4h-4zM134 1256h4v4h-4zM140 1262h4v4h-4zM97 1268h4v4h-4zM112 1267h4v4h-4zM144 1267h4v4h-4zM148 1267h4v4h-4zM99 1269h4v4h-4zM127 1269h4v4h-4zM186 1270h4v4h-4zM194 1269h4v4h-4zM114 1272h4v4h-4zM116 1271h4v4h-4zM143 1272h4v4h-4zM146 1272h4v4h-4zM149 1272h4v4h-4zM154 1271h4v4h-4zM84 1274h4v4h-4zM87 1274h4v4h-4zM129 1275h4v4h-4zM134 1273h4v4h-4zM138 1274h4v4h-4zM153 1274h4v4h-4zM78 1276h4v4h-4zM171 1277h4v4h-4zM82 1280h4v4h-4zM136 1280h4v4h-4zM95 1282h4v4h-4zM125 1281h4v4h-4zM97 1285h4v4h-4zM109 1284h4v4h-4zM124 1284h4v4h-4zM139 1285h4v4h-4zM154 1284h4v4h-4zM132 1287h4v4h-4zM133 1286h4v4h-4zM151 1287h4v4h-4zM101 1290h4v4h-4zM108 1289h4v4h-4zM111 1290h4v4h-4zM126 1289h4v4h-4zM111 1292h4v4h-4zM115 1292h4v4h-4zM118 1292h4v4h-4zM129 1291h4v4h-4zM133 1294h4v4h-4zM124 1296h4v4h-4zM128 1299h4v4h-4z"/><path fill="#4e4c4a" d="M166 1150h4v4h-4zM177 1149h4v4h-4zM172 1151h4v4h-4zM173 1152h4v4h-4zM179 1151h4v4h-4zM159 1154h4v4h-4zM161 1155h4v4h-4zM163 1154h4v4h-4zM166 1154h4v4h-4zM170 1155h4v4h-4zM173 1154h4v4h-4zM176 1154h4v4h-4zM161 1157h4v4h-4zM164 1157h4v4h-4zM174 1156h4v4h-4zM176 1156h4v4h-4zM184 1158h4v4h-4zM156 1159h4v4h-4zM161 1159h4v4h-4zM164 1159h4v4h-4zM166 1159h4v4h-4zM170 1159h4v4h-4zM176 1160h4v4h-4zM179 1160h4v4h-4zM183 1159h4v4h-4zM157 1163h4v4h-4zM166 1161h4v4h-4zM172 1161h4v4h-4zM175 1161h4v4h-4zM178 1162h4v4h-4zM186 1162h4v4h-4zM157 1165h4v4h-4zM161 1165h4v4h-4zM181 1165h4v4h-4zM183 1165h4v4h-4zM160 1167h4v4h-4zM175 1166h4v4h-4zM179 1166h4v4h-4zM181 1167h4v4h-4zM186 1168h4v4h-4zM157 1169h4v4h-4zM158 1170h4v4h-4zM161 1170h4v4h-4zM164 1169h4v4h-4zM166 1170h4v4h-4zM168 1170h4v4h-4zM176 1170h4v4h-4zM179 1170h4v4h-4zM186 1170h4v4h-4zM156 1172h4v4h-4zM159 1171h4v4h-4zM162 1172h4v4h-4zM164 1171h4v4h-4zM166 1171h4v4h-4zM168 1172h4v4h-4zM177 1171h4v4h-4zM183 1173h4v4h-4zM155 1174h4v4h-4zM159 1174h4v4h-4zM162 1174h4v4h-4zM163 1174h4v4h-4zM166 1175h4v4h-4zM169 1174h4v4h-4zM171 1174h4v4h-4zM180 1174h4v4h-4zM168 1176h4v4h-4zM173 1176h4v4h-4zM164 1179h4v4h-4zM168 1178h4v4h-4zM174 1179h4v4h-4zM166 1183h4v4h-4zM173 1182h4v4h-4zM175 1182h4v4h-4zM168 1183h4v4h-4zM171 1184h4v4h-4zM176 1184h4v4h-4z"/><path fill="#6e6a66" d="M151 1186h4v4h-4zM156 1186h4v4h-4zM137 1189h4v4h-4zM129 1191h4v4h-4zM159 1191h4v4h-4zM129 1194h4v4h-4zM149 1194h4v4h-4zM149 1200h4v4h-4zM221 1202h4v4h-4zM208 1204h4v4h-4zM206 1206h4v4h-4zM207 1210h4v4h-4zM214 1209h4v4h-4zM115 1215h4v4h-4zM219 1215h4v4h-4zM226 1215h4v4h-4zM117 1222h4v4h-4zM101 1224h4v4h-4zM213 1224h4v4h-4zM91 1227h4v4h-4zM118 1228h4v4h-4zM119 1232h4v4h-4zM119 1237h4v4h-4zM79 1239h4v4h-4zM108 1239h4v4h-4zM113 1239h4v4h-4zM94 1243h4v4h-4zM74 1248h4v4h-4zM101 1247h4v4h-4zM94 1249h4v4h-4zM118 1249h4v4h-4zM81 1252h4v4h-4zM82 1255h4v4h-4zM83 1255h4v4h-4zM119 1255h4v4h-4zM133 1253h4v4h-4zM69 1256h4v4h-4zM71 1258h4v4h-4zM83 1256h4v4h-4zM129 1257h4v4h-4zM200 1257h4v4h-4zM77 1259h4v4h-4zM73 1262h4v4h-4zM77 1261h4v4h-4zM83 1261h4v4h-4zM94 1264h4v4h-4zM99 1264h4v4h-4zM132 1264h4v4h-4zM114 1267h4v4h-4zM69 1270h4v4h-4zM86 1269h4v4h-4zM115 1269h4v4h-4zM148 1270h4v4h-4zM152 1272h4v4h-4zM79 1274h4v4h-4zM99 1274h4v4h-4zM159 1274h4v4h-4zM168 1274h4v4h-4zM126 1276h4v4h-4zM152 1277h4v4h-4zM153 1277h4v4h-4zM173 1276h4v4h-4zM103 1280h4v4h-4zM143 1279h4v4h-4zM92 1284h4v4h-4zM101 1284h4v4h-4zM136 1285h4v4h-4zM109 1286h4v4h-4zM147 1287h4v4h-4zM134 1290h4v4h-4zM144 1289h4v4h-4zM134 1291h4v4h-4zM138 1292h4v4h-4zM109 1294h4v4h-4zM129 1294h4v4h-4z"/><path fill="#333231" d="M79 1162h4v4h-4zM77 1165h4v4h-4zM74 1168h4v4h-4zM77 1167h4v4h-4zM78 1168h4v4h-4zM81 1167h4v4h-4zM73 1169h4v4h-4zM78 1169h4v4h-4zM80 1169h4v4h-4zM83 1169h4v4h-4zM68 1172h4v4h-4zM73 1171h4v4h-4zM79 1171h4v4h-4zM86 1171h4v4h-4zM69 1175h4v4h-4zM72 1175h4v4h-4zM76 1174h4v4h-4zM84 1174h4v4h-4zM72 1177h4v4h-4zM74 1177h4v4h-4zM75 1177h4v4h-4zM83 1177h4v4h-4zM71 1179h4v4h-4zM78 1179h4v4h-4zM81 1179h4v4h-4zM84 1180h4v4h-4zM87 1179h4v4h-4zM66 1182h4v4h-4zM69 1182h4v4h-4zM79 1181h4v4h-4zM81 1182h4v4h-4zM67 1184h4v4h-4zM69 1184h4v4h-4zM71 1184h4v4h-4zM79 1185h4v4h-4zM86 1184h4v4h-4zM66 1186h4v4h-4zM68 1186h4v4h-4zM72 1188h4v4h-4zM82 1186h4v4h-4zM86 1186h4v4h-4zM91 1187h4v4h-4zM66 1189h4v4h-4zM68 1189h4v4h-4zM82 1190h4v4h-4zM83 1189h4v4h-4zM88 1189h4v4h-4zM91 1189h4v4h-4zM68 1192h4v4h-4zM74 1192h4v4h-4zM76 1193h4v4h-4zM83 1192h4v4h-4zM89 1193h4v4h-4zM91 1193h4v4h-4zM73 1194h4v4h-4zM76 1195h4v4h-4zM79 1195h4v4h-4zM81 1194h4v4h-4zM86 1194h4v4h-4zM91 1194h4v4h-4zM70 1197h4v4h-4zM73 1196h4v4h-4zM77 1198h4v4h-4zM81 1197h4v4h-4zM83 1197h4v4h-4zM86 1197h4v4h-4zM76 1200h4v4h-4zM78 1199h4v4h-4zM84 1199h4v4h-4zM88 1199h4v4h-4zM91 1199h4v4h-4zM83 1202h4v4h-4z"/><path fill="#76726e" d="M131 1107h4v4h-4zM136 1109h4v4h-4zM139 1111h4v4h-4zM129 1114h4v4h-4zM139 1115h4v4h-4zM104 1117h4v4h-4zM108 1118h4v4h-4zM84 1125h4v4h-4zM121 1125h4v4h-4zM81 1129h4v4h-4zM79 1133h4v4h-4zM89 1137h4v4h-4zM94 1138h4v4h-4zM78 1140h4v4h-4zM83 1139h4v4h-4zM89 1139h4v4h-4zM63 1143h4v4h-4zM80 1142h4v4h-4zM76 1145h4v4h-4zM101 1145h4v4h-4zM94 1148h4v4h-4zM109 1147h4v4h-4zM112 1148h4v4h-4zM54 1150h4v4h-4zM57 1149h4v4h-4zM89 1149h4v4h-4zM94 1149h4v4h-4zM45 1152h4v4h-4zM71 1152h4v4h-4zM79 1152h4v4h-4zM82 1151h4v4h-4zM78 1155h4v4h-4zM66 1157h4v4h-4zM121 1157h4v4h-4zM39 1159h4v4h-4zM75 1160h4v4h-4zM119 1160h4v4h-4zM146 1159h4v4h-4zM83 1162h4v4h-4zM72 1165h4v4h-4zM41 1167h4v4h-4zM106 1167h4v4h-4zM104 1169h4v4h-4zM127 1170h4v4h-4zM48 1174h4v4h-4zM101 1174h4v4h-4zM35 1177h4v4h-4zM97 1176h4v4h-4zM113 1176h4v4h-4zM49 1179h4v4h-4zM107 1181h4v4h-4zM116 1182h4v4h-4zM62 1187h4v4h-4zM57 1189h4v4h-4zM126 1189h4v4h-4zM43 1192h4v4h-4zM66 1193h4v4h-4zM96 1198h4v4h-4zM99 1199h4v4h-4zM63 1205h4v4h-4zM69 1205h4v4h-4zM71 1204h4v4h-4zM104 1204h4v4h-4zM41 1208h4v4h-4zM48 1207h4v4h-4zM41 1214h4v4h-4zM74 1215h4v4h-4zM66 1222h4v4h-4z"/><path fill="#a09c98" d="M149 1187h4v4h-4zM142 1192h4v4h-4zM156 1191h4v4h-4zM171 1191h4v4h-4zM142 1198h4v4h-4zM152 1200h4v4h-4zM201 1200h4v4h-4zM225 1207h4v4h-4zM201 1209h4v4h-4zM113 1217h4v4h-4zM96 1218h4v4h-4zM90 1222h4v4h-4zM110 1222h4v4h-4zM103 1224h4v4h-4zM86 1228h4v4h-4zM78 1233h4v4h-4zM89 1234h4v4h-4zM104 1234h4v4h-4zM89 1237h4v4h-4zM128 1238h4v4h-4zM116 1241h4v4h-4zM86 1245h4v4h-4zM93 1245h4v4h-4zM131 1247h4v4h-4zM133 1247h4v4h-4zM64 1249h4v4h-4zM71 1249h4v4h-4zM79 1249h4v4h-4zM112 1250h4v4h-4zM133 1249h4v4h-4zM83 1251h4v4h-4zM91 1253h4v4h-4zM101 1251h4v4h-4zM133 1252h4v4h-4zM117 1254h4v4h-4zM122 1255h4v4h-4zM82 1259h4v4h-4zM115 1262h4v4h-4zM130 1263h4v4h-4zM70 1265h4v4h-4zM106 1265h4v4h-4zM126 1266h4v4h-4zM139 1267h4v4h-4zM71 1269h4v4h-4zM82 1270h4v4h-4zM128 1269h4v4h-4zM136 1269h4v4h-4zM140 1272h4v4h-4zM112 1274h4v4h-4zM183 1273h4v4h-4zM147 1277h4v4h-4zM153 1280h4v4h-4zM94 1281h4v4h-4zM129 1283h4v4h-4zM137 1282h4v4h-4zM141 1285h4v4h-4zM158 1285h4v4h-4zM121 1288h4v4h-4zM127 1288h4v4h-4zM144 1287h4v4h-4zM101 1291h4v4h-4zM104 1291h4v4h-4zM125 1291h4v4h-4zM137 1291h4v4h-4zM141 1291h4v4h-4zM131 1300h4v4h-4z"/><path fill="#5f5d5b" d="M101 1119h4v4h-4zM103 1119h4v4h-4zM106 1119h4v4h-4zM89 1121h4v4h-4zM98 1121h4v4h-4zM106 1122h4v4h-4zM109 1123h4v4h-4zM87 1124h4v4h-4zM99 1125h4v4h-4zM102 1125h4v4h-4zM103 1124h4v4h-4zM109 1125h4v4h-4zM88 1126h4v4h-4zM97 1127h4v4h-4zM98 1128h4v4h-4zM104 1126h4v4h-4zM106 1128h4v4h-4zM109 1126h4v4h-4zM110 1128h4v4h-4zM114 1127h4v4h-4zM86 1128h4v4h-4zM90 1130h4v4h-4zM94 1129h4v4h-4zM104 1129h4v4h-4zM106 1129h4v4h-4zM108 1129h4v4h-4zM111 1129h4v4h-4zM91 1131h4v4h-4zM94 1133h4v4h-4zM99 1131h4v4h-4zM108 1131h4v4h-4zM111 1131h4v4h-4zM95 1134h4v4h-4zM106 1134h4v4h-4zM110 1134h4v4h-4zM104 1137h4v4h-4zM109 1136h4v4h-4z"/><path fill="#6a6764" d="M103 1112h4v4h-4zM131 1115h4v4h-4zM135 1114h4v4h-4zM142 1119h4v4h-4zM141 1121h4v4h-4zM116 1125h4v4h-4zM77 1135h4v4h-4zM76 1137h4v4h-4zM81 1136h4v4h-4zM73 1140h4v4h-4zM68 1141h4v4h-4zM48 1150h4v4h-4zM81 1150h4v4h-4zM49 1153h4v4h-4zM53 1151h4v4h-4zM57 1152h4v4h-4zM63 1152h4v4h-4zM62 1153h4v4h-4zM44 1156h4v4h-4zM71 1159h4v4h-4zM44 1165h4v4h-4zM48 1164h4v4h-4zM59 1165h4v4h-4zM66 1166h4v4h-4zM41 1169h4v4h-4zM132 1169h4v4h-4zM35 1172h4v4h-4zM109 1197h4v4h-4zM94 1199h4v4h-4zM102 1202h4v4h-4zM102 1204h4v4h-4zM76 1210h4v4h-4zM84 1214h4v4h-4zM64 1218h4v4h-4zM62 1220h4v4h-4zM56 1223h4v4h-4z"/><path fill="#9e9a96" d="M89 1144h4v4h-4zM117 1145h4v4h-4zM116 1147h4v4h-4zM97 1149h4v4h-4zM84 1155h4v4h-4zM115 1160h4v4h-4zM99 1161h4v4h-4zM124 1162h4v4h-4zM51 1171h4v4h-4zM91 1172h4v4h-4zM103 1178h4v4h-4zM109 1177h4v4h-4zM54 1182h4v4h-4zM41 1184h4v4h-4zM95 1184h4v4h-4zM94 1186h4v4h-4zM50 1192h4v4h-4zM94 1192h4v4h-4zM47 1199h4v4h-4zM61 1198h4v4h-4zM66 1203h4v4h-4zM67 1205h4v4h-4zM54 1212h4v4h-4zM59 1217h4v4h-4z"/><path fill="#4a4846" d="M49 1157h4v4h-4zM53 1156h4v4h-4zM59 1157h4v4h-4zM47 1159h4v4h-4zM49 1159h4v4h-4zM57 1159h4v4h-4zM64 1159h4v4h-4zM51 1161h4v4h-4zM56 1161h4v4h-4zM59 1162h4v4h-4zM60 1162h4v4h-4zM56 1164h4v4h-4zM64 1164h4v4h-4zM53 1167h4v4h-4z"/><path fill="#5e5c5a" d="M71 1124h4v4h-4zM73 1125h4v4h-4zM68 1127h4v4h-4zM71 1126h4v4h-4zM73 1126h4v4h-4zM72 1130h4v4h-4zM74 1129h4v4h-4zM71 1131h4v4h-4z"/></g>
<rect x="11.8" y="543.4" width="115.0" height="114.8" fill="none" stroke="#666" stroke-width="0.9"/>
<text transform="translate(69.30 538.10) scale(0.9524 1)" font-size="8.66" font-weight="bold" text-anchor="middle">Tissue type</text>
<text transform="translate(7.0 600.80) rotate(-90) scale(0.9524 1)" font-size="8.66" text-anchor="middle">opt-SNE 2</text>
<text transform="translate(66.80 666.30) scale(0.9524 1)" font-size="8.66" text-anchor="middle">opt-SNE 1</text>
<rect x="368.40" y="242.50" width="8.72" height="11.20" fill="#7ecaa1"/>
<rect x="368.40" y="237.80" width="8.72" height="4.70" fill="#178f97"/>
<rect x="368.40" y="237.00" width="8.72" height="0.80" fill="#0f4c6e"/>
<rect x="368.40" y="236.00" width="8.72" height="1.00" fill="#e5297c"/>
<rect x="368.40" y="233.20" width="8.72" height="2.80" fill="#ef7671"/>
<rect x="368.40" y="36.90" width="8.72" height="196.30" fill="#f8db99"/>
<rect x="378.07" y="230.80" width="8.72" height="22.90" fill="#7ecaa1"/>
<rect x="378.07" y="211.60" width="8.72" height="19.20" fill="#178f97"/>
<rect x="378.07" y="208.60" width="8.72" height="3.00" fill="#0f4c6e"/>
<rect x="378.07" y="199.10" width="8.72" height="9.50" fill="#e5297c"/>
<rect x="378.07" y="195.20" width="8.72" height="3.90" fill="#da3a2a"/>
<rect x="378.07" y="191.00" width="8.72" height="4.20" fill="#ef7671"/>
<rect x="378.07" y="36.90" width="8.72" height="154.10" fill="#f8db99"/>
<rect x="387.74" y="188.70" width="8.72" height="65.00" fill="#7ecaa1"/>
<rect x="387.74" y="160.20" width="8.72" height="28.50" fill="#178f97"/>
<rect x="387.74" y="158.40" width="8.72" height="1.80" fill="#0f4c6e"/>
<rect x="387.74" y="157.90" width="8.72" height="0.50" fill="#7b2a7b"/>
<rect x="387.74" y="146.30" width="8.72" height="11.60" fill="#e5297c"/>
<rect x="387.74" y="144.50" width="8.72" height="1.80" fill="#da3a2a"/>
<rect x="387.74" y="143.70" width="8.72" height="0.80" fill="#ef7671"/>
<rect x="387.74" y="36.90" width="8.72" height="106.80" fill="#f8db99"/>
<rect x="397.40" y="210.40" width="8.72" height="43.30" fill="#7ecaa1"/>
<rect x="397.40" y="175.80" width="8.72" height="34.60" fill="#178f97"/>
<rect x="397.40" y="172.20" width="8.72" height="3.60" fill="#0f4c6e"/>
<rect x="397.40" y="169.60" width="8.72" height="2.60" fill="#e5297c"/>
<rect x="397.40" y="166.90" width="8.72" height="2.70" fill="#da3a2a"/>
<rect x="397.40" y="141.00" width="8.72" height="25.90" fill="#ef7671"/>
<rect x="397.40" y="36.90" width="8.72" height="104.10" fill="#f8db99"/>
<rect x="407.07" y="204.80" width="8.72" height="48.90" fill="#7ecaa1"/>
<rect x="407.07" y="169.60" width="8.72" height="35.20" fill="#178f97"/>
<rect x="407.07" y="167.80" width="8.72" height="1.80" fill="#0f4c6e"/>
<rect x="407.07" y="166.00" width="8.72" height="1.80" fill="#7b2a7b"/>
<rect x="407.07" y="134.80" width="8.72" height="31.20" fill="#e5297c"/>
<rect x="407.07" y="126.20" width="8.72" height="8.60" fill="#da3a2a"/>
<rect x="407.07" y="104.70" width="8.72" height="21.50" fill="#ef7671"/>
<rect x="407.07" y="36.90" width="8.72" height="67.80" fill="#f8db99"/>
<rect x="416.74" y="193.70" width="8.72" height="60.00" fill="#7ecaa1"/>
<rect x="416.74" y="135.70" width="8.72" height="58.00" fill="#178f97"/>
<rect x="416.74" y="131.60" width="8.72" height="4.10" fill="#0f4c6e"/>
<rect x="416.74" y="126.20" width="8.72" height="5.40" fill="#7b2a7b"/>
<rect x="416.74" y="115.10" width="8.72" height="11.10" fill="#e5297c"/>
<rect x="416.74" y="103.80" width="8.72" height="11.30" fill="#da3a2a"/>
<rect x="416.74" y="101.10" width="8.72" height="2.70" fill="#ef7671"/>
<rect x="416.74" y="36.90" width="8.72" height="64.20" fill="#f8db99"/>
<rect x="426.41" y="178.90" width="8.72" height="74.80" fill="#7ecaa1"/>
<rect x="426.41" y="126.70" width="8.72" height="52.20" fill="#178f97"/>
<rect x="426.41" y="123.10" width="8.72" height="3.60" fill="#0f4c6e"/>
<rect x="426.41" y="122.20" width="8.72" height="0.90" fill="#7b2a7b"/>
<rect x="426.41" y="118.70" width="8.72" height="3.50" fill="#e5297c"/>
<rect x="426.41" y="117.80" width="8.72" height="0.90" fill="#da3a2a"/>
<rect x="426.41" y="99.00" width="8.72" height="18.80" fill="#ef7671"/>
<rect x="426.41" y="36.90" width="8.72" height="62.10" fill="#f8db99"/>
<rect x="436.08" y="195.90" width="8.72" height="57.80" fill="#7ecaa1"/>
<rect x="436.08" y="156.10" width="8.72" height="39.80" fill="#178f97"/>
<rect x="436.08" y="155.00" width="8.72" height="1.10" fill="#0f4c6e"/>
<rect x="436.08" y="154.30" width="8.72" height="0.70" fill="#7b2a7b"/>
<rect x="436.08" y="118.30" width="8.72" height="36.00" fill="#e5297c"/>
<rect x="436.08" y="116.00" width="8.72" height="2.30" fill="#da3a2a"/>
<rect x="436.08" y="97.20" width="8.72" height="18.80" fill="#ef7671"/>
<rect x="436.08" y="36.90" width="8.72" height="60.30" fill="#f8db99"/>
<rect x="445.74" y="156.50" width="8.72" height="97.20" fill="#7ecaa1"/>
<rect x="445.74" y="106.70" width="8.72" height="49.80" fill="#178f97"/>
<rect x="445.74" y="105.80" width="8.72" height="0.90" fill="#0f4c6e"/>
<rect x="445.74" y="98.60" width="8.72" height="7.20" fill="#e5297c"/>
<rect x="445.74" y="95.40" width="8.72" height="3.20" fill="#da3a2a"/>
<rect x="445.74" y="82.80" width="8.72" height="12.60" fill="#ef7671"/>
<rect x="445.74" y="36.90" width="8.72" height="45.90" fill="#f8db99"/>
<rect x="455.41" y="186.90" width="8.72" height="66.80" fill="#7ecaa1"/>
<rect x="455.41" y="92.70" width="8.72" height="94.20" fill="#178f97"/>
<rect x="455.41" y="87.70" width="8.72" height="5.00" fill="#0f4c6e"/>
<rect x="455.41" y="85.50" width="8.72" height="2.20" fill="#7b2a7b"/>
<rect x="455.41" y="77.50" width="8.72" height="8.00" fill="#e5297c"/>
<rect x="455.41" y="70.80" width="8.72" height="6.70" fill="#da3a2a"/>
<rect x="455.41" y="68.50" width="8.72" height="2.30" fill="#ef7671"/>
<rect x="455.41" y="36.90" width="8.72" height="31.60" fill="#f8db99"/>
<rect x="465.08" y="161.00" width="8.72" height="92.70" fill="#7ecaa1"/>
<rect x="465.08" y="89.10" width="8.72" height="71.90" fill="#178f97"/>
<rect x="465.08" y="76.90" width="8.72" height="12.20" fill="#0f4c6e"/>
<rect x="465.08" y="75.10" width="8.72" height="1.80" fill="#7b2a7b"/>
<rect x="465.08" y="68.00" width="8.72" height="7.10" fill="#e5297c"/>
<rect x="465.08" y="66.20" width="8.72" height="1.80" fill="#da3a2a"/>
<rect x="465.08" y="65.50" width="8.72" height="0.70" fill="#ef7671"/>
<rect x="465.08" y="36.90" width="8.72" height="28.60" fill="#f8db99"/>
<rect x="474.75" y="204.80" width="8.72" height="48.90" fill="#7ecaa1"/>
<rect x="474.75" y="73.90" width="8.72" height="130.90" fill="#178f97"/>
<rect x="474.75" y="69.00" width="8.72" height="4.90" fill="#0f4c6e"/>
<rect x="474.75" y="64.90" width="8.72" height="4.10" fill="#e5297c"/>
<rect x="474.75" y="62.60" width="8.72" height="2.30" fill="#da3a2a"/>
<rect x="474.75" y="36.90" width="8.72" height="25.70" fill="#f8db99"/>
<rect x="484.42" y="140.50" width="8.72" height="113.20" fill="#7ecaa1"/>
<rect x="484.42" y="70.30" width="8.72" height="70.20" fill="#178f97"/>
<rect x="484.42" y="66.40" width="8.72" height="3.90" fill="#0f4c6e"/>
<rect x="484.42" y="64.90" width="8.72" height="1.50" fill="#7b2a7b"/>
<rect x="484.42" y="63.10" width="8.72" height="1.80" fill="#e5297c"/>
<rect x="484.42" y="61.30" width="8.72" height="1.80" fill="#da3a2a"/>
<rect x="484.42" y="56.30" width="8.72" height="5.00" fill="#ef7671"/>
<rect x="484.42" y="36.90" width="8.72" height="19.40" fill="#f8db99"/>
<rect x="494.08" y="127.60" width="8.72" height="126.10" fill="#7ecaa1"/>
<rect x="494.08" y="92.70" width="8.72" height="34.90" fill="#178f97"/>
<rect x="494.08" y="89.50" width="8.72" height="3.20" fill="#0f4c6e"/>
<rect x="494.08" y="58.70" width="8.72" height="30.80" fill="#e5297c"/>
<rect x="494.08" y="57.80" width="8.72" height="0.90" fill="#da3a2a"/>
<rect x="494.08" y="51.90" width="8.72" height="5.90" fill="#ef7671"/>
<rect x="494.08" y="36.90" width="8.72" height="15.00" fill="#f8db99"/>
<rect x="503.75" y="148.60" width="8.72" height="105.10" fill="#7ecaa1"/>
<rect x="503.75" y="91.80" width="8.72" height="56.80" fill="#178f97"/>
<rect x="503.75" y="88.80" width="8.72" height="3.00" fill="#0f4c6e"/>
<rect x="503.75" y="85.90" width="8.72" height="2.90" fill="#7b2a7b"/>
<rect x="503.75" y="59.00" width="8.72" height="26.90" fill="#e5297c"/>
<rect x="503.75" y="57.80" width="8.72" height="1.20" fill="#da3a2a"/>
<rect x="503.75" y="51.00" width="8.72" height="6.80" fill="#ef7671"/>
<rect x="503.75" y="36.90" width="8.72" height="14.10" fill="#f8db99"/>
<rect x="513.42" y="177.10" width="8.72" height="76.60" fill="#7ecaa1"/>
<rect x="513.42" y="84.60" width="8.72" height="92.50" fill="#178f97"/>
<rect x="513.42" y="69.80" width="8.72" height="14.80" fill="#0f4c6e"/>
<rect x="513.42" y="58.30" width="8.72" height="11.50" fill="#e5297c"/>
<rect x="513.42" y="57.30" width="8.72" height="1.00" fill="#da3a2a"/>
<rect x="513.42" y="50.10" width="8.72" height="7.20" fill="#ef7671"/>
<rect x="513.42" y="36.90" width="8.72" height="13.20" fill="#f8db99"/>
<rect x="523.09" y="159.70" width="8.72" height="94.00" fill="#7ecaa1"/>
<rect x="523.09" y="76.90" width="8.72" height="82.80" fill="#178f97"/>
<rect x="523.09" y="72.60" width="8.72" height="4.30" fill="#0f4c6e"/>
<rect x="523.09" y="70.30" width="8.72" height="2.30" fill="#7b2a7b"/>
<rect x="523.09" y="49.70" width="8.72" height="20.60" fill="#e5297c"/>
<rect x="523.09" y="47.90" width="8.72" height="1.80" fill="#da3a2a"/>
<rect x="523.09" y="47.20" width="8.72" height="0.70" fill="#ef7671"/>
<rect x="523.09" y="36.90" width="8.72" height="10.30" fill="#f8db99"/>
<rect x="532.76" y="157.00" width="8.72" height="96.70" fill="#7ecaa1"/>
<rect x="532.76" y="64.90" width="8.72" height="92.10" fill="#178f97"/>
<rect x="532.76" y="58.70" width="8.72" height="6.20" fill="#0f4c6e"/>
<rect x="532.76" y="57.20" width="8.72" height="1.50" fill="#7b2a7b"/>
<rect x="532.76" y="47.00" width="8.72" height="10.20" fill="#e5297c"/>
<rect x="532.76" y="45.80" width="8.72" height="1.20" fill="#da3a2a"/>
<rect x="532.76" y="36.90" width="8.72" height="8.90" fill="#f8db99"/>
<rect x="542.42" y="144.70" width="8.72" height="109.00" fill="#7ecaa1"/>
<rect x="542.42" y="87.00" width="8.72" height="57.70" fill="#178f97"/>
<rect x="542.42" y="79.80" width="8.72" height="7.20" fill="#0f4c6e"/>
<rect x="542.42" y="78.70" width="8.72" height="1.10" fill="#7b2a7b"/>
<rect x="542.42" y="49.20" width="8.72" height="29.50" fill="#e5297c"/>
<rect x="542.42" y="47.00" width="8.72" height="2.20" fill="#da3a2a"/>
<rect x="542.42" y="42.90" width="8.72" height="4.10" fill="#ef7671"/>
<rect x="542.42" y="36.90" width="8.72" height="6.00" fill="#f8db99"/>
<rect x="552.09" y="157.40" width="8.72" height="96.30" fill="#7ecaa1"/>
<rect x="552.09" y="97.70" width="8.72" height="59.70" fill="#178f97"/>
<rect x="552.09" y="92.30" width="8.72" height="5.40" fill="#0f4c6e"/>
<rect x="552.09" y="90.00" width="8.72" height="2.30" fill="#7b2a7b"/>
<rect x="552.09" y="76.60" width="8.72" height="13.40" fill="#e5297c"/>
<rect x="552.09" y="69.40" width="8.72" height="7.20" fill="#da3a2a"/>
<rect x="552.09" y="39.30" width="8.72" height="30.10" fill="#ef7671"/>
<rect x="552.09" y="36.90" width="8.72" height="2.40" fill="#f8db99"/>
<rect x="561.76" y="154.90" width="8.72" height="98.80" fill="#7ecaa1"/>
<rect x="561.76" y="119.20" width="8.72" height="35.70" fill="#178f97"/>
<rect x="561.76" y="118.50" width="8.72" height="0.70" fill="#0f4c6e"/>
<rect x="561.76" y="117.80" width="8.72" height="0.70" fill="#7b2a7b"/>
<rect x="561.76" y="42.20" width="8.72" height="75.60" fill="#e5297c"/>
<rect x="561.76" y="40.40" width="8.72" height="1.80" fill="#da3a2a"/>
<rect x="561.76" y="39.00" width="8.72" height="1.40" fill="#ef7671"/>
<rect x="561.76" y="36.90" width="8.72" height="2.10" fill="#f8db99"/>
<rect x="571.43" y="163.80" width="8.72" height="89.90" fill="#7ecaa1"/>
<rect x="571.43" y="87.70" width="8.72" height="76.10" fill="#178f97"/>
<rect x="571.43" y="73.00" width="8.72" height="14.70" fill="#0f4c6e"/>
<rect x="571.43" y="68.50" width="8.72" height="4.50" fill="#7b2a7b"/>
<rect x="571.43" y="44.70" width="8.72" height="23.80" fill="#e5297c"/>
<rect x="571.43" y="43.40" width="8.72" height="1.30" fill="#da3a2a"/>
<rect x="571.43" y="39.00" width="8.72" height="4.40" fill="#ef7671"/>
<rect x="571.43" y="36.90" width="8.72" height="2.10" fill="#f8db99"/>
<rect x="581.10" y="127.60" width="8.72" height="126.10" fill="#7ecaa1"/>
<rect x="581.10" y="76.20" width="8.72" height="51.40" fill="#178f97"/>
<rect x="581.10" y="74.40" width="8.72" height="1.80" fill="#0f4c6e"/>
<rect x="581.10" y="72.10" width="8.72" height="2.30" fill="#7b2a7b"/>
<rect x="581.10" y="45.20" width="8.72" height="26.90" fill="#e5297c"/>
<rect x="581.10" y="39.00" width="8.72" height="6.20" fill="#ef7671"/>
<rect x="581.10" y="36.90" width="8.72" height="2.10" fill="#f8db99"/>
<rect x="590.76" y="157.90" width="8.72" height="95.80" fill="#7ecaa1"/>
<rect x="590.76" y="88.20" width="8.72" height="69.70" fill="#178f97"/>
<rect x="590.76" y="84.60" width="8.72" height="3.60" fill="#0f4c6e"/>
<rect x="590.76" y="81.90" width="8.72" height="2.70" fill="#7b2a7b"/>
<rect x="590.76" y="48.80" width="8.72" height="33.10" fill="#e5297c"/>
<rect x="590.76" y="45.80" width="8.72" height="3.00" fill="#da3a2a"/>
<rect x="590.76" y="38.60" width="8.72" height="7.20" fill="#ef7671"/>
<rect x="590.76" y="36.90" width="8.72" height="1.70" fill="#f8db99"/>
<rect x="600.43" y="153.10" width="8.72" height="100.60" fill="#7ecaa1"/>
<rect x="600.43" y="59.60" width="8.72" height="93.50" fill="#178f97"/>
<rect x="600.43" y="58.50" width="8.72" height="1.10" fill="#0f4c6e"/>
<rect x="600.43" y="56.90" width="8.72" height="1.60" fill="#7b2a7b"/>
<rect x="600.43" y="45.20" width="8.72" height="11.70" fill="#e5297c"/>
<rect x="600.43" y="44.00" width="8.72" height="1.20" fill="#da3a2a"/>
<rect x="600.43" y="38.10" width="8.72" height="5.90" fill="#ef7671"/>
<rect x="600.43" y="36.90" width="8.72" height="1.20" fill="#f8db99"/>
<rect x="610.10" y="169.90" width="8.72" height="83.80" fill="#7ecaa1"/>
<rect x="610.10" y="87.70" width="8.72" height="82.20" fill="#178f97"/>
<rect x="610.10" y="84.60" width="8.72" height="3.10" fill="#0f4c6e"/>
<rect x="610.10" y="58.70" width="8.72" height="25.90" fill="#e5297c"/>
<rect x="610.10" y="51.10" width="8.72" height="7.60" fill="#da3a2a"/>
<rect x="610.10" y="38.10" width="8.72" height="13.00" fill="#ef7671"/>
<rect x="610.10" y="36.90" width="8.72" height="1.20" fill="#f8db99"/>
<rect x="619.77" y="209.90" width="8.72" height="43.80" fill="#7ecaa1"/>
<rect x="619.77" y="172.60" width="8.72" height="37.30" fill="#178f97"/>
<rect x="619.77" y="170.80" width="8.72" height="1.80" fill="#0f4c6e"/>
<rect x="619.77" y="169.00" width="8.72" height="1.80" fill="#7b2a7b"/>
<rect x="619.77" y="36.90" width="8.72" height="132.10" fill="#e5297c"/>
<rect x="629.44" y="165.60" width="8.72" height="88.10" fill="#7ecaa1"/>
<rect x="629.44" y="120.50" width="8.72" height="45.10" fill="#178f97"/>
<rect x="629.44" y="118.70" width="8.72" height="1.80" fill="#0f4c6e"/>
<rect x="629.44" y="40.70" width="8.72" height="78.00" fill="#e5297c"/>
<rect x="629.44" y="39.80" width="8.72" height="0.90" fill="#da3a2a"/>
<rect x="629.44" y="36.90" width="8.72" height="2.90" fill="#ef7671"/>
<rect x="639.10" y="178.00" width="8.72" height="75.70" fill="#7ecaa1"/>
<rect x="639.10" y="161.90" width="8.72" height="16.10" fill="#178f97"/>
<rect x="639.10" y="156.50" width="8.72" height="5.40" fill="#0f4c6e"/>
<rect x="639.10" y="73.00" width="8.72" height="83.50" fill="#e5297c"/>
<rect x="639.10" y="70.30" width="8.72" height="2.70" fill="#da3a2a"/>
<rect x="639.10" y="36.90" width="8.72" height="33.40" fill="#ef7671"/>
<rect x="368.40" y="14.0" width="29.30" height="9.30" fill="#31728f"/>
<rect x="397.40" y="14.0" width="9.97" height="9.30" fill="#fcf0ea"/>
<rect x="407.07" y="14.0" width="29.30" height="9.30" fill="#31728f"/>
<rect x="436.08" y="14.0" width="9.97" height="9.30" fill="#e45c4b"/>
<rect x="445.74" y="14.0" width="9.97" height="9.30" fill="#fcf0ea"/>
<rect x="455.41" y="14.0" width="9.97" height="9.30" fill="#f5a3a6"/>
<rect x="465.08" y="14.0" width="9.97" height="9.30" fill="#31728f"/>
<rect x="474.75" y="14.0" width="9.97" height="9.30" fill="#fcf0ea"/>
<rect x="484.42" y="14.0" width="9.97" height="9.30" fill="#31728f"/>
<rect x="494.08" y="14.0" width="9.97" height="9.30" fill="#fcf0ea"/>
<rect x="503.75" y="14.0" width="9.97" height="9.30" fill="#f5a3a6"/>
<rect x="513.42" y="14.0" width="9.97" height="9.30" fill="#e45c4b"/>
<rect x="523.09" y="14.0" width="9.97" height="9.30" fill="#31728f"/>
<rect x="532.76" y="14.0" width="19.64" height="9.30" fill="#f5a3a6"/>
<rect x="552.09" y="14.0" width="9.97" height="9.30" fill="#e45c4b"/>
<rect x="561.76" y="14.0" width="9.97" height="9.30" fill="#fcf0ea"/>
<rect x="571.43" y="14.0" width="9.97" height="9.30" fill="#f5a3a6"/>
<rect x="581.10" y="14.0" width="19.64" height="9.30" fill="#e45c4b"/>
<rect x="600.43" y="14.0" width="9.97" height="9.30" fill="#31728f"/>
<rect x="610.10" y="14.0" width="9.97" height="9.30" fill="#e45c4b"/>
<rect x="619.77" y="14.0" width="19.64" height="9.30" fill="#31728f"/>
<rect x="639.10" y="14.0" width="8.72" height="9.30" fill="#e45c4b"/>
<rect x="368.40" y="23.0" width="9.97" height="9.60" fill="#b6c7ad"/>
<rect x="378.07" y="23.0" width="9.97" height="9.60" fill="#2f5441"/>
<rect x="387.74" y="23.0" width="19.64" height="9.60" fill="#b6c7ad"/>
<rect x="407.07" y="23.0" width="9.97" height="9.60" fill="#65936e"/>
<rect x="416.74" y="23.0" width="9.97" height="9.60" fill="#b6c7ad"/>
<rect x="426.41" y="23.0" width="9.97" height="9.60" fill="#65936e"/>
<rect x="436.08" y="23.0" width="48.64" height="9.60" fill="#b6c7ad"/>
<rect x="484.42" y="23.0" width="9.97" height="9.60" fill="#2f5441"/>
<rect x="494.08" y="23.0" width="9.97" height="9.60" fill="#b6c7ad"/>
<rect x="503.75" y="23.0" width="19.64" height="9.60" fill="#65936e"/>
<rect x="523.09" y="23.0" width="19.64" height="9.60" fill="#2f5441"/>
<rect x="542.42" y="23.0" width="9.97" height="9.60" fill="#b6c7ad"/>
<rect x="552.09" y="23.0" width="9.97" height="9.60" fill="#2f5441"/>
<rect x="561.76" y="23.0" width="29.30" height="9.60" fill="#b6c7ad"/>
<rect x="590.76" y="23.0" width="9.97" height="9.60" fill="#65936e"/>
<rect x="600.43" y="23.0" width="9.97" height="9.60" fill="#b6c7ad"/>
<rect x="610.10" y="23.0" width="19.64" height="9.60" fill="#2f5441"/>
<rect x="629.44" y="23.0" width="18.39" height="9.60" fill="#b6c7ad"/>
<text transform="translate(650.30 20.60) scale(0.9524 1)" font-size="8.66">Subtype</text>
<text transform="translate(650.30 31.70) scale(0.9524 1)" font-size="8.66">LN status</text>
<path d="M366.9,31.3 V260.1 H649.32" fill="none" stroke="#222" stroke-width="1.1"/>
<text transform="translate(361.20 256.60) scale(0.9524 1)" font-size="8.66" text-anchor="end" fill="#333">0.00</text>
<text transform="translate(361.20 202.40) scale(0.9524 1)" font-size="8.66" text-anchor="end" fill="#333">0.25</text>
<text transform="translate(361.20 148.20) scale(0.9524 1)" font-size="8.66" text-anchor="end" fill="#333">0.50</text>
<text transform="translate(361.20 94.00) scale(0.9524 1)" font-size="8.66" text-anchor="end" fill="#333">0.75</text>
<text transform="translate(361.20 39.80) scale(0.9524 1)" font-size="8.66" text-anchor="end" fill="#333">1.00</text>
<text transform="translate(369.86 267.00) rotate(90) scale(0.9524 1)" font-size="8.29" fill="#333">BC08</text>
<text transform="translate(379.53 267.00) rotate(90) scale(0.9524 1)" font-size="8.29" fill="#333">BC30</text>
<text transform="translate(389.19 267.00) rotate(90) scale(0.9524 1)" font-size="8.29" fill="#333">BC23</text>
<text transform="translate(398.86 267.00) rotate(90) scale(0.9524 1)" font-size="8.29" fill="#333">BC29</text>
<text transform="translate(408.53 267.00) rotate(90) scale(0.9524 1)" font-size="8.29" fill="#333">BC26</text>
<text transform="translate(418.20 267.00) rotate(90) scale(0.9524 1)" font-size="8.29" fill="#333">BC38</text>
<text transform="translate(427.87 267.00) rotate(90) scale(0.9524 1)" font-size="8.29" fill="#333">BC34</text>
<text transform="translate(437.53 267.00) rotate(90) scale(0.9524 1)" font-size="8.29" fill="#333">BC22</text>
<text transform="translate(447.20 267.00) rotate(90) scale(0.9524 1)" font-size="8.29" fill="#333">BC11</text>
<text transform="translate(456.87 267.00) rotate(90) scale(0.9524 1)" font-size="8.29" fill="#333">BC15</text>
<text transform="translate(466.54 267.00) rotate(90) scale(0.9524 1)" font-size="8.29" fill="#333">BC03</text>
<text transform="translate(476.21 267.00) rotate(90) scale(0.9524 1)" font-size="8.29" fill="#333">BC32</text>
<text transform="translate(485.87 267.00) rotate(90) scale(0.9524 1)" font-size="8.29" fill="#333">BC31</text>
<text transform="translate(495.54 267.00) rotate(90) scale(0.9524 1)" font-size="8.29" fill="#333">BC17</text>
<text transform="translate(505.21 267.00) rotate(90) scale(0.9524 1)" font-size="8.29" fill="#333">BC28</text>
<text transform="translate(514.88 267.00) rotate(90) scale(0.9524 1)" font-size="8.29" fill="#333">BC20</text>
<text transform="translate(524.55 267.00) rotate(90) scale(0.9524 1)" font-size="8.29" fill="#333">BC01</text>
<text transform="translate(534.22 267.00) rotate(90) scale(0.9524 1)" font-size="8.29" fill="#333">BC02</text>
<text transform="translate(543.88 267.00) rotate(90) scale(0.9524 1)" font-size="8.29" fill="#333">BC04</text>
<text transform="translate(553.55 267.00) rotate(90) scale(0.9524 1)" font-size="8.29" fill="#333">BC06</text>
<text transform="translate(563.22 267.00) rotate(90) scale(0.9524 1)" font-size="8.29" fill="#333">BC24</text>
<text transform="translate(572.89 267.00) rotate(90) scale(0.9524 1)" font-size="8.29" fill="#333">BC35</text>
<text transform="translate(582.56 267.00) rotate(90) scale(0.9524 1)" font-size="8.29" fill="#333">BC21</text>
<text transform="translate(592.22 267.00) rotate(90) scale(0.9524 1)" font-size="8.29" fill="#333">BC10</text>
<text transform="translate(601.89 267.00) rotate(90) scale(0.9524 1)" font-size="8.29" fill="#333">BC13</text>
<text transform="translate(611.56 267.00) rotate(90) scale(0.9524 1)" font-size="8.29" fill="#333">BC07</text>
<text transform="translate(621.23 267.00) rotate(90) scale(0.9524 1)" font-size="8.29" fill="#333">BC05</text>
<text transform="translate(630.89 267.00) rotate(90) scale(0.9524 1)" font-size="8.29" fill="#333">BC14</text>
<text transform="translate(640.56 267.00) rotate(90) scale(0.9524 1)" font-size="8.29" fill="#333">BC33</text>
<path d="M364.7,253.70H366.9M364.7,199.50H366.9M364.7,145.30H366.9M364.7,91.10H366.9M364.7,36.90H366.9M372.76,260.1v2.4M382.43,260.1v2.4M392.09,260.1v2.4M401.76,260.1v2.4M411.43,260.1v2.4M421.10,260.1v2.4M430.77,260.1v2.4M440.43,260.1v2.4M450.10,260.1v2.4M459.77,260.1v2.4M469.44,260.1v2.4M479.11,260.1v2.4M488.77,260.1v2.4M498.44,260.1v2.4M508.11,260.1v2.4M517.78,260.1v2.4M527.45,260.1v2.4M537.12,260.1v2.4M546.78,260.1v2.4M556.45,260.1v2.4M566.12,260.1v2.4M575.79,260.1v2.4M585.46,260.1v2.4M595.12,260.1v2.4M604.79,260.1v2.4M614.46,260.1v2.4M624.13,260.1v2.4M633.79,260.1v2.4M643.46,260.1v2.4" stroke="#222" stroke-width="0.9" fill="none"/>
<text transform="translate(503.20 9.10) scale(0.9524 1)" font-size="8.66" text-anchor="middle">Primary tumors (<tspan font-style="italic">n</tspan> = 29)</text>
<text transform="translate(336.6 145.70) rotate(-90) scale(0.9524 1)" font-size="8.66" text-anchor="middle" fill="#333">Cell abundance (of total cells in sample)</text>
<rect x="369.60" y="338.00" width="6.79" height="12.20" fill="#f8db99"/>
<rect x="369.60" y="350.20" width="6.79" height="2.70" fill="#ef7671"/>
<rect x="369.60" y="352.90" width="6.79" height="63.60" fill="#e5297c"/>
<rect x="369.60" y="416.50" width="6.79" height="35.70" fill="#178f97"/>
<rect x="369.60" y="452.20" width="6.79" height="101.80" fill="#7ecaa1"/>
<rect x="377.34" y="338.00" width="6.79" height="5.10" fill="#f8db99"/>
<rect x="377.34" y="343.10" width="6.79" height="1.20" fill="#da3a2a"/>
<rect x="377.34" y="344.30" width="6.79" height="136.90" fill="#e5297c"/>
<rect x="377.34" y="481.20" width="6.79" height="2.10" fill="#0f4c6e"/>
<rect x="377.34" y="483.30" width="6.79" height="19.40" fill="#178f97"/>
<rect x="377.34" y="502.70" width="6.79" height="51.30" fill="#7ecaa1"/>
<rect x="385.09" y="338.00" width="6.79" height="1.50" fill="#f8db99"/>
<rect x="385.09" y="339.50" width="6.79" height="2.70" fill="#ef7671"/>
<rect x="385.09" y="342.20" width="6.79" height="39.40" fill="#e5297c"/>
<rect x="385.09" y="381.60" width="6.79" height="31.30" fill="#178f97"/>
<rect x="385.09" y="412.90" width="6.79" height="141.10" fill="#7ecaa1"/>
<rect x="392.83" y="338.00" width="6.79" height="1.20" fill="#f8db99"/>
<rect x="392.83" y="339.20" width="6.79" height="0.80" fill="#da3a2a"/>
<rect x="392.83" y="340.00" width="6.79" height="116.50" fill="#e5297c"/>
<rect x="392.83" y="456.50" width="6.79" height="0.90" fill="#0f4c6e"/>
<rect x="392.83" y="457.40" width="6.79" height="16.30" fill="#178f97"/>
<rect x="392.83" y="473.70" width="6.79" height="80.30" fill="#7ecaa1"/>
<rect x="400.57" y="338.00" width="6.79" height="5.10" fill="#ef7671"/>
<rect x="400.57" y="343.10" width="6.79" height="80.00" fill="#e5297c"/>
<rect x="400.57" y="423.10" width="6.79" height="1.50" fill="#0f4c6e"/>
<rect x="400.57" y="424.60" width="6.79" height="33.00" fill="#178f97"/>
<rect x="400.57" y="457.60" width="6.79" height="96.40" fill="#7ecaa1"/>
<rect x="408.32" y="338.00" width="6.79" height="1.50" fill="#da3a2a"/>
<rect x="408.32" y="339.50" width="6.79" height="69.80" fill="#e5297c"/>
<rect x="408.32" y="409.30" width="6.79" height="3.60" fill="#7b2a7b"/>
<rect x="408.32" y="412.90" width="6.79" height="20.30" fill="#178f97"/>
<rect x="408.32" y="433.20" width="6.79" height="120.80" fill="#7ecaa1"/>
<rect x="416.06" y="338.00" width="6.79" height="105.50" fill="#e5297c"/>
<rect x="416.06" y="443.50" width="6.79" height="1.70" fill="#7b2a7b"/>
<rect x="416.06" y="445.20" width="6.79" height="1.10" fill="#0f4c6e"/>
<rect x="416.06" y="446.30" width="6.79" height="25.60" fill="#178f97"/>
<rect x="416.06" y="471.90" width="6.79" height="82.10" fill="#7ecaa1"/>
<rect x="423.80" y="338.00" width="6.79" height="3.30" fill="#da3a2a"/>
<rect x="423.80" y="341.30" width="6.79" height="105.90" fill="#e5297c"/>
<rect x="423.80" y="447.20" width="6.79" height="2.70" fill="#0f4c6e"/>
<rect x="423.80" y="449.90" width="6.79" height="11.60" fill="#178f97"/>
<rect x="423.80" y="461.50" width="6.79" height="92.50" fill="#7ecaa1"/>
<rect x="431.54" y="338.00" width="6.79" height="6.90" fill="#ef7671"/>
<rect x="431.54" y="344.90" width="6.79" height="54.60" fill="#e5297c"/>
<rect x="431.54" y="399.50" width="6.79" height="2.70" fill="#0f4c6e"/>
<rect x="431.54" y="402.20" width="6.79" height="41.00" fill="#178f97"/>
<rect x="431.54" y="443.20" width="6.79" height="110.80" fill="#7ecaa1"/>
<rect x="439.29" y="338.00" width="6.79" height="1.50" fill="#da3a2a"/>
<rect x="439.29" y="339.50" width="6.79" height="38.50" fill="#e5297c"/>
<rect x="439.29" y="378.00" width="6.79" height="3.90" fill="#7b2a7b"/>
<rect x="439.29" y="381.90" width="6.79" height="18.50" fill="#178f97"/>
<rect x="439.29" y="400.40" width="6.79" height="153.60" fill="#7ecaa1"/>
<rect x="447.03" y="338.00" width="6.79" height="91.60" fill="#e5297c"/>
<rect x="447.03" y="429.60" width="6.79" height="1.20" fill="#0f4c6e"/>
<rect x="447.03" y="430.80" width="6.79" height="22.20" fill="#178f97"/>
<rect x="447.03" y="453.00" width="6.79" height="101.00" fill="#7ecaa1"/>
<rect x="454.77" y="338.00" width="6.79" height="1.50" fill="#ef7671"/>
<rect x="454.77" y="339.50" width="6.79" height="43.90" fill="#e5297c"/>
<rect x="454.77" y="383.40" width="6.79" height="36.70" fill="#178f97"/>
<rect x="454.77" y="420.10" width="6.79" height="133.90" fill="#7ecaa1"/>
<rect x="462.52" y="338.00" width="6.79" height="1.50" fill="#da3a2a"/>
<rect x="462.52" y="339.50" width="6.79" height="65.40" fill="#e5297c"/>
<rect x="462.52" y="404.90" width="6.79" height="1.40" fill="#0f4c6e"/>
<rect x="462.52" y="406.30" width="6.79" height="8.90" fill="#178f97"/>
<rect x="462.52" y="415.20" width="6.79" height="138.80" fill="#7ecaa1"/>
<rect x="470.26" y="338.00" width="6.79" height="44.50" fill="#e5297c"/>
<rect x="470.26" y="382.50" width="6.79" height="2.70" fill="#7b2a7b"/>
<rect x="470.26" y="385.20" width="6.79" height="18.80" fill="#178f97"/>
<rect x="470.26" y="404.00" width="6.79" height="150.00" fill="#7ecaa1"/>
<rect x="478.00" y="338.00" width="6.79" height="74.00" fill="#e5297c"/>
<rect x="478.00" y="412.00" width="6.79" height="4.50" fill="#7b2a7b"/>
<rect x="478.00" y="416.50" width="6.79" height="23.30" fill="#178f97"/>
<rect x="478.00" y="439.80" width="6.79" height="114.20" fill="#7ecaa1"/>
<rect x="485.75" y="338.00" width="6.79" height="109.50" fill="#e5297c"/>
<rect x="485.75" y="447.50" width="6.79" height="1.10" fill="#0f4c6e"/>
<rect x="485.75" y="448.60" width="6.79" height="13.80" fill="#178f97"/>
<rect x="485.75" y="462.40" width="6.79" height="91.60" fill="#7ecaa1"/>
<rect x="493.49" y="338.00" width="6.79" height="100.00" fill="#e5297c"/>
<rect x="493.49" y="438.00" width="6.79" height="0.90" fill="#0f4c6e"/>
<rect x="493.49" y="438.90" width="6.79" height="22.20" fill="#178f97"/>
<rect x="493.49" y="461.10" width="6.79" height="92.90" fill="#7ecaa1"/>
<rect x="501.23" y="338.00" width="6.79" height="6.00" fill="#ef7671"/>
<rect x="501.23" y="344.00" width="6.79" height="108.40" fill="#e5297c"/>
<rect x="501.23" y="452.40" width="6.79" height="0.80" fill="#0f4c6e"/>
<rect x="501.23" y="453.20" width="6.79" height="13.70" fill="#178f97"/>
<rect x="501.23" y="466.90" width="6.79" height="87.10" fill="#7ecaa1"/>
<rect x="508.97" y="338.00" width="6.79" height="93.70" fill="#e5297c"/>
<rect x="508.97" y="431.70" width="6.79" height="1.80" fill="#7b2a7b"/>
<rect x="508.97" y="433.50" width="6.79" height="16.30" fill="#178f97"/>
<rect x="508.97" y="449.80" width="6.79" height="104.20" fill="#7ecaa1"/>
<rect x="516.72" y="338.00" width="6.79" height="46.30" fill="#e5297c"/>
<rect x="516.72" y="384.30" width="6.79" height="4.40" fill="#7b2a7b"/>
<rect x="516.72" y="388.70" width="6.79" height="34.10" fill="#178f97"/>
<rect x="516.72" y="422.80" width="6.79" height="131.20" fill="#7ecaa1"/>
<rect x="524.46" y="338.00" width="6.79" height="1.50" fill="#ef7671"/>
<rect x="524.46" y="339.50" width="6.79" height="63.60" fill="#e5297c"/>
<rect x="524.46" y="403.10" width="6.79" height="2.70" fill="#7b2a7b"/>
<rect x="524.46" y="405.80" width="6.79" height="29.90" fill="#178f97"/>
<rect x="524.46" y="435.70" width="6.79" height="118.30" fill="#7ecaa1"/>
<rect x="532.20" y="338.00" width="6.79" height="1.50" fill="#da3a2a"/>
<rect x="532.20" y="339.50" width="6.79" height="49.20" fill="#e5297c"/>
<rect x="532.20" y="388.70" width="6.79" height="9.00" fill="#7b2a7b"/>
<rect x="532.20" y="397.70" width="6.79" height="12.20" fill="#178f97"/>
<rect x="532.20" y="409.90" width="6.79" height="144.10" fill="#7ecaa1"/>
<rect x="539.95" y="338.00" width="6.79" height="6.30" fill="#ef7671"/>
<rect x="539.95" y="344.30" width="6.79" height="86.50" fill="#e5297c"/>
<rect x="539.95" y="430.80" width="6.79" height="9.50" fill="#7b2a7b"/>
<rect x="539.95" y="440.30" width="6.79" height="8.80" fill="#178f97"/>
<rect x="539.95" y="449.10" width="6.79" height="104.90" fill="#7ecaa1"/>
<rect x="547.69" y="338.00" width="6.79" height="2.30" fill="#da3a2a"/>
<rect x="547.69" y="340.30" width="6.79" height="87.80" fill="#e5297c"/>
<rect x="547.69" y="428.10" width="6.79" height="1.80" fill="#0f4c6e"/>
<rect x="547.69" y="429.90" width="6.79" height="28.90" fill="#178f97"/>
<rect x="547.69" y="458.80" width="6.79" height="95.20" fill="#7ecaa1"/>
<rect x="555.43" y="338.00" width="6.79" height="71.30" fill="#e5297c"/>
<rect x="555.43" y="409.30" width="6.79" height="3.10" fill="#7b2a7b"/>
<rect x="555.43" y="412.40" width="6.79" height="18.40" fill="#178f97"/>
<rect x="555.43" y="430.80" width="6.79" height="123.20" fill="#7ecaa1"/>
<rect x="563.18" y="338.00" width="6.79" height="174.50" fill="#e5297c"/>
<rect x="563.18" y="512.50" width="6.79" height="0.90" fill="#0f4c6e"/>
<rect x="563.18" y="513.40" width="6.79" height="18.30" fill="#178f97"/>
<rect x="563.18" y="531.70" width="6.79" height="22.30" fill="#7ecaa1"/>
<rect x="570.92" y="338.00" width="6.79" height="1.20" fill="#da3a2a"/>
<rect x="570.92" y="339.20" width="6.79" height="65.30" fill="#e5297c"/>
<rect x="570.92" y="404.50" width="6.79" height="3.00" fill="#7b2a7b"/>
<rect x="570.92" y="407.50" width="6.79" height="26.40" fill="#178f97"/>
<rect x="570.92" y="433.90" width="6.79" height="120.10" fill="#7ecaa1"/>
<rect x="578.66" y="338.00" width="6.79" height="1.50" fill="#ef7671"/>
<rect x="578.66" y="339.50" width="6.79" height="42.10" fill="#e5297c"/>
<rect x="578.66" y="381.60" width="6.79" height="3.90" fill="#7b2a7b"/>
<rect x="578.66" y="385.50" width="6.79" height="17.60" fill="#178f97"/>
<rect x="578.66" y="403.10" width="6.79" height="150.90" fill="#7ecaa1"/>
<rect x="586.40" y="338.00" width="6.79" height="72.60" fill="#e5297c"/>
<rect x="586.40" y="410.60" width="6.79" height="3.20" fill="#7b2a7b"/>
<rect x="586.40" y="413.80" width="6.79" height="21.50" fill="#178f97"/>
<rect x="586.40" y="435.30" width="6.79" height="118.70" fill="#7ecaa1"/>
<rect x="594.15" y="338.00" width="6.79" height="1.50" fill="#ef7671"/>
<rect x="594.15" y="339.50" width="6.79" height="34.00" fill="#e5297c"/>
<rect x="594.15" y="373.50" width="6.79" height="8.40" fill="#7b2a7b"/>
<rect x="594.15" y="381.90" width="6.79" height="16.70" fill="#178f97"/>
<rect x="594.15" y="398.60" width="6.79" height="155.40" fill="#7ecaa1"/>
<rect x="601.89" y="338.00" width="6.79" height="139.10" fill="#e5297c"/>
<rect x="601.89" y="477.10" width="6.79" height="0.90" fill="#0f4c6e"/>
<rect x="601.89" y="478.00" width="6.79" height="19.00" fill="#178f97"/>
<rect x="601.89" y="497.00" width="6.79" height="57.00" fill="#7ecaa1"/>
<rect x="609.63" y="338.00" width="6.79" height="1.80" fill="#ef7671"/>
<rect x="609.63" y="339.80" width="6.79" height="62.90" fill="#e5297c"/>
<rect x="609.63" y="402.70" width="6.79" height="30.80" fill="#178f97"/>
<rect x="609.63" y="433.50" width="6.79" height="120.50" fill="#7ecaa1"/>
<rect x="617.38" y="338.00" width="6.79" height="43.20" fill="#e5297c"/>
<rect x="617.38" y="381.20" width="6.79" height="2.50" fill="#7b2a7b"/>
<rect x="617.38" y="383.70" width="6.79" height="25.10" fill="#178f97"/>
<rect x="617.38" y="408.80" width="6.79" height="145.20" fill="#7ecaa1"/>
<rect x="625.12" y="338.00" width="6.79" height="2.00" fill="#ef7671"/>
<rect x="625.12" y="340.00" width="6.79" height="1.30" fill="#da3a2a"/>
<rect x="625.12" y="341.30" width="6.79" height="71.60" fill="#e5297c"/>
<rect x="625.12" y="412.90" width="6.79" height="5.90" fill="#7b2a7b"/>
<rect x="625.12" y="418.80" width="6.79" height="17.90" fill="#178f97"/>
<rect x="625.12" y="436.70" width="6.79" height="117.30" fill="#7ecaa1"/>
<rect x="632.86" y="338.00" width="6.79" height="1.20" fill="#da3a2a"/>
<rect x="632.86" y="339.20" width="6.79" height="30.20" fill="#e5297c"/>
<rect x="632.86" y="369.40" width="6.79" height="27.90" fill="#7b2a7b"/>
<rect x="632.86" y="397.30" width="6.79" height="20.50" fill="#178f97"/>
<rect x="632.86" y="417.80" width="6.79" height="136.20" fill="#7ecaa1"/>
<rect x="640.61" y="338.00" width="6.79" height="1.20" fill="#da3a2a"/>
<rect x="640.61" y="339.20" width="6.79" height="72.50" fill="#e5297c"/>
<rect x="640.61" y="411.70" width="6.79" height="4.30" fill="#7b2a7b"/>
<rect x="640.61" y="416.00" width="6.79" height="20.70" fill="#178f97"/>
<rect x="640.61" y="436.70" width="6.79" height="117.30" fill="#7ecaa1"/>
<rect x="369.60" y="317.8" width="31.27" height="8.40" fill="#31728f"/>
<rect x="400.57" y="317.8" width="8.04" height="8.40" fill="#e45c4b"/>
<rect x="408.32" y="317.8" width="15.79" height="8.40" fill="#f5a3a6"/>
<rect x="423.80" y="317.8" width="8.04" height="8.40" fill="#31728f"/>
<rect x="431.54" y="317.8" width="8.04" height="8.40" fill="#f5a3a6"/>
<rect x="439.29" y="317.8" width="15.79" height="8.40" fill="#e45c4b"/>
<rect x="454.77" y="317.8" width="8.04" height="8.40" fill="#f5a3a6"/>
<rect x="462.52" y="317.8" width="23.53" height="8.40" fill="#31728f"/>
<rect x="485.75" y="317.8" width="15.79" height="8.40" fill="#f5a3a6"/>
<rect x="501.23" y="317.8" width="8.04" height="8.40" fill="#fcf0ea"/>
<rect x="508.97" y="317.8" width="8.04" height="8.40" fill="#31728f"/>
<rect x="516.72" y="317.8" width="8.04" height="8.40" fill="#e45c4b"/>
<rect x="524.46" y="317.8" width="8.04" height="8.40" fill="#f5a3a6"/>
<rect x="532.20" y="317.8" width="8.04" height="8.40" fill="#31728f"/>
<rect x="539.95" y="317.8" width="8.04" height="8.40" fill="#e45c4b"/>
<rect x="547.69" y="317.8" width="8.04" height="8.40" fill="#fcf0ea"/>
<rect x="555.43" y="317.8" width="8.04" height="8.40" fill="#e45c4b"/>
<rect x="563.18" y="317.8" width="8.04" height="8.40" fill="#31728f"/>
<rect x="570.92" y="317.8" width="8.04" height="8.40" fill="#f5a3a6"/>
<rect x="578.66" y="317.8" width="8.04" height="8.40" fill="#fcf0ea"/>
<rect x="586.40" y="317.8" width="15.79" height="8.40" fill="#31728f"/>
<rect x="601.89" y="317.8" width="15.79" height="8.40" fill="#e45c4b"/>
<rect x="617.38" y="317.8" width="8.04" height="8.40" fill="#fcf0ea"/>
<rect x="625.12" y="317.8" width="8.04" height="8.40" fill="#e45c4b"/>
<rect x="632.86" y="317.8" width="14.54" height="8.40" fill="#31728f"/>
<rect x="369.60" y="325.9" width="39.02" height="8.10" fill="#2f5441"/>
<rect x="408.32" y="325.9" width="8.04" height="8.10" fill="#65936e"/>
<rect x="416.06" y="325.9" width="23.53" height="8.10" fill="#2f5441"/>
<rect x="439.29" y="325.9" width="8.04" height="8.10" fill="#b6c7ad"/>
<rect x="447.03" y="325.9" width="8.04" height="8.10" fill="#65936e"/>
<rect x="454.77" y="325.9" width="8.04" height="8.10" fill="#2f5441"/>
<rect x="462.52" y="325.9" width="31.27" height="8.10" fill="#b6c7ad"/>
<rect x="493.49" y="325.9" width="8.04" height="8.10" fill="#2f5441"/>
<rect x="501.23" y="325.9" width="15.79" height="8.10" fill="#b6c7ad"/>
<rect x="516.72" y="325.9" width="8.04" height="8.10" fill="#65936e"/>
<rect x="524.46" y="325.9" width="8.04" height="8.10" fill="#b6c7ad"/>
<rect x="532.20" y="325.9" width="8.04" height="8.10" fill="#65936e"/>
<rect x="539.95" y="325.9" width="23.53" height="8.10" fill="#b6c7ad"/>
<rect x="563.18" y="325.9" width="8.04" height="8.10" fill="#2f5441"/>
<rect x="570.92" y="325.9" width="31.27" height="8.10" fill="#b6c7ad"/>
<rect x="601.89" y="325.9" width="15.79" height="8.10" fill="#2f5441"/>
<rect x="617.38" y="325.9" width="30.02" height="8.10" fill="#b6c7ad"/>
<text transform="translate(650.30 324.00) scale(0.9524 1)" font-size="8.66">Subtype</text>
<text transform="translate(650.30 333.90) scale(0.9524 1)" font-size="8.66">LN status</text>
<path d="M367.6,332.6 V560.3 H648.90" fill="none" stroke="#222" stroke-width="1.1"/>
<text transform="translate(361.90 556.90) scale(0.9524 1)" font-size="8.66" text-anchor="end" fill="#333">0.00</text>
<text transform="translate(361.90 502.90) scale(0.9524 1)" font-size="8.66" text-anchor="end" fill="#333">0.25</text>
<text transform="translate(361.90 448.90) scale(0.9524 1)" font-size="8.66" text-anchor="end" fill="#333">0.50</text>
<text transform="translate(361.90 394.90) scale(0.9524 1)" font-size="8.66" text-anchor="end" fill="#333">0.75</text>
<text transform="translate(361.90 340.90) scale(0.9524 1)" font-size="8.66" text-anchor="end" fill="#333">1.00</text>
<text transform="translate(370.10 566.50) rotate(90) scale(0.9524 1)" font-size="8.29" fill="#333">BC30</text>
<text transform="translate(377.84 566.50) rotate(90) scale(0.9524 1)" font-size="8.29" fill="#333">BC01</text>
<text transform="translate(385.58 566.50) rotate(90) scale(0.9524 1)" font-size="8.29" fill="#333">BC31</text>
<text transform="translate(393.33 566.50) rotate(90) scale(0.9524 1)" font-size="8.29" fill="#333">BC36</text>
<text transform="translate(401.07 566.50) rotate(90) scale(0.9524 1)" font-size="8.29" fill="#333">BC18</text>
<text transform="translate(408.81 566.50) rotate(90) scale(0.9524 1)" font-size="8.29" fill="#333">BC28</text>
<text transform="translate(416.55 566.50) rotate(90) scale(0.9524 1)" font-size="8.29" fill="#333">BC02</text>
<text transform="translate(424.30 566.50) rotate(90) scale(0.9524 1)" font-size="8.29" fill="#333">BC37</text>
<text transform="translate(432.04 566.50) rotate(90) scale(0.9524 1)" font-size="8.29" fill="#333">BC19</text>
<text transform="translate(439.78 566.50) rotate(90) scale(0.9524 1)" font-size="8.29" fill="#333">BC33</text>
<text transform="translate(447.53 566.50) rotate(90) scale(0.9524 1)" font-size="8.29" fill="#333">BC10</text>
<text transform="translate(455.27 566.50) rotate(90) scale(0.9524 1)" font-size="8.29" fill="#333">BC09</text>
<text transform="translate(463.01 566.50) rotate(90) scale(0.9524 1)" font-size="8.29" fill="#333">BC13</text>
<text transform="translate(470.76 566.50) rotate(90) scale(0.9524 1)" font-size="8.29" fill="#333">BC34</text>
<text transform="translate(478.50 566.50) rotate(90) scale(0.9524 1)" font-size="8.29" fill="#333">BC14</text>
<text transform="translate(486.24 566.50) rotate(90) scale(0.9524 1)" font-size="8.29" fill="#333">BC04</text>
<text transform="translate(493.98 566.50) rotate(90) scale(0.9524 1)" font-size="8.29" fill="#333">BC12</text>
<text transform="translate(501.73 566.50) rotate(90) scale(0.9524 1)" font-size="8.29" fill="#333">BC17</text>
<text transform="translate(509.47 566.50) rotate(90) scale(0.9524 1)" font-size="8.29" fill="#333">BC03</text>
<text transform="translate(517.21 566.50) rotate(90) scale(0.9524 1)" font-size="8.29" fill="#333">BC20</text>
<text transform="translate(524.96 566.50) rotate(90) scale(0.9524 1)" font-size="8.29" fill="#333">BC15</text>
<text transform="translate(532.70 566.50) rotate(90) scale(0.9524 1)" font-size="8.29" fill="#333">BC26</text>
<text transform="translate(540.44 566.50) rotate(90) scale(0.9524 1)" font-size="8.29" fill="#333">BC22</text>
<text transform="translate(548.19 566.50) rotate(90) scale(0.9524 1)" font-size="8.29" fill="#333">BC29</text>
<text transform="translate(555.93 566.50) rotate(90) scale(0.9524 1)" font-size="8.29" fill="#333">BC16</text>
<text transform="translate(563.67 566.50) rotate(90) scale(0.9524 1)" font-size="8.29" fill="#333">BC05</text>
<text transform="translate(571.41 566.50) rotate(90) scale(0.9524 1)" font-size="8.29" fill="#333">BC35</text>
<text transform="translate(579.16 566.50) rotate(90) scale(0.9524 1)" font-size="8.29" fill="#333">BC24</text>
<text transform="translate(586.90 566.50) rotate(90) scale(0.9524 1)" font-size="8.29" fill="#333">BC08</text>
<text transform="translate(594.64 566.50) rotate(90) scale(0.9524 1)" font-size="8.29" fill="#333">BC27</text>
<text transform="translate(602.39 566.50) rotate(90) scale(0.9524 1)" font-size="8.29" fill="#333">BC06</text>
<text transform="translate(610.13 566.50) rotate(90) scale(0.9524 1)" font-size="8.29" fill="#333">BC07</text>
<text transform="translate(617.87 566.50) rotate(90) scale(0.9524 1)" font-size="8.29" fill="#333">BC11</text>
<text transform="translate(625.62 566.50) rotate(90) scale(0.9524 1)" font-size="8.29" fill="#333">BC21</text>
<text transform="translate(633.36 566.50) rotate(90) scale(0.9524 1)" font-size="8.29" fill="#333">BC23</text>
<text transform="translate(641.10 566.50) rotate(90) scale(0.9524 1)" font-size="8.29" fill="#333">BC38</text>
<path d="M365.40000000000003,554.00H367.6M365.40000000000003,500.00H367.6M365.40000000000003,446.00H367.6M365.40000000000003,392.00H367.6M365.40000000000003,338.00H367.6M373.00,560.3v2.4M380.74,560.3v2.4M388.48,560.3v2.4M396.23,560.3v2.4M403.97,560.3v2.4M411.71,560.3v2.4M419.45,560.3v2.4M427.20,560.3v2.4M434.94,560.3v2.4M442.68,560.3v2.4M450.43,560.3v2.4M458.17,560.3v2.4M465.91,560.3v2.4M473.66,560.3v2.4M481.40,560.3v2.4M489.14,560.3v2.4M496.88,560.3v2.4M504.63,560.3v2.4M512.37,560.3v2.4M520.11,560.3v2.4M527.86,560.3v2.4M535.60,560.3v2.4M543.34,560.3v2.4M551.09,560.3v2.4M558.83,560.3v2.4M566.57,560.3v2.4M574.31,560.3v2.4M582.06,560.3v2.4M589.80,560.3v2.4M597.54,560.3v2.4M605.29,560.3v2.4M613.03,560.3v2.4M620.77,560.3v2.4M628.52,560.3v2.4M636.26,560.3v2.4M644.00,560.3v2.4" stroke="#222" stroke-width="0.9" fill="none"/>
<text transform="translate(499.40 311.80) scale(0.9524 1)" font-size="8.66" text-anchor="middle">Lymph nodes (<tspan font-style="italic">n</tspan> = 36)</text>
<text transform="translate(337.4 447.40) rotate(-90) scale(0.9524 1)" font-size="8.66" text-anchor="middle" fill="#333">Cell abundance (of total cells in sample)</text>
<rect x="344.6" y="603.80" width="14.8" height="15.0" fill="#f8db99" stroke="#6e6e6e" stroke-width="0.9"/>
<text transform="translate(363.60 614.80) scale(0.9524 1)" font-size="8.66">Tumor cells</text>
<rect x="344.6" y="620.35" width="14.8" height="15.0" fill="#ef7671" stroke="#6e6e6e" stroke-width="0.9"/>
<text transform="translate(363.60 631.35) scale(0.9524 1)" font-size="8.66">Myeloid</text>
<rect x="344.6" y="636.90" width="14.8" height="15.0" fill="#da3a2a" stroke="#6e6e6e" stroke-width="0.9"/>
<text transform="translate(363.60 647.90) scale(0.9524 1)" font-size="8.66">NK cells</text>
<rect x="344.6" y="653.45" width="14.8" height="15.0" fill="#e5297c" stroke="#6e6e6e" stroke-width="0.9"/>
<text transform="translate(363.60 664.45) scale(0.9524 1)" font-size="8.66">B cells</text>
<rect x="422.9" y="603.30" width="14.8" height="15.0" fill="#7b2a7b" stroke="#6e6e6e" stroke-width="0.9"/>
<text transform="translate(442.50 614.30) scale(0.9524 1)" font-size="8.66">Tcells</text>
<rect x="422.9" y="619.85" width="14.8" height="15.0" fill="#0f4c6e" stroke="#6e6e6e" stroke-width="0.9"/>
<text transform="translate(442.50 630.85) scale(0.9524 1)" font-size="8.66">TCRgd T cells</text>
<rect x="422.9" y="636.40" width="14.8" height="15.0" fill="#178f97" stroke="#6e6e6e" stroke-width="0.9"/>
<text transform="translate(442.50 647.40) scale(0.9524 1)" font-size="8.66">CD8 T cells</text>
<rect x="422.9" y="652.95" width="14.8" height="15.0" fill="#7ecaa1" stroke="#6e6e6e" stroke-width="0.9"/>
<text transform="translate(442.50 663.95) scale(0.9524 1)" font-size="8.66">CD4 T cells</text>
<text transform="translate(522.80 610.10) scale(0.9524 1)" font-size="8.66">Subtype</text>
<rect x="523.2" y="615.80" width="18.2" height="9.25" fill="#fcf0ea" stroke="#777" stroke-width="0.8"/>
<text transform="translate(545.80 623.40) scale(0.9524 1)" font-size="8.66">DCIS</text>
<rect x="523.2" y="625.05" width="18.2" height="9.25" fill="#31728f" stroke="#777" stroke-width="0.8"/>
<text transform="translate(545.80 632.65) scale(0.9524 1)" font-size="8.66">ER<tspan font-size="5.25" dy="-3">+</tspan></text>
<rect x="523.2" y="634.30" width="18.2" height="9.25" fill="#f5a3a6" stroke="#777" stroke-width="0.8"/>
<text transform="translate(545.80 641.90) scale(0.9524 1)" font-size="8.66">HER2+</text>
<rect x="523.2" y="643.55" width="18.2" height="9.25" fill="#e45c4b" stroke="#777" stroke-width="0.8"/>
<text transform="translate(545.80 651.15) scale(0.9524 1)" font-size="8.66">TN</text>
<text transform="translate(583.60 610.10) scale(0.9524 1)" font-size="8.66">Lymph node status</text>
<rect x="583.9" y="615.80" width="17.4" height="9.25" fill="#b6c7ad" stroke="#555" stroke-width="0.8"/>
<text transform="translate(605.80 623.40) scale(0.9524 1)" font-size="8.66">SN–</text>
<rect x="583.9" y="625.05" width="17.4" height="9.25" fill="#65936e" stroke="#555" stroke-width="0.8"/>
<text transform="translate(605.80 632.65) scale(0.9524 1)" font-size="8.66">SN+</text>
<rect x="583.9" y="634.30" width="17.4" height="9.25" fill="#2f5441" stroke="#555" stroke-width="0.8"/>
<text transform="translate(605.80 641.90) scale(0.9524 1)" font-size="8.66">ALN+</text>
</svg>
</body></html>
